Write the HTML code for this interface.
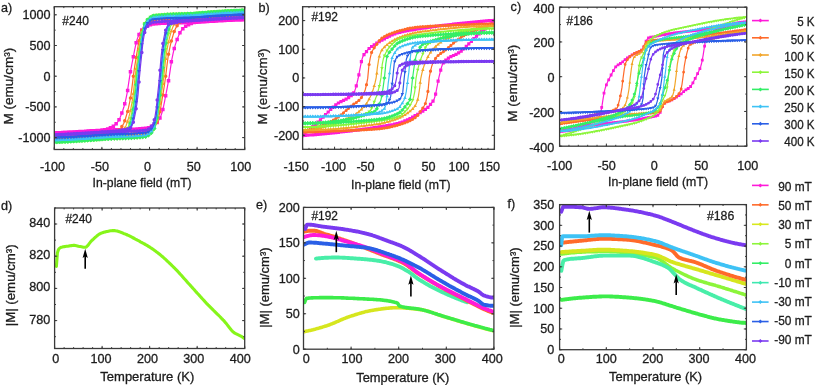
<!DOCTYPE html>
<html><head><meta charset="utf-8"><style>
html,body{margin:0;padding:0;background:#fff;width:817px;height:386px;overflow:hidden}
svg{display:block;filter:blur(0.3px)}
text{font-family:"Liberation Sans", sans-serif;stroke:#1c1c1c;stroke-width:0.3px}
</style></head><body>
<svg width="817" height="386" viewBox="0 0 817 386">
<clipPath id="ca"><rect x="54.3" y="6.7" width="190.39999999999998" height="142.8"/></clipPath>
<g clip-path="url(#ca)">
<path d="M244.7 19.5 243.5 19.6 242.3 19.6 241.1 19.6 240.0 19.7 238.8 19.7 237.6 19.8 236.4 19.8 235.2 19.9 234.0 20.0 232.8 20.0 231.7 20.1 230.5 20.1 229.3 20.2 228.1 20.3 226.9 20.3 225.7 20.4 224.5 20.5 223.4 20.5 222.2 20.6 221.0 20.7 219.8 20.8 218.6 20.8 217.4 20.9 216.2 21.0 215.1 21.0 213.9 21.1 212.7 21.2 211.5 21.3 210.3 21.3 209.1 21.4 207.9 21.5 206.8 21.5 205.6 21.6 204.4 21.7 203.2 21.8 202.0 21.8 200.8 21.9 199.7 21.9 198.5 22.0 197.3 22.1 196.1 22.1 194.9 22.2 193.7 22.2 192.5 22.3 191.4 22.3 190.2 22.4 189.0 22.4 187.8 22.4 186.6 22.5 185.4 22.5 184.2 22.5 183.1 22.6 181.9 22.6 180.7 22.6 179.5 22.7 178.3 22.7 177.1 22.7 175.9 22.8 174.8 22.8 173.6 22.9 172.4 22.9 171.2 22.9 170.0 23.0 168.8 23.0 167.6 23.1 166.5 23.1 165.3 23.2 164.1 23.3 162.9 23.3 161.7 23.4 160.5 23.5 159.3 23.6 158.2 23.7 157.0 23.7 155.8 23.8 154.6 24.0 153.4 24.1 152.2 24.3 151.0 24.6 149.9 25.0 148.7 25.5 147.5 26.1 146.3 26.7 145.1 27.3 143.9 28.1 142.7 29.1 141.6 30.3 140.4 31.9 139.2 34.1 138.0 36.9 136.8 40.4 135.6 45.3 134.4 51.1 133.3 57.0 132.1 63.0 130.9 69.4 129.7 76.2 128.5 84.2 127.3 92.2 126.1 98.1 125.0 103.0 123.8 107.3 122.6 111.0 121.4 114.3 120.2 117.2 119.0 119.7 117.9 121.6 116.7 123.1 115.5 124.5 114.3 125.5 113.1 126.3 111.9 127.0 110.7 127.6 109.6 128.1 108.4 128.6 107.2 129.1 106.0 129.5 104.8 129.8 103.6 130.1 102.4 130.3 101.3 130.4 100.1 130.5 98.9 130.6 97.7 130.8 96.5 130.9 95.3 131.0 94.1 131.1 93.0 131.2 91.8 131.3 90.6 131.3 89.4 131.4 88.2 131.5 87.0 131.6 85.8 131.7 84.7 131.7 83.5 131.8 82.3 131.9 81.1 131.9 79.9 132.0 78.7 132.0 77.5 132.1 76.4 132.2 75.2 132.2 74.0 132.3 72.8 132.3 71.6 132.3 70.4 132.4 69.2 132.4 68.1 132.5 66.9 132.5 65.7 132.5 64.5 132.6 63.3 132.6 62.1 132.6 60.9 132.7 59.8 132.7 58.6 132.7 57.4 132.8 56.2 132.8" stroke="#ff1ad9" stroke-width="1.2" fill="none"/>
<path d="M242.9 17.8h3.5v3.5h-3.5zM240.1 17.9h3.5v3.5h-3.5zM237.2 18.0h3.5v3.5h-3.5zM234.4 18.1h3.5v3.5h-3.5zM231.5 18.2h3.5v3.5h-3.5zM228.7 18.4h3.5v3.5h-3.5zM225.8 18.5h3.5v3.5h-3.5zM223.0 18.7h3.5v3.5h-3.5zM220.1 18.9h3.5v3.5h-3.5zM217.2 19.1h3.5v3.5h-3.5zM214.4 19.2h3.5v3.5h-3.5zM211.5 19.4h3.5v3.5h-3.5zM208.7 19.6h3.5v3.5h-3.5zM205.8 19.8h3.5v3.5h-3.5zM203.0 19.9h3.5v3.5h-3.5zM200.1 20.1h3.5v3.5h-3.5zM197.3 20.2h3.5v3.5h-3.5zM194.4 20.4h3.5v3.5h-3.5zM191.5 20.5h3.5v3.5h-3.5zM188.7 20.6h3.5v3.5h-3.5zM185.8 20.7h3.5v3.5h-3.5zM183.0 20.8h3.5v3.5h-3.5zM180.1 20.9h3.5v3.5h-3.5zM177.3 20.9h3.5v3.5h-3.5zM174.4 21.0h3.5v3.5h-3.5zM171.5 21.1h3.5v3.5h-3.5zM168.7 21.2h3.5v3.5h-3.5zM165.8 21.3h3.5v3.5h-3.5zM163.0 21.5h3.5v3.5h-3.5zM160.1 21.6h3.5v3.5h-3.5zM157.3 21.8h3.5v3.5h-3.5zM154.4 22.1h3.5v3.5h-3.5zM151.6 22.3h3.5v3.5h-3.5zM148.7 23.0h3.5v3.5h-3.5zM145.8 24.3h3.5v3.5h-3.5zM143.0 25.8h3.5v3.5h-3.5zM140.1 28.2h3.5v3.5h-3.5zM137.3 32.7h3.5v3.5h-3.5zM134.4 41.1h3.5v3.5h-3.5zM131.6 55.0h3.5v3.5h-3.5zM128.7 70.0h3.5v3.5h-3.5zM125.9 88.8h3.5v3.5h-3.5zM123.0 102.1h3.5v3.5h-3.5zM120.1 111.2h3.5v3.5h-3.5zM117.3 118.0h3.5v3.5h-3.5zM114.4 122.0h3.5v3.5h-3.5zM111.6 124.4h3.5v3.5h-3.5zM108.7 126.0h3.5v3.5h-3.5zM105.9 127.2h3.5v3.5h-3.5zM103.0 128.1h3.5v3.5h-3.5zM100.1 128.6h3.5v3.5h-3.5zM97.3 128.9h3.5v3.5h-3.5zM94.4 129.1h3.5v3.5h-3.5zM91.6 129.4h3.5v3.5h-3.5zM88.7 129.6h3.5v3.5h-3.5zM85.9 129.8h3.5v3.5h-3.5zM83.0 130.0h3.5v3.5h-3.5zM80.2 130.1h3.5v3.5h-3.5zM77.3 130.3h3.5v3.5h-3.5zM74.4 130.4h3.5v3.5h-3.5zM71.6 130.5h3.5v3.5h-3.5zM68.7 130.6h3.5v3.5h-3.5zM65.9 130.7h3.5v3.5h-3.5zM63.0 130.8h3.5v3.5h-3.5zM60.2 130.9h3.5v3.5h-3.5zM57.3 131.0h3.5v3.5h-3.5zM54.5 131.1h3.5v3.5h-3.5z" fill="#ff1ad9"/>
<path d="M54.3 132.9 55.5 132.8 56.7 132.8 57.9 132.8 59.0 132.7 60.2 132.7 61.4 132.6 62.6 132.6 63.8 132.5 65.0 132.4 66.2 132.4 67.3 132.3 68.5 132.3 69.7 132.2 70.9 132.1 72.1 132.1 73.3 132.0 74.5 131.9 75.6 131.9 76.8 131.8 78.0 131.7 79.2 131.6 80.4 131.6 81.6 131.5 82.8 131.4 83.9 131.4 85.1 131.3 86.3 131.2 87.5 131.1 88.7 131.1 89.9 131.0 91.1 130.9 92.2 130.9 93.4 130.8 94.6 130.7 95.8 130.6 97.0 130.6 98.2 130.5 99.3 130.5 100.5 130.4 101.7 130.3 102.9 130.3 104.1 130.2 105.3 130.2 106.5 130.1 107.6 130.1 108.8 130.0 110.0 130.0 111.2 130.0 112.4 129.9 113.6 129.9 114.8 129.9 115.9 129.8 117.1 129.8 118.3 129.8 119.5 129.7 120.7 129.7 121.9 129.7 123.1 129.6 124.2 129.6 125.4 129.5 126.6 129.5 127.8 129.5 129.0 129.4 130.2 129.4 131.4 129.3 132.5 129.3 133.7 129.2 134.9 129.1 136.1 129.1 137.3 129.0 138.5 128.9 139.7 128.8 140.8 128.7 142.0 128.7 143.2 128.6 144.4 128.4 145.6 128.3 146.8 128.1 148.0 127.8 149.1 127.4 150.3 126.9 151.5 126.3 152.7 125.7 153.9 125.1 155.1 124.3 156.3 123.3 157.4 122.1 158.6 120.5 159.8 118.3 161.0 115.5 162.2 112.0 163.4 107.1 164.6 101.3 165.7 95.4 166.9 89.4 168.1 83.0 169.3 76.2 170.5 68.2 171.7 60.2 172.9 54.3 174.0 49.4 175.2 45.1 176.4 41.4 177.6 38.1 178.8 35.2 180.0 32.7 181.1 30.8 182.3 29.3 183.5 27.9 184.7 26.9 185.9 26.1 187.1 25.4 188.3 24.8 189.4 24.3 190.6 23.8 191.8 23.3 193.0 22.9 194.2 22.6 195.4 22.3 196.6 22.1 197.7 22.0 198.9 21.9 200.1 21.8 201.3 21.6 202.5 21.5 203.7 21.4 204.9 21.3 206.0 21.2 207.2 21.1 208.4 21.1 209.6 21.0 210.8 20.9 212.0 20.8 213.2 20.7 214.3 20.7 215.5 20.6 216.7 20.5 217.9 20.5 219.1 20.4 220.3 20.4 221.5 20.3 222.6 20.2 223.8 20.2 225.0 20.1 226.2 20.1 227.4 20.1 228.6 20.0 229.8 20.0 230.9 19.9 232.1 19.9 233.3 19.9 234.5 19.8 235.7 19.8 236.9 19.8 238.1 19.7 239.2 19.7 240.4 19.7 241.6 19.6 242.8 19.6" stroke="#ff1ad9" stroke-width="1.2" fill="none"/>
<path d="M52.5 131.1h3.5v3.5h-3.5zM55.4 131.0h3.5v3.5h-3.5zM58.3 130.9h3.5v3.5h-3.5zM61.1 130.8h3.5v3.5h-3.5zM64.0 130.7h3.5v3.5h-3.5zM66.8 130.5h3.5v3.5h-3.5zM69.7 130.4h3.5v3.5h-3.5zM72.5 130.2h3.5v3.5h-3.5zM75.4 130.0h3.5v3.5h-3.5zM78.3 129.8h3.5v3.5h-3.5zM81.1 129.7h3.5v3.5h-3.5zM84.0 129.5h3.5v3.5h-3.5zM86.8 129.3h3.5v3.5h-3.5zM89.7 129.1h3.5v3.5h-3.5zM92.5 129.0h3.5v3.5h-3.5zM95.4 128.8h3.5v3.5h-3.5zM98.2 128.7h3.5v3.5h-3.5zM101.1 128.5h3.5v3.5h-3.5zM104.0 128.4h3.5v3.5h-3.5zM106.8 128.3h3.5v3.5h-3.5zM109.7 128.2h3.5v3.5h-3.5zM112.5 128.1h3.5v3.5h-3.5zM115.4 128.0h3.5v3.5h-3.5zM118.2 128.0h3.5v3.5h-3.5zM121.1 127.9h3.5v3.5h-3.5zM123.9 127.8h3.5v3.5h-3.5zM126.8 127.7h3.5v3.5h-3.5zM129.7 127.6h3.5v3.5h-3.5zM132.5 127.4h3.5v3.5h-3.5zM135.4 127.3h3.5v3.5h-3.5zM138.2 127.1h3.5v3.5h-3.5zM141.1 126.8h3.5v3.5h-3.5zM143.9 126.6h3.5v3.5h-3.5zM146.8 125.9h3.5v3.5h-3.5zM149.7 124.6h3.5v3.5h-3.5zM152.5 123.1h3.5v3.5h-3.5zM155.4 120.7h3.5v3.5h-3.5zM158.2 116.2h3.5v3.5h-3.5zM161.1 107.8h3.5v3.5h-3.5zM163.9 93.9h3.5v3.5h-3.5zM166.8 78.9h3.5v3.5h-3.5zM169.6 60.1h3.5v3.5h-3.5zM172.5 46.8h3.5v3.5h-3.5zM175.4 37.7h3.5v3.5h-3.5zM178.2 30.9h3.5v3.5h-3.5zM181.1 26.9h3.5v3.5h-3.5zM183.9 24.5h3.5v3.5h-3.5zM186.8 22.9h3.5v3.5h-3.5zM189.6 21.7h3.5v3.5h-3.5zM192.5 20.8h3.5v3.5h-3.5zM195.3 20.3h3.5v3.5h-3.5zM198.2 20.0h3.5v3.5h-3.5zM201.1 19.8h3.5v3.5h-3.5zM203.9 19.5h3.5v3.5h-3.5zM206.8 19.3h3.5v3.5h-3.5zM209.6 19.1h3.5v3.5h-3.5zM212.5 18.9h3.5v3.5h-3.5zM215.3 18.8h3.5v3.5h-3.5zM218.2 18.6h3.5v3.5h-3.5zM221.1 18.5h3.5v3.5h-3.5zM223.9 18.4h3.5v3.5h-3.5zM226.8 18.3h3.5v3.5h-3.5zM229.6 18.2h3.5v3.5h-3.5zM232.5 18.1h3.5v3.5h-3.5zM235.3 18.0h3.5v3.5h-3.5zM238.2 17.9h3.5v3.5h-3.5zM241.0 17.8h3.5v3.5h-3.5z" fill="#ff1ad9"/>
<path d="M244.7 14.8 243.5 14.8 242.3 14.9 241.1 14.9 240.0 15.0 238.8 15.0 237.6 15.1 236.4 15.1 235.2 15.2 234.0 15.3 232.8 15.3 231.7 15.4 230.5 15.5 229.3 15.5 228.1 15.6 226.9 15.7 225.7 15.7 224.5 15.8 223.4 15.9 222.2 16.0 221.0 16.0 219.8 16.1 218.6 16.2 217.4 16.3 216.2 16.4 215.1 16.4 213.9 16.5 212.7 16.6 211.5 16.7 210.3 16.8 209.1 16.8 207.9 16.9 206.8 17.0 205.6 17.1 204.4 17.1 203.2 17.2 202.0 17.3 200.8 17.4 199.7 17.4 198.5 17.5 197.3 17.6 196.1 17.6 194.9 17.7 193.7 17.7 192.5 17.8 191.4 17.8 190.2 17.9 189.0 17.9 187.8 18.0 186.6 18.0 185.4 18.0 184.2 18.1 183.1 18.1 181.9 18.1 180.7 18.2 179.5 18.2 178.3 18.2 177.1 18.3 175.9 18.3 174.8 18.4 173.6 18.4 172.4 18.5 171.2 18.5 170.0 18.6 168.8 18.6 167.6 18.7 166.5 18.7 165.3 18.8 164.1 18.9 162.9 19.0 161.7 19.1 160.5 19.2 159.3 19.3 158.2 19.4 157.0 19.5 155.8 19.6 154.6 19.7 153.4 20.0 152.2 20.4 151.0 20.9 149.9 21.6 148.7 22.3 147.5 23.0 146.3 24.0 145.1 25.1 143.9 26.6 142.7 28.6 141.6 31.4 140.4 35.0 139.2 39.9 138.0 46.5 136.8 53.7 135.6 60.8 134.4 68.4 133.3 76.6 132.1 86.4 130.9 95.6 129.7 102.1 128.5 107.7 127.3 112.4 126.1 116.5 125.0 120.2 123.8 123.2 122.6 125.5 121.4 127.4 120.2 129.0 119.0 130.1 117.9 130.7 116.7 131.2 115.5 131.7 114.3 132.2 113.1 132.6 111.9 133.0 110.7 133.3 109.6 133.6 108.4 133.9 107.2 134.1 106.0 134.3 104.8 134.5 103.6 134.6 102.4 134.8 101.3 134.9 100.1 135.0 98.9 135.1 97.7 135.3 96.5 135.4 95.3 135.5 94.1 135.6 93.0 135.7 91.8 135.8 90.6 135.9 89.4 136.0 88.2 136.0 87.0 136.1 85.8 136.2 84.7 136.3 83.5 136.4 82.3 136.4 81.1 136.5 79.9 136.6 78.7 136.6 77.5 136.7 76.4 136.8 75.2 136.8 74.0 136.9 72.8 136.9 71.6 137.0 70.4 137.0 69.2 137.1 68.1 137.1 66.9 137.2 65.7 137.2 64.5 137.3 63.3 137.3 62.1 137.3 60.9 137.4 59.8 137.4 58.6 137.5 57.4 137.5 56.2 137.5" stroke="#ff6a2a" stroke-width="1.2" fill="none"/>
<path d="M242.9 14.8a1.75 1.75 0 1 0 3.5 0a1.75 1.75 0 1 0 -3.5 0zM240.1 14.9a1.75 1.75 0 1 0 3.5 0a1.75 1.75 0 1 0 -3.5 0zM237.2 15.0a1.75 1.75 0 1 0 3.5 0a1.75 1.75 0 1 0 -3.5 0zM234.4 15.2a1.75 1.75 0 1 0 3.5 0a1.75 1.75 0 1 0 -3.5 0zM231.5 15.3a1.75 1.75 0 1 0 3.5 0a1.75 1.75 0 1 0 -3.5 0zM228.7 15.5a1.75 1.75 0 1 0 3.5 0a1.75 1.75 0 1 0 -3.5 0zM225.8 15.6a1.75 1.75 0 1 0 3.5 0a1.75 1.75 0 1 0 -3.5 0zM223.0 15.8a1.75 1.75 0 1 0 3.5 0a1.75 1.75 0 1 0 -3.5 0zM220.1 16.0a1.75 1.75 0 1 0 3.5 0a1.75 1.75 0 1 0 -3.5 0zM217.2 16.2a1.75 1.75 0 1 0 3.5 0a1.75 1.75 0 1 0 -3.5 0zM214.4 16.4a1.75 1.75 0 1 0 3.5 0a1.75 1.75 0 1 0 -3.5 0zM211.5 16.6a1.75 1.75 0 1 0 3.5 0a1.75 1.75 0 1 0 -3.5 0zM208.7 16.7a1.75 1.75 0 1 0 3.5 0a1.75 1.75 0 1 0 -3.5 0zM205.8 16.9a1.75 1.75 0 1 0 3.5 0a1.75 1.75 0 1 0 -3.5 0zM203.0 17.1a1.75 1.75 0 1 0 3.5 0a1.75 1.75 0 1 0 -3.5 0zM200.1 17.3a1.75 1.75 0 1 0 3.5 0a1.75 1.75 0 1 0 -3.5 0zM197.3 17.5a1.75 1.75 0 1 0 3.5 0a1.75 1.75 0 1 0 -3.5 0zM194.4 17.6a1.75 1.75 0 1 0 3.5 0a1.75 1.75 0 1 0 -3.5 0zM191.5 17.7a1.75 1.75 0 1 0 3.5 0a1.75 1.75 0 1 0 -3.5 0zM188.7 17.9a1.75 1.75 0 1 0 3.5 0a1.75 1.75 0 1 0 -3.5 0zM185.8 18.0a1.75 1.75 0 1 0 3.5 0a1.75 1.75 0 1 0 -3.5 0zM183.0 18.1a1.75 1.75 0 1 0 3.5 0a1.75 1.75 0 1 0 -3.5 0zM180.1 18.1a1.75 1.75 0 1 0 3.5 0a1.75 1.75 0 1 0 -3.5 0zM177.3 18.2a1.75 1.75 0 1 0 3.5 0a1.75 1.75 0 1 0 -3.5 0zM174.4 18.3a1.75 1.75 0 1 0 3.5 0a1.75 1.75 0 1 0 -3.5 0zM171.5 18.4a1.75 1.75 0 1 0 3.5 0a1.75 1.75 0 1 0 -3.5 0zM168.7 18.5a1.75 1.75 0 1 0 3.5 0a1.75 1.75 0 1 0 -3.5 0zM165.8 18.7a1.75 1.75 0 1 0 3.5 0a1.75 1.75 0 1 0 -3.5 0zM163.0 18.8a1.75 1.75 0 1 0 3.5 0a1.75 1.75 0 1 0 -3.5 0zM160.1 19.0a1.75 1.75 0 1 0 3.5 0a1.75 1.75 0 1 0 -3.5 0zM157.3 19.3a1.75 1.75 0 1 0 3.5 0a1.75 1.75 0 1 0 -3.5 0zM154.4 19.6a1.75 1.75 0 1 0 3.5 0a1.75 1.75 0 1 0 -3.5 0zM151.6 20.0a1.75 1.75 0 1 0 3.5 0a1.75 1.75 0 1 0 -3.5 0zM148.7 21.2a1.75 1.75 0 1 0 3.5 0a1.75 1.75 0 1 0 -3.5 0zM145.8 23.0a1.75 1.75 0 1 0 3.5 0a1.75 1.75 0 1 0 -3.5 0zM143.0 25.6a1.75 1.75 0 1 0 3.5 0a1.75 1.75 0 1 0 -3.5 0zM140.1 30.5a1.75 1.75 0 1 0 3.5 0a1.75 1.75 0 1 0 -3.5 0zM137.3 40.7a1.75 1.75 0 1 0 3.5 0a1.75 1.75 0 1 0 -3.5 0zM134.4 57.5a1.75 1.75 0 1 0 3.5 0a1.75 1.75 0 1 0 -3.5 0zM131.6 76.2a1.75 1.75 0 1 0 3.5 0a1.75 1.75 0 1 0 -3.5 0zM128.7 98.1a1.75 1.75 0 1 0 3.5 0a1.75 1.75 0 1 0 -3.5 0zM125.9 111.4a1.75 1.75 0 1 0 3.5 0a1.75 1.75 0 1 0 -3.5 0zM123.0 120.8a1.75 1.75 0 1 0 3.5 0a1.75 1.75 0 1 0 -3.5 0zM120.1 126.6a1.75 1.75 0 1 0 3.5 0a1.75 1.75 0 1 0 -3.5 0zM117.3 130.1a1.75 1.75 0 1 0 3.5 0a1.75 1.75 0 1 0 -3.5 0zM114.4 131.4a1.75 1.75 0 1 0 3.5 0a1.75 1.75 0 1 0 -3.5 0zM111.6 132.5a1.75 1.75 0 1 0 3.5 0a1.75 1.75 0 1 0 -3.5 0zM108.7 133.4a1.75 1.75 0 1 0 3.5 0a1.75 1.75 0 1 0 -3.5 0zM105.9 134.0a1.75 1.75 0 1 0 3.5 0a1.75 1.75 0 1 0 -3.5 0zM103.0 134.5a1.75 1.75 0 1 0 3.5 0a1.75 1.75 0 1 0 -3.5 0zM100.1 134.8a1.75 1.75 0 1 0 3.5 0a1.75 1.75 0 1 0 -3.5 0zM97.3 135.1a1.75 1.75 0 1 0 3.5 0a1.75 1.75 0 1 0 -3.5 0zM94.4 135.4a1.75 1.75 0 1 0 3.5 0a1.75 1.75 0 1 0 -3.5 0zM91.6 135.6a1.75 1.75 0 1 0 3.5 0a1.75 1.75 0 1 0 -3.5 0zM88.7 135.9a1.75 1.75 0 1 0 3.5 0a1.75 1.75 0 1 0 -3.5 0zM85.9 136.1a1.75 1.75 0 1 0 3.5 0a1.75 1.75 0 1 0 -3.5 0zM83.0 136.3a1.75 1.75 0 1 0 3.5 0a1.75 1.75 0 1 0 -3.5 0zM80.2 136.5a1.75 1.75 0 1 0 3.5 0a1.75 1.75 0 1 0 -3.5 0zM77.3 136.6a1.75 1.75 0 1 0 3.5 0a1.75 1.75 0 1 0 -3.5 0zM74.4 136.8a1.75 1.75 0 1 0 3.5 0a1.75 1.75 0 1 0 -3.5 0zM71.6 136.9a1.75 1.75 0 1 0 3.5 0a1.75 1.75 0 1 0 -3.5 0zM68.7 137.0a1.75 1.75 0 1 0 3.5 0a1.75 1.75 0 1 0 -3.5 0zM65.9 137.1a1.75 1.75 0 1 0 3.5 0a1.75 1.75 0 1 0 -3.5 0zM63.0 137.2a1.75 1.75 0 1 0 3.5 0a1.75 1.75 0 1 0 -3.5 0zM60.2 137.3a1.75 1.75 0 1 0 3.5 0a1.75 1.75 0 1 0 -3.5 0zM57.3 137.4a1.75 1.75 0 1 0 3.5 0a1.75 1.75 0 1 0 -3.5 0zM54.5 137.5a1.75 1.75 0 1 0 3.5 0a1.75 1.75 0 1 0 -3.5 0z" fill="#ff6a2a"/>
<path d="M54.3 137.6 55.5 137.6 56.7 137.5 57.9 137.5 59.0 137.4 60.2 137.4 61.4 137.3 62.6 137.3 63.8 137.2 65.0 137.1 66.2 137.1 67.3 137.0 68.5 136.9 69.7 136.9 70.9 136.8 72.1 136.7 73.3 136.7 74.5 136.6 75.6 136.5 76.8 136.4 78.0 136.4 79.2 136.3 80.4 136.2 81.6 136.1 82.8 136.0 83.9 136.0 85.1 135.9 86.3 135.8 87.5 135.7 88.7 135.6 89.9 135.6 91.1 135.5 92.2 135.4 93.4 135.3 94.6 135.3 95.8 135.2 97.0 135.1 98.2 135.0 99.3 135.0 100.5 134.9 101.7 134.8 102.9 134.8 104.1 134.7 105.3 134.7 106.5 134.6 107.6 134.6 108.8 134.5 110.0 134.5 111.2 134.4 112.4 134.4 113.6 134.4 114.8 134.3 115.9 134.3 117.1 134.3 118.3 134.2 119.5 134.2 120.7 134.2 121.9 134.1 123.1 134.1 124.2 134.0 125.4 134.0 126.6 133.9 127.8 133.9 129.0 133.8 130.2 133.8 131.4 133.7 132.5 133.7 133.7 133.6 134.9 133.5 136.1 133.4 137.3 133.3 138.5 133.2 139.7 133.1 140.8 133.0 142.0 132.9 143.2 132.8 144.4 132.7 145.6 132.4 146.8 132.0 148.0 131.5 149.1 130.8 150.3 130.1 151.5 129.4 152.7 128.4 153.9 127.3 155.1 125.8 156.3 123.8 157.4 121.0 158.6 117.4 159.8 112.5 161.0 105.9 162.2 98.7 163.4 91.6 164.6 84.0 165.7 75.8 166.9 66.0 168.1 56.8 169.3 50.3 170.5 44.7 171.7 40.0 172.9 35.9 174.0 32.2 175.2 29.2 176.4 26.9 177.6 25.0 178.8 23.4 180.0 22.3 181.1 21.7 182.3 21.2 183.5 20.7 184.7 20.2 185.9 19.8 187.1 19.4 188.3 19.1 189.4 18.8 190.6 18.5 191.8 18.3 193.0 18.1 194.2 17.9 195.4 17.8 196.6 17.6 197.7 17.5 198.9 17.4 200.1 17.3 201.3 17.1 202.5 17.0 203.7 16.9 204.9 16.8 206.0 16.7 207.2 16.6 208.4 16.5 209.6 16.4 210.8 16.4 212.0 16.3 213.2 16.2 214.3 16.1 215.5 16.0 216.7 16.0 217.9 15.9 219.1 15.8 220.3 15.8 221.5 15.7 222.6 15.6 223.8 15.6 225.0 15.5 226.2 15.5 227.4 15.4 228.6 15.4 229.8 15.3 230.9 15.3 232.1 15.2 233.3 15.2 234.5 15.1 235.7 15.1 236.9 15.1 238.1 15.0 239.2 15.0 240.4 14.9 241.6 14.9 242.8 14.9" stroke="#ff6a2a" stroke-width="1.2" fill="none"/>
<path d="M52.5 137.6a1.75 1.75 0 1 0 3.5 0a1.75 1.75 0 1 0 -3.5 0zM55.4 137.5a1.75 1.75 0 1 0 3.5 0a1.75 1.75 0 1 0 -3.5 0zM58.3 137.4a1.75 1.75 0 1 0 3.5 0a1.75 1.75 0 1 0 -3.5 0zM61.1 137.2a1.75 1.75 0 1 0 3.5 0a1.75 1.75 0 1 0 -3.5 0zM64.0 137.1a1.75 1.75 0 1 0 3.5 0a1.75 1.75 0 1 0 -3.5 0zM66.8 136.9a1.75 1.75 0 1 0 3.5 0a1.75 1.75 0 1 0 -3.5 0zM69.7 136.8a1.75 1.75 0 1 0 3.5 0a1.75 1.75 0 1 0 -3.5 0zM72.5 136.6a1.75 1.75 0 1 0 3.5 0a1.75 1.75 0 1 0 -3.5 0zM75.4 136.4a1.75 1.75 0 1 0 3.5 0a1.75 1.75 0 1 0 -3.5 0zM78.3 136.2a1.75 1.75 0 1 0 3.5 0a1.75 1.75 0 1 0 -3.5 0zM81.1 136.0a1.75 1.75 0 1 0 3.5 0a1.75 1.75 0 1 0 -3.5 0zM84.0 135.8a1.75 1.75 0 1 0 3.5 0a1.75 1.75 0 1 0 -3.5 0zM86.8 135.7a1.75 1.75 0 1 0 3.5 0a1.75 1.75 0 1 0 -3.5 0zM89.7 135.5a1.75 1.75 0 1 0 3.5 0a1.75 1.75 0 1 0 -3.5 0zM92.5 135.3a1.75 1.75 0 1 0 3.5 0a1.75 1.75 0 1 0 -3.5 0zM95.4 135.1a1.75 1.75 0 1 0 3.5 0a1.75 1.75 0 1 0 -3.5 0zM98.2 134.9a1.75 1.75 0 1 0 3.5 0a1.75 1.75 0 1 0 -3.5 0zM101.1 134.8a1.75 1.75 0 1 0 3.5 0a1.75 1.75 0 1 0 -3.5 0zM104.0 134.7a1.75 1.75 0 1 0 3.5 0a1.75 1.75 0 1 0 -3.5 0zM106.8 134.5a1.75 1.75 0 1 0 3.5 0a1.75 1.75 0 1 0 -3.5 0zM109.7 134.4a1.75 1.75 0 1 0 3.5 0a1.75 1.75 0 1 0 -3.5 0zM112.5 134.3a1.75 1.75 0 1 0 3.5 0a1.75 1.75 0 1 0 -3.5 0zM115.4 134.3a1.75 1.75 0 1 0 3.5 0a1.75 1.75 0 1 0 -3.5 0zM118.2 134.2a1.75 1.75 0 1 0 3.5 0a1.75 1.75 0 1 0 -3.5 0zM121.1 134.1a1.75 1.75 0 1 0 3.5 0a1.75 1.75 0 1 0 -3.5 0zM123.9 134.0a1.75 1.75 0 1 0 3.5 0a1.75 1.75 0 1 0 -3.5 0zM126.8 133.9a1.75 1.75 0 1 0 3.5 0a1.75 1.75 0 1 0 -3.5 0zM129.7 133.7a1.75 1.75 0 1 0 3.5 0a1.75 1.75 0 1 0 -3.5 0zM132.5 133.6a1.75 1.75 0 1 0 3.5 0a1.75 1.75 0 1 0 -3.5 0zM135.4 133.4a1.75 1.75 0 1 0 3.5 0a1.75 1.75 0 1 0 -3.5 0zM138.2 133.1a1.75 1.75 0 1 0 3.5 0a1.75 1.75 0 1 0 -3.5 0zM141.1 132.8a1.75 1.75 0 1 0 3.5 0a1.75 1.75 0 1 0 -3.5 0zM143.9 132.4a1.75 1.75 0 1 0 3.5 0a1.75 1.75 0 1 0 -3.5 0zM146.8 131.2a1.75 1.75 0 1 0 3.5 0a1.75 1.75 0 1 0 -3.5 0zM149.7 129.4a1.75 1.75 0 1 0 3.5 0a1.75 1.75 0 1 0 -3.5 0zM152.5 126.8a1.75 1.75 0 1 0 3.5 0a1.75 1.75 0 1 0 -3.5 0zM155.4 121.9a1.75 1.75 0 1 0 3.5 0a1.75 1.75 0 1 0 -3.5 0zM158.2 111.7a1.75 1.75 0 1 0 3.5 0a1.75 1.75 0 1 0 -3.5 0zM161.1 94.9a1.75 1.75 0 1 0 3.5 0a1.75 1.75 0 1 0 -3.5 0zM163.9 76.2a1.75 1.75 0 1 0 3.5 0a1.75 1.75 0 1 0 -3.5 0zM166.8 54.3a1.75 1.75 0 1 0 3.5 0a1.75 1.75 0 1 0 -3.5 0zM169.6 41.0a1.75 1.75 0 1 0 3.5 0a1.75 1.75 0 1 0 -3.5 0zM172.5 31.6a1.75 1.75 0 1 0 3.5 0a1.75 1.75 0 1 0 -3.5 0zM175.4 25.8a1.75 1.75 0 1 0 3.5 0a1.75 1.75 0 1 0 -3.5 0zM178.2 22.3a1.75 1.75 0 1 0 3.5 0a1.75 1.75 0 1 0 -3.5 0zM181.1 21.0a1.75 1.75 0 1 0 3.5 0a1.75 1.75 0 1 0 -3.5 0zM183.9 19.9a1.75 1.75 0 1 0 3.5 0a1.75 1.75 0 1 0 -3.5 0zM186.8 19.0a1.75 1.75 0 1 0 3.5 0a1.75 1.75 0 1 0 -3.5 0zM189.6 18.4a1.75 1.75 0 1 0 3.5 0a1.75 1.75 0 1 0 -3.5 0zM192.5 17.9a1.75 1.75 0 1 0 3.5 0a1.75 1.75 0 1 0 -3.5 0zM195.3 17.6a1.75 1.75 0 1 0 3.5 0a1.75 1.75 0 1 0 -3.5 0zM198.2 17.3a1.75 1.75 0 1 0 3.5 0a1.75 1.75 0 1 0 -3.5 0zM201.1 17.0a1.75 1.75 0 1 0 3.5 0a1.75 1.75 0 1 0 -3.5 0zM203.9 16.8a1.75 1.75 0 1 0 3.5 0a1.75 1.75 0 1 0 -3.5 0zM206.8 16.5a1.75 1.75 0 1 0 3.5 0a1.75 1.75 0 1 0 -3.5 0zM209.6 16.3a1.75 1.75 0 1 0 3.5 0a1.75 1.75 0 1 0 -3.5 0zM212.5 16.1a1.75 1.75 0 1 0 3.5 0a1.75 1.75 0 1 0 -3.5 0zM215.3 15.9a1.75 1.75 0 1 0 3.5 0a1.75 1.75 0 1 0 -3.5 0zM218.2 15.8a1.75 1.75 0 1 0 3.5 0a1.75 1.75 0 1 0 -3.5 0zM221.1 15.6a1.75 1.75 0 1 0 3.5 0a1.75 1.75 0 1 0 -3.5 0zM223.9 15.5a1.75 1.75 0 1 0 3.5 0a1.75 1.75 0 1 0 -3.5 0zM226.8 15.4a1.75 1.75 0 1 0 3.5 0a1.75 1.75 0 1 0 -3.5 0zM229.6 15.3a1.75 1.75 0 1 0 3.5 0a1.75 1.75 0 1 0 -3.5 0zM232.5 15.2a1.75 1.75 0 1 0 3.5 0a1.75 1.75 0 1 0 -3.5 0zM235.3 15.1a1.75 1.75 0 1 0 3.5 0a1.75 1.75 0 1 0 -3.5 0zM238.2 15.0a1.75 1.75 0 1 0 3.5 0a1.75 1.75 0 1 0 -3.5 0zM241.0 14.9a1.75 1.75 0 1 0 3.5 0a1.75 1.75 0 1 0 -3.5 0z" fill="#ff6a2a"/>
<path d="M244.7 13.0 243.5 13.0 242.3 13.0 241.1 13.1 240.0 13.1 238.8 13.2 237.6 13.2 236.4 13.3 235.2 13.4 234.0 13.4 232.8 13.5 231.7 13.6 230.5 13.6 229.3 13.7 228.1 13.8 226.9 13.8 225.7 13.9 224.5 14.0 223.4 14.1 222.2 14.2 221.0 14.2 219.8 14.3 218.6 14.4 217.4 14.5 216.2 14.6 215.1 14.6 213.9 14.7 212.7 14.8 211.5 14.9 210.3 15.0 209.1 15.1 207.9 15.1 206.8 15.2 205.6 15.3 204.4 15.4 203.2 15.4 202.0 15.5 200.8 15.6 199.7 15.7 198.5 15.7 197.3 15.8 196.1 15.9 194.9 15.9 193.7 16.0 192.5 16.0 191.4 16.1 190.2 16.1 189.0 16.2 187.8 16.2 186.6 16.2 185.4 16.3 184.2 16.3 183.1 16.4 181.9 16.4 180.7 16.4 179.5 16.5 178.3 16.5 177.1 16.5 175.9 16.6 174.8 16.6 173.6 16.7 172.4 16.7 171.2 16.8 170.0 16.8 168.8 16.9 167.6 16.9 166.5 17.0 165.3 17.1 164.1 17.2 162.9 17.2 161.7 17.3 160.5 17.4 159.3 17.5 158.2 17.6 157.0 17.8 155.8 17.9 154.6 18.0 153.4 18.3 152.2 18.8 151.0 19.5 149.9 20.2 148.7 21.0 147.5 22.0 146.3 23.2 145.1 24.8 143.9 26.9 142.7 30.0 141.6 34.1 140.4 39.9 139.2 47.7 138.0 55.7 136.8 64.0 135.6 72.9 134.4 83.2 133.3 94.2 132.1 102.0 130.9 108.4 129.7 113.8 128.5 118.4 127.3 122.3 126.1 125.5 125.0 127.9 123.8 129.9 122.6 131.4 121.4 132.1 120.2 132.6 119.0 133.1 117.9 133.6 116.7 134.0 115.5 134.3 114.3 134.6 113.1 134.9 111.9 135.2 110.7 135.4 109.6 135.6 108.4 135.8 107.2 136.0 106.0 136.1 104.8 136.3 103.6 136.4 102.4 136.5 101.3 136.7 100.1 136.8 98.9 136.9 97.7 137.0 96.5 137.1 95.3 137.2 94.1 137.3 93.0 137.4 91.8 137.5 90.6 137.6 89.4 137.7 88.2 137.8 87.0 137.9 85.8 138.0 84.7 138.0 83.5 138.1 82.3 138.2 81.1 138.3 79.9 138.3 78.7 138.4 77.5 138.5 76.4 138.5 75.2 138.6 74.0 138.7 72.8 138.7 71.6 138.8 70.4 138.8 69.2 138.9 68.1 138.9 66.9 139.0 65.7 139.0 64.5 139.1 63.3 139.1 62.1 139.2 60.9 139.2 59.8 139.3 58.6 139.3 57.4 139.3 56.2 139.4" stroke="#f2a52a" stroke-width="1.2" fill="none"/>
<path d="M244.7 10.9l1.9 3.3h-3.9zM241.8 11.0l1.9 3.3h-3.9zM239.0 11.2l1.9 3.3h-3.9zM236.1 11.3l1.9 3.3h-3.9zM233.3 11.5l1.9 3.3h-3.9zM230.4 11.6l1.9 3.3h-3.9zM227.6 11.8l1.9 3.3h-3.9zM224.7 12.0l1.9 3.3h-3.9zM221.9 12.2l1.9 3.3h-3.9zM219.0 12.4l1.9 3.3h-3.9zM216.1 12.6l1.9 3.3h-3.9zM213.3 12.8l1.9 3.3h-3.9zM210.4 13.0l1.9 3.3h-3.9zM207.6 13.1l1.9 3.3h-3.9zM204.7 13.3l1.9 3.3h-3.9zM201.9 13.5l1.9 3.3h-3.9zM199.0 13.7l1.9 3.3h-3.9zM196.1 13.8l1.9 3.3h-3.9zM193.3 14.0l1.9 3.3h-3.9zM190.4 14.1l1.9 3.3h-3.9zM187.6 14.2l1.9 3.3h-3.9zM184.7 14.3l1.9 3.3h-3.9zM181.9 14.4l1.9 3.3h-3.9zM179.0 14.5l1.9 3.3h-3.9zM176.2 14.6l1.9 3.3h-3.9zM173.3 14.7l1.9 3.3h-3.9zM170.4 14.8l1.9 3.3h-3.9zM167.6 14.9l1.9 3.3h-3.9zM164.7 15.1l1.9 3.3h-3.9zM161.9 15.3l1.9 3.3h-3.9zM159.0 15.6l1.9 3.3h-3.9zM156.2 15.8l1.9 3.3h-3.9zM153.3 16.3l1.9 3.3h-3.9zM150.5 17.8l1.9 3.3h-3.9zM147.6 19.9l1.9 3.3h-3.9zM144.7 23.3l1.9 3.3h-3.9zM141.9 30.9l1.9 3.3h-3.9zM139.0 46.8l1.9 3.3h-3.9zM136.2 66.8l1.9 3.3h-3.9zM133.3 91.8l1.9 3.3h-3.9zM130.5 108.5l1.9 3.3h-3.9zM127.6 119.5l1.9 3.3h-3.9zM124.7 126.3l1.9 3.3h-3.9zM121.9 129.9l1.9 3.3h-3.9zM119.0 131.1l1.9 3.3h-3.9zM116.2 132.1l1.9 3.3h-3.9zM113.3 132.9l1.9 3.3h-3.9zM110.5 133.5l1.9 3.3h-3.9zM107.6 133.9l1.9 3.3h-3.9zM104.8 134.3l1.9 3.3h-3.9zM101.9 134.6l1.9 3.3h-3.9zM99.0 134.9l1.9 3.3h-3.9zM96.2 135.1l1.9 3.3h-3.9zM93.3 135.4l1.9 3.3h-3.9zM90.5 135.6l1.9 3.3h-3.9zM87.6 135.8l1.9 3.3h-3.9zM84.8 136.0l1.9 3.3h-3.9zM81.9 136.2l1.9 3.3h-3.9zM79.1 136.4l1.9 3.3h-3.9zM76.2 136.5l1.9 3.3h-3.9zM73.3 136.7l1.9 3.3h-3.9zM70.5 136.8l1.9 3.3h-3.9zM67.6 136.9l1.9 3.3h-3.9zM64.8 137.1l1.9 3.3h-3.9zM61.9 137.2l1.9 3.3h-3.9zM59.1 137.3l1.9 3.3h-3.9zM56.2 137.4l1.9 3.3h-3.9z" fill="#f2a52a"/>
<path d="M54.3 139.4 55.5 139.4 56.7 139.4 57.9 139.3 59.0 139.3 60.2 139.2 61.4 139.2 62.6 139.1 63.8 139.0 65.0 139.0 66.2 138.9 67.3 138.8 68.5 138.8 69.7 138.7 70.9 138.6 72.1 138.6 73.3 138.5 74.5 138.4 75.6 138.3 76.8 138.2 78.0 138.2 79.2 138.1 80.4 138.0 81.6 137.9 82.8 137.8 83.9 137.8 85.1 137.7 86.3 137.6 87.5 137.5 88.7 137.4 89.9 137.3 91.1 137.3 92.2 137.2 93.4 137.1 94.6 137.0 95.8 137.0 97.0 136.9 98.2 136.8 99.3 136.7 100.5 136.7 101.7 136.6 102.9 136.5 104.1 136.5 105.3 136.4 106.5 136.4 107.6 136.3 108.8 136.3 110.0 136.2 111.2 136.2 112.4 136.2 113.6 136.1 114.8 136.1 115.9 136.0 117.1 136.0 118.3 136.0 119.5 135.9 120.7 135.9 121.9 135.9 123.1 135.8 124.2 135.8 125.4 135.7 126.6 135.7 127.8 135.6 129.0 135.6 130.2 135.5 131.4 135.5 132.5 135.4 133.7 135.3 134.9 135.2 136.1 135.2 137.3 135.1 138.5 135.0 139.7 134.9 140.8 134.8 142.0 134.6 143.2 134.5 144.4 134.4 145.6 134.1 146.8 133.6 148.0 132.9 149.1 132.2 150.3 131.4 151.5 130.4 152.7 129.2 153.9 127.6 155.1 125.5 156.3 122.4 157.4 118.3 158.6 112.5 159.8 104.7 161.0 96.7 162.2 88.4 163.4 79.5 164.6 69.2 165.7 58.2 166.9 50.4 168.1 44.0 169.3 38.6 170.5 34.0 171.7 30.1 172.9 26.9 174.0 24.5 175.2 22.5 176.4 21.0 177.6 20.3 178.8 19.8 180.0 19.3 181.1 18.8 182.3 18.4 183.5 18.1 184.7 17.8 185.9 17.5 187.1 17.2 188.3 17.0 189.4 16.8 190.6 16.6 191.8 16.4 193.0 16.3 194.2 16.1 195.4 16.0 196.6 15.9 197.7 15.7 198.9 15.6 200.1 15.5 201.3 15.4 202.5 15.3 203.7 15.2 204.9 15.1 206.0 15.0 207.2 14.9 208.4 14.8 209.6 14.7 210.8 14.6 212.0 14.5 213.2 14.4 214.3 14.4 215.5 14.3 216.7 14.2 217.9 14.1 219.1 14.1 220.3 14.0 221.5 13.9 222.6 13.9 223.8 13.8 225.0 13.7 226.2 13.7 227.4 13.6 228.6 13.6 229.8 13.5 230.9 13.5 232.1 13.4 233.3 13.4 234.5 13.3 235.7 13.3 236.9 13.2 238.1 13.2 239.2 13.1 240.4 13.1 241.6 13.1 242.8 13.0" stroke="#f2a52a" stroke-width="1.2" fill="none"/>
<path d="M54.3 137.4l1.9 3.3h-3.9zM57.2 137.3l1.9 3.3h-3.9zM60.0 137.2l1.9 3.3h-3.9zM62.9 137.1l1.9 3.3h-3.9zM65.7 136.9l1.9 3.3h-3.9zM68.6 136.8l1.9 3.3h-3.9zM71.4 136.6l1.9 3.3h-3.9zM74.3 136.4l1.9 3.3h-3.9zM77.1 136.2l1.9 3.3h-3.9zM80.0 136.0l1.9 3.3h-3.9zM82.9 135.8l1.9 3.3h-3.9zM85.7 135.6l1.9 3.3h-3.9zM88.6 135.4l1.9 3.3h-3.9zM91.4 135.2l1.9 3.3h-3.9zM94.3 135.0l1.9 3.3h-3.9zM97.1 134.9l1.9 3.3h-3.9zM100.0 134.7l1.9 3.3h-3.9zM102.9 134.5l1.9 3.3h-3.9zM105.7 134.4l1.9 3.3h-3.9zM108.6 134.3l1.9 3.3h-3.9zM111.4 134.2l1.9 3.3h-3.9zM114.3 134.1l1.9 3.3h-3.9zM117.1 134.0l1.9 3.3h-3.9zM120.0 133.9l1.9 3.3h-3.9zM122.8 133.8l1.9 3.3h-3.9zM125.7 133.7l1.9 3.3h-3.9zM128.6 133.6l1.9 3.3h-3.9zM131.4 133.4l1.9 3.3h-3.9zM134.3 133.3l1.9 3.3h-3.9zM137.1 133.1l1.9 3.3h-3.9zM140.0 132.8l1.9 3.3h-3.9zM142.8 132.5l1.9 3.3h-3.9zM145.7 132.0l1.9 3.3h-3.9zM148.5 130.6l1.9 3.3h-3.9zM151.4 128.5l1.9 3.3h-3.9zM154.3 125.0l1.9 3.3h-3.9zM157.1 117.5l1.9 3.3h-3.9zM160.0 101.6l1.9 3.3h-3.9zM162.8 81.6l1.9 3.3h-3.9zM165.7 56.6l1.9 3.3h-3.9zM168.5 39.9l1.9 3.3h-3.9zM171.4 28.9l1.9 3.3h-3.9zM174.3 22.1l1.9 3.3h-3.9zM177.1 18.5l1.9 3.3h-3.9zM180.0 17.3l1.9 3.3h-3.9zM182.8 16.3l1.9 3.3h-3.9zM185.7 15.5l1.9 3.3h-3.9zM188.5 14.9l1.9 3.3h-3.9zM191.4 14.5l1.9 3.3h-3.9zM194.2 14.1l1.9 3.3h-3.9zM197.1 13.8l1.9 3.3h-3.9zM200.0 13.5l1.9 3.3h-3.9zM202.8 13.2l1.9 3.3h-3.9zM205.7 13.0l1.9 3.3h-3.9zM208.5 12.8l1.9 3.3h-3.9zM211.4 12.5l1.9 3.3h-3.9zM214.2 12.4l1.9 3.3h-3.9zM217.1 12.2l1.9 3.3h-3.9zM219.9 12.0l1.9 3.3h-3.9zM222.8 11.8l1.9 3.3h-3.9zM225.7 11.7l1.9 3.3h-3.9zM228.5 11.6l1.9 3.3h-3.9zM231.4 11.4l1.9 3.3h-3.9zM234.2 11.3l1.9 3.3h-3.9zM237.1 11.2l1.9 3.3h-3.9zM239.9 11.1l1.9 3.3h-3.9zM242.8 11.0l1.9 3.3h-3.9z" fill="#f2a52a"/>
<path d="M244.7 10.0 243.5 10.1 242.3 10.1 241.1 10.1 240.0 10.2 238.8 10.3 237.6 10.3 236.4 10.4 235.2 10.4 234.0 10.5 232.8 10.6 231.7 10.6 230.5 10.7 229.3 10.8 228.1 10.9 226.9 10.9 225.7 11.0 224.5 11.1 223.4 11.2 222.2 11.3 221.0 11.4 219.8 11.4 218.6 11.5 217.4 11.6 216.2 11.7 215.1 11.8 213.9 11.9 212.7 12.0 211.5 12.0 210.3 12.1 209.1 12.2 207.9 12.3 206.8 12.4 205.6 12.5 204.4 12.5 203.2 12.6 202.0 12.7 200.8 12.8 199.7 12.8 198.5 12.9 197.3 13.0 196.1 13.0 194.9 13.1 193.7 13.2 192.5 13.2 191.4 13.3 190.2 13.3 189.0 13.4 187.8 13.4 186.6 13.4 185.4 13.5 184.2 13.5 183.1 13.6 181.9 13.6 180.7 13.6 179.5 13.7 178.3 13.7 177.1 13.7 175.9 13.8 174.8 13.8 173.6 13.9 172.4 13.9 171.2 14.0 170.0 14.0 168.8 14.1 167.6 14.1 166.5 14.2 165.3 14.3 164.1 14.4 162.9 14.4 161.7 14.5 160.5 14.6 159.3 14.7 158.2 14.8 157.0 15.0 155.8 15.1 154.6 15.2 153.4 15.4 152.2 15.9 151.0 16.5 149.9 17.4 148.7 18.3 147.5 19.4 146.3 20.7 145.1 22.6 143.9 25.1 142.7 29.0 141.6 34.1 140.4 41.9 139.2 51.1 138.0 60.4 136.8 70.4 135.6 81.7 134.4 94.4 133.3 103.5 132.1 110.7 130.9 116.6 129.7 121.7 128.5 126.0 127.3 129.1 126.1 131.6 125.0 133.6 123.8 134.6 122.6 135.1 121.4 135.6 120.2 136.0 119.0 136.5 117.9 136.8 116.7 137.1 115.5 137.4 114.3 137.7 113.1 138.0 111.9 138.2 110.7 138.4 109.6 138.5 108.4 138.7 107.2 138.8 106.0 139.0 104.8 139.1 103.6 139.2 102.4 139.4 101.3 139.5 100.1 139.6 98.9 139.7 97.7 139.8 96.5 139.9 95.3 140.1 94.1 140.2 93.0 140.3 91.8 140.4 90.6 140.5 89.4 140.6 88.2 140.6 87.0 140.7 85.8 140.8 84.7 140.9 83.5 141.0 82.3 141.1 81.1 141.1 79.9 141.2 78.7 141.3 77.5 141.4 76.4 141.4 75.2 141.5 74.0 141.6 72.8 141.6 71.6 141.7 70.4 141.7 69.2 141.8 68.1 141.8 66.9 141.9 65.7 142.0 64.5 142.0 63.3 142.1 62.1 142.1 60.9 142.1 59.8 142.2 58.6 142.2 57.4 142.3 56.2 142.3" stroke="#8cf53a" stroke-width="1.2" fill="none"/>
<path d="M244.7 12.0l1.9 -3.3h-3.9zM241.8 12.1l1.9 -3.3h-3.9zM239.0 12.3l1.9 -3.3h-3.9zM236.1 12.4l1.9 -3.3h-3.9zM233.3 12.6l1.9 -3.3h-3.9zM230.4 12.7l1.9 -3.3h-3.9zM227.6 12.9l1.9 -3.3h-3.9zM224.7 13.1l1.9 -3.3h-3.9zM221.9 13.3l1.9 -3.3h-3.9zM219.0 13.5l1.9 -3.3h-3.9zM216.1 13.7l1.9 -3.3h-3.9zM213.3 13.9l1.9 -3.3h-3.9zM210.4 14.1l1.9 -3.3h-3.9zM207.6 14.3l1.9 -3.3h-3.9zM204.7 14.5l1.9 -3.3h-3.9zM201.9 14.7l1.9 -3.3h-3.9zM199.0 14.9l1.9 -3.3h-3.9zM196.1 15.1l1.9 -3.3h-3.9zM193.3 15.2l1.9 -3.3h-3.9zM190.4 15.3l1.9 -3.3h-3.9zM187.6 15.4l1.9 -3.3h-3.9zM184.7 15.5l1.9 -3.3h-3.9zM181.9 15.6l1.9 -3.3h-3.9zM179.0 15.7l1.9 -3.3h-3.9zM176.2 15.8l1.9 -3.3h-3.9zM173.3 15.9l1.9 -3.3h-3.9zM170.4 16.0l1.9 -3.3h-3.9zM167.6 16.1l1.9 -3.3h-3.9zM164.7 16.3l1.9 -3.3h-3.9zM161.9 16.5l1.9 -3.3h-3.9zM159.0 16.8l1.9 -3.3h-3.9zM156.2 17.1l1.9 -3.3h-3.9zM153.3 17.5l1.9 -3.3h-3.9zM150.5 19.0l1.9 -3.3h-3.9zM147.6 21.3l1.9 -3.3h-3.9zM144.7 25.3l1.9 -3.3h-3.9zM141.9 34.5l1.9 -3.3h-3.9zM139.0 54.4l1.9 -3.3h-3.9zM136.2 78.2l1.9 -3.3h-3.9zM133.3 105.1l1.9 -3.3h-3.9zM130.5 120.6l1.9 -3.3h-3.9zM127.6 130.5l1.9 -3.3h-3.9zM124.7 135.9l1.9 -3.3h-3.9zM121.9 137.4l1.9 -3.3h-3.9zM119.0 138.5l1.9 -3.3h-3.9zM116.2 139.3l1.9 -3.3h-3.9zM113.3 139.9l1.9 -3.3h-3.9zM110.5 140.4l1.9 -3.3h-3.9zM107.6 140.8l1.9 -3.3h-3.9zM104.8 141.1l1.9 -3.3h-3.9zM101.9 141.4l1.9 -3.3h-3.9zM99.0 141.7l1.9 -3.3h-3.9zM96.2 142.0l1.9 -3.3h-3.9zM93.3 142.2l1.9 -3.3h-3.9zM90.5 142.5l1.9 -3.3h-3.9zM87.6 142.7l1.9 -3.3h-3.9zM84.8 142.9l1.9 -3.3h-3.9zM81.9 143.1l1.9 -3.3h-3.9zM79.1 143.3l1.9 -3.3h-3.9zM76.2 143.4l1.9 -3.3h-3.9zM73.3 143.6l1.9 -3.3h-3.9zM70.5 143.7l1.9 -3.3h-3.9zM67.6 143.9l1.9 -3.3h-3.9zM64.8 144.0l1.9 -3.3h-3.9zM61.9 144.1l1.9 -3.3h-3.9zM59.1 144.2l1.9 -3.3h-3.9zM56.2 144.3l1.9 -3.3h-3.9z" fill="#8cf53a"/>
<path d="M54.3 142.4 55.5 142.3 56.7 142.3 57.9 142.3 59.0 142.2 60.2 142.1 61.4 142.1 62.6 142.0 63.8 142.0 65.0 141.9 66.2 141.8 67.3 141.8 68.5 141.7 69.7 141.6 70.9 141.5 72.1 141.5 73.3 141.4 74.5 141.3 75.6 141.2 76.8 141.1 78.0 141.0 79.2 141.0 80.4 140.9 81.6 140.8 82.8 140.7 83.9 140.6 85.1 140.5 86.3 140.4 87.5 140.4 88.7 140.3 89.9 140.2 91.1 140.1 92.2 140.0 93.4 139.9 94.6 139.9 95.8 139.8 97.0 139.7 98.2 139.6 99.3 139.6 100.5 139.5 101.7 139.4 102.9 139.4 104.1 139.3 105.3 139.2 106.5 139.2 107.6 139.1 108.8 139.1 110.0 139.0 111.2 139.0 112.4 139.0 113.6 138.9 114.8 138.9 115.9 138.8 117.1 138.8 118.3 138.8 119.5 138.7 120.7 138.7 121.9 138.7 123.1 138.6 124.2 138.6 125.4 138.5 126.6 138.5 127.8 138.4 129.0 138.4 130.2 138.3 131.4 138.3 132.5 138.2 133.7 138.1 134.9 138.0 136.1 138.0 137.3 137.9 138.5 137.8 139.7 137.7 140.8 137.6 142.0 137.4 143.2 137.3 144.4 137.2 145.6 137.0 146.8 136.5 148.0 135.9 149.1 135.0 150.3 134.1 151.5 133.0 152.7 131.7 153.9 129.8 155.1 127.3 156.3 123.4 157.4 118.3 158.6 110.5 159.8 101.3 161.0 92.0 162.2 82.0 163.4 70.7 164.6 58.0 165.7 48.9 166.9 41.7 168.1 35.8 169.3 30.7 170.5 26.4 171.7 23.3 172.9 20.8 174.0 18.8 175.2 17.8 176.4 17.3 177.6 16.8 178.8 16.4 180.0 15.9 181.1 15.6 182.3 15.3 183.5 15.0 184.7 14.7 185.9 14.4 187.1 14.2 188.3 14.0 189.4 13.9 190.6 13.7 191.8 13.6 193.0 13.4 194.2 13.3 195.4 13.2 196.6 13.0 197.7 12.9 198.9 12.8 200.1 12.7 201.3 12.6 202.5 12.5 203.7 12.3 204.9 12.2 206.0 12.1 207.2 12.0 208.4 11.9 209.6 11.8 210.8 11.8 212.0 11.7 213.2 11.6 214.3 11.5 215.5 11.4 216.7 11.3 217.9 11.3 219.1 11.2 220.3 11.1 221.5 11.0 222.6 11.0 223.8 10.9 225.0 10.8 226.2 10.8 227.4 10.7 228.6 10.7 229.8 10.6 230.9 10.6 232.1 10.5 233.3 10.4 234.5 10.4 235.7 10.3 236.9 10.3 238.1 10.3 239.2 10.2 240.4 10.2 241.6 10.1 242.8 10.1" stroke="#8cf53a" stroke-width="1.2" fill="none"/>
<path d="M54.3 144.4l1.9 -3.3h-3.9zM57.2 144.3l1.9 -3.3h-3.9zM60.0 144.2l1.9 -3.3h-3.9zM62.9 144.0l1.9 -3.3h-3.9zM65.7 143.9l1.9 -3.3h-3.9zM68.6 143.7l1.9 -3.3h-3.9zM71.4 143.5l1.9 -3.3h-3.9zM74.3 143.3l1.9 -3.3h-3.9zM77.1 143.1l1.9 -3.3h-3.9zM80.0 142.9l1.9 -3.3h-3.9zM82.9 142.7l1.9 -3.3h-3.9zM85.7 142.5l1.9 -3.3h-3.9zM88.6 142.3l1.9 -3.3h-3.9zM91.4 142.1l1.9 -3.3h-3.9zM94.3 141.9l1.9 -3.3h-3.9zM97.1 141.7l1.9 -3.3h-3.9zM100.0 141.5l1.9 -3.3h-3.9zM102.9 141.4l1.9 -3.3h-3.9zM105.7 141.2l1.9 -3.3h-3.9zM108.6 141.1l1.9 -3.3h-3.9zM111.4 141.0l1.9 -3.3h-3.9zM114.3 140.9l1.9 -3.3h-3.9zM117.1 140.8l1.9 -3.3h-3.9zM120.0 140.7l1.9 -3.3h-3.9zM122.8 140.6l1.9 -3.3h-3.9zM125.7 140.5l1.9 -3.3h-3.9zM128.6 140.4l1.9 -3.3h-3.9zM131.4 140.3l1.9 -3.3h-3.9zM134.3 140.1l1.9 -3.3h-3.9zM137.1 139.9l1.9 -3.3h-3.9zM140.0 139.7l1.9 -3.3h-3.9zM142.8 139.4l1.9 -3.3h-3.9zM145.7 139.0l1.9 -3.3h-3.9zM148.5 137.5l1.9 -3.3h-3.9zM151.4 135.2l1.9 -3.3h-3.9zM154.3 131.2l1.9 -3.3h-3.9zM157.1 121.9l1.9 -3.3h-3.9zM160.0 102.0l1.9 -3.3h-3.9zM162.8 78.2l1.9 -3.3h-3.9zM165.7 51.3l1.9 -3.3h-3.9zM168.5 35.9l1.9 -3.3h-3.9zM171.4 25.9l1.9 -3.3h-3.9zM174.3 20.5l1.9 -3.3h-3.9zM177.1 19.0l1.9 -3.3h-3.9zM180.0 18.0l1.9 -3.3h-3.9zM182.8 17.1l1.9 -3.3h-3.9zM185.7 16.5l1.9 -3.3h-3.9zM188.5 16.0l1.9 -3.3h-3.9zM191.4 15.6l1.9 -3.3h-3.9zM194.2 15.3l1.9 -3.3h-3.9zM197.1 15.0l1.9 -3.3h-3.9zM200.0 14.7l1.9 -3.3h-3.9zM202.8 14.4l1.9 -3.3h-3.9zM205.7 14.2l1.9 -3.3h-3.9zM208.5 13.9l1.9 -3.3h-3.9zM211.4 13.7l1.9 -3.3h-3.9zM214.2 13.5l1.9 -3.3h-3.9zM217.1 13.3l1.9 -3.3h-3.9zM219.9 13.1l1.9 -3.3h-3.9zM222.8 13.0l1.9 -3.3h-3.9zM225.7 12.8l1.9 -3.3h-3.9zM228.5 12.7l1.9 -3.3h-3.9zM231.4 12.5l1.9 -3.3h-3.9zM234.2 12.4l1.9 -3.3h-3.9zM237.1 12.3l1.9 -3.3h-3.9zM239.9 12.2l1.9 -3.3h-3.9zM242.8 12.1l1.9 -3.3h-3.9z" fill="#8cf53a"/>
<path d="M244.7 10.5 243.5 10.5 242.3 10.6 241.1 10.6 240.0 10.7 238.8 10.7 237.6 10.8 236.4 10.9 235.2 10.9 234.0 11.0 232.8 11.1 231.7 11.1 230.5 11.2 229.3 11.3 228.1 11.4 226.9 11.4 225.7 11.5 224.5 11.6 223.4 11.7 222.2 11.8 221.0 11.8 219.8 11.9 218.6 12.0 217.4 12.1 216.2 12.2 215.1 12.3 213.9 12.3 212.7 12.4 211.5 12.5 210.3 12.6 209.1 12.7 207.9 12.8 206.8 12.8 205.6 12.9 204.4 13.0 203.2 13.1 202.0 13.2 200.8 13.2 199.7 13.3 198.5 13.4 197.3 13.4 196.1 13.5 194.9 13.6 193.7 13.6 192.5 13.7 191.4 13.7 190.2 13.8 189.0 13.8 187.8 13.9 186.6 13.9 185.4 13.9 184.2 14.0 183.1 14.0 181.9 14.0 180.7 14.1 179.5 14.1 178.3 14.1 177.1 14.2 175.9 14.2 174.8 14.3 173.6 14.3 172.4 14.3 171.2 14.4 170.0 14.4 168.8 14.5 167.6 14.6 166.5 14.6 165.3 14.7 164.1 14.8 162.9 14.9 161.7 14.9 160.5 15.0 159.3 15.1 158.2 15.3 157.0 15.4 155.8 15.5 154.6 15.6 153.4 15.8 152.2 16.2 151.0 16.8 149.9 17.7 148.7 18.7 147.5 19.8 146.3 21.3 145.1 23.3 143.9 26.2 142.7 30.7 141.6 36.9 140.4 46.1 139.2 55.9 138.0 66.1 136.8 77.4 135.6 91.0 134.4 101.6 133.3 109.5 132.1 116.0 130.9 121.4 129.7 125.9 128.5 129.1 127.3 131.8 126.1 133.6 125.0 134.3 123.8 134.8 122.6 135.3 121.4 135.7 120.2 136.1 119.0 136.4 117.9 136.7 116.7 137.0 115.5 137.2 114.3 137.5 113.1 137.7 111.9 137.8 110.7 138.0 109.6 138.2 108.4 138.3 107.2 138.4 106.0 138.5 104.8 138.7 103.6 138.8 102.4 138.9 101.3 139.0 100.1 139.1 98.9 139.2 97.7 139.4 96.5 139.5 95.3 139.6 94.1 139.7 93.0 139.8 91.8 139.9 90.6 140.0 89.4 140.1 88.2 140.1 87.0 140.2 85.8 140.3 84.7 140.4 83.5 140.5 82.3 140.6 81.1 140.6 79.9 140.7 78.7 140.8 77.5 140.9 76.4 140.9 75.2 141.0 74.0 141.1 72.8 141.1 71.6 141.2 70.4 141.2 69.2 141.3 68.1 141.4 66.9 141.4 65.7 141.5 64.5 141.5 63.3 141.6 62.1 141.6 60.9 141.7 59.8 141.7 58.6 141.7 57.4 141.8 56.2 141.8" stroke="#33ee66" stroke-width="1.2" fill="none"/>
<path d="M244.7 8.2l2.3 2.3l-2.3 2.3l-2.3 -2.3zM241.8 8.3l2.3 2.3l-2.3 2.3l-2.3 -2.3zM239.0 8.5l2.3 2.3l-2.3 2.3l-2.3 -2.3zM236.1 8.6l2.3 2.3l-2.3 2.3l-2.3 -2.3zM233.3 8.8l2.3 2.3l-2.3 2.3l-2.3 -2.3zM230.4 8.9l2.3 2.3l-2.3 2.3l-2.3 -2.3zM227.6 9.1l2.3 2.3l-2.3 2.3l-2.3 -2.3zM224.7 9.3l2.3 2.3l-2.3 2.3l-2.3 -2.3zM221.9 9.5l2.3 2.3l-2.3 2.3l-2.3 -2.3zM219.0 9.7l2.3 2.3l-2.3 2.3l-2.3 -2.3zM216.1 9.9l2.3 2.3l-2.3 2.3l-2.3 -2.3zM213.3 10.1l2.3 2.3l-2.3 2.3l-2.3 -2.3zM210.4 10.3l2.3 2.3l-2.3 2.3l-2.3 -2.3zM207.6 10.5l2.3 2.3l-2.3 2.3l-2.3 -2.3zM204.7 10.7l2.3 2.3l-2.3 2.3l-2.3 -2.3zM201.9 10.9l2.3 2.3l-2.3 2.3l-2.3 -2.3zM199.0 11.1l2.3 2.3l-2.3 2.3l-2.3 -2.3zM196.1 11.2l2.3 2.3l-2.3 2.3l-2.3 -2.3zM193.3 11.4l2.3 2.3l-2.3 2.3l-2.3 -2.3zM190.4 11.5l2.3 2.3l-2.3 2.3l-2.3 -2.3zM187.6 11.6l2.3 2.3l-2.3 2.3l-2.3 -2.3zM184.7 11.7l2.3 2.3l-2.3 2.3l-2.3 -2.3zM181.9 11.8l2.3 2.3l-2.3 2.3l-2.3 -2.3zM179.0 11.8l2.3 2.3l-2.3 2.3l-2.3 -2.3zM176.2 11.9l2.3 2.3l-2.3 2.3l-2.3 -2.3zM173.3 12.0l2.3 2.3l-2.3 2.3l-2.3 -2.3zM170.4 12.2l2.3 2.3l-2.3 2.3l-2.3 -2.3zM167.6 12.3l2.3 2.3l-2.3 2.3l-2.3 -2.3zM164.7 12.5l2.3 2.3l-2.3 2.3l-2.3 -2.3zM161.9 12.7l2.3 2.3l-2.3 2.3l-2.3 -2.3zM159.0 12.9l2.3 2.3l-2.3 2.3l-2.3 -2.3zM156.2 13.2l2.3 2.3l-2.3 2.3l-2.3 -2.3zM153.3 13.5l2.3 2.3l-2.3 2.3l-2.3 -2.3zM150.5 15.0l2.3 2.3l-2.3 2.3l-2.3 -2.3zM147.6 17.4l2.3 2.3l-2.3 2.3l-2.3 -2.3zM144.7 21.8l2.3 2.3l-2.3 2.3l-2.3 -2.3zM141.9 32.6l2.3 2.3l-2.3 2.3l-2.3 -2.3zM139.0 55.0l2.3 2.3l-2.3 2.3l-2.3 -2.3zM136.2 82.4l2.3 2.3l-2.3 2.3l-2.3 -2.3zM133.3 106.9l2.3 2.3l-2.3 2.3l-2.3 -2.3zM130.5 120.9l2.3 2.3l-2.3 2.3l-2.3 -2.3zM127.6 128.9l2.3 2.3l-2.3 2.3l-2.3 -2.3zM124.7 132.1l2.3 2.3l-2.3 2.3l-2.3 -2.3zM121.9 133.2l2.3 2.3l-2.3 2.3l-2.3 -2.3zM119.0 134.1l2.3 2.3l-2.3 2.3l-2.3 -2.3zM116.2 134.8l2.3 2.3l-2.3 2.3l-2.3 -2.3zM113.3 135.3l2.3 2.3l-2.3 2.3l-2.3 -2.3zM110.5 135.8l2.3 2.3l-2.3 2.3l-2.3 -2.3zM107.6 136.1l2.3 2.3l-2.3 2.3l-2.3 -2.3zM104.8 136.4l2.3 2.3l-2.3 2.3l-2.3 -2.3zM101.9 136.7l2.3 2.3l-2.3 2.3l-2.3 -2.3zM99.0 136.9l2.3 2.3l-2.3 2.3l-2.3 -2.3zM96.2 137.2l2.3 2.3l-2.3 2.3l-2.3 -2.3zM93.3 137.5l2.3 2.3l-2.3 2.3l-2.3 -2.3zM90.5 137.7l2.3 2.3l-2.3 2.3l-2.3 -2.3zM87.6 137.9l2.3 2.3l-2.3 2.3l-2.3 -2.3zM84.8 138.1l2.3 2.3l-2.3 2.3l-2.3 -2.3zM81.9 138.3l2.3 2.3l-2.3 2.3l-2.3 -2.3zM79.1 138.5l2.3 2.3l-2.3 2.3l-2.3 -2.3zM76.2 138.7l2.3 2.3l-2.3 2.3l-2.3 -2.3zM73.3 138.8l2.3 2.3l-2.3 2.3l-2.3 -2.3zM70.5 139.0l2.3 2.3l-2.3 2.3l-2.3 -2.3zM67.6 139.1l2.3 2.3l-2.3 2.3l-2.3 -2.3zM64.8 139.2l2.3 2.3l-2.3 2.3l-2.3 -2.3zM61.9 139.3l2.3 2.3l-2.3 2.3l-2.3 -2.3zM59.1 139.5l2.3 2.3l-2.3 2.3l-2.3 -2.3zM56.2 139.6l2.3 2.3l-2.3 2.3l-2.3 -2.3z" fill="#33ee66"/>
<path d="M54.3 141.9 55.5 141.9 56.7 141.8 57.9 141.8 59.0 141.7 60.2 141.7 61.4 141.6 62.6 141.5 63.8 141.5 65.0 141.4 66.2 141.3 67.3 141.3 68.5 141.2 69.7 141.1 70.9 141.0 72.1 141.0 73.3 140.9 74.5 140.8 75.6 140.7 76.8 140.6 78.0 140.6 79.2 140.5 80.4 140.4 81.6 140.3 82.8 140.2 83.9 140.1 85.1 140.1 86.3 140.0 87.5 139.9 88.7 139.8 89.9 139.7 91.1 139.6 92.2 139.6 93.4 139.5 94.6 139.4 95.8 139.3 97.0 139.2 98.2 139.2 99.3 139.1 100.5 139.0 101.7 139.0 102.9 138.9 104.1 138.8 105.3 138.8 106.5 138.7 107.6 138.7 108.8 138.6 110.0 138.6 111.2 138.5 112.4 138.5 113.6 138.5 114.8 138.4 115.9 138.4 117.1 138.4 118.3 138.3 119.5 138.3 120.7 138.3 121.9 138.2 123.1 138.2 124.2 138.1 125.4 138.1 126.6 138.1 127.8 138.0 129.0 138.0 130.2 137.9 131.4 137.8 132.5 137.8 133.7 137.7 134.9 137.6 136.1 137.5 137.3 137.5 138.5 137.4 139.7 137.3 140.8 137.1 142.0 137.0 143.2 136.9 144.4 136.8 145.6 136.6 146.8 136.2 148.0 135.6 149.1 134.7 150.3 133.7 151.5 132.6 152.7 131.1 153.9 129.1 155.1 126.2 156.3 121.7 157.4 115.5 158.6 106.3 159.8 96.5 161.0 86.3 162.2 75.0 163.4 61.4 164.6 50.8 165.7 42.9 166.9 36.4 168.1 31.0 169.3 26.5 170.5 23.3 171.7 20.6 172.9 18.8 174.0 18.1 175.2 17.6 176.4 17.1 177.6 16.7 178.8 16.3 180.0 16.0 181.1 15.7 182.3 15.4 183.5 15.2 184.7 14.9 185.9 14.7 187.1 14.6 188.3 14.4 189.4 14.2 190.6 14.1 191.8 14.0 193.0 13.9 194.2 13.7 195.4 13.6 196.6 13.5 197.7 13.4 198.9 13.3 200.1 13.2 201.3 13.0 202.5 12.9 203.7 12.8 204.9 12.7 206.0 12.6 207.2 12.5 208.4 12.4 209.6 12.3 210.8 12.3 212.0 12.2 213.2 12.1 214.3 12.0 215.5 11.9 216.7 11.8 217.9 11.8 219.1 11.7 220.3 11.6 221.5 11.5 222.6 11.5 223.8 11.4 225.0 11.3 226.2 11.3 227.4 11.2 228.6 11.2 229.8 11.1 230.9 11.0 232.1 11.0 233.3 10.9 234.5 10.9 235.7 10.8 236.9 10.8 238.1 10.7 239.2 10.7 240.4 10.7 241.6 10.6 242.8 10.6" stroke="#33ee66" stroke-width="1.2" fill="none"/>
<path d="M54.3 139.6l2.3 2.3l-2.3 2.3l-2.3 -2.3zM57.2 139.5l2.3 2.3l-2.3 2.3l-2.3 -2.3zM60.0 139.4l2.3 2.3l-2.3 2.3l-2.3 -2.3zM62.9 139.2l2.3 2.3l-2.3 2.3l-2.3 -2.3zM65.7 139.1l2.3 2.3l-2.3 2.3l-2.3 -2.3zM68.6 138.9l2.3 2.3l-2.3 2.3l-2.3 -2.3zM71.4 138.7l2.3 2.3l-2.3 2.3l-2.3 -2.3zM74.3 138.5l2.3 2.3l-2.3 2.3l-2.3 -2.3zM77.1 138.3l2.3 2.3l-2.3 2.3l-2.3 -2.3zM80.0 138.1l2.3 2.3l-2.3 2.3l-2.3 -2.3zM82.9 137.9l2.3 2.3l-2.3 2.3l-2.3 -2.3zM85.7 137.7l2.3 2.3l-2.3 2.3l-2.3 -2.3zM88.6 137.5l2.3 2.3l-2.3 2.3l-2.3 -2.3zM91.4 137.3l2.3 2.3l-2.3 2.3l-2.3 -2.3zM94.3 137.1l2.3 2.3l-2.3 2.3l-2.3 -2.3zM97.1 137.0l2.3 2.3l-2.3 2.3l-2.3 -2.3zM100.0 136.8l2.3 2.3l-2.3 2.3l-2.3 -2.3zM102.9 136.6l2.3 2.3l-2.3 2.3l-2.3 -2.3zM105.7 136.5l2.3 2.3l-2.3 2.3l-2.3 -2.3zM108.6 136.4l2.3 2.3l-2.3 2.3l-2.3 -2.3zM111.4 136.3l2.3 2.3l-2.3 2.3l-2.3 -2.3zM114.3 136.2l2.3 2.3l-2.3 2.3l-2.3 -2.3zM117.1 136.1l2.3 2.3l-2.3 2.3l-2.3 -2.3zM120.0 136.0l2.3 2.3l-2.3 2.3l-2.3 -2.3zM122.8 135.9l2.3 2.3l-2.3 2.3l-2.3 -2.3zM125.7 135.8l2.3 2.3l-2.3 2.3l-2.3 -2.3zM128.6 135.7l2.3 2.3l-2.3 2.3l-2.3 -2.3zM131.4 135.6l2.3 2.3l-2.3 2.3l-2.3 -2.3zM134.3 135.4l2.3 2.3l-2.3 2.3l-2.3 -2.3zM137.1 135.2l2.3 2.3l-2.3 2.3l-2.3 -2.3zM140.0 135.0l2.3 2.3l-2.3 2.3l-2.3 -2.3zM142.8 134.7l2.3 2.3l-2.3 2.3l-2.3 -2.3zM145.7 134.3l2.3 2.3l-2.3 2.3l-2.3 -2.3zM148.5 132.9l2.3 2.3l-2.3 2.3l-2.3 -2.3zM151.4 130.4l2.3 2.3l-2.3 2.3l-2.3 -2.3zM154.3 126.1l2.3 2.3l-2.3 2.3l-2.3 -2.3zM157.1 115.3l2.3 2.3l-2.3 2.3l-2.3 -2.3zM160.0 92.9l2.3 2.3l-2.3 2.3l-2.3 -2.3zM162.8 65.5l2.3 2.3l-2.3 2.3l-2.3 -2.3zM165.7 40.9l2.3 2.3l-2.3 2.3l-2.3 -2.3zM168.5 27.0l2.3 2.3l-2.3 2.3l-2.3 -2.3zM171.4 18.9l2.3 2.3l-2.3 2.3l-2.3 -2.3zM174.3 15.7l2.3 2.3l-2.3 2.3l-2.3 -2.3zM177.1 14.6l2.3 2.3l-2.3 2.3l-2.3 -2.3zM180.0 13.7l2.3 2.3l-2.3 2.3l-2.3 -2.3zM182.8 13.0l2.3 2.3l-2.3 2.3l-2.3 -2.3zM185.7 12.5l2.3 2.3l-2.3 2.3l-2.3 -2.3zM188.5 12.1l2.3 2.3l-2.3 2.3l-2.3 -2.3zM191.4 11.8l2.3 2.3l-2.3 2.3l-2.3 -2.3zM194.2 11.5l2.3 2.3l-2.3 2.3l-2.3 -2.3zM197.1 11.2l2.3 2.3l-2.3 2.3l-2.3 -2.3zM200.0 10.9l2.3 2.3l-2.3 2.3l-2.3 -2.3zM202.8 10.6l2.3 2.3l-2.3 2.3l-2.3 -2.3zM205.7 10.4l2.3 2.3l-2.3 2.3l-2.3 -2.3zM208.5 10.2l2.3 2.3l-2.3 2.3l-2.3 -2.3zM211.4 9.9l2.3 2.3l-2.3 2.3l-2.3 -2.3zM214.2 9.7l2.3 2.3l-2.3 2.3l-2.3 -2.3zM217.1 9.5l2.3 2.3l-2.3 2.3l-2.3 -2.3zM219.9 9.4l2.3 2.3l-2.3 2.3l-2.3 -2.3zM222.8 9.2l2.3 2.3l-2.3 2.3l-2.3 -2.3zM225.7 9.0l2.3 2.3l-2.3 2.3l-2.3 -2.3zM228.5 8.9l2.3 2.3l-2.3 2.3l-2.3 -2.3zM231.4 8.8l2.3 2.3l-2.3 2.3l-2.3 -2.3zM234.2 8.6l2.3 2.3l-2.3 2.3l-2.3 -2.3zM237.1 8.5l2.3 2.3l-2.3 2.3l-2.3 -2.3zM239.9 8.4l2.3 2.3l-2.3 2.3l-2.3 -2.3zM242.8 8.3l2.3 2.3l-2.3 2.3l-2.3 -2.3z" fill="#33ee66"/>
<path d="M244.7 12.3 243.5 12.4 242.3 12.4 241.1 12.5 240.0 12.5 238.8 12.6 237.6 12.6 236.4 12.7 235.2 12.8 234.0 12.8 232.8 12.9 231.7 13.0 230.5 13.0 229.3 13.1 228.1 13.2 226.9 13.2 225.7 13.3 224.5 13.4 223.4 13.5 222.2 13.6 221.0 13.6 219.8 13.7 218.6 13.8 217.4 13.9 216.2 14.0 215.1 14.1 213.9 14.1 212.7 14.2 211.5 14.3 210.3 14.4 209.1 14.5 207.9 14.5 206.8 14.6 205.6 14.7 204.4 14.8 203.2 14.9 202.0 14.9 200.8 15.0 199.7 15.1 198.5 15.1 197.3 15.2 196.1 15.3 194.9 15.3 193.7 15.4 192.5 15.4 191.4 15.5 190.2 15.5 189.0 15.6 187.8 15.6 186.6 15.6 185.4 15.7 184.2 15.7 183.1 15.7 181.9 15.8 180.7 15.8 179.5 15.8 178.3 15.9 177.1 15.9 175.9 15.9 174.8 16.0 173.6 16.0 172.4 16.1 171.2 16.1 170.0 16.2 168.8 16.2 167.6 16.3 166.5 16.3 165.3 16.4 164.1 16.5 162.9 16.6 161.7 16.6 160.5 16.7 159.3 16.8 158.2 16.9 157.0 17.0 155.8 17.2 154.6 17.3 153.4 17.4 152.2 17.7 151.0 18.4 149.9 19.3 148.7 20.3 147.5 21.5 146.3 23.1 145.1 25.3 143.9 28.9 142.7 34.0 141.6 42.1 140.4 52.3 139.2 62.7 138.0 74.0 136.8 87.7 135.6 99.7 134.4 108.2 133.3 115.0 132.1 120.6 130.9 125.1 129.7 128.3 128.5 130.9 127.3 132.4 126.1 132.9 125.0 133.3 123.8 133.7 122.6 134.1 121.4 134.5 120.2 134.8 119.0 135.0 117.9 135.3 116.7 135.5 115.5 135.7 114.3 135.9 113.1 136.1 111.9 136.2 110.7 136.4 109.6 136.5 108.4 136.6 107.2 136.7 106.0 136.8 104.8 136.9 103.6 137.0 102.4 137.1 101.3 137.2 100.1 137.4 98.9 137.5 97.7 137.6 96.5 137.7 95.3 137.8 94.1 137.9 93.0 138.0 91.8 138.1 90.6 138.2 89.4 138.2 88.2 138.3 87.0 138.4 85.8 138.5 84.7 138.6 83.5 138.7 82.3 138.7 81.1 138.8 79.9 138.9 78.7 139.0 77.5 139.0 76.4 139.1 75.2 139.2 74.0 139.2 72.8 139.3 71.6 139.3 70.4 139.4 69.2 139.5 68.1 139.5 66.9 139.6 65.7 139.6 64.5 139.7 63.3 139.7 62.1 139.8 60.9 139.8 59.8 139.9 58.6 139.9 57.4 139.9 56.2 140.0" stroke="#3ec2f5" stroke-width="1.2" fill="none"/>
<path d="M244.7 10.3l1.9 3.3h-3.9zM241.8 10.4l1.9 3.3h-3.9zM239.0 10.6l1.9 3.3h-3.9zM236.1 10.7l1.9 3.3h-3.9zM233.3 10.9l1.9 3.3h-3.9zM230.4 11.0l1.9 3.3h-3.9zM227.6 11.2l1.9 3.3h-3.9zM224.7 11.4l1.9 3.3h-3.9zM221.9 11.6l1.9 3.3h-3.9zM219.0 11.8l1.9 3.3h-3.9zM216.1 12.0l1.9 3.3h-3.9zM213.3 12.2l1.9 3.3h-3.9zM210.4 12.4l1.9 3.3h-3.9zM207.6 12.6l1.9 3.3h-3.9zM204.7 12.7l1.9 3.3h-3.9zM201.9 12.9l1.9 3.3h-3.9zM199.0 13.1l1.9 3.3h-3.9zM196.1 13.3l1.9 3.3h-3.9zM193.3 13.4l1.9 3.3h-3.9zM190.4 13.5l1.9 3.3h-3.9zM187.6 13.6l1.9 3.3h-3.9zM184.7 13.7l1.9 3.3h-3.9zM181.9 13.8l1.9 3.3h-3.9zM179.0 13.8l1.9 3.3h-3.9zM176.2 13.9l1.9 3.3h-3.9zM173.3 14.0l1.9 3.3h-3.9zM170.4 14.1l1.9 3.3h-3.9zM167.6 14.3l1.9 3.3h-3.9zM164.7 14.4l1.9 3.3h-3.9zM161.9 14.6l1.9 3.3h-3.9zM159.0 14.8l1.9 3.3h-3.9zM156.2 15.1l1.9 3.3h-3.9zM153.3 15.4l1.9 3.3h-3.9zM150.5 16.8l1.9 3.3h-3.9zM147.6 19.4l1.9 3.3h-3.9zM144.7 24.3l1.9 3.3h-3.9zM141.9 37.5l1.9 3.3h-3.9zM139.0 62.1l1.9 3.3h-3.9zM136.2 93.1l1.9 3.3h-3.9zM133.3 112.7l1.9 3.3h-3.9zM130.5 124.4l1.9 3.3h-3.9zM127.6 130.2l1.9 3.3h-3.9zM124.7 131.4l1.9 3.3h-3.9zM121.9 132.3l1.9 3.3h-3.9zM119.0 133.0l1.9 3.3h-3.9zM116.2 133.6l1.9 3.3h-3.9zM113.3 134.0l1.9 3.3h-3.9zM110.5 134.4l1.9 3.3h-3.9zM107.6 134.7l1.9 3.3h-3.9zM104.8 134.9l1.9 3.3h-3.9zM101.9 135.2l1.9 3.3h-3.9zM99.0 135.4l1.9 3.3h-3.9zM96.2 135.7l1.9 3.3h-3.9zM93.3 135.9l1.9 3.3h-3.9zM90.5 136.2l1.9 3.3h-3.9zM87.6 136.4l1.9 3.3h-3.9zM84.8 136.6l1.9 3.3h-3.9zM81.9 136.8l1.9 3.3h-3.9zM79.1 136.9l1.9 3.3h-3.9zM76.2 137.1l1.9 3.3h-3.9zM73.3 137.2l1.9 3.3h-3.9zM70.5 137.4l1.9 3.3h-3.9zM67.6 137.5l1.9 3.3h-3.9zM64.8 137.7l1.9 3.3h-3.9zM61.9 137.8l1.9 3.3h-3.9zM59.1 137.9l1.9 3.3h-3.9zM56.2 138.0l1.9 3.3h-3.9z" fill="#3ec2f5"/>
<path d="M54.3 140.1 55.5 140.0 56.7 140.0 57.9 139.9 59.0 139.9 60.2 139.8 61.4 139.8 62.6 139.7 63.8 139.6 65.0 139.6 66.2 139.5 67.3 139.4 68.5 139.4 69.7 139.3 70.9 139.2 72.1 139.2 73.3 139.1 74.5 139.0 75.6 138.9 76.8 138.8 78.0 138.8 79.2 138.7 80.4 138.6 81.6 138.5 82.8 138.4 83.9 138.3 85.1 138.3 86.3 138.2 87.5 138.1 88.7 138.0 89.9 137.9 91.1 137.9 92.2 137.8 93.4 137.7 94.6 137.6 95.8 137.5 97.0 137.5 98.2 137.4 99.3 137.3 100.5 137.3 101.7 137.2 102.9 137.1 104.1 137.1 105.3 137.0 106.5 137.0 107.6 136.9 108.8 136.9 110.0 136.8 111.2 136.8 112.4 136.8 113.6 136.7 114.8 136.7 115.9 136.7 117.1 136.6 118.3 136.6 119.5 136.6 120.7 136.5 121.9 136.5 123.1 136.5 124.2 136.4 125.4 136.4 126.6 136.3 127.8 136.3 129.0 136.2 130.2 136.2 131.4 136.1 132.5 136.1 133.7 136.0 134.9 135.9 136.1 135.8 137.3 135.8 138.5 135.7 139.7 135.6 140.8 135.5 142.0 135.4 143.2 135.2 144.4 135.1 145.6 135.0 146.8 134.7 148.0 134.0 149.1 133.1 150.3 132.1 151.5 130.9 152.7 129.3 153.9 127.1 155.1 123.5 156.3 118.4 157.4 110.3 158.6 100.1 159.8 89.7 161.0 78.4 162.2 64.7 163.4 52.7 164.6 44.2 165.7 37.4 166.9 31.8 168.1 27.3 169.3 24.1 170.5 21.5 171.7 20.0 172.9 19.5 174.0 19.1 175.2 18.7 176.4 18.3 177.6 17.9 178.8 17.6 180.0 17.4 181.1 17.1 182.3 16.9 183.5 16.7 184.7 16.5 185.9 16.3 187.1 16.2 188.3 16.0 189.4 15.9 190.6 15.8 191.8 15.7 193.0 15.6 194.2 15.5 195.4 15.4 196.6 15.3 197.7 15.2 198.9 15.0 200.1 14.9 201.3 14.8 202.5 14.7 203.7 14.6 204.9 14.5 206.0 14.4 207.2 14.3 208.4 14.2 209.6 14.2 210.8 14.1 212.0 14.0 213.2 13.9 214.3 13.8 215.5 13.7 216.7 13.7 217.9 13.6 219.1 13.5 220.3 13.4 221.5 13.4 222.6 13.3 223.8 13.2 225.0 13.2 226.2 13.1 227.4 13.1 228.6 13.0 229.8 12.9 230.9 12.9 232.1 12.8 233.3 12.8 234.5 12.7 235.7 12.7 236.9 12.6 238.1 12.6 239.2 12.5 240.4 12.5 241.6 12.5 242.8 12.4" stroke="#3ec2f5" stroke-width="1.2" fill="none"/>
<path d="M54.3 138.0l1.9 3.3h-3.9zM57.2 137.9l1.9 3.3h-3.9zM60.0 137.8l1.9 3.3h-3.9zM62.9 137.7l1.9 3.3h-3.9zM65.7 137.5l1.9 3.3h-3.9zM68.6 137.4l1.9 3.3h-3.9zM71.4 137.2l1.9 3.3h-3.9zM74.3 137.0l1.9 3.3h-3.9zM77.1 136.8l1.9 3.3h-3.9zM80.0 136.6l1.9 3.3h-3.9zM82.9 136.4l1.9 3.3h-3.9zM85.7 136.2l1.9 3.3h-3.9zM88.6 136.0l1.9 3.3h-3.9zM91.4 135.8l1.9 3.3h-3.9zM94.3 135.6l1.9 3.3h-3.9zM97.1 135.4l1.9 3.3h-3.9zM100.0 135.3l1.9 3.3h-3.9zM102.9 135.1l1.9 3.3h-3.9zM105.7 135.0l1.9 3.3h-3.9zM108.6 134.9l1.9 3.3h-3.9zM111.4 134.8l1.9 3.3h-3.9zM114.3 134.7l1.9 3.3h-3.9zM117.1 134.6l1.9 3.3h-3.9zM120.0 134.5l1.9 3.3h-3.9zM122.8 134.5l1.9 3.3h-3.9zM125.7 134.4l1.9 3.3h-3.9zM128.6 134.2l1.9 3.3h-3.9zM131.4 134.1l1.9 3.3h-3.9zM134.3 134.0l1.9 3.3h-3.9zM137.1 133.8l1.9 3.3h-3.9zM140.0 133.5l1.9 3.3h-3.9zM142.8 133.3l1.9 3.3h-3.9zM145.7 132.9l1.9 3.3h-3.9zM148.5 131.6l1.9 3.3h-3.9zM151.4 129.0l1.9 3.3h-3.9zM154.3 124.1l1.9 3.3h-3.9zM157.1 110.9l1.9 3.3h-3.9zM160.0 86.2l1.9 3.3h-3.9zM162.8 55.3l1.9 3.3h-3.9zM165.7 35.7l1.9 3.3h-3.9zM168.5 24.0l1.9 3.3h-3.9zM171.4 18.2l1.9 3.3h-3.9zM174.3 17.0l1.9 3.3h-3.9zM177.1 16.1l1.9 3.3h-3.9zM180.0 15.3l1.9 3.3h-3.9zM182.8 14.8l1.9 3.3h-3.9zM185.7 14.3l1.9 3.3h-3.9zM188.5 14.0l1.9 3.3h-3.9zM191.4 13.7l1.9 3.3h-3.9zM194.2 13.5l1.9 3.3h-3.9zM197.1 13.2l1.9 3.3h-3.9zM200.0 12.9l1.9 3.3h-3.9zM202.8 12.7l1.9 3.3h-3.9zM205.7 12.4l1.9 3.3h-3.9zM208.5 12.2l1.9 3.3h-3.9zM211.4 12.0l1.9 3.3h-3.9zM214.2 11.8l1.9 3.3h-3.9zM217.1 11.6l1.9 3.3h-3.9zM219.9 11.4l1.9 3.3h-3.9zM222.8 11.3l1.9 3.3h-3.9zM225.7 11.1l1.9 3.3h-3.9zM228.5 11.0l1.9 3.3h-3.9zM231.4 10.9l1.9 3.3h-3.9zM234.2 10.7l1.9 3.3h-3.9zM237.1 10.6l1.9 3.3h-3.9zM239.9 10.5l1.9 3.3h-3.9zM242.8 10.4l1.9 3.3h-3.9z" fill="#3ec2f5"/>
<path d="M244.7 14.7 243.5 14.7 242.3 14.8 241.1 14.8 240.0 14.9 238.8 14.9 237.6 15.0 236.4 15.0 235.2 15.1 234.0 15.1 232.8 15.2 231.7 15.3 230.5 15.3 229.3 15.4 228.1 15.5 226.9 15.5 225.7 15.6 224.5 15.7 223.4 15.8 222.2 15.9 221.0 15.9 219.8 16.0 218.6 16.1 217.4 16.2 216.2 16.2 215.1 16.3 213.9 16.4 212.7 16.5 211.5 16.6 210.3 16.6 209.1 16.7 207.9 16.8 206.8 16.9 205.6 17.0 204.4 17.0 203.2 17.1 202.0 17.2 200.8 17.2 199.7 17.3 198.5 17.4 197.3 17.4 196.1 17.5 194.9 17.6 193.7 17.6 192.5 17.7 191.4 17.7 190.2 17.7 189.0 17.8 187.8 17.8 186.6 17.8 185.4 17.9 184.2 17.9 183.1 17.9 181.9 18.0 180.7 18.0 179.5 18.0 178.3 18.1 177.1 18.1 175.9 18.1 174.8 18.2 173.6 18.2 172.4 18.2 171.2 18.3 170.0 18.3 168.8 18.4 167.6 18.4 166.5 18.5 165.3 18.6 164.1 18.6 162.9 18.7 161.7 18.8 160.5 18.9 159.3 19.0 158.2 19.1 157.0 19.2 155.8 19.3 154.6 19.4 153.4 19.5 152.2 19.7 151.0 20.3 149.9 21.2 148.7 22.3 147.5 23.5 146.3 25.2 145.1 27.7 143.9 31.8 142.7 37.8 141.6 47.5 140.4 58.2 139.2 69.6 138.0 82.8 136.8 96.7 135.6 105.9 134.4 113.1 133.3 119.0 132.1 123.7 130.9 126.9 129.7 129.4 128.5 130.5 127.3 130.9 126.1 131.3 125.0 131.7 123.8 132.1 122.6 132.4 121.4 132.6 120.2 132.9 119.0 133.1 117.9 133.3 116.7 133.5 115.5 133.7 114.3 133.8 113.1 134.0 111.9 134.1 110.7 134.2 109.6 134.3 108.4 134.4 107.2 134.5 106.0 134.6 104.8 134.7 103.6 134.8 102.4 134.9 101.3 135.0 100.1 135.1 98.9 135.2 97.7 135.3 96.5 135.4 95.3 135.5 94.1 135.6 93.0 135.7 91.8 135.8 90.6 135.9 89.4 136.0 88.2 136.1 87.0 136.1 85.8 136.2 84.7 136.3 83.5 136.4 82.3 136.4 81.1 136.5 79.9 136.6 78.7 136.7 77.5 136.7 76.4 136.8 75.2 136.9 74.0 136.9 72.8 137.0 71.6 137.0 70.4 137.1 69.2 137.1 68.1 137.2 66.9 137.3 65.7 137.3 64.5 137.4 63.3 137.4 62.1 137.4 60.9 137.5 59.8 137.5 58.6 137.6 57.4 137.6 56.2 137.7" stroke="#2a5fe6" stroke-width="1.2" fill="none"/>
<path d="M244.7 16.7l1.9 -3.3h-3.9zM241.8 16.8l1.9 -3.3h-3.9zM239.0 16.9l1.9 -3.3h-3.9zM236.1 17.0l1.9 -3.3h-3.9zM233.3 17.2l1.9 -3.3h-3.9zM230.4 17.4l1.9 -3.3h-3.9zM227.6 17.5l1.9 -3.3h-3.9zM224.7 17.7l1.9 -3.3h-3.9zM221.9 17.9l1.9 -3.3h-3.9zM219.0 18.1l1.9 -3.3h-3.9zM216.1 18.3l1.9 -3.3h-3.9zM213.3 18.5l1.9 -3.3h-3.9zM210.4 18.6l1.9 -3.3h-3.9zM207.6 18.8l1.9 -3.3h-3.9zM204.7 19.0l1.9 -3.3h-3.9zM201.9 19.2l1.9 -3.3h-3.9zM199.0 19.4l1.9 -3.3h-3.9zM196.1 19.5l1.9 -3.3h-3.9zM193.3 19.6l1.9 -3.3h-3.9zM190.4 19.7l1.9 -3.3h-3.9zM187.6 19.8l1.9 -3.3h-3.9zM184.7 19.9l1.9 -3.3h-3.9zM181.9 20.0l1.9 -3.3h-3.9zM179.0 20.1l1.9 -3.3h-3.9zM176.2 20.1l1.9 -3.3h-3.9zM173.3 20.2l1.9 -3.3h-3.9zM170.4 20.3l1.9 -3.3h-3.9zM167.6 20.4l1.9 -3.3h-3.9zM164.7 20.6l1.9 -3.3h-3.9zM161.9 20.8l1.9 -3.3h-3.9zM159.0 21.0l1.9 -3.3h-3.9zM156.2 21.3l1.9 -3.3h-3.9zM153.3 21.6l1.9 -3.3h-3.9zM150.5 22.7l1.9 -3.3h-3.9zM147.6 25.4l1.9 -3.3h-3.9zM144.7 30.8l1.9 -3.3h-3.9zM141.9 46.6l1.9 -3.3h-3.9zM139.0 73.2l1.9 -3.3h-3.9zM136.2 104.0l1.9 -3.3h-3.9zM133.3 120.8l1.9 -3.3h-3.9zM130.5 130.0l1.9 -3.3h-3.9zM127.6 132.8l1.9 -3.3h-3.9zM124.7 133.8l1.9 -3.3h-3.9zM121.9 134.5l1.9 -3.3h-3.9zM119.0 135.1l1.9 -3.3h-3.9zM116.2 135.6l1.9 -3.3h-3.9zM113.3 136.0l1.9 -3.3h-3.9zM110.5 136.3l1.9 -3.3h-3.9zM107.6 136.5l1.9 -3.3h-3.9zM104.8 136.7l1.9 -3.3h-3.9zM101.9 137.0l1.9 -3.3h-3.9zM99.0 137.2l1.9 -3.3h-3.9zM96.2 137.5l1.9 -3.3h-3.9zM93.3 137.7l1.9 -3.3h-3.9zM90.5 137.9l1.9 -3.3h-3.9zM87.6 138.1l1.9 -3.3h-3.9zM84.8 138.3l1.9 -3.3h-3.9zM81.9 138.5l1.9 -3.3h-3.9zM79.1 138.6l1.9 -3.3h-3.9zM76.2 138.8l1.9 -3.3h-3.9zM73.3 139.0l1.9 -3.3h-3.9zM70.5 139.1l1.9 -3.3h-3.9zM67.6 139.2l1.9 -3.3h-3.9zM64.8 139.4l1.9 -3.3h-3.9zM61.9 139.5l1.9 -3.3h-3.9zM59.1 139.6l1.9 -3.3h-3.9zM56.2 139.7l1.9 -3.3h-3.9z" fill="#2a5fe6"/>
<path d="M54.3 137.7 55.5 137.7 56.7 137.6 57.9 137.6 59.0 137.5 60.2 137.5 61.4 137.4 62.6 137.4 63.8 137.3 65.0 137.3 66.2 137.2 67.3 137.1 68.5 137.1 69.7 137.0 70.9 136.9 72.1 136.9 73.3 136.8 74.5 136.7 75.6 136.6 76.8 136.5 78.0 136.5 79.2 136.4 80.4 136.3 81.6 136.2 82.8 136.2 83.9 136.1 85.1 136.0 86.3 135.9 87.5 135.8 88.7 135.8 89.9 135.7 91.1 135.6 92.2 135.5 93.4 135.4 94.6 135.4 95.8 135.3 97.0 135.2 98.2 135.2 99.3 135.1 100.5 135.0 101.7 135.0 102.9 134.9 104.1 134.8 105.3 134.8 106.5 134.7 107.6 134.7 108.8 134.7 110.0 134.6 111.2 134.6 112.4 134.6 113.6 134.5 114.8 134.5 115.9 134.5 117.1 134.4 118.3 134.4 119.5 134.4 120.7 134.3 121.9 134.3 123.1 134.3 124.2 134.2 125.4 134.2 126.6 134.2 127.8 134.1 129.0 134.1 130.2 134.0 131.4 134.0 132.5 133.9 133.7 133.8 134.9 133.8 136.1 133.7 137.3 133.6 138.5 133.5 139.7 133.4 140.8 133.3 142.0 133.2 143.2 133.1 144.4 133.0 145.6 132.9 146.8 132.7 148.0 132.1 149.1 131.2 150.3 130.1 151.5 128.9 152.7 127.2 153.9 124.7 155.1 120.6 156.3 114.6 157.4 104.9 158.6 94.2 159.8 82.8 161.0 69.6 162.2 55.7 163.4 46.5 164.6 39.3 165.7 33.4 166.9 28.7 168.1 25.5 169.3 23.0 170.5 21.9 171.7 21.5 172.9 21.1 174.0 20.7 175.2 20.3 176.4 20.0 177.6 19.8 178.8 19.5 180.0 19.3 181.1 19.1 182.3 18.9 183.5 18.7 184.7 18.6 185.9 18.4 187.1 18.3 188.3 18.2 189.4 18.1 190.6 18.0 191.8 17.9 193.0 17.8 194.2 17.7 195.4 17.6 196.6 17.5 197.7 17.4 198.9 17.3 200.1 17.2 201.3 17.1 202.5 17.0 203.7 16.9 204.9 16.8 206.0 16.7 207.2 16.6 208.4 16.5 209.6 16.4 210.8 16.3 212.0 16.3 213.2 16.2 214.3 16.1 215.5 16.0 216.7 16.0 217.9 15.9 219.1 15.8 220.3 15.7 221.5 15.7 222.6 15.6 223.8 15.5 225.0 15.5 226.2 15.4 227.4 15.4 228.6 15.3 229.8 15.3 230.9 15.2 232.1 15.1 233.3 15.1 234.5 15.0 235.7 15.0 236.9 15.0 238.1 14.9 239.2 14.9 240.4 14.8 241.6 14.8 242.8 14.7" stroke="#2a5fe6" stroke-width="1.2" fill="none"/>
<path d="M54.3 139.7l1.9 -3.3h-3.9zM57.2 139.6l1.9 -3.3h-3.9zM60.0 139.5l1.9 -3.3h-3.9zM62.9 139.4l1.9 -3.3h-3.9zM65.7 139.2l1.9 -3.3h-3.9zM68.6 139.1l1.9 -3.3h-3.9zM71.4 138.9l1.9 -3.3h-3.9zM74.3 138.7l1.9 -3.3h-3.9zM77.1 138.5l1.9 -3.3h-3.9zM80.0 138.3l1.9 -3.3h-3.9zM82.9 138.2l1.9 -3.3h-3.9zM85.7 138.0l1.9 -3.3h-3.9zM88.6 137.8l1.9 -3.3h-3.9zM91.4 137.6l1.9 -3.3h-3.9zM94.3 137.4l1.9 -3.3h-3.9zM97.1 137.2l1.9 -3.3h-3.9zM100.0 137.1l1.9 -3.3h-3.9zM102.9 136.9l1.9 -3.3h-3.9zM105.7 136.8l1.9 -3.3h-3.9zM108.6 136.7l1.9 -3.3h-3.9zM111.4 136.6l1.9 -3.3h-3.9zM114.3 136.5l1.9 -3.3h-3.9zM117.1 136.4l1.9 -3.3h-3.9zM120.0 136.4l1.9 -3.3h-3.9zM122.8 136.3l1.9 -3.3h-3.9zM125.7 136.2l1.9 -3.3h-3.9zM128.6 136.1l1.9 -3.3h-3.9zM131.4 136.0l1.9 -3.3h-3.9zM134.3 135.8l1.9 -3.3h-3.9zM137.1 135.6l1.9 -3.3h-3.9zM140.0 135.4l1.9 -3.3h-3.9zM142.8 135.2l1.9 -3.3h-3.9zM145.7 134.9l1.9 -3.3h-3.9zM148.5 133.7l1.9 -3.3h-3.9zM151.4 131.0l1.9 -3.3h-3.9zM154.3 125.6l1.9 -3.3h-3.9zM157.1 109.8l1.9 -3.3h-3.9zM160.0 83.2l1.9 -3.3h-3.9zM162.8 52.4l1.9 -3.3h-3.9zM165.7 35.6l1.9 -3.3h-3.9zM168.5 26.5l1.9 -3.3h-3.9zM171.4 23.6l1.9 -3.3h-3.9zM174.3 22.6l1.9 -3.3h-3.9zM177.1 21.9l1.9 -3.3h-3.9zM180.0 21.3l1.9 -3.3h-3.9zM182.8 20.8l1.9 -3.3h-3.9zM185.7 20.5l1.9 -3.3h-3.9zM188.5 20.2l1.9 -3.3h-3.9zM191.4 19.9l1.9 -3.3h-3.9zM194.2 19.7l1.9 -3.3h-3.9zM197.1 19.5l1.9 -3.3h-3.9zM200.0 19.2l1.9 -3.3h-3.9zM202.8 19.0l1.9 -3.3h-3.9zM205.7 18.7l1.9 -3.3h-3.9zM208.5 18.5l1.9 -3.3h-3.9zM211.4 18.3l1.9 -3.3h-3.9zM214.2 18.1l1.9 -3.3h-3.9zM217.1 17.9l1.9 -3.3h-3.9zM219.9 17.8l1.9 -3.3h-3.9zM222.8 17.6l1.9 -3.3h-3.9zM225.7 17.5l1.9 -3.3h-3.9zM228.5 17.3l1.9 -3.3h-3.9zM231.4 17.2l1.9 -3.3h-3.9zM234.2 17.1l1.9 -3.3h-3.9zM237.1 17.0l1.9 -3.3h-3.9zM239.9 16.9l1.9 -3.3h-3.9zM242.8 16.8l1.9 -3.3h-3.9z" fill="#2a5fe6"/>
<path d="M244.7 17.6 243.5 17.7 242.3 17.7 241.1 17.7 240.0 17.8 238.8 17.8 237.6 17.9 236.4 17.9 235.2 18.0 234.0 18.1 232.8 18.1 231.7 18.2 230.5 18.3 229.3 18.3 228.1 18.4 226.9 18.5 225.7 18.5 224.5 18.6 223.4 18.7 222.2 18.7 221.0 18.8 219.8 18.9 218.6 19.0 217.4 19.0 216.2 19.1 215.1 19.2 213.9 19.3 212.7 19.3 211.5 19.4 210.3 19.5 209.1 19.6 207.9 19.6 206.8 19.7 205.6 19.8 204.4 19.9 203.2 19.9 202.0 20.0 200.8 20.1 199.7 20.1 198.5 20.2 197.3 20.3 196.1 20.3 194.9 20.4 193.7 20.4 192.5 20.5 191.4 20.5 190.2 20.5 189.0 20.6 187.8 20.6 186.6 20.6 185.4 20.7 184.2 20.7 183.1 20.7 181.9 20.8 180.7 20.8 179.5 20.8 178.3 20.8 177.1 20.9 175.9 20.9 174.8 20.9 173.6 21.0 172.4 21.0 171.2 21.0 170.0 21.1 168.8 21.1 167.6 21.2 166.5 21.2 165.3 21.3 164.1 21.4 162.9 21.4 161.7 21.5 160.5 21.6 159.3 21.7 158.2 21.8 157.0 21.9 155.8 22.0 154.6 22.1 153.4 22.2 152.2 22.4 151.0 22.9 149.9 23.8 148.7 25.0 147.5 26.3 146.3 28.3 145.1 31.2 143.9 36.3 142.7 44.4 141.6 55.5 140.4 66.9 139.2 80.0 138.0 94.9 136.8 104.5 135.6 112.0 134.4 117.9 133.3 122.4 132.1 125.5 130.9 127.6 129.7 128.1 128.5 128.5 127.3 128.8 126.1 129.2 125.0 129.5 123.8 129.8 122.6 130.0 121.4 130.2 120.2 130.4 119.0 130.6 117.9 130.8 116.7 130.9 115.5 131.1 114.3 131.2 113.1 131.3 111.9 131.4 110.7 131.5 109.6 131.6 108.4 131.7 107.2 131.7 106.0 131.8 104.8 131.9 103.6 132.0 102.4 132.1 101.3 132.2 100.1 132.3 98.9 132.4 97.7 132.5 96.5 132.6 95.3 132.7 94.1 132.8 93.0 132.8 91.8 132.9 90.6 133.0 89.4 133.1 88.2 133.2 87.0 133.2 85.8 133.3 84.7 133.4 83.5 133.5 82.3 133.5 81.1 133.6 79.9 133.7 78.7 133.7 77.5 133.8 76.4 133.9 75.2 133.9 74.0 134.0 72.8 134.1 71.6 134.1 70.4 134.2 69.2 134.2 68.1 134.3 66.9 134.3 65.7 134.4 64.5 134.4 63.3 134.5 62.1 134.5 60.9 134.6 59.8 134.6 58.6 134.6 57.4 134.7 56.2 134.7" stroke="#7a3af0" stroke-width="1.2" fill="none"/>
<path d="M242.9 17.6a1.75 1.75 0 1 0 3.5 0a1.75 1.75 0 1 0 -3.5 0zM240.1 17.7a1.75 1.75 0 1 0 3.5 0a1.75 1.75 0 1 0 -3.5 0zM237.2 17.8a1.75 1.75 0 1 0 3.5 0a1.75 1.75 0 1 0 -3.5 0zM234.4 18.0a1.75 1.75 0 1 0 3.5 0a1.75 1.75 0 1 0 -3.5 0zM231.5 18.1a1.75 1.75 0 1 0 3.5 0a1.75 1.75 0 1 0 -3.5 0zM228.7 18.3a1.75 1.75 0 1 0 3.5 0a1.75 1.75 0 1 0 -3.5 0zM225.8 18.4a1.75 1.75 0 1 0 3.5 0a1.75 1.75 0 1 0 -3.5 0zM223.0 18.6a1.75 1.75 0 1 0 3.5 0a1.75 1.75 0 1 0 -3.5 0zM220.1 18.8a1.75 1.75 0 1 0 3.5 0a1.75 1.75 0 1 0 -3.5 0zM217.2 18.9a1.75 1.75 0 1 0 3.5 0a1.75 1.75 0 1 0 -3.5 0zM214.4 19.1a1.75 1.75 0 1 0 3.5 0a1.75 1.75 0 1 0 -3.5 0zM211.5 19.3a1.75 1.75 0 1 0 3.5 0a1.75 1.75 0 1 0 -3.5 0zM208.7 19.5a1.75 1.75 0 1 0 3.5 0a1.75 1.75 0 1 0 -3.5 0zM205.8 19.7a1.75 1.75 0 1 0 3.5 0a1.75 1.75 0 1 0 -3.5 0zM203.0 19.8a1.75 1.75 0 1 0 3.5 0a1.75 1.75 0 1 0 -3.5 0zM200.1 20.0a1.75 1.75 0 1 0 3.5 0a1.75 1.75 0 1 0 -3.5 0zM197.3 20.2a1.75 1.75 0 1 0 3.5 0a1.75 1.75 0 1 0 -3.5 0zM194.4 20.3a1.75 1.75 0 1 0 3.5 0a1.75 1.75 0 1 0 -3.5 0zM191.5 20.4a1.75 1.75 0 1 0 3.5 0a1.75 1.75 0 1 0 -3.5 0zM188.7 20.5a1.75 1.75 0 1 0 3.5 0a1.75 1.75 0 1 0 -3.5 0zM185.8 20.6a1.75 1.75 0 1 0 3.5 0a1.75 1.75 0 1 0 -3.5 0zM183.0 20.7a1.75 1.75 0 1 0 3.5 0a1.75 1.75 0 1 0 -3.5 0zM180.1 20.8a1.75 1.75 0 1 0 3.5 0a1.75 1.75 0 1 0 -3.5 0zM177.3 20.8a1.75 1.75 0 1 0 3.5 0a1.75 1.75 0 1 0 -3.5 0zM174.4 20.9a1.75 1.75 0 1 0 3.5 0a1.75 1.75 0 1 0 -3.5 0zM171.5 21.0a1.75 1.75 0 1 0 3.5 0a1.75 1.75 0 1 0 -3.5 0zM168.7 21.1a1.75 1.75 0 1 0 3.5 0a1.75 1.75 0 1 0 -3.5 0zM165.8 21.2a1.75 1.75 0 1 0 3.5 0a1.75 1.75 0 1 0 -3.5 0zM163.0 21.3a1.75 1.75 0 1 0 3.5 0a1.75 1.75 0 1 0 -3.5 0zM160.1 21.5a1.75 1.75 0 1 0 3.5 0a1.75 1.75 0 1 0 -3.5 0zM157.3 21.7a1.75 1.75 0 1 0 3.5 0a1.75 1.75 0 1 0 -3.5 0zM154.4 21.9a1.75 1.75 0 1 0 3.5 0a1.75 1.75 0 1 0 -3.5 0zM151.6 22.2a1.75 1.75 0 1 0 3.5 0a1.75 1.75 0 1 0 -3.5 0zM148.7 23.3a1.75 1.75 0 1 0 3.5 0a1.75 1.75 0 1 0 -3.5 0zM145.8 26.2a1.75 1.75 0 1 0 3.5 0a1.75 1.75 0 1 0 -3.5 0zM143.0 32.6a1.75 1.75 0 1 0 3.5 0a1.75 1.75 0 1 0 -3.5 0zM140.1 52.5a1.75 1.75 0 1 0 3.5 0a1.75 1.75 0 1 0 -3.5 0zM137.3 82.1a1.75 1.75 0 1 0 3.5 0a1.75 1.75 0 1 0 -3.5 0zM134.4 108.8a1.75 1.75 0 1 0 3.5 0a1.75 1.75 0 1 0 -3.5 0zM131.6 122.2a1.75 1.75 0 1 0 3.5 0a1.75 1.75 0 1 0 -3.5 0zM128.7 127.8a1.75 1.75 0 1 0 3.5 0a1.75 1.75 0 1 0 -3.5 0zM125.9 128.8a1.75 1.75 0 1 0 3.5 0a1.75 1.75 0 1 0 -3.5 0zM123.0 129.5a1.75 1.75 0 1 0 3.5 0a1.75 1.75 0 1 0 -3.5 0zM120.1 130.1a1.75 1.75 0 1 0 3.5 0a1.75 1.75 0 1 0 -3.5 0zM117.3 130.6a1.75 1.75 0 1 0 3.5 0a1.75 1.75 0 1 0 -3.5 0zM114.4 131.0a1.75 1.75 0 1 0 3.5 0a1.75 1.75 0 1 0 -3.5 0zM111.6 131.3a1.75 1.75 0 1 0 3.5 0a1.75 1.75 0 1 0 -3.5 0zM108.7 131.5a1.75 1.75 0 1 0 3.5 0a1.75 1.75 0 1 0 -3.5 0zM105.9 131.7a1.75 1.75 0 1 0 3.5 0a1.75 1.75 0 1 0 -3.5 0zM103.0 131.9a1.75 1.75 0 1 0 3.5 0a1.75 1.75 0 1 0 -3.5 0zM100.1 132.1a1.75 1.75 0 1 0 3.5 0a1.75 1.75 0 1 0 -3.5 0zM97.3 132.4a1.75 1.75 0 1 0 3.5 0a1.75 1.75 0 1 0 -3.5 0zM94.4 132.6a1.75 1.75 0 1 0 3.5 0a1.75 1.75 0 1 0 -3.5 0zM91.6 132.8a1.75 1.75 0 1 0 3.5 0a1.75 1.75 0 1 0 -3.5 0zM88.7 133.0a1.75 1.75 0 1 0 3.5 0a1.75 1.75 0 1 0 -3.5 0zM85.9 133.2a1.75 1.75 0 1 0 3.5 0a1.75 1.75 0 1 0 -3.5 0zM83.0 133.4a1.75 1.75 0 1 0 3.5 0a1.75 1.75 0 1 0 -3.5 0zM80.2 133.6a1.75 1.75 0 1 0 3.5 0a1.75 1.75 0 1 0 -3.5 0zM77.3 133.7a1.75 1.75 0 1 0 3.5 0a1.75 1.75 0 1 0 -3.5 0zM74.4 133.9a1.75 1.75 0 1 0 3.5 0a1.75 1.75 0 1 0 -3.5 0zM71.6 134.0a1.75 1.75 0 1 0 3.5 0a1.75 1.75 0 1 0 -3.5 0zM68.7 134.2a1.75 1.75 0 1 0 3.5 0a1.75 1.75 0 1 0 -3.5 0zM65.9 134.3a1.75 1.75 0 1 0 3.5 0a1.75 1.75 0 1 0 -3.5 0zM63.0 134.4a1.75 1.75 0 1 0 3.5 0a1.75 1.75 0 1 0 -3.5 0zM60.2 134.5a1.75 1.75 0 1 0 3.5 0a1.75 1.75 0 1 0 -3.5 0zM57.3 134.6a1.75 1.75 0 1 0 3.5 0a1.75 1.75 0 1 0 -3.5 0zM54.5 134.7a1.75 1.75 0 1 0 3.5 0a1.75 1.75 0 1 0 -3.5 0z" fill="#7a3af0"/>
<path d="M54.3 134.8 55.5 134.7 56.7 134.7 57.9 134.7 59.0 134.6 60.2 134.6 61.4 134.5 62.6 134.5 63.8 134.4 65.0 134.3 66.2 134.3 67.3 134.2 68.5 134.1 69.7 134.1 70.9 134.0 72.1 133.9 73.3 133.9 74.5 133.8 75.6 133.7 76.8 133.7 78.0 133.6 79.2 133.5 80.4 133.4 81.6 133.4 82.8 133.3 83.9 133.2 85.1 133.1 86.3 133.1 87.5 133.0 88.7 132.9 89.9 132.8 91.1 132.8 92.2 132.7 93.4 132.6 94.6 132.5 95.8 132.5 97.0 132.4 98.2 132.3 99.3 132.3 100.5 132.2 101.7 132.1 102.9 132.1 104.1 132.0 105.3 132.0 106.5 131.9 107.6 131.9 108.8 131.9 110.0 131.8 111.2 131.8 112.4 131.8 113.6 131.7 114.8 131.7 115.9 131.7 117.1 131.6 118.3 131.6 119.5 131.6 120.7 131.6 121.9 131.5 123.1 131.5 124.2 131.5 125.4 131.4 126.6 131.4 127.8 131.4 129.0 131.3 130.2 131.3 131.4 131.2 132.5 131.2 133.7 131.1 134.9 131.0 136.1 131.0 137.3 130.9 138.5 130.8 139.7 130.7 140.8 130.6 142.0 130.5 143.2 130.4 144.4 130.3 145.6 130.2 146.8 130.0 148.0 129.5 149.1 128.6 150.3 127.4 151.5 126.1 152.7 124.1 153.9 121.2 155.1 116.1 156.3 108.0 157.4 96.9 158.6 85.5 159.8 72.4 161.0 57.5 162.2 47.9 163.4 40.4 164.6 34.5 165.7 30.0 166.9 26.9 168.1 24.8 169.3 24.3 170.5 23.9 171.7 23.6 172.9 23.2 174.0 22.9 175.2 22.6 176.4 22.4 177.6 22.2 178.8 22.0 180.0 21.8 181.1 21.6 182.3 21.5 183.5 21.3 184.7 21.2 185.9 21.1 187.1 21.0 188.3 20.9 189.4 20.8 190.6 20.7 191.8 20.7 193.0 20.6 194.2 20.5 195.4 20.4 196.6 20.3 197.7 20.2 198.9 20.1 200.1 20.0 201.3 19.9 202.5 19.8 203.7 19.7 204.9 19.6 206.0 19.6 207.2 19.5 208.4 19.4 209.6 19.3 210.8 19.2 212.0 19.2 213.2 19.1 214.3 19.0 215.5 18.9 216.7 18.9 217.9 18.8 219.1 18.7 220.3 18.7 221.5 18.6 222.6 18.5 223.8 18.5 225.0 18.4 226.2 18.3 227.4 18.3 228.6 18.2 229.8 18.2 230.9 18.1 232.1 18.1 233.3 18.0 234.5 18.0 235.7 17.9 236.9 17.9 238.1 17.8 239.2 17.8 240.4 17.8 241.6 17.7 242.8 17.7" stroke="#7a3af0" stroke-width="1.2" fill="none"/>
<path d="M52.5 134.8a1.75 1.75 0 1 0 3.5 0a1.75 1.75 0 1 0 -3.5 0zM55.4 134.7a1.75 1.75 0 1 0 3.5 0a1.75 1.75 0 1 0 -3.5 0zM58.3 134.6a1.75 1.75 0 1 0 3.5 0a1.75 1.75 0 1 0 -3.5 0zM61.1 134.4a1.75 1.75 0 1 0 3.5 0a1.75 1.75 0 1 0 -3.5 0zM64.0 134.3a1.75 1.75 0 1 0 3.5 0a1.75 1.75 0 1 0 -3.5 0zM66.8 134.1a1.75 1.75 0 1 0 3.5 0a1.75 1.75 0 1 0 -3.5 0zM69.7 134.0a1.75 1.75 0 1 0 3.5 0a1.75 1.75 0 1 0 -3.5 0zM72.5 133.8a1.75 1.75 0 1 0 3.5 0a1.75 1.75 0 1 0 -3.5 0zM75.4 133.6a1.75 1.75 0 1 0 3.5 0a1.75 1.75 0 1 0 -3.5 0zM78.3 133.5a1.75 1.75 0 1 0 3.5 0a1.75 1.75 0 1 0 -3.5 0zM81.1 133.3a1.75 1.75 0 1 0 3.5 0a1.75 1.75 0 1 0 -3.5 0zM84.0 133.1a1.75 1.75 0 1 0 3.5 0a1.75 1.75 0 1 0 -3.5 0zM86.8 132.9a1.75 1.75 0 1 0 3.5 0a1.75 1.75 0 1 0 -3.5 0zM89.7 132.7a1.75 1.75 0 1 0 3.5 0a1.75 1.75 0 1 0 -3.5 0zM92.5 132.6a1.75 1.75 0 1 0 3.5 0a1.75 1.75 0 1 0 -3.5 0zM95.4 132.4a1.75 1.75 0 1 0 3.5 0a1.75 1.75 0 1 0 -3.5 0zM98.2 132.2a1.75 1.75 0 1 0 3.5 0a1.75 1.75 0 1 0 -3.5 0zM101.1 132.1a1.75 1.75 0 1 0 3.5 0a1.75 1.75 0 1 0 -3.5 0zM104.0 132.0a1.75 1.75 0 1 0 3.5 0a1.75 1.75 0 1 0 -3.5 0zM106.8 131.9a1.75 1.75 0 1 0 3.5 0a1.75 1.75 0 1 0 -3.5 0zM109.7 131.8a1.75 1.75 0 1 0 3.5 0a1.75 1.75 0 1 0 -3.5 0zM112.5 131.7a1.75 1.75 0 1 0 3.5 0a1.75 1.75 0 1 0 -3.5 0zM115.4 131.6a1.75 1.75 0 1 0 3.5 0a1.75 1.75 0 1 0 -3.5 0zM118.2 131.6a1.75 1.75 0 1 0 3.5 0a1.75 1.75 0 1 0 -3.5 0zM121.1 131.5a1.75 1.75 0 1 0 3.5 0a1.75 1.75 0 1 0 -3.5 0zM123.9 131.4a1.75 1.75 0 1 0 3.5 0a1.75 1.75 0 1 0 -3.5 0zM126.8 131.3a1.75 1.75 0 1 0 3.5 0a1.75 1.75 0 1 0 -3.5 0zM129.7 131.2a1.75 1.75 0 1 0 3.5 0a1.75 1.75 0 1 0 -3.5 0zM132.5 131.1a1.75 1.75 0 1 0 3.5 0a1.75 1.75 0 1 0 -3.5 0zM135.4 130.9a1.75 1.75 0 1 0 3.5 0a1.75 1.75 0 1 0 -3.5 0zM138.2 130.7a1.75 1.75 0 1 0 3.5 0a1.75 1.75 0 1 0 -3.5 0zM141.1 130.5a1.75 1.75 0 1 0 3.5 0a1.75 1.75 0 1 0 -3.5 0zM143.9 130.2a1.75 1.75 0 1 0 3.5 0a1.75 1.75 0 1 0 -3.5 0zM146.8 129.1a1.75 1.75 0 1 0 3.5 0a1.75 1.75 0 1 0 -3.5 0zM149.7 126.2a1.75 1.75 0 1 0 3.5 0a1.75 1.75 0 1 0 -3.5 0zM152.5 119.8a1.75 1.75 0 1 0 3.5 0a1.75 1.75 0 1 0 -3.5 0zM155.4 99.9a1.75 1.75 0 1 0 3.5 0a1.75 1.75 0 1 0 -3.5 0zM158.2 70.3a1.75 1.75 0 1 0 3.5 0a1.75 1.75 0 1 0 -3.5 0zM161.1 43.6a1.75 1.75 0 1 0 3.5 0a1.75 1.75 0 1 0 -3.5 0zM163.9 30.2a1.75 1.75 0 1 0 3.5 0a1.75 1.75 0 1 0 -3.5 0zM166.8 24.6a1.75 1.75 0 1 0 3.5 0a1.75 1.75 0 1 0 -3.5 0zM169.6 23.6a1.75 1.75 0 1 0 3.5 0a1.75 1.75 0 1 0 -3.5 0zM172.5 22.9a1.75 1.75 0 1 0 3.5 0a1.75 1.75 0 1 0 -3.5 0zM175.4 22.3a1.75 1.75 0 1 0 3.5 0a1.75 1.75 0 1 0 -3.5 0zM178.2 21.8a1.75 1.75 0 1 0 3.5 0a1.75 1.75 0 1 0 -3.5 0zM181.1 21.4a1.75 1.75 0 1 0 3.5 0a1.75 1.75 0 1 0 -3.5 0zM183.9 21.1a1.75 1.75 0 1 0 3.5 0a1.75 1.75 0 1 0 -3.5 0zM186.8 20.9a1.75 1.75 0 1 0 3.5 0a1.75 1.75 0 1 0 -3.5 0zM189.6 20.7a1.75 1.75 0 1 0 3.5 0a1.75 1.75 0 1 0 -3.5 0zM192.5 20.5a1.75 1.75 0 1 0 3.5 0a1.75 1.75 0 1 0 -3.5 0zM195.3 20.3a1.75 1.75 0 1 0 3.5 0a1.75 1.75 0 1 0 -3.5 0zM198.2 20.0a1.75 1.75 0 1 0 3.5 0a1.75 1.75 0 1 0 -3.5 0zM201.1 19.8a1.75 1.75 0 1 0 3.5 0a1.75 1.75 0 1 0 -3.5 0zM203.9 19.6a1.75 1.75 0 1 0 3.5 0a1.75 1.75 0 1 0 -3.5 0zM206.8 19.4a1.75 1.75 0 1 0 3.5 0a1.75 1.75 0 1 0 -3.5 0zM209.6 19.2a1.75 1.75 0 1 0 3.5 0a1.75 1.75 0 1 0 -3.5 0zM212.5 19.0a1.75 1.75 0 1 0 3.5 0a1.75 1.75 0 1 0 -3.5 0zM215.3 18.8a1.75 1.75 0 1 0 3.5 0a1.75 1.75 0 1 0 -3.5 0zM218.2 18.7a1.75 1.75 0 1 0 3.5 0a1.75 1.75 0 1 0 -3.5 0zM221.1 18.5a1.75 1.75 0 1 0 3.5 0a1.75 1.75 0 1 0 -3.5 0zM223.9 18.4a1.75 1.75 0 1 0 3.5 0a1.75 1.75 0 1 0 -3.5 0zM226.8 18.2a1.75 1.75 0 1 0 3.5 0a1.75 1.75 0 1 0 -3.5 0zM229.6 18.1a1.75 1.75 0 1 0 3.5 0a1.75 1.75 0 1 0 -3.5 0zM232.5 18.0a1.75 1.75 0 1 0 3.5 0a1.75 1.75 0 1 0 -3.5 0zM235.3 17.9a1.75 1.75 0 1 0 3.5 0a1.75 1.75 0 1 0 -3.5 0zM238.2 17.8a1.75 1.75 0 1 0 3.5 0a1.75 1.75 0 1 0 -3.5 0zM241.0 17.7a1.75 1.75 0 1 0 3.5 0a1.75 1.75 0 1 0 -3.5 0z" fill="#7a3af0"/>
</g>
<clipPath id="cb"><rect x="302.6" y="6.7" width="191.79999999999995" height="142.60000000000002"/></clipPath>
<g clip-path="url(#cb)">
<path d="M494.4 20.3 493.2 20.4 492.0 20.5 490.8 20.6 489.6 20.7 488.4 20.8 487.2 20.9 486.0 21.0 484.7 21.1 483.5 21.2 482.3 21.3 481.1 21.4 479.9 21.5 478.7 21.6 477.5 21.7 476.3 21.8 475.1 21.9 473.9 22.1 472.7 22.2 471.5 22.3 470.3 22.4 469.1 22.5 467.9 22.6 466.7 22.8 465.4 22.9 464.2 23.0 463.0 23.1 461.8 23.3 460.6 23.4 459.4 23.5 458.2 23.6 457.0 23.8 455.8 23.9 454.6 24.0 453.4 24.2 452.2 24.3 451.0 24.5 449.8 24.6 448.6 24.7 447.4 24.9 446.1 25.0 444.9 25.2 443.7 25.3 442.5 25.5 441.3 25.6 440.1 25.8 438.9 25.9 437.7 26.1 436.5 26.3 435.3 26.4 434.1 26.6 432.9 26.7 431.7 26.9 430.5 27.1 429.3 27.2 428.1 27.4 426.8 27.6 425.6 27.8 424.4 28.0 423.2 28.1 422.0 28.3 420.8 28.5 419.6 28.7 418.4 28.9 417.2 29.1 416.0 29.2 414.8 29.4 413.6 29.6 412.4 29.8 411.2 30.0 410.0 30.2 408.8 30.4 407.5 30.6 406.3 30.9 405.1 31.1 403.9 31.3 402.7 31.6 401.5 31.9 400.3 32.2 399.1 32.5 397.9 32.8 396.7 33.2 395.5 33.6 394.3 34.1 393.1 34.5 391.9 35.1 390.7 35.6 389.5 36.2 388.2 36.8 387.0 37.4 385.8 38.0 384.6 38.7 383.4 39.3 382.2 40.0 381.0 40.7 379.8 41.3 378.6 42.0 377.4 42.8 376.2 43.5 375.0 44.3 373.8 45.1 372.6 45.9 371.4 46.6 370.2 47.5 368.9 48.6 367.7 50.0 366.5 51.6 365.3 53.0 364.1 54.5 362.9 56.6 361.7 60.4 360.5 66.2 359.3 72.4 358.1 78.5 356.9 83.6 355.7 88.1 354.5 91.6 353.3 93.5 352.1 94.8 350.9 96.0 349.6 97.0 348.4 97.8 347.2 98.5 346.0 99.2 344.8 99.8 343.6 100.4 342.4 100.9 341.2 101.5 340.0 102.1 338.8 102.8 337.6 103.5 336.4 104.4 335.2 105.4 334.0 106.4 332.8 107.5 331.6 108.7 330.3 109.9 329.1 111.1 327.9 112.3 326.7 113.5 325.5 114.7 324.3 116.0 323.1 117.2 321.9 118.4 320.7 119.6 319.5 120.7 318.3 121.8 317.1 122.9 315.9 123.9 314.7 125.0 313.5 126.0 312.3 127.1 311.0 128.1 309.8 129.1 308.6 130.1 307.4 131.1 306.2 132.1 305.0 133.1 303.8 134.1 302.6 135.0" stroke="#ff1ad9" stroke-width="1.2" fill="none"/>
<path d="M492.8 18.7h3.2v3.2h-3.2zM490.2 18.9h3.2v3.2h-3.2zM487.7 19.1h3.2v3.2h-3.2zM485.1 19.3h3.2v3.2h-3.2zM482.6 19.5h3.2v3.2h-3.2zM480.0 19.7h3.2v3.2h-3.2zM477.5 20.0h3.2v3.2h-3.2zM474.9 20.2h3.2v3.2h-3.2zM472.3 20.4h3.2v3.2h-3.2zM469.8 20.7h3.2v3.2h-3.2zM467.2 20.9h3.2v3.2h-3.2zM464.7 21.2h3.2v3.2h-3.2zM462.1 21.5h3.2v3.2h-3.2zM459.6 21.7h3.2v3.2h-3.2zM457.0 22.0h3.2v3.2h-3.2zM454.4 22.3h3.2v3.2h-3.2zM451.9 22.6h3.2v3.2h-3.2zM449.3 22.9h3.2v3.2h-3.2zM446.8 23.2h3.2v3.2h-3.2zM444.2 23.5h3.2v3.2h-3.2zM441.7 23.8h3.2v3.2h-3.2zM439.1 24.1h3.2v3.2h-3.2zM436.5 24.4h3.2v3.2h-3.2zM434.0 24.8h3.2v3.2h-3.2zM431.4 25.1h3.2v3.2h-3.2zM428.9 25.5h3.2v3.2h-3.2zM426.3 25.8h3.2v3.2h-3.2zM423.8 26.2h3.2v3.2h-3.2zM421.2 26.6h3.2v3.2h-3.2zM418.6 27.0h3.2v3.2h-3.2zM416.1 27.4h3.2v3.2h-3.2zM413.5 27.8h3.2v3.2h-3.2zM411.0 28.2h3.2v3.2h-3.2zM408.4 28.6h3.2v3.2h-3.2zM405.9 29.1h3.2v3.2h-3.2zM403.3 29.5h3.2v3.2h-3.2zM400.7 30.1h3.2v3.2h-3.2zM398.2 30.7h3.2v3.2h-3.2zM395.6 31.4h3.2v3.2h-3.2zM393.1 32.3h3.2v3.2h-3.2zM390.5 33.4h3.2v3.2h-3.2zM387.9 34.5h3.2v3.2h-3.2zM385.4 35.8h3.2v3.2h-3.2zM382.8 37.2h3.2v3.2h-3.2zM380.3 38.6h3.2v3.2h-3.2zM377.7 40.0h3.2v3.2h-3.2zM375.2 41.6h3.2v3.2h-3.2zM372.6 43.2h3.2v3.2h-3.2zM370.0 44.9h3.2v3.2h-3.2zM367.5 46.9h3.2v3.2h-3.2zM364.9 50.0h3.2v3.2h-3.2zM362.4 53.1h3.2v3.2h-3.2zM359.8 60.1h3.2v3.2h-3.2zM357.3 73.2h3.2v3.2h-3.2zM354.7 84.2h3.2v3.2h-3.2zM352.1 91.3h3.2v3.2h-3.2zM349.6 94.1h3.2v3.2h-3.2zM347.0 96.1h3.2v3.2h-3.2zM344.5 97.6h3.2v3.2h-3.2zM341.9 98.8h3.2v3.2h-3.2zM339.4 100.0h3.2v3.2h-3.2zM336.8 101.4h3.2v3.2h-3.2zM334.2 103.2h3.2v3.2h-3.2zM331.7 105.5h3.2v3.2h-3.2zM329.1 107.9h3.2v3.2h-3.2zM326.6 110.4h3.2v3.2h-3.2zM324.0 113.0h3.2v3.2h-3.2zM321.5 115.6h3.2v3.2h-3.2zM318.9 118.2h3.2v3.2h-3.2zM316.3 120.5h3.2v3.2h-3.2zM313.8 122.8h3.2v3.2h-3.2zM311.2 125.0h3.2v3.2h-3.2zM308.7 127.2h3.2v3.2h-3.2zM306.1 129.3h3.2v3.2h-3.2zM303.6 131.4h3.2v3.2h-3.2zM301.0 133.4h3.2v3.2h-3.2z" fill="#ff1ad9"/>
<path d="M302.6 135.6 303.8 135.5 305.0 135.4 306.2 135.3 307.4 135.2 308.6 135.1 309.8 135.0 311.0 134.9 312.3 134.8 313.5 134.7 314.7 134.6 315.9 134.5 317.1 134.4 318.3 134.3 319.5 134.2 320.7 134.1 321.9 134.0 323.1 133.8 324.3 133.7 325.5 133.6 326.7 133.5 327.9 133.4 329.1 133.3 330.3 133.1 331.6 133.0 332.8 132.9 334.0 132.8 335.2 132.6 336.4 132.5 337.6 132.4 338.8 132.3 340.0 132.1 341.2 132.0 342.4 131.9 343.6 131.7 344.8 131.6 346.0 131.4 347.2 131.3 348.4 131.2 349.6 131.0 350.9 130.9 352.1 130.7 353.3 130.6 354.5 130.4 355.7 130.3 356.9 130.1 358.1 130.0 359.3 129.8 360.5 129.6 361.7 129.5 362.9 129.3 364.1 129.2 365.3 129.0 366.5 128.8 367.7 128.7 368.9 128.5 370.2 128.3 371.4 128.1 372.6 127.9 373.8 127.8 375.0 127.6 376.2 127.4 377.4 127.2 378.6 127.0 379.8 126.8 381.0 126.7 382.2 126.5 383.4 126.3 384.6 126.1 385.8 125.9 387.0 125.7 388.2 125.5 389.5 125.3 390.7 125.0 391.9 124.8 393.1 124.6 394.3 124.3 395.5 124.0 396.7 123.7 397.9 123.4 399.1 123.1 400.3 122.7 401.5 122.3 402.7 121.8 403.9 121.4 405.1 120.8 406.3 120.3 407.5 119.7 408.8 119.1 410.0 118.5 411.2 117.9 412.4 117.2 413.6 116.6 414.8 115.9 416.0 115.2 417.2 114.6 418.4 113.9 419.6 113.1 420.8 112.4 422.0 111.6 423.2 110.8 424.4 110.0 425.6 109.3 426.8 108.4 428.1 107.3 429.3 105.9 430.5 104.3 431.7 102.9 432.9 101.4 434.1 99.3 435.3 95.5 436.5 89.7 437.7 83.5 438.9 77.4 440.1 72.3 441.3 67.8 442.5 64.3 443.7 62.4 444.9 61.1 446.1 59.9 447.4 58.9 448.6 58.1 449.8 57.4 451.0 56.7 452.2 56.1 453.4 55.5 454.6 55.0 455.8 54.4 457.0 53.8 458.2 53.1 459.4 52.4 460.6 51.5 461.8 50.5 463.0 49.5 464.2 48.4 465.4 47.2 466.7 46.0 467.9 44.8 469.1 43.6 470.3 42.4 471.5 41.2 472.7 39.9 473.9 38.7 475.1 37.5 476.3 36.3 477.5 35.2 478.7 34.1 479.9 33.0 481.1 32.0 482.3 30.9 483.5 29.9 484.7 28.8 486.0 27.8 487.2 26.8 488.4 25.8 489.6 24.8 490.8 23.8 492.0 22.8 493.2 21.8 494.4 20.9" stroke="#ff1ad9" stroke-width="1.2" fill="none"/>
<path d="M301.0 134.0h3.2v3.2h-3.2zM303.6 133.8h3.2v3.2h-3.2zM306.1 133.6h3.2v3.2h-3.2zM308.7 133.4h3.2v3.2h-3.2zM311.2 133.2h3.2v3.2h-3.2zM313.8 133.0h3.2v3.2h-3.2zM316.3 132.7h3.2v3.2h-3.2zM318.9 132.5h3.2v3.2h-3.2zM321.5 132.3h3.2v3.2h-3.2zM324.0 132.0h3.2v3.2h-3.2zM326.6 131.8h3.2v3.2h-3.2zM329.1 131.5h3.2v3.2h-3.2zM331.7 131.2h3.2v3.2h-3.2zM334.2 131.0h3.2v3.2h-3.2zM336.8 130.7h3.2v3.2h-3.2zM339.4 130.4h3.2v3.2h-3.2zM341.9 130.1h3.2v3.2h-3.2zM344.5 129.8h3.2v3.2h-3.2zM347.0 129.5h3.2v3.2h-3.2zM349.6 129.2h3.2v3.2h-3.2zM352.1 128.9h3.2v3.2h-3.2zM354.7 128.6h3.2v3.2h-3.2zM357.3 128.3h3.2v3.2h-3.2zM359.8 127.9h3.2v3.2h-3.2zM362.4 127.6h3.2v3.2h-3.2zM364.9 127.2h3.2v3.2h-3.2zM367.5 126.9h3.2v3.2h-3.2zM370.0 126.5h3.2v3.2h-3.2zM372.6 126.1h3.2v3.2h-3.2zM375.2 125.7h3.2v3.2h-3.2zM377.7 125.3h3.2v3.2h-3.2zM380.3 124.9h3.2v3.2h-3.2zM382.8 124.5h3.2v3.2h-3.2zM385.4 124.1h3.2v3.2h-3.2zM387.9 123.6h3.2v3.2h-3.2zM390.5 123.2h3.2v3.2h-3.2zM393.1 122.6h3.2v3.2h-3.2zM395.6 122.0h3.2v3.2h-3.2zM398.2 121.3h3.2v3.2h-3.2zM400.7 120.4h3.2v3.2h-3.2zM403.3 119.3h3.2v3.2h-3.2zM405.9 118.2h3.2v3.2h-3.2zM408.4 116.9h3.2v3.2h-3.2zM411.0 115.5h3.2v3.2h-3.2zM413.5 114.1h3.2v3.2h-3.2zM416.1 112.7h3.2v3.2h-3.2zM418.6 111.1h3.2v3.2h-3.2zM421.2 109.5h3.2v3.2h-3.2zM423.8 107.8h3.2v3.2h-3.2zM426.3 105.8h3.2v3.2h-3.2zM428.9 102.7h3.2v3.2h-3.2zM431.4 99.6h3.2v3.2h-3.2zM434.0 92.6h3.2v3.2h-3.2zM436.5 79.5h3.2v3.2h-3.2zM439.1 68.5h3.2v3.2h-3.2zM441.7 61.4h3.2v3.2h-3.2zM444.2 58.6h3.2v3.2h-3.2zM446.8 56.6h3.2v3.2h-3.2zM449.3 55.1h3.2v3.2h-3.2zM451.9 53.9h3.2v3.2h-3.2zM454.4 52.7h3.2v3.2h-3.2zM457.0 51.3h3.2v3.2h-3.2zM459.6 49.5h3.2v3.2h-3.2zM462.1 47.2h3.2v3.2h-3.2zM464.7 44.8h3.2v3.2h-3.2zM467.2 42.3h3.2v3.2h-3.2zM469.8 39.7h3.2v3.2h-3.2zM472.3 37.1h3.2v3.2h-3.2zM474.9 34.5h3.2v3.2h-3.2zM477.5 32.2h3.2v3.2h-3.2zM480.0 29.9h3.2v3.2h-3.2zM482.6 27.7h3.2v3.2h-3.2zM485.1 25.5h3.2v3.2h-3.2zM487.7 23.4h3.2v3.2h-3.2zM490.2 21.3h3.2v3.2h-3.2zM492.8 19.3h3.2v3.2h-3.2z" fill="#ff1ad9"/>
<path d="M494.4 23.8 493.2 23.8 492.0 23.8 490.8 23.8 489.6 23.9 488.4 23.9 487.2 24.0 486.0 24.0 484.7 24.0 483.5 24.1 482.3 24.1 481.1 24.1 479.9 24.2 478.7 24.2 477.5 24.3 476.3 24.3 475.1 24.3 473.9 24.4 472.7 24.4 471.5 24.5 470.3 24.5 469.1 24.5 467.9 24.6 466.7 24.6 465.4 24.7 464.2 24.7 463.0 24.8 461.8 24.8 460.6 24.9 459.4 24.9 458.2 25.0 457.0 25.0 455.8 25.1 454.6 25.1 453.4 25.2 452.2 25.2 451.0 25.3 449.8 25.3 448.6 25.4 447.4 25.4 446.1 25.5 444.9 25.5 443.7 25.6 442.5 25.6 441.3 25.7 440.1 25.7 438.9 25.8 437.7 25.8 436.5 25.9 435.3 26.0 434.1 26.0 432.9 26.1 431.7 26.2 430.5 26.2 429.3 26.3 428.1 26.4 426.8 26.4 425.6 26.5 424.4 26.6 423.2 26.7 422.0 26.8 420.8 26.9 419.6 27.0 418.4 27.1 417.2 27.2 416.0 27.3 414.8 27.5 413.6 27.6 412.4 27.8 411.2 28.0 410.0 28.2 408.8 28.4 407.5 28.7 406.3 29.0 405.1 29.2 403.9 29.5 402.7 29.9 401.5 30.2 400.3 30.5 399.1 30.8 397.9 31.2 396.7 31.5 395.5 31.9 394.3 32.3 393.1 32.7 391.9 33.2 390.7 33.6 389.5 34.1 388.2 34.7 387.0 35.2 385.8 35.8 384.6 36.5 383.4 37.2 382.2 38.0 381.0 38.9 379.8 40.0 378.6 41.4 377.4 43.3 376.2 45.2 375.0 46.8 373.8 48.4 372.6 50.4 371.4 53.2 370.2 58.1 368.9 65.6 367.7 78.4 366.5 84.7 365.3 89.5 364.1 93.1 362.9 95.4 361.7 97.2 360.5 98.7 359.3 99.9 358.1 101.0 356.9 102.0 355.7 102.9 354.5 103.7 353.3 104.6 352.1 105.4 350.9 106.4 349.6 107.4 348.4 108.5 347.2 109.5 346.0 110.6 344.8 111.6 343.6 112.7 342.4 113.7 341.2 114.7 340.0 115.7 338.8 116.6 337.6 117.5 336.4 118.3 335.2 119.1 334.0 119.8 332.8 120.5 331.6 121.1 330.3 121.7 329.1 122.3 327.9 122.8 326.7 123.4 325.5 123.9 324.3 124.4 323.1 124.9 321.9 125.4 320.7 125.9 319.5 126.3 318.3 126.7 317.1 127.2 315.9 127.6 314.7 128.0 313.5 128.4 312.3 128.8 311.0 129.2 309.8 129.6 308.6 129.9 307.4 130.3 306.2 130.6 305.0 131.0 303.8 131.3 302.6 131.6" stroke="#ff6a2a" stroke-width="1.2" fill="none"/>
<path d="M492.8 23.8a1.6 1.6 0 1 0 3.2 0a1.6 1.6 0 1 0 -3.2 0zM490.2 23.8a1.6 1.6 0 1 0 3.2 0a1.6 1.6 0 1 0 -3.2 0zM487.7 23.9a1.6 1.6 0 1 0 3.2 0a1.6 1.6 0 1 0 -3.2 0zM485.1 24.0a1.6 1.6 0 1 0 3.2 0a1.6 1.6 0 1 0 -3.2 0zM482.6 24.0a1.6 1.6 0 1 0 3.2 0a1.6 1.6 0 1 0 -3.2 0zM480.0 24.1a1.6 1.6 0 1 0 3.2 0a1.6 1.6 0 1 0 -3.2 0zM477.5 24.2a1.6 1.6 0 1 0 3.2 0a1.6 1.6 0 1 0 -3.2 0zM474.9 24.3a1.6 1.6 0 1 0 3.2 0a1.6 1.6 0 1 0 -3.2 0zM472.3 24.4a1.6 1.6 0 1 0 3.2 0a1.6 1.6 0 1 0 -3.2 0zM469.8 24.5a1.6 1.6 0 1 0 3.2 0a1.6 1.6 0 1 0 -3.2 0zM467.2 24.6a1.6 1.6 0 1 0 3.2 0a1.6 1.6 0 1 0 -3.2 0zM464.7 24.7a1.6 1.6 0 1 0 3.2 0a1.6 1.6 0 1 0 -3.2 0zM462.1 24.8a1.6 1.6 0 1 0 3.2 0a1.6 1.6 0 1 0 -3.2 0zM459.6 24.9a1.6 1.6 0 1 0 3.2 0a1.6 1.6 0 1 0 -3.2 0zM457.0 25.0a1.6 1.6 0 1 0 3.2 0a1.6 1.6 0 1 0 -3.2 0zM454.4 25.1a1.6 1.6 0 1 0 3.2 0a1.6 1.6 0 1 0 -3.2 0zM451.9 25.2a1.6 1.6 0 1 0 3.2 0a1.6 1.6 0 1 0 -3.2 0zM449.3 25.3a1.6 1.6 0 1 0 3.2 0a1.6 1.6 0 1 0 -3.2 0zM446.8 25.4a1.6 1.6 0 1 0 3.2 0a1.6 1.6 0 1 0 -3.2 0zM444.2 25.5a1.6 1.6 0 1 0 3.2 0a1.6 1.6 0 1 0 -3.2 0zM441.7 25.6a1.6 1.6 0 1 0 3.2 0a1.6 1.6 0 1 0 -3.2 0zM439.1 25.7a1.6 1.6 0 1 0 3.2 0a1.6 1.6 0 1 0 -3.2 0zM436.5 25.8a1.6 1.6 0 1 0 3.2 0a1.6 1.6 0 1 0 -3.2 0zM434.0 25.9a1.6 1.6 0 1 0 3.2 0a1.6 1.6 0 1 0 -3.2 0zM431.4 26.1a1.6 1.6 0 1 0 3.2 0a1.6 1.6 0 1 0 -3.2 0zM428.9 26.2a1.6 1.6 0 1 0 3.2 0a1.6 1.6 0 1 0 -3.2 0zM426.3 26.4a1.6 1.6 0 1 0 3.2 0a1.6 1.6 0 1 0 -3.2 0zM423.8 26.5a1.6 1.6 0 1 0 3.2 0a1.6 1.6 0 1 0 -3.2 0zM421.2 26.7a1.6 1.6 0 1 0 3.2 0a1.6 1.6 0 1 0 -3.2 0zM418.6 26.9a1.6 1.6 0 1 0 3.2 0a1.6 1.6 0 1 0 -3.2 0zM416.1 27.1a1.6 1.6 0 1 0 3.2 0a1.6 1.6 0 1 0 -3.2 0zM413.5 27.4a1.6 1.6 0 1 0 3.2 0a1.6 1.6 0 1 0 -3.2 0zM411.0 27.8a1.6 1.6 0 1 0 3.2 0a1.6 1.6 0 1 0 -3.2 0zM408.4 28.2a1.6 1.6 0 1 0 3.2 0a1.6 1.6 0 1 0 -3.2 0zM405.9 28.7a1.6 1.6 0 1 0 3.2 0a1.6 1.6 0 1 0 -3.2 0zM403.3 29.3a1.6 1.6 0 1 0 3.2 0a1.6 1.6 0 1 0 -3.2 0zM400.7 30.0a1.6 1.6 0 1 0 3.2 0a1.6 1.6 0 1 0 -3.2 0zM398.2 30.6a1.6 1.6 0 1 0 3.2 0a1.6 1.6 0 1 0 -3.2 0zM395.6 31.4a1.6 1.6 0 1 0 3.2 0a1.6 1.6 0 1 0 -3.2 0zM393.1 32.2a1.6 1.6 0 1 0 3.2 0a1.6 1.6 0 1 0 -3.2 0zM390.5 33.1a1.6 1.6 0 1 0 3.2 0a1.6 1.6 0 1 0 -3.2 0zM387.9 34.1a1.6 1.6 0 1 0 3.2 0a1.6 1.6 0 1 0 -3.2 0zM385.4 35.2a1.6 1.6 0 1 0 3.2 0a1.6 1.6 0 1 0 -3.2 0zM382.8 36.6a1.6 1.6 0 1 0 3.2 0a1.6 1.6 0 1 0 -3.2 0zM380.3 38.2a1.6 1.6 0 1 0 3.2 0a1.6 1.6 0 1 0 -3.2 0zM377.7 40.5a1.6 1.6 0 1 0 3.2 0a1.6 1.6 0 1 0 -3.2 0zM375.2 44.3a1.6 1.6 0 1 0 3.2 0a1.6 1.6 0 1 0 -3.2 0zM372.6 47.8a1.6 1.6 0 1 0 3.2 0a1.6 1.6 0 1 0 -3.2 0zM370.0 52.4a1.6 1.6 0 1 0 3.2 0a1.6 1.6 0 1 0 -3.2 0zM367.5 64.5a1.6 1.6 0 1 0 3.2 0a1.6 1.6 0 1 0 -3.2 0zM364.9 84.7a1.6 1.6 0 1 0 3.2 0a1.6 1.6 0 1 0 -3.2 0zM362.4 93.4a1.6 1.6 0 1 0 3.2 0a1.6 1.6 0 1 0 -3.2 0zM359.8 97.6a1.6 1.6 0 1 0 3.2 0a1.6 1.6 0 1 0 -3.2 0zM357.3 100.4a1.6 1.6 0 1 0 3.2 0a1.6 1.6 0 1 0 -3.2 0zM354.7 102.5a1.6 1.6 0 1 0 3.2 0a1.6 1.6 0 1 0 -3.2 0zM352.1 104.2a1.6 1.6 0 1 0 3.2 0a1.6 1.6 0 1 0 -3.2 0zM349.6 106.1a1.6 1.6 0 1 0 3.2 0a1.6 1.6 0 1 0 -3.2 0zM347.0 108.3a1.6 1.6 0 1 0 3.2 0a1.6 1.6 0 1 0 -3.2 0zM344.5 110.5a1.6 1.6 0 1 0 3.2 0a1.6 1.6 0 1 0 -3.2 0zM341.9 112.8a1.6 1.6 0 1 0 3.2 0a1.6 1.6 0 1 0 -3.2 0zM339.4 114.9a1.6 1.6 0 1 0 3.2 0a1.6 1.6 0 1 0 -3.2 0zM336.8 116.9a1.6 1.6 0 1 0 3.2 0a1.6 1.6 0 1 0 -3.2 0zM334.2 118.7a1.6 1.6 0 1 0 3.2 0a1.6 1.6 0 1 0 -3.2 0zM331.7 120.2a1.6 1.6 0 1 0 3.2 0a1.6 1.6 0 1 0 -3.2 0zM329.1 121.5a1.6 1.6 0 1 0 3.2 0a1.6 1.6 0 1 0 -3.2 0zM326.6 122.7a1.6 1.6 0 1 0 3.2 0a1.6 1.6 0 1 0 -3.2 0zM324.0 123.9a1.6 1.6 0 1 0 3.2 0a1.6 1.6 0 1 0 -3.2 0zM321.5 124.9a1.6 1.6 0 1 0 3.2 0a1.6 1.6 0 1 0 -3.2 0zM318.9 125.9a1.6 1.6 0 1 0 3.2 0a1.6 1.6 0 1 0 -3.2 0zM316.3 126.9a1.6 1.6 0 1 0 3.2 0a1.6 1.6 0 1 0 -3.2 0zM313.8 127.8a1.6 1.6 0 1 0 3.2 0a1.6 1.6 0 1 0 -3.2 0zM311.2 128.6a1.6 1.6 0 1 0 3.2 0a1.6 1.6 0 1 0 -3.2 0zM308.7 129.5a1.6 1.6 0 1 0 3.2 0a1.6 1.6 0 1 0 -3.2 0zM306.1 130.2a1.6 1.6 0 1 0 3.2 0a1.6 1.6 0 1 0 -3.2 0zM303.6 130.9a1.6 1.6 0 1 0 3.2 0a1.6 1.6 0 1 0 -3.2 0zM301.0 131.6a1.6 1.6 0 1 0 3.2 0a1.6 1.6 0 1 0 -3.2 0z" fill="#ff6a2a"/>
<path d="M302.6 132.1 303.8 132.1 305.0 132.1 306.2 132.1 307.4 132.0 308.6 132.0 309.8 131.9 311.0 131.9 312.3 131.9 313.5 131.8 314.7 131.8 315.9 131.8 317.1 131.7 318.3 131.7 319.5 131.6 320.7 131.6 321.9 131.6 323.1 131.5 324.3 131.5 325.5 131.4 326.7 131.4 327.9 131.4 329.1 131.3 330.3 131.3 331.6 131.2 332.8 131.2 334.0 131.1 335.2 131.1 336.4 131.0 337.6 131.0 338.8 130.9 340.0 130.9 341.2 130.8 342.4 130.8 343.6 130.7 344.8 130.7 346.0 130.6 347.2 130.6 348.4 130.5 349.6 130.5 350.9 130.4 352.1 130.4 353.3 130.3 354.5 130.3 355.7 130.2 356.9 130.2 358.1 130.1 359.3 130.1 360.5 130.0 361.7 129.9 362.9 129.9 364.1 129.8 365.3 129.7 366.5 129.7 367.7 129.6 368.9 129.5 370.2 129.5 371.4 129.4 372.6 129.3 373.8 129.2 375.0 129.1 376.2 129.0 377.4 128.9 378.6 128.8 379.8 128.7 381.0 128.6 382.2 128.4 383.4 128.3 384.6 128.1 385.8 127.9 387.0 127.7 388.2 127.5 389.5 127.2 390.7 126.9 391.9 126.7 393.1 126.4 394.3 126.0 395.5 125.7 396.7 125.4 397.9 125.1 399.1 124.7 400.3 124.4 401.5 124.0 402.7 123.6 403.9 123.2 405.1 122.7 406.3 122.3 407.5 121.8 408.8 121.2 410.0 120.7 411.2 120.1 412.4 119.4 413.6 118.7 414.8 117.9 416.0 117.0 417.2 115.9 418.4 114.5 419.6 112.6 420.8 110.7 422.0 109.1 423.2 107.5 424.4 105.5 425.6 102.7 426.8 97.8 428.1 90.3 429.3 77.5 430.5 71.2 431.7 66.4 432.9 62.8 434.1 60.5 435.3 58.7 436.5 57.2 437.7 56.0 438.9 54.9 440.1 53.9 441.3 53.0 442.5 52.2 443.7 51.3 444.9 50.5 446.1 49.5 447.4 48.5 448.6 47.4 449.8 46.4 451.0 45.3 452.2 44.3 453.4 43.2 454.6 42.2 455.8 41.2 457.0 40.2 458.2 39.3 459.4 38.4 460.6 37.6 461.8 36.8 463.0 36.1 464.2 35.4 465.4 34.8 466.7 34.2 467.9 33.6 469.1 33.1 470.3 32.5 471.5 32.0 472.7 31.5 473.9 31.0 475.1 30.5 476.3 30.0 477.5 29.6 478.7 29.2 479.9 28.7 481.1 28.3 482.3 27.9 483.5 27.5 484.7 27.1 486.0 26.7 487.2 26.3 488.4 26.0 489.6 25.6 490.8 25.3 492.0 24.9 493.2 24.6 494.4 24.3" stroke="#ff6a2a" stroke-width="1.2" fill="none"/>
<path d="M301.0 132.1a1.6 1.6 0 1 0 3.2 0a1.6 1.6 0 1 0 -3.2 0zM303.6 132.1a1.6 1.6 0 1 0 3.2 0a1.6 1.6 0 1 0 -3.2 0zM306.1 132.0a1.6 1.6 0 1 0 3.2 0a1.6 1.6 0 1 0 -3.2 0zM308.7 131.9a1.6 1.6 0 1 0 3.2 0a1.6 1.6 0 1 0 -3.2 0zM311.2 131.9a1.6 1.6 0 1 0 3.2 0a1.6 1.6 0 1 0 -3.2 0zM313.8 131.8a1.6 1.6 0 1 0 3.2 0a1.6 1.6 0 1 0 -3.2 0zM316.3 131.7a1.6 1.6 0 1 0 3.2 0a1.6 1.6 0 1 0 -3.2 0zM318.9 131.6a1.6 1.6 0 1 0 3.2 0a1.6 1.6 0 1 0 -3.2 0zM321.5 131.5a1.6 1.6 0 1 0 3.2 0a1.6 1.6 0 1 0 -3.2 0zM324.0 131.4a1.6 1.6 0 1 0 3.2 0a1.6 1.6 0 1 0 -3.2 0zM326.6 131.3a1.6 1.6 0 1 0 3.2 0a1.6 1.6 0 1 0 -3.2 0zM329.1 131.2a1.6 1.6 0 1 0 3.2 0a1.6 1.6 0 1 0 -3.2 0zM331.7 131.1a1.6 1.6 0 1 0 3.2 0a1.6 1.6 0 1 0 -3.2 0zM334.2 131.0a1.6 1.6 0 1 0 3.2 0a1.6 1.6 0 1 0 -3.2 0zM336.8 130.9a1.6 1.6 0 1 0 3.2 0a1.6 1.6 0 1 0 -3.2 0zM339.4 130.8a1.6 1.6 0 1 0 3.2 0a1.6 1.6 0 1 0 -3.2 0zM341.9 130.7a1.6 1.6 0 1 0 3.2 0a1.6 1.6 0 1 0 -3.2 0zM344.5 130.6a1.6 1.6 0 1 0 3.2 0a1.6 1.6 0 1 0 -3.2 0zM347.0 130.5a1.6 1.6 0 1 0 3.2 0a1.6 1.6 0 1 0 -3.2 0zM349.6 130.4a1.6 1.6 0 1 0 3.2 0a1.6 1.6 0 1 0 -3.2 0zM352.1 130.3a1.6 1.6 0 1 0 3.2 0a1.6 1.6 0 1 0 -3.2 0zM354.7 130.2a1.6 1.6 0 1 0 3.2 0a1.6 1.6 0 1 0 -3.2 0zM357.3 130.1a1.6 1.6 0 1 0 3.2 0a1.6 1.6 0 1 0 -3.2 0zM359.8 130.0a1.6 1.6 0 1 0 3.2 0a1.6 1.6 0 1 0 -3.2 0zM362.4 129.8a1.6 1.6 0 1 0 3.2 0a1.6 1.6 0 1 0 -3.2 0zM364.9 129.7a1.6 1.6 0 1 0 3.2 0a1.6 1.6 0 1 0 -3.2 0zM367.5 129.5a1.6 1.6 0 1 0 3.2 0a1.6 1.6 0 1 0 -3.2 0zM370.0 129.4a1.6 1.6 0 1 0 3.2 0a1.6 1.6 0 1 0 -3.2 0zM372.6 129.2a1.6 1.6 0 1 0 3.2 0a1.6 1.6 0 1 0 -3.2 0zM375.2 129.0a1.6 1.6 0 1 0 3.2 0a1.6 1.6 0 1 0 -3.2 0zM377.7 128.8a1.6 1.6 0 1 0 3.2 0a1.6 1.6 0 1 0 -3.2 0zM380.3 128.5a1.6 1.6 0 1 0 3.2 0a1.6 1.6 0 1 0 -3.2 0zM382.8 128.1a1.6 1.6 0 1 0 3.2 0a1.6 1.6 0 1 0 -3.2 0zM385.4 127.7a1.6 1.6 0 1 0 3.2 0a1.6 1.6 0 1 0 -3.2 0zM387.9 127.2a1.6 1.6 0 1 0 3.2 0a1.6 1.6 0 1 0 -3.2 0zM390.5 126.6a1.6 1.6 0 1 0 3.2 0a1.6 1.6 0 1 0 -3.2 0zM393.1 125.9a1.6 1.6 0 1 0 3.2 0a1.6 1.6 0 1 0 -3.2 0zM395.6 125.3a1.6 1.6 0 1 0 3.2 0a1.6 1.6 0 1 0 -3.2 0zM398.2 124.5a1.6 1.6 0 1 0 3.2 0a1.6 1.6 0 1 0 -3.2 0zM400.7 123.7a1.6 1.6 0 1 0 3.2 0a1.6 1.6 0 1 0 -3.2 0zM403.3 122.8a1.6 1.6 0 1 0 3.2 0a1.6 1.6 0 1 0 -3.2 0zM405.9 121.8a1.6 1.6 0 1 0 3.2 0a1.6 1.6 0 1 0 -3.2 0zM408.4 120.7a1.6 1.6 0 1 0 3.2 0a1.6 1.6 0 1 0 -3.2 0zM411.0 119.3a1.6 1.6 0 1 0 3.2 0a1.6 1.6 0 1 0 -3.2 0zM413.5 117.7a1.6 1.6 0 1 0 3.2 0a1.6 1.6 0 1 0 -3.2 0zM416.1 115.4a1.6 1.6 0 1 0 3.2 0a1.6 1.6 0 1 0 -3.2 0zM418.6 111.6a1.6 1.6 0 1 0 3.2 0a1.6 1.6 0 1 0 -3.2 0zM421.2 108.1a1.6 1.6 0 1 0 3.2 0a1.6 1.6 0 1 0 -3.2 0zM423.8 103.5a1.6 1.6 0 1 0 3.2 0a1.6 1.6 0 1 0 -3.2 0zM426.3 91.4a1.6 1.6 0 1 0 3.2 0a1.6 1.6 0 1 0 -3.2 0zM428.9 71.2a1.6 1.6 0 1 0 3.2 0a1.6 1.6 0 1 0 -3.2 0zM431.4 62.5a1.6 1.6 0 1 0 3.2 0a1.6 1.6 0 1 0 -3.2 0zM434.0 58.3a1.6 1.6 0 1 0 3.2 0a1.6 1.6 0 1 0 -3.2 0zM436.5 55.5a1.6 1.6 0 1 0 3.2 0a1.6 1.6 0 1 0 -3.2 0zM439.1 53.4a1.6 1.6 0 1 0 3.2 0a1.6 1.6 0 1 0 -3.2 0zM441.7 51.7a1.6 1.6 0 1 0 3.2 0a1.6 1.6 0 1 0 -3.2 0zM444.2 49.8a1.6 1.6 0 1 0 3.2 0a1.6 1.6 0 1 0 -3.2 0zM446.8 47.6a1.6 1.6 0 1 0 3.2 0a1.6 1.6 0 1 0 -3.2 0zM449.3 45.4a1.6 1.6 0 1 0 3.2 0a1.6 1.6 0 1 0 -3.2 0zM451.9 43.1a1.6 1.6 0 1 0 3.2 0a1.6 1.6 0 1 0 -3.2 0zM454.4 41.0a1.6 1.6 0 1 0 3.2 0a1.6 1.6 0 1 0 -3.2 0zM457.0 39.0a1.6 1.6 0 1 0 3.2 0a1.6 1.6 0 1 0 -3.2 0zM459.6 37.2a1.6 1.6 0 1 0 3.2 0a1.6 1.6 0 1 0 -3.2 0zM462.1 35.7a1.6 1.6 0 1 0 3.2 0a1.6 1.6 0 1 0 -3.2 0zM464.7 34.4a1.6 1.6 0 1 0 3.2 0a1.6 1.6 0 1 0 -3.2 0zM467.2 33.2a1.6 1.6 0 1 0 3.2 0a1.6 1.6 0 1 0 -3.2 0zM469.8 32.0a1.6 1.6 0 1 0 3.2 0a1.6 1.6 0 1 0 -3.2 0zM472.3 31.0a1.6 1.6 0 1 0 3.2 0a1.6 1.6 0 1 0 -3.2 0zM474.9 30.0a1.6 1.6 0 1 0 3.2 0a1.6 1.6 0 1 0 -3.2 0zM477.5 29.0a1.6 1.6 0 1 0 3.2 0a1.6 1.6 0 1 0 -3.2 0zM480.0 28.1a1.6 1.6 0 1 0 3.2 0a1.6 1.6 0 1 0 -3.2 0zM482.6 27.3a1.6 1.6 0 1 0 3.2 0a1.6 1.6 0 1 0 -3.2 0zM485.1 26.4a1.6 1.6 0 1 0 3.2 0a1.6 1.6 0 1 0 -3.2 0zM487.7 25.7a1.6 1.6 0 1 0 3.2 0a1.6 1.6 0 1 0 -3.2 0zM490.2 25.0a1.6 1.6 0 1 0 3.2 0a1.6 1.6 0 1 0 -3.2 0zM492.8 24.3a1.6 1.6 0 1 0 3.2 0a1.6 1.6 0 1 0 -3.2 0z" fill="#ff6a2a"/>
<path d="M494.4 25.8 493.2 25.8 492.0 25.8 490.8 25.8 489.6 25.8 488.4 25.8 487.2 25.8 486.0 25.9 484.7 25.9 483.5 25.9 482.3 26.0 481.1 26.0 479.9 26.0 478.7 26.1 477.5 26.1 476.3 26.2 475.1 26.3 473.9 26.3 472.7 26.4 471.5 26.4 470.3 26.5 469.1 26.6 467.9 26.7 466.7 26.8 465.4 26.8 464.2 26.9 463.0 27.0 461.8 27.1 460.6 27.2 459.4 27.3 458.2 27.4 457.0 27.5 455.8 27.6 454.6 27.7 453.4 27.8 452.2 28.0 451.0 28.1 449.8 28.2 448.6 28.3 447.4 28.4 446.1 28.6 444.9 28.7 443.7 28.8 442.5 29.0 441.3 29.1 440.1 29.2 438.9 29.4 437.7 29.5 436.5 29.7 435.3 29.8 434.1 30.0 432.9 30.1 431.7 30.3 430.5 30.4 429.3 30.6 428.1 30.7 426.8 30.9 425.6 31.0 424.4 31.2 423.2 31.4 422.0 31.5 420.8 31.7 419.6 31.9 418.4 32.1 417.2 32.3 416.0 32.5 414.8 32.7 413.6 33.0 412.4 33.3 411.2 33.6 410.0 33.9 408.8 34.3 407.5 34.6 406.3 35.0 405.1 35.4 403.9 35.8 402.7 36.2 401.5 36.6 400.3 37.1 399.1 37.6 397.9 38.1 396.7 38.6 395.5 39.2 394.3 39.8 393.1 40.5 391.9 41.2 390.7 42.0 389.5 42.8 388.2 43.7 387.0 44.7 385.8 45.7 384.6 46.8 383.4 48.1 382.2 49.6 381.0 51.6 379.8 54.6 378.6 59.6 377.4 67.4 376.2 77.6 375.0 83.0 373.8 87.5 372.6 91.2 371.4 94.3 370.2 97.0 368.9 99.4 367.7 101.6 366.5 103.5 365.3 105.2 364.1 106.6 362.9 107.9 361.7 109.1 360.5 110.2 359.3 111.3 358.1 112.3 356.9 113.2 355.7 114.1 354.5 114.8 353.3 115.6 352.1 116.2 350.9 116.8 349.6 117.3 348.4 117.9 347.2 118.4 346.0 118.9 344.8 119.4 343.6 119.9 342.4 120.4 341.2 120.9 340.0 121.4 338.8 121.9 337.6 122.4 336.4 122.8 335.2 123.3 334.0 123.7 332.8 124.1 331.6 124.6 330.3 125.0 329.1 125.4 327.9 125.8 326.7 126.1 325.5 126.5 324.3 126.8 323.1 127.2 321.9 127.5 320.7 127.8 319.5 128.1 318.3 128.3 317.1 128.6 315.9 128.8 314.7 129.1 313.5 129.3 312.3 129.4 311.0 129.6 309.8 129.7 308.6 129.9 307.4 130.0 306.2 130.0 305.0 130.1 303.8 130.1 302.6 130.1" stroke="#f2a52a" stroke-width="1.2" fill="none"/>
<path d="M494.4 23.9l1.8 3.0h-3.5zM491.8 23.9l1.8 3.0h-3.5zM489.3 24.0l1.8 3.0h-3.5zM486.7 24.0l1.8 3.0h-3.5zM484.2 24.1l1.8 3.0h-3.5zM481.6 24.1l1.8 3.0h-3.5zM479.1 24.2l1.8 3.0h-3.5zM476.5 24.3l1.8 3.0h-3.5zM473.9 24.5l1.8 3.0h-3.5zM471.4 24.6l1.8 3.0h-3.5zM468.8 24.8l1.8 3.0h-3.5zM466.3 24.9l1.8 3.0h-3.5zM463.7 25.1l1.8 3.0h-3.5zM461.2 25.3l1.8 3.0h-3.5zM458.6 25.5l1.8 3.0h-3.5zM456.0 25.8l1.8 3.0h-3.5zM453.5 26.0l1.8 3.0h-3.5zM450.9 26.2l1.8 3.0h-3.5zM448.4 26.5l1.8 3.0h-3.5zM445.8 26.8l1.8 3.0h-3.5zM443.3 27.0l1.8 3.0h-3.5zM440.7 27.3l1.8 3.0h-3.5zM438.1 27.6l1.8 3.0h-3.5zM435.6 27.9l1.8 3.0h-3.5zM433.0 28.2l1.8 3.0h-3.5zM430.5 28.6l1.8 3.0h-3.5zM427.9 28.9l1.8 3.0h-3.5zM425.4 29.2l1.8 3.0h-3.5zM422.8 29.6l1.8 3.0h-3.5zM420.2 29.9l1.8 3.0h-3.5zM417.7 30.3l1.8 3.0h-3.5zM415.1 30.8l1.8 3.0h-3.5zM412.6 31.4l1.8 3.0h-3.5zM410.0 32.1l1.8 3.0h-3.5zM407.5 32.8l1.8 3.0h-3.5zM404.9 33.6l1.8 3.0h-3.5zM402.3 34.5l1.8 3.0h-3.5zM399.8 35.5l1.8 3.0h-3.5zM397.2 36.5l1.8 3.0h-3.5zM394.7 37.7l1.8 3.0h-3.5zM392.1 39.2l1.8 3.0h-3.5zM389.5 40.9l1.8 3.0h-3.5zM387.0 42.9l1.8 3.0h-3.5zM384.4 45.2l1.8 3.0h-3.5zM381.9 48.3l1.8 3.0h-3.5zM379.3 54.6l1.8 3.0h-3.5zM376.8 71.5l1.8 3.0h-3.5zM374.2 84.1l1.8 3.0h-3.5zM371.6 91.8l1.8 3.0h-3.5zM369.1 97.3l1.8 3.0h-3.5zM366.5 101.7l1.8 3.0h-3.5zM364.0 105.0l1.8 3.0h-3.5zM361.4 107.5l1.8 3.0h-3.5zM358.9 109.8l1.8 3.0h-3.5zM356.3 111.8l1.8 3.0h-3.5zM353.7 113.4l1.8 3.0h-3.5zM351.2 114.8l1.8 3.0h-3.5zM348.6 115.9l1.8 3.0h-3.5zM346.1 117.0l1.8 3.0h-3.5zM343.5 118.1l1.8 3.0h-3.5zM341.0 119.2l1.8 3.0h-3.5zM338.4 120.2l1.8 3.0h-3.5zM335.8 121.2l1.8 3.0h-3.5zM333.3 122.1l1.8 3.0h-3.5zM330.7 123.0l1.8 3.0h-3.5zM328.2 123.8l1.8 3.0h-3.5zM325.6 124.6l1.8 3.0h-3.5zM323.1 125.3l1.8 3.0h-3.5zM320.5 126.0l1.8 3.0h-3.5zM317.9 126.6l1.8 3.0h-3.5zM315.4 127.1l1.8 3.0h-3.5zM312.8 127.5l1.8 3.0h-3.5zM310.3 127.8l1.8 3.0h-3.5zM307.7 128.1l1.8 3.0h-3.5zM305.2 128.2l1.8 3.0h-3.5zM302.6 128.3l1.8 3.0h-3.5z" fill="#f2a52a"/>
<path d="M302.6 130.1 303.8 130.1 305.0 130.1 306.2 130.1 307.4 130.1 308.6 130.1 309.8 130.1 311.0 130.0 312.3 130.0 313.5 130.0 314.7 129.9 315.9 129.9 317.1 129.9 318.3 129.8 319.5 129.8 320.7 129.7 321.9 129.6 323.1 129.6 324.3 129.5 325.5 129.5 326.7 129.4 327.9 129.3 329.1 129.2 330.3 129.1 331.6 129.1 332.8 129.0 334.0 128.9 335.2 128.8 336.4 128.7 337.6 128.6 338.8 128.5 340.0 128.4 341.2 128.3 342.4 128.2 343.6 128.1 344.8 127.9 346.0 127.8 347.2 127.7 348.4 127.6 349.6 127.5 350.9 127.3 352.1 127.2 353.3 127.1 354.5 126.9 355.7 126.8 356.9 126.7 358.1 126.5 359.3 126.4 360.5 126.2 361.7 126.1 362.9 125.9 364.1 125.8 365.3 125.6 366.5 125.5 367.7 125.3 368.9 125.2 370.2 125.0 371.4 124.9 372.6 124.7 373.8 124.5 375.0 124.4 376.2 124.2 377.4 124.0 378.6 123.8 379.8 123.6 381.0 123.4 382.2 123.2 383.4 122.9 384.6 122.6 385.8 122.3 387.0 122.0 388.2 121.6 389.5 121.3 390.7 120.9 391.9 120.5 393.1 120.1 394.3 119.7 395.5 119.3 396.7 118.8 397.9 118.3 399.1 117.8 400.3 117.3 401.5 116.7 402.7 116.1 403.9 115.4 405.1 114.7 406.3 113.9 407.5 113.1 408.8 112.2 410.0 111.2 411.2 110.2 412.4 109.1 413.6 107.8 414.8 106.3 416.0 104.3 417.2 101.3 418.4 96.3 419.6 88.5 420.8 78.3 422.0 72.9 423.2 68.4 424.4 64.7 425.6 61.6 426.8 58.9 428.1 56.5 429.3 54.3 430.5 52.4 431.7 50.7 432.9 49.3 434.1 48.0 435.3 46.8 436.5 45.7 437.7 44.6 438.9 43.6 440.1 42.7 441.3 41.8 442.5 41.1 443.7 40.3 444.9 39.7 446.1 39.1 447.4 38.6 448.6 38.0 449.8 37.5 451.0 37.0 452.2 36.5 453.4 36.0 454.6 35.5 455.8 35.0 457.0 34.5 458.2 34.0 459.4 33.5 460.6 33.1 461.8 32.6 463.0 32.2 464.2 31.8 465.4 31.3 466.7 30.9 467.9 30.5 469.1 30.1 470.3 29.8 471.5 29.4 472.7 29.1 473.9 28.7 475.1 28.4 476.3 28.1 477.5 27.8 478.7 27.6 479.9 27.3 481.1 27.1 482.3 26.8 483.5 26.6 484.7 26.5 486.0 26.3 487.2 26.2 488.4 26.0 489.6 25.9 490.8 25.9 492.0 25.8 493.2 25.8 494.4 25.8" stroke="#f2a52a" stroke-width="1.2" fill="none"/>
<path d="M302.6 128.3l1.8 3.0h-3.5zM305.2 128.3l1.8 3.0h-3.5zM307.7 128.3l1.8 3.0h-3.5zM310.3 128.2l1.8 3.0h-3.5zM312.8 128.2l1.8 3.0h-3.5zM315.4 128.1l1.8 3.0h-3.5zM317.9 128.0l1.8 3.0h-3.5zM320.5 127.9l1.8 3.0h-3.5zM323.1 127.7l1.8 3.0h-3.5zM325.6 127.6l1.8 3.0h-3.5zM328.2 127.5l1.8 3.0h-3.5zM330.7 127.3l1.8 3.0h-3.5zM333.3 127.1l1.8 3.0h-3.5zM335.8 126.9l1.8 3.0h-3.5zM338.4 126.7l1.8 3.0h-3.5zM341.0 126.5l1.8 3.0h-3.5zM343.5 126.2l1.8 3.0h-3.5zM346.1 126.0l1.8 3.0h-3.5zM348.6 125.7l1.8 3.0h-3.5zM351.2 125.5l1.8 3.0h-3.5zM353.7 125.2l1.8 3.0h-3.5zM356.3 124.9l1.8 3.0h-3.5zM358.9 124.6l1.8 3.0h-3.5zM361.4 124.3l1.8 3.0h-3.5zM364.0 124.0l1.8 3.0h-3.5zM366.5 123.6l1.8 3.0h-3.5zM369.1 123.3l1.8 3.0h-3.5zM371.6 123.0l1.8 3.0h-3.5zM374.2 122.6l1.8 3.0h-3.5zM376.8 122.3l1.8 3.0h-3.5zM379.3 121.9l1.8 3.0h-3.5zM381.9 121.4l1.8 3.0h-3.5zM384.4 120.8l1.8 3.0h-3.5zM387.0 120.1l1.8 3.0h-3.5zM389.5 119.4l1.8 3.0h-3.5zM392.1 118.6l1.8 3.0h-3.5zM394.7 117.7l1.8 3.0h-3.5zM397.2 116.8l1.8 3.0h-3.5zM399.8 115.7l1.8 3.0h-3.5zM402.3 114.5l1.8 3.0h-3.5zM404.9 113.0l1.8 3.0h-3.5zM407.5 111.3l1.8 3.0h-3.5zM410.0 109.3l1.8 3.0h-3.5zM412.6 107.0l1.8 3.0h-3.5zM415.1 103.9l1.8 3.0h-3.5zM417.7 97.7l1.8 3.0h-3.5zM420.2 80.7l1.8 3.0h-3.5zM422.8 68.1l1.8 3.0h-3.5zM425.4 60.4l1.8 3.0h-3.5zM427.9 54.9l1.8 3.0h-3.5zM430.5 50.5l1.8 3.0h-3.5zM433.0 47.3l1.8 3.0h-3.5zM435.6 44.7l1.8 3.0h-3.5zM438.1 42.4l1.8 3.0h-3.5zM440.7 40.4l1.8 3.0h-3.5zM443.3 38.8l1.8 3.0h-3.5zM445.8 37.4l1.8 3.0h-3.5zM448.4 36.3l1.8 3.0h-3.5zM450.9 35.2l1.8 3.0h-3.5zM453.5 34.1l1.8 3.0h-3.5zM456.0 33.0l1.8 3.0h-3.5zM458.6 32.0l1.8 3.0h-3.5zM461.2 31.0l1.8 3.0h-3.5zM463.7 30.1l1.8 3.0h-3.5zM466.3 29.2l1.8 3.0h-3.5zM468.8 28.4l1.8 3.0h-3.5zM471.4 27.6l1.8 3.0h-3.5zM473.9 26.9l1.8 3.0h-3.5zM476.5 26.2l1.8 3.0h-3.5zM479.1 25.6l1.8 3.0h-3.5zM481.6 25.1l1.8 3.0h-3.5zM484.2 24.7l1.8 3.0h-3.5zM486.7 24.4l1.8 3.0h-3.5zM489.3 24.1l1.8 3.0h-3.5zM491.8 24.0l1.8 3.0h-3.5zM494.4 23.9l1.8 3.0h-3.5z" fill="#f2a52a"/>
<path d="M494.4 28.6 493.2 28.6 492.0 28.6 490.8 28.6 489.6 28.7 488.4 28.7 487.2 28.7 486.0 28.7 484.7 28.8 483.5 28.8 482.3 28.8 481.1 28.9 479.9 28.9 478.7 29.0 477.5 29.0 476.3 29.1 475.1 29.2 473.9 29.2 472.7 29.3 471.5 29.4 470.3 29.5 469.1 29.5 467.9 29.6 466.7 29.7 465.4 29.8 464.2 29.9 463.0 30.0 461.8 30.1 460.6 30.2 459.4 30.3 458.2 30.4 457.0 30.5 455.8 30.6 454.6 30.7 453.4 30.8 452.2 30.9 451.0 31.1 449.8 31.2 448.6 31.3 447.4 31.4 446.1 31.6 444.9 31.7 443.7 31.8 442.5 32.0 441.3 32.1 440.1 32.2 438.9 32.4 437.7 32.5 436.5 32.6 435.3 32.8 434.1 32.9 432.9 33.1 431.7 33.2 430.5 33.4 429.3 33.5 428.1 33.7 426.8 33.8 425.6 34.0 424.4 34.1 423.2 34.3 422.0 34.4 420.8 34.6 419.6 34.7 418.4 34.9 417.2 35.0 416.0 35.2 414.8 35.4 413.6 35.6 412.4 35.8 411.2 36.0 410.0 36.2 408.8 36.4 407.5 36.7 406.3 36.9 405.1 37.2 403.9 37.5 402.7 37.9 401.5 38.2 400.3 38.6 399.1 39.0 397.9 39.5 396.7 40.2 395.5 41.0 394.3 42.1 393.1 43.2 391.9 44.4 390.7 45.6 389.5 47.0 388.2 48.7 387.0 50.5 385.8 52.7 384.6 55.2 383.4 58.7 382.2 64.6 381.0 77.4 379.8 83.8 378.6 89.0 377.4 93.3 376.2 96.9 375.0 100.0 373.8 103.1 372.6 106.1 371.4 108.8 370.2 110.8 368.9 111.9 367.7 112.5 366.5 113.1 365.3 113.7 364.1 114.3 362.9 114.9 361.7 115.4 360.5 116.0 359.3 116.5 358.1 117.0 356.9 117.5 355.7 118.0 354.5 118.5 353.3 118.9 352.1 119.4 350.9 119.8 349.6 120.2 348.4 120.6 347.2 121.0 346.0 121.4 344.8 121.7 343.6 122.1 342.4 122.4 341.2 122.7 340.0 123.0 338.8 123.3 337.6 123.6 336.4 123.9 335.2 124.1 334.0 124.4 332.8 124.6 331.6 124.8 330.3 125.0 329.1 125.2 327.9 125.4 326.7 125.6 325.5 125.8 324.3 126.0 323.1 126.1 321.9 126.2 320.7 126.4 319.5 126.5 318.3 126.6 317.1 126.7 315.9 126.8 314.7 126.9 313.5 127.0 312.3 127.0 311.0 127.1 309.8 127.1 308.6 127.2 307.4 127.2 306.2 127.2 305.0 127.3 303.8 127.3 302.6 127.3" stroke="#8cf53a" stroke-width="1.2" fill="none"/>
<path d="M494.4 30.5l1.8 -3.0h-3.5zM491.8 30.5l1.8 -3.0h-3.5zM489.3 30.5l1.8 -3.0h-3.5zM486.7 30.6l1.8 -3.0h-3.5zM484.2 30.6l1.8 -3.0h-3.5zM481.6 30.7l1.8 -3.0h-3.5zM479.1 30.8l1.8 -3.0h-3.5zM476.5 30.9l1.8 -3.0h-3.5zM473.9 31.1l1.8 -3.0h-3.5zM471.4 31.2l1.8 -3.0h-3.5zM468.8 31.4l1.8 -3.0h-3.5zM466.3 31.6l1.8 -3.0h-3.5zM463.7 31.8l1.8 -3.0h-3.5zM461.2 32.0l1.8 -3.0h-3.5zM458.6 32.2l1.8 -3.0h-3.5zM456.0 32.4l1.8 -3.0h-3.5zM453.5 32.7l1.8 -3.0h-3.5zM450.9 32.9l1.8 -3.0h-3.5zM448.4 33.2l1.8 -3.0h-3.5zM445.8 33.4l1.8 -3.0h-3.5zM443.3 33.7l1.8 -3.0h-3.5zM440.7 34.0l1.8 -3.0h-3.5zM438.1 34.3l1.8 -3.0h-3.5zM435.6 34.6l1.8 -3.0h-3.5zM433.0 34.9l1.8 -3.0h-3.5zM430.5 35.2l1.8 -3.0h-3.5zM427.9 35.5l1.8 -3.0h-3.5zM425.4 35.8l1.8 -3.0h-3.5zM422.8 36.2l1.8 -3.0h-3.5zM420.2 36.5l1.8 -3.0h-3.5zM417.7 36.8l1.8 -3.0h-3.5zM415.1 37.2l1.8 -3.0h-3.5zM412.6 37.6l1.8 -3.0h-3.5zM410.0 38.0l1.8 -3.0h-3.5zM407.5 38.5l1.8 -3.0h-3.5zM404.9 39.1l1.8 -3.0h-3.5zM402.3 39.8l1.8 -3.0h-3.5zM399.8 40.6l1.8 -3.0h-3.5zM397.2 41.7l1.8 -3.0h-3.5zM394.7 43.6l1.8 -3.0h-3.5zM392.1 46.0l1.8 -3.0h-3.5zM389.5 48.8l1.8 -3.0h-3.5zM387.0 52.5l1.8 -3.0h-3.5zM384.4 57.5l1.8 -3.0h-3.5zM381.9 70.0l1.8 -3.0h-3.5zM379.3 87.9l1.8 -3.0h-3.5zM376.8 97.0l1.8 -3.0h-3.5zM374.2 103.8l1.8 -3.0h-3.5zM371.6 110.0l1.8 -3.0h-3.5zM369.1 113.6l1.8 -3.0h-3.5zM366.5 115.0l1.8 -3.0h-3.5zM364.0 116.2l1.8 -3.0h-3.5zM361.4 117.4l1.8 -3.0h-3.5zM358.9 118.5l1.8 -3.0h-3.5zM356.3 119.6l1.8 -3.0h-3.5zM353.7 120.6l1.8 -3.0h-3.5zM351.2 121.5l1.8 -3.0h-3.5zM348.6 122.4l1.8 -3.0h-3.5zM346.1 123.2l1.8 -3.0h-3.5zM343.5 123.9l1.8 -3.0h-3.5zM341.0 124.6l1.8 -3.0h-3.5zM338.4 125.2l1.8 -3.0h-3.5zM335.8 125.8l1.8 -3.0h-3.5zM333.3 126.3l1.8 -3.0h-3.5zM330.7 126.8l1.8 -3.0h-3.5zM328.2 127.2l1.8 -3.0h-3.5zM325.6 127.6l1.8 -3.0h-3.5zM323.1 127.9l1.8 -3.0h-3.5zM320.5 128.2l1.8 -3.0h-3.5zM317.9 128.5l1.8 -3.0h-3.5zM315.4 128.7l1.8 -3.0h-3.5zM312.8 128.8l1.8 -3.0h-3.5zM310.3 129.0l1.8 -3.0h-3.5zM307.7 129.0l1.8 -3.0h-3.5zM305.2 129.1l1.8 -3.0h-3.5zM302.6 129.1l1.8 -3.0h-3.5z" fill="#8cf53a"/>
<path d="M302.6 127.3 303.8 127.3 305.0 127.3 306.2 127.3 307.4 127.2 308.6 127.2 309.8 127.2 311.0 127.2 312.3 127.1 313.5 127.1 314.7 127.1 315.9 127.0 317.1 127.0 318.3 126.9 319.5 126.9 320.7 126.8 321.9 126.7 323.1 126.7 324.3 126.6 325.5 126.5 326.7 126.4 327.9 126.4 329.1 126.3 330.3 126.2 331.6 126.1 332.8 126.0 334.0 125.9 335.2 125.8 336.4 125.7 337.6 125.6 338.8 125.5 340.0 125.4 341.2 125.3 342.4 125.2 343.6 125.1 344.8 125.0 346.0 124.8 347.2 124.7 348.4 124.6 349.6 124.5 350.9 124.3 352.1 124.2 353.3 124.1 354.5 123.9 355.7 123.8 356.9 123.7 358.1 123.5 359.3 123.4 360.5 123.3 361.7 123.1 362.9 123.0 364.1 122.8 365.3 122.7 366.5 122.5 367.7 122.4 368.9 122.2 370.2 122.1 371.4 121.9 372.6 121.8 373.8 121.6 375.0 121.5 376.2 121.3 377.4 121.2 378.6 121.0 379.8 120.9 381.0 120.7 382.2 120.5 383.4 120.3 384.6 120.1 385.8 119.9 387.0 119.7 388.2 119.5 389.5 119.2 390.7 119.0 391.9 118.7 393.1 118.4 394.3 118.0 395.5 117.7 396.7 117.3 397.9 116.9 399.1 116.4 400.3 115.7 401.5 114.9 402.7 113.8 403.9 112.7 405.1 111.5 406.3 110.3 407.5 108.9 408.8 107.2 410.0 105.4 411.2 103.2 412.4 100.7 413.6 97.2 414.8 91.3 416.0 78.5 417.2 72.1 418.4 66.9 419.6 62.6 420.8 59.0 422.0 55.9 423.2 52.8 424.4 49.8 425.6 47.1 426.8 45.1 428.1 44.0 429.3 43.4 430.5 42.8 431.7 42.2 432.9 41.6 434.1 41.0 435.3 40.5 436.5 39.9 437.7 39.4 438.9 38.9 440.1 38.4 441.3 37.9 442.5 37.4 443.7 37.0 444.9 36.5 446.1 36.1 447.4 35.7 448.6 35.3 449.8 34.9 451.0 34.5 452.2 34.2 453.4 33.8 454.6 33.5 455.8 33.2 457.0 32.9 458.2 32.6 459.4 32.3 460.6 32.0 461.8 31.8 463.0 31.5 464.2 31.3 465.4 31.1 466.7 30.9 467.9 30.7 469.1 30.5 470.3 30.3 471.5 30.1 472.7 29.9 473.9 29.8 475.1 29.7 476.3 29.5 477.5 29.4 478.7 29.3 479.9 29.2 481.1 29.1 482.3 29.0 483.5 28.9 484.7 28.9 486.0 28.8 487.2 28.8 488.4 28.7 489.6 28.7 490.8 28.7 492.0 28.6 493.2 28.6 494.4 28.6" stroke="#8cf53a" stroke-width="1.2" fill="none"/>
<path d="M302.6 129.1l1.8 -3.0h-3.5zM305.2 129.1l1.8 -3.0h-3.5zM307.7 129.1l1.8 -3.0h-3.5zM310.3 129.0l1.8 -3.0h-3.5zM312.8 129.0l1.8 -3.0h-3.5zM315.4 128.9l1.8 -3.0h-3.5zM317.9 128.8l1.8 -3.0h-3.5zM320.5 128.6l1.8 -3.0h-3.5zM323.1 128.5l1.8 -3.0h-3.5zM325.6 128.4l1.8 -3.0h-3.5zM328.2 128.2l1.8 -3.0h-3.5zM330.7 128.0l1.8 -3.0h-3.5zM333.3 127.8l1.8 -3.0h-3.5zM335.8 127.6l1.8 -3.0h-3.5zM338.4 127.4l1.8 -3.0h-3.5zM341.0 127.2l1.8 -3.0h-3.5zM343.5 126.9l1.8 -3.0h-3.5zM346.1 126.7l1.8 -3.0h-3.5zM348.6 126.4l1.8 -3.0h-3.5zM351.2 126.1l1.8 -3.0h-3.5zM353.7 125.9l1.8 -3.0h-3.5zM356.3 125.6l1.8 -3.0h-3.5zM358.9 125.3l1.8 -3.0h-3.5zM361.4 125.0l1.8 -3.0h-3.5zM364.0 124.7l1.8 -3.0h-3.5zM366.5 124.4l1.8 -3.0h-3.5zM369.1 124.1l1.8 -3.0h-3.5zM371.6 123.7l1.8 -3.0h-3.5zM374.2 123.4l1.8 -3.0h-3.5zM376.8 123.1l1.8 -3.0h-3.5zM379.3 122.8l1.8 -3.0h-3.5zM381.9 122.4l1.8 -3.0h-3.5zM384.4 122.0l1.8 -3.0h-3.5zM387.0 121.6l1.8 -3.0h-3.5zM389.5 121.1l1.8 -3.0h-3.5zM392.1 120.5l1.8 -3.0h-3.5zM394.7 119.8l1.8 -3.0h-3.5zM397.2 119.0l1.8 -3.0h-3.5zM399.8 117.9l1.8 -3.0h-3.5zM402.3 116.0l1.8 -3.0h-3.5zM404.9 113.6l1.8 -3.0h-3.5zM407.5 110.8l1.8 -3.0h-3.5zM410.0 107.1l1.8 -3.0h-3.5zM412.6 102.0l1.8 -3.0h-3.5zM415.1 89.6l1.8 -3.0h-3.5zM417.7 71.7l1.8 -3.0h-3.5zM420.2 62.5l1.8 -3.0h-3.5zM422.8 55.8l1.8 -3.0h-3.5zM425.4 49.6l1.8 -3.0h-3.5zM427.9 46.0l1.8 -3.0h-3.5zM430.5 44.6l1.8 -3.0h-3.5zM433.0 43.4l1.8 -3.0h-3.5zM435.6 42.2l1.8 -3.0h-3.5zM438.1 41.0l1.8 -3.0h-3.5zM440.7 40.0l1.8 -3.0h-3.5zM443.3 39.0l1.8 -3.0h-3.5zM445.8 38.1l1.8 -3.0h-3.5zM448.4 37.2l1.8 -3.0h-3.5zM450.9 36.4l1.8 -3.0h-3.5zM453.5 35.7l1.8 -3.0h-3.5zM456.0 35.0l1.8 -3.0h-3.5zM458.6 34.3l1.8 -3.0h-3.5zM461.2 33.8l1.8 -3.0h-3.5zM463.7 33.2l1.8 -3.0h-3.5zM466.3 32.8l1.8 -3.0h-3.5zM468.8 32.3l1.8 -3.0h-3.5zM471.4 32.0l1.8 -3.0h-3.5zM473.9 31.6l1.8 -3.0h-3.5zM476.5 31.3l1.8 -3.0h-3.5zM479.1 31.1l1.8 -3.0h-3.5zM481.6 30.9l1.8 -3.0h-3.5zM484.2 30.7l1.8 -3.0h-3.5zM486.7 30.6l1.8 -3.0h-3.5zM489.3 30.5l1.8 -3.0h-3.5zM491.8 30.5l1.8 -3.0h-3.5zM494.4 30.5l1.8 -3.0h-3.5z" fill="#8cf53a"/>
<path d="M494.4 32.6 493.2 32.6 492.0 32.6 490.8 32.7 489.6 32.7 488.4 32.7 487.2 32.7 486.0 32.7 484.7 32.7 483.5 32.7 482.3 32.7 481.1 32.8 479.9 32.8 478.7 32.8 477.5 32.8 476.3 32.9 475.1 32.9 473.9 32.9 472.7 33.0 471.5 33.0 470.3 33.0 469.1 33.1 467.9 33.1 466.7 33.2 465.4 33.2 464.2 33.3 463.0 33.3 461.8 33.4 460.6 33.4 459.4 33.5 458.2 33.6 457.0 33.6 455.8 33.7 454.6 33.7 453.4 33.8 452.2 33.9 451.0 33.9 449.8 34.0 448.6 34.1 447.4 34.2 446.1 34.2 444.9 34.3 443.7 34.4 442.5 34.5 441.3 34.6 440.1 34.7 438.9 34.8 437.7 34.8 436.5 34.9 435.3 35.0 434.1 35.1 432.9 35.2 431.7 35.3 430.5 35.4 429.3 35.5 428.1 35.6 426.8 35.7 425.6 35.9 424.4 36.0 423.2 36.1 422.0 36.2 420.8 36.3 419.6 36.4 418.4 36.6 417.2 36.7 416.0 36.9 414.8 37.2 413.6 37.4 412.4 37.7 411.2 38.0 410.0 38.3 408.8 38.6 407.5 39.0 406.3 39.4 405.1 39.8 403.9 40.3 402.7 40.8 401.5 41.3 400.3 41.8 399.1 42.4 397.9 43.0 396.7 43.9 395.5 45.1 394.3 46.4 393.1 47.8 391.9 49.4 390.7 50.9 389.5 52.3 388.2 53.9 387.0 56.4 385.8 63.9 384.6 76.4 383.4 85.4 382.2 93.6 381.0 99.6 379.8 102.8 378.6 105.5 377.4 107.7 376.2 109.6 375.0 111.0 373.8 111.9 372.6 112.5 371.4 112.9 370.2 113.3 368.9 113.7 367.7 114.1 366.5 114.5 365.3 114.9 364.1 115.2 362.9 115.6 361.7 115.9 360.5 116.3 359.3 116.6 358.1 116.9 356.9 117.2 355.7 117.5 354.5 117.8 353.3 118.1 352.1 118.4 350.9 118.6 349.6 118.9 348.4 119.1 347.2 119.4 346.0 119.6 344.8 119.8 343.6 120.0 342.4 120.2 341.2 120.4 340.0 120.6 338.8 120.8 337.6 121.0 336.4 121.2 335.2 121.3 334.0 121.5 332.8 121.6 331.6 121.8 330.3 121.9 329.1 122.0 327.9 122.1 326.7 122.2 325.5 122.3 324.3 122.4 323.1 122.5 321.9 122.6 320.7 122.7 319.5 122.8 318.3 122.8 317.1 122.9 315.9 123.0 314.7 123.0 313.5 123.1 312.3 123.1 311.0 123.1 309.8 123.2 308.6 123.2 307.4 123.2 306.2 123.2 305.0 123.2 303.8 123.3 302.6 123.3" stroke="#33ee66" stroke-width="1.2" fill="none"/>
<path d="M494.4 30.6l2.1 2.1l-2.1 2.1l-2.1 -2.1zM491.8 30.6l2.1 2.1l-2.1 2.1l-2.1 -2.1zM489.3 30.6l2.1 2.1l-2.1 2.1l-2.1 -2.1zM486.7 30.6l2.1 2.1l-2.1 2.1l-2.1 -2.1zM484.2 30.6l2.1 2.1l-2.1 2.1l-2.1 -2.1zM481.6 30.7l2.1 2.1l-2.1 2.1l-2.1 -2.1zM479.1 30.7l2.1 2.1l-2.1 2.1l-2.1 -2.1zM476.5 30.8l2.1 2.1l-2.1 2.1l-2.1 -2.1zM473.9 30.9l2.1 2.1l-2.1 2.1l-2.1 -2.1zM471.4 30.9l2.1 2.1l-2.1 2.1l-2.1 -2.1zM468.8 31.0l2.1 2.1l-2.1 2.1l-2.1 -2.1zM466.3 31.1l2.1 2.1l-2.1 2.1l-2.1 -2.1zM463.7 31.2l2.1 2.1l-2.1 2.1l-2.1 -2.1zM461.2 31.3l2.1 2.1l-2.1 2.1l-2.1 -2.1zM458.6 31.5l2.1 2.1l-2.1 2.1l-2.1 -2.1zM456.0 31.6l2.1 2.1l-2.1 2.1l-2.1 -2.1zM453.5 31.7l2.1 2.1l-2.1 2.1l-2.1 -2.1zM450.9 31.9l2.1 2.1l-2.1 2.1l-2.1 -2.1zM448.4 32.0l2.1 2.1l-2.1 2.1l-2.1 -2.1zM445.8 32.2l2.1 2.1l-2.1 2.1l-2.1 -2.1zM443.3 32.4l2.1 2.1l-2.1 2.1l-2.1 -2.1zM440.7 32.5l2.1 2.1l-2.1 2.1l-2.1 -2.1zM438.1 32.7l2.1 2.1l-2.1 2.1l-2.1 -2.1zM435.6 32.9l2.1 2.1l-2.1 2.1l-2.1 -2.1zM433.0 33.1l2.1 2.1l-2.1 2.1l-2.1 -2.1zM430.5 33.4l2.1 2.1l-2.1 2.1l-2.1 -2.1zM427.9 33.6l2.1 2.1l-2.1 2.1l-2.1 -2.1zM425.4 33.8l2.1 2.1l-2.1 2.1l-2.1 -2.1zM422.8 34.0l2.1 2.1l-2.1 2.1l-2.1 -2.1zM420.2 34.3l2.1 2.1l-2.1 2.1l-2.1 -2.1zM417.7 34.6l2.1 2.1l-2.1 2.1l-2.1 -2.1zM415.1 35.0l2.1 2.1l-2.1 2.1l-2.1 -2.1zM412.6 35.5l2.1 2.1l-2.1 2.1l-2.1 -2.1zM410.0 36.2l2.1 2.1l-2.1 2.1l-2.1 -2.1zM407.5 36.9l2.1 2.1l-2.1 2.1l-2.1 -2.1zM404.9 37.8l2.1 2.1l-2.1 2.1l-2.1 -2.1zM402.3 38.8l2.1 2.1l-2.1 2.1l-2.1 -2.1zM399.8 40.0l2.1 2.1l-2.1 2.1l-2.1 -2.1zM397.2 41.4l2.1 2.1l-2.1 2.1l-2.1 -2.1zM394.7 43.9l2.1 2.1l-2.1 2.1l-2.1 -2.1zM392.1 47.0l2.1 2.1l-2.1 2.1l-2.1 -2.1zM389.5 50.1l2.1 2.1l-2.1 2.1l-2.1 -2.1zM387.0 54.4l2.1 2.1l-2.1 2.1l-2.1 -2.1zM384.4 75.9l2.1 2.1l-2.1 2.1l-2.1 -2.1zM381.9 93.5l2.1 2.1l-2.1 2.1l-2.1 -2.1zM379.3 101.9l2.1 2.1l-2.1 2.1l-2.1 -2.1zM376.8 106.7l2.1 2.1l-2.1 2.1l-2.1 -2.1zM374.2 109.6l2.1 2.1l-2.1 2.1l-2.1 -2.1zM371.6 110.7l2.1 2.1l-2.1 2.1l-2.1 -2.1zM369.1 111.6l2.1 2.1l-2.1 2.1l-2.1 -2.1zM366.5 112.4l2.1 2.1l-2.1 2.1l-2.1 -2.1zM364.0 113.2l2.1 2.1l-2.1 2.1l-2.1 -2.1zM361.4 113.9l2.1 2.1l-2.1 2.1l-2.1 -2.1zM358.9 114.6l2.1 2.1l-2.1 2.1l-2.1 -2.1zM356.3 115.3l2.1 2.1l-2.1 2.1l-2.1 -2.1zM353.7 115.9l2.1 2.1l-2.1 2.1l-2.1 -2.1zM351.2 116.5l2.1 2.1l-2.1 2.1l-2.1 -2.1zM348.6 117.0l2.1 2.1l-2.1 2.1l-2.1 -2.1zM346.1 117.5l2.1 2.1l-2.1 2.1l-2.1 -2.1zM343.5 118.0l2.1 2.1l-2.1 2.1l-2.1 -2.1zM341.0 118.4l2.1 2.1l-2.1 2.1l-2.1 -2.1zM338.4 118.8l2.1 2.1l-2.1 2.1l-2.1 -2.1zM335.8 119.1l2.1 2.1l-2.1 2.1l-2.1 -2.1zM333.3 119.5l2.1 2.1l-2.1 2.1l-2.1 -2.1zM330.7 119.8l2.1 2.1l-2.1 2.1l-2.1 -2.1zM328.2 120.0l2.1 2.1l-2.1 2.1l-2.1 -2.1zM325.6 120.3l2.1 2.1l-2.1 2.1l-2.1 -2.1zM323.1 120.5l2.1 2.1l-2.1 2.1l-2.1 -2.1zM320.5 120.6l2.1 2.1l-2.1 2.1l-2.1 -2.1zM317.9 120.8l2.1 2.1l-2.1 2.1l-2.1 -2.1zM315.4 120.9l2.1 2.1l-2.1 2.1l-2.1 -2.1zM312.8 121.0l2.1 2.1l-2.1 2.1l-2.1 -2.1zM310.3 121.1l2.1 2.1l-2.1 2.1l-2.1 -2.1zM307.7 121.1l2.1 2.1l-2.1 2.1l-2.1 -2.1zM305.2 121.2l2.1 2.1l-2.1 2.1l-2.1 -2.1zM302.6 121.2l2.1 2.1l-2.1 2.1l-2.1 -2.1z" fill="#33ee66"/>
<path d="M302.6 123.3 303.8 123.3 305.0 123.3 306.2 123.2 307.4 123.2 308.6 123.2 309.8 123.2 311.0 123.2 312.3 123.2 313.5 123.2 314.7 123.2 315.9 123.1 317.1 123.1 318.3 123.1 319.5 123.1 320.7 123.0 321.9 123.0 323.1 123.0 324.3 122.9 325.5 122.9 326.7 122.9 327.9 122.8 329.1 122.8 330.3 122.7 331.6 122.7 332.8 122.6 334.0 122.6 335.2 122.5 336.4 122.5 337.6 122.4 338.8 122.3 340.0 122.3 341.2 122.2 342.4 122.2 343.6 122.1 344.8 122.0 346.0 122.0 347.2 121.9 348.4 121.8 349.6 121.7 350.9 121.7 352.1 121.6 353.3 121.5 354.5 121.4 355.7 121.3 356.9 121.2 358.1 121.1 359.3 121.1 360.5 121.0 361.7 120.9 362.9 120.8 364.1 120.7 365.3 120.6 366.5 120.5 367.7 120.4 368.9 120.3 370.2 120.2 371.4 120.0 372.6 119.9 373.8 119.8 375.0 119.7 376.2 119.6 377.4 119.5 378.6 119.3 379.8 119.2 381.0 119.0 382.2 118.7 383.4 118.5 384.6 118.2 385.8 117.9 387.0 117.6 388.2 117.3 389.5 116.9 390.7 116.5 391.9 116.1 393.1 115.6 394.3 115.1 395.5 114.6 396.7 114.1 397.9 113.5 399.1 112.9 400.3 112.0 401.5 110.8 402.7 109.5 403.9 108.1 405.1 106.5 406.3 105.0 407.5 103.6 408.8 102.0 410.0 99.5 411.2 92.0 412.4 79.5 413.6 70.5 414.8 62.3 416.0 56.3 417.2 53.1 418.4 50.4 419.6 48.2 420.8 46.3 422.0 44.9 423.2 44.0 424.4 43.4 425.6 43.0 426.8 42.6 428.1 42.2 429.3 41.8 430.5 41.4 431.7 41.0 432.9 40.7 434.1 40.3 435.3 40.0 436.5 39.6 437.7 39.3 438.9 39.0 440.1 38.7 441.3 38.4 442.5 38.1 443.7 37.8 444.9 37.5 446.1 37.3 447.4 37.0 448.6 36.8 449.8 36.5 451.0 36.3 452.2 36.1 453.4 35.9 454.6 35.7 455.8 35.5 457.0 35.3 458.2 35.1 459.4 34.9 460.6 34.7 461.8 34.6 463.0 34.4 464.2 34.3 465.4 34.1 466.7 34.0 467.9 33.9 469.1 33.8 470.3 33.7 471.5 33.6 472.7 33.5 473.9 33.4 475.1 33.3 476.3 33.2 477.5 33.1 478.7 33.1 479.9 33.0 481.1 32.9 482.3 32.9 483.5 32.8 484.7 32.8 486.0 32.8 487.2 32.7 488.4 32.7 489.6 32.7 490.8 32.7 492.0 32.7 493.2 32.6 494.4 32.6" stroke="#33ee66" stroke-width="1.2" fill="none"/>
<path d="M302.6 121.2l2.1 2.1l-2.1 2.1l-2.1 -2.1zM305.2 121.2l2.1 2.1l-2.1 2.1l-2.1 -2.1zM307.7 121.2l2.1 2.1l-2.1 2.1l-2.1 -2.1zM310.3 121.1l2.1 2.1l-2.1 2.1l-2.1 -2.1zM312.8 121.1l2.1 2.1l-2.1 2.1l-2.1 -2.1zM315.4 121.1l2.1 2.1l-2.1 2.1l-2.1 -2.1zM317.9 121.0l2.1 2.1l-2.1 2.1l-2.1 -2.1zM320.5 121.0l2.1 2.1l-2.1 2.1l-2.1 -2.1zM323.1 120.9l2.1 2.1l-2.1 2.1l-2.1 -2.1zM325.6 120.8l2.1 2.1l-2.1 2.1l-2.1 -2.1zM328.2 120.7l2.1 2.1l-2.1 2.1l-2.1 -2.1zM330.7 120.6l2.1 2.1l-2.1 2.1l-2.1 -2.1zM333.3 120.5l2.1 2.1l-2.1 2.1l-2.1 -2.1zM335.8 120.4l2.1 2.1l-2.1 2.1l-2.1 -2.1zM338.4 120.3l2.1 2.1l-2.1 2.1l-2.1 -2.1zM341.0 120.2l2.1 2.1l-2.1 2.1l-2.1 -2.1zM343.5 120.0l2.1 2.1l-2.1 2.1l-2.1 -2.1zM346.1 119.9l2.1 2.1l-2.1 2.1l-2.1 -2.1zM348.6 119.7l2.1 2.1l-2.1 2.1l-2.1 -2.1zM351.2 119.6l2.1 2.1l-2.1 2.1l-2.1 -2.1zM353.7 119.4l2.1 2.1l-2.1 2.1l-2.1 -2.1zM356.3 119.2l2.1 2.1l-2.1 2.1l-2.1 -2.1zM358.9 119.0l2.1 2.1l-2.1 2.1l-2.1 -2.1zM361.4 118.8l2.1 2.1l-2.1 2.1l-2.1 -2.1zM364.0 118.6l2.1 2.1l-2.1 2.1l-2.1 -2.1zM366.5 118.4l2.1 2.1l-2.1 2.1l-2.1 -2.1zM369.1 118.2l2.1 2.1l-2.1 2.1l-2.1 -2.1zM371.6 117.9l2.1 2.1l-2.1 2.1l-2.1 -2.1zM374.2 117.7l2.1 2.1l-2.1 2.1l-2.1 -2.1zM376.8 117.4l2.1 2.1l-2.1 2.1l-2.1 -2.1zM379.3 117.1l2.1 2.1l-2.1 2.1l-2.1 -2.1zM381.9 116.7l2.1 2.1l-2.1 2.1l-2.1 -2.1zM384.4 116.2l2.1 2.1l-2.1 2.1l-2.1 -2.1zM387.0 115.6l2.1 2.1l-2.1 2.1l-2.1 -2.1zM389.5 114.8l2.1 2.1l-2.1 2.1l-2.1 -2.1zM392.1 113.9l2.1 2.1l-2.1 2.1l-2.1 -2.1zM394.7 112.9l2.1 2.1l-2.1 2.1l-2.1 -2.1zM397.2 111.8l2.1 2.1l-2.1 2.1l-2.1 -2.1zM399.8 110.3l2.1 2.1l-2.1 2.1l-2.1 -2.1zM402.3 107.9l2.1 2.1l-2.1 2.1l-2.1 -2.1zM404.9 104.8l2.1 2.1l-2.1 2.1l-2.1 -2.1zM407.5 101.6l2.1 2.1l-2.1 2.1l-2.1 -2.1zM410.0 97.3l2.1 2.1l-2.1 2.1l-2.1 -2.1zM412.6 75.9l2.1 2.1l-2.1 2.1l-2.1 -2.1zM415.1 58.3l2.1 2.1l-2.1 2.1l-2.1 -2.1zM417.7 49.9l2.1 2.1l-2.1 2.1l-2.1 -2.1zM420.2 45.1l2.1 2.1l-2.1 2.1l-2.1 -2.1zM422.8 42.2l2.1 2.1l-2.1 2.1l-2.1 -2.1zM425.4 41.0l2.1 2.1l-2.1 2.1l-2.1 -2.1zM427.9 40.1l2.1 2.1l-2.1 2.1l-2.1 -2.1zM430.5 39.3l2.1 2.1l-2.1 2.1l-2.1 -2.1zM433.0 38.5l2.1 2.1l-2.1 2.1l-2.1 -2.1zM435.6 37.8l2.1 2.1l-2.1 2.1l-2.1 -2.1zM438.1 37.1l2.1 2.1l-2.1 2.1l-2.1 -2.1zM440.7 36.4l2.1 2.1l-2.1 2.1l-2.1 -2.1zM443.3 35.8l2.1 2.1l-2.1 2.1l-2.1 -2.1zM445.8 35.3l2.1 2.1l-2.1 2.1l-2.1 -2.1zM448.4 34.7l2.1 2.1l-2.1 2.1l-2.1 -2.1zM450.9 34.2l2.1 2.1l-2.1 2.1l-2.1 -2.1zM453.5 33.8l2.1 2.1l-2.1 2.1l-2.1 -2.1zM456.0 33.3l2.1 2.1l-2.1 2.1l-2.1 -2.1zM458.6 32.9l2.1 2.1l-2.1 2.1l-2.1 -2.1zM461.2 32.6l2.1 2.1l-2.1 2.1l-2.1 -2.1zM463.7 32.3l2.1 2.1l-2.1 2.1l-2.1 -2.1zM466.3 32.0l2.1 2.1l-2.1 2.1l-2.1 -2.1zM468.8 31.7l2.1 2.1l-2.1 2.1l-2.1 -2.1zM471.4 31.5l2.1 2.1l-2.1 2.1l-2.1 -2.1zM473.9 31.3l2.1 2.1l-2.1 2.1l-2.1 -2.1zM476.5 31.1l2.1 2.1l-2.1 2.1l-2.1 -2.1zM479.1 31.0l2.1 2.1l-2.1 2.1l-2.1 -2.1zM481.6 30.8l2.1 2.1l-2.1 2.1l-2.1 -2.1zM484.2 30.7l2.1 2.1l-2.1 2.1l-2.1 -2.1zM486.7 30.7l2.1 2.1l-2.1 2.1l-2.1 -2.1zM489.3 30.6l2.1 2.1l-2.1 2.1l-2.1 -2.1zM491.8 30.6l2.1 2.1l-2.1 2.1l-2.1 -2.1zM494.4 30.6l2.1 2.1l-2.1 2.1l-2.1 -2.1z" fill="#33ee66"/>
<path d="M494.4 39.2 493.2 39.2 492.0 39.2 490.8 39.2 489.6 39.3 488.4 39.3 487.2 39.3 486.0 39.3 484.7 39.3 483.5 39.3 482.3 39.3 481.1 39.3 479.9 39.3 478.7 39.4 477.5 39.4 476.3 39.4 475.1 39.4 473.9 39.5 472.7 39.5 471.5 39.5 470.3 39.5 469.1 39.6 467.9 39.6 466.7 39.6 465.4 39.7 464.2 39.7 463.0 39.7 461.8 39.8 460.6 39.8 459.4 39.9 458.2 39.9 457.0 40.0 455.8 40.0 454.6 40.1 453.4 40.1 452.2 40.2 451.0 40.2 449.8 40.3 448.6 40.3 447.4 40.4 446.1 40.4 444.9 40.5 443.7 40.6 442.5 40.6 441.3 40.7 440.1 40.8 438.9 40.8 437.7 40.9 436.5 41.0 435.3 41.1 434.1 41.1 432.9 41.2 431.7 41.3 430.5 41.4 429.3 41.4 428.1 41.5 426.8 41.6 425.6 41.7 424.4 41.8 423.2 41.9 422.0 42.0 420.8 42.1 419.6 42.2 418.4 42.3 417.2 42.4 416.0 42.5 414.8 42.7 413.6 42.9 412.4 43.1 411.2 43.3 410.0 43.6 408.8 43.9 407.5 44.2 406.3 44.6 405.1 45.0 403.9 45.4 402.7 45.9 401.5 46.4 400.3 46.9 399.1 47.5 397.9 48.3 396.7 50.0 395.5 51.7 394.3 53.5 393.1 55.6 391.9 58.6 390.7 64.5 389.5 73.8 388.2 83.5 387.0 95.5 385.8 105.4 384.6 108.5 383.4 109.5 382.2 110.4 381.0 111.2 379.8 111.8 378.6 112.3 377.4 112.8 376.2 113.1 375.0 113.4 373.8 113.6 372.6 113.7 371.4 113.8 370.2 113.9 368.9 114.0 367.7 114.1 366.5 114.2 365.3 114.3 364.1 114.4 362.9 114.5 361.7 114.6 360.5 114.6 359.3 114.7 358.1 114.8 356.9 114.9 355.7 114.9 354.5 115.0 353.3 115.1 352.1 115.2 350.9 115.2 349.6 115.3 348.4 115.3 347.2 115.4 346.0 115.5 344.8 115.5 343.6 115.6 342.4 115.6 341.2 115.7 340.0 115.7 338.8 115.8 337.6 115.8 336.4 115.8 335.2 115.9 334.0 115.9 332.8 116.0 331.6 116.0 330.3 116.0 329.1 116.1 327.9 116.1 326.7 116.1 325.5 116.1 324.3 116.2 323.1 116.2 321.9 116.2 320.7 116.2 319.5 116.3 318.3 116.3 317.1 116.3 315.9 116.3 314.7 116.3 313.5 116.3 312.3 116.3 311.0 116.3 309.8 116.4 308.6 116.4 307.4 116.4 306.2 116.4 305.0 116.4 303.8 116.4 302.6 116.4" stroke="#3ec2f5" stroke-width="1.2" fill="none"/>
<path d="M494.4 37.4l1.8 3.0h-3.5zM491.8 37.4l1.8 3.0h-3.5zM489.3 37.4l1.8 3.0h-3.5zM486.7 37.4l1.8 3.0h-3.5zM484.2 37.5l1.8 3.0h-3.5zM481.6 37.5l1.8 3.0h-3.5zM479.1 37.5l1.8 3.0h-3.5zM476.5 37.6l1.8 3.0h-3.5zM473.9 37.6l1.8 3.0h-3.5zM471.4 37.7l1.8 3.0h-3.5zM468.8 37.7l1.8 3.0h-3.5zM466.3 37.8l1.8 3.0h-3.5zM463.7 37.9l1.8 3.0h-3.5zM461.2 38.0l1.8 3.0h-3.5zM458.6 38.1l1.8 3.0h-3.5zM456.0 38.2l1.8 3.0h-3.5zM453.5 38.3l1.8 3.0h-3.5zM450.9 38.4l1.8 3.0h-3.5zM448.4 38.5l1.8 3.0h-3.5zM445.8 38.6l1.8 3.0h-3.5zM443.3 38.8l1.8 3.0h-3.5zM440.7 38.9l1.8 3.0h-3.5zM438.1 39.0l1.8 3.0h-3.5zM435.6 39.2l1.8 3.0h-3.5zM433.0 39.4l1.8 3.0h-3.5zM430.5 39.5l1.8 3.0h-3.5zM427.9 39.7l1.8 3.0h-3.5zM425.4 39.9l1.8 3.0h-3.5zM422.8 40.1l1.8 3.0h-3.5zM420.2 40.3l1.8 3.0h-3.5zM417.7 40.5l1.8 3.0h-3.5zM415.1 40.8l1.8 3.0h-3.5zM412.6 41.2l1.8 3.0h-3.5zM410.0 41.8l1.8 3.0h-3.5zM407.5 42.4l1.8 3.0h-3.5zM404.9 43.2l1.8 3.0h-3.5zM402.3 44.2l1.8 3.0h-3.5zM399.8 45.4l1.8 3.0h-3.5zM397.2 47.3l1.8 3.0h-3.5zM394.7 51.0l1.8 3.0h-3.5zM392.1 56.1l1.8 3.0h-3.5zM389.5 71.2l1.8 3.0h-3.5zM387.0 94.2l1.8 3.0h-3.5zM384.4 106.8l1.8 3.0h-3.5zM381.9 108.8l1.8 3.0h-3.5zM379.3 110.2l1.8 3.0h-3.5zM376.8 111.1l1.8 3.0h-3.5zM374.2 111.6l1.8 3.0h-3.5zM371.6 112.0l1.8 3.0h-3.5zM369.1 112.2l1.8 3.0h-3.5zM366.5 112.4l1.8 3.0h-3.5zM364.0 112.6l1.8 3.0h-3.5zM361.4 112.7l1.8 3.0h-3.5zM358.9 112.9l1.8 3.0h-3.5zM356.3 113.1l1.8 3.0h-3.5zM353.7 113.2l1.8 3.0h-3.5zM351.2 113.4l1.8 3.0h-3.5zM348.6 113.5l1.8 3.0h-3.5zM346.1 113.6l1.8 3.0h-3.5zM343.5 113.7l1.8 3.0h-3.5zM341.0 113.8l1.8 3.0h-3.5zM338.4 113.9l1.8 3.0h-3.5zM335.8 114.0l1.8 3.0h-3.5zM333.3 114.1l1.8 3.0h-3.5zM330.7 114.2l1.8 3.0h-3.5zM328.2 114.2l1.8 3.0h-3.5zM325.6 114.3l1.8 3.0h-3.5zM323.1 114.4l1.8 3.0h-3.5zM320.5 114.4l1.8 3.0h-3.5zM317.9 114.4l1.8 3.0h-3.5zM315.4 114.5l1.8 3.0h-3.5zM312.8 114.5l1.8 3.0h-3.5zM310.3 114.5l1.8 3.0h-3.5zM307.7 114.5l1.8 3.0h-3.5zM305.2 114.5l1.8 3.0h-3.5zM302.6 114.5l1.8 3.0h-3.5z" fill="#3ec2f5"/>
<path d="M302.6 116.7 303.8 116.7 305.0 116.7 306.2 116.7 307.4 116.6 308.6 116.6 309.8 116.6 311.0 116.6 312.3 116.6 313.5 116.6 314.7 116.6 315.9 116.6 317.1 116.6 318.3 116.5 319.5 116.5 320.7 116.5 321.9 116.5 323.1 116.4 324.3 116.4 325.5 116.4 326.7 116.4 327.9 116.3 329.1 116.3 330.3 116.3 331.6 116.2 332.8 116.2 334.0 116.2 335.2 116.1 336.4 116.1 337.6 116.0 338.8 116.0 340.0 115.9 341.2 115.9 342.4 115.8 343.6 115.8 344.8 115.7 346.0 115.7 347.2 115.6 348.4 115.6 349.6 115.5 350.9 115.5 352.1 115.4 353.3 115.3 354.5 115.3 355.7 115.2 356.9 115.1 358.1 115.1 359.3 115.0 360.5 114.9 361.7 114.8 362.9 114.8 364.1 114.7 365.3 114.6 366.5 114.5 367.7 114.5 368.9 114.4 370.2 114.3 371.4 114.2 372.6 114.1 373.8 114.0 375.0 113.9 376.2 113.8 377.4 113.7 378.6 113.6 379.8 113.5 381.0 113.4 382.2 113.2 383.4 113.0 384.6 112.8 385.8 112.6 387.0 112.3 388.2 112.0 389.5 111.7 390.7 111.3 391.9 110.9 393.1 110.5 394.3 110.0 395.5 109.5 396.7 109.0 397.9 108.4 399.1 107.6 400.3 105.9 401.5 104.2 402.7 102.4 403.9 100.3 405.1 97.3 406.3 91.4 407.5 82.1 408.8 72.4 410.0 60.4 411.2 50.5 412.4 47.4 413.6 46.4 414.8 45.5 416.0 44.7 417.2 44.1 418.4 43.6 419.6 43.1 420.8 42.8 422.0 42.5 423.2 42.3 424.4 42.2 425.6 42.1 426.8 42.0 428.1 41.9 429.3 41.8 430.5 41.7 431.7 41.6 432.9 41.5 434.1 41.4 435.3 41.3 436.5 41.3 437.7 41.2 438.9 41.1 440.1 41.0 441.3 41.0 442.5 40.9 443.7 40.8 444.9 40.7 446.1 40.7 447.4 40.6 448.6 40.6 449.8 40.5 451.0 40.4 452.2 40.4 453.4 40.3 454.6 40.3 455.8 40.2 457.0 40.2 458.2 40.1 459.4 40.1 460.6 40.1 461.8 40.0 463.0 40.0 464.2 39.9 465.4 39.9 466.7 39.9 467.9 39.8 469.1 39.8 470.3 39.8 471.5 39.8 472.7 39.7 473.9 39.7 475.1 39.7 476.3 39.7 477.5 39.6 478.7 39.6 479.9 39.6 481.1 39.6 482.3 39.6 483.5 39.6 484.7 39.6 486.0 39.6 487.2 39.5 488.4 39.5 489.6 39.5 490.8 39.5 492.0 39.5 493.2 39.5 494.4 39.5" stroke="#3ec2f5" stroke-width="1.2" fill="none"/>
<path d="M302.6 114.8l1.8 3.0h-3.5zM305.2 114.8l1.8 3.0h-3.5zM307.7 114.8l1.8 3.0h-3.5zM310.3 114.8l1.8 3.0h-3.5zM312.8 114.8l1.8 3.0h-3.5zM315.4 114.7l1.8 3.0h-3.5zM317.9 114.7l1.8 3.0h-3.5zM320.5 114.7l1.8 3.0h-3.5zM323.1 114.6l1.8 3.0h-3.5zM325.6 114.5l1.8 3.0h-3.5zM328.2 114.5l1.8 3.0h-3.5zM330.7 114.4l1.8 3.0h-3.5zM333.3 114.3l1.8 3.0h-3.5zM335.8 114.3l1.8 3.0h-3.5zM338.4 114.2l1.8 3.0h-3.5zM341.0 114.1l1.8 3.0h-3.5zM343.5 114.0l1.8 3.0h-3.5zM346.1 113.8l1.8 3.0h-3.5zM348.6 113.7l1.8 3.0h-3.5zM351.2 113.6l1.8 3.0h-3.5zM353.7 113.5l1.8 3.0h-3.5zM356.3 113.3l1.8 3.0h-3.5zM358.9 113.2l1.8 3.0h-3.5zM361.4 113.0l1.8 3.0h-3.5zM364.0 112.9l1.8 3.0h-3.5zM366.5 112.7l1.8 3.0h-3.5zM369.1 112.5l1.8 3.0h-3.5zM371.6 112.3l1.8 3.0h-3.5zM374.2 112.1l1.8 3.0h-3.5zM376.8 112.0l1.8 3.0h-3.5zM379.3 111.7l1.8 3.0h-3.5zM381.9 111.4l1.8 3.0h-3.5zM384.4 111.0l1.8 3.0h-3.5zM387.0 110.5l1.8 3.0h-3.5zM389.5 109.8l1.8 3.0h-3.5zM392.1 109.0l1.8 3.0h-3.5zM394.7 108.0l1.8 3.0h-3.5zM397.2 106.9l1.8 3.0h-3.5zM399.8 104.9l1.8 3.0h-3.5zM402.3 101.2l1.8 3.0h-3.5zM404.9 96.1l1.8 3.0h-3.5zM407.5 81.0l1.8 3.0h-3.5zM410.0 58.1l1.8 3.0h-3.5zM412.6 45.4l1.8 3.0h-3.5zM415.1 43.4l1.8 3.0h-3.5zM417.7 42.0l1.8 3.0h-3.5zM420.2 41.1l1.8 3.0h-3.5zM422.8 40.6l1.8 3.0h-3.5zM425.4 40.3l1.8 3.0h-3.5zM427.9 40.1l1.8 3.0h-3.5zM430.5 39.9l1.8 3.0h-3.5zM433.0 39.7l1.8 3.0h-3.5zM435.6 39.5l1.8 3.0h-3.5zM438.1 39.3l1.8 3.0h-3.5zM440.7 39.2l1.8 3.0h-3.5zM443.3 39.0l1.8 3.0h-3.5zM445.8 38.9l1.8 3.0h-3.5zM448.4 38.7l1.8 3.0h-3.5zM450.9 38.6l1.8 3.0h-3.5zM453.5 38.5l1.8 3.0h-3.5zM456.0 38.4l1.8 3.0h-3.5zM458.6 38.3l1.8 3.0h-3.5zM461.2 38.2l1.8 3.0h-3.5zM463.7 38.1l1.8 3.0h-3.5zM466.3 38.0l1.8 3.0h-3.5zM468.8 38.0l1.8 3.0h-3.5zM471.4 37.9l1.8 3.0h-3.5zM473.9 37.9l1.8 3.0h-3.5zM476.5 37.8l1.8 3.0h-3.5zM479.1 37.8l1.8 3.0h-3.5zM481.6 37.8l1.8 3.0h-3.5zM484.2 37.7l1.8 3.0h-3.5zM486.7 37.7l1.8 3.0h-3.5zM489.3 37.7l1.8 3.0h-3.5zM491.8 37.7l1.8 3.0h-3.5zM494.4 37.7l1.8 3.0h-3.5z" fill="#3ec2f5"/>
<path d="M494.4 48.1 493.2 48.1 492.0 48.1 490.8 48.1 489.6 48.1 488.4 48.1 487.2 48.2 486.0 48.2 484.7 48.2 483.5 48.2 482.3 48.2 481.1 48.2 479.9 48.2 478.7 48.2 477.5 48.3 476.3 48.3 475.1 48.3 473.9 48.3 472.7 48.4 471.5 48.4 470.3 48.4 469.1 48.4 467.9 48.5 466.7 48.5 465.4 48.5 464.2 48.6 463.0 48.6 461.8 48.6 460.6 48.7 459.4 48.7 458.2 48.8 457.0 48.8 455.8 48.8 454.6 48.9 453.4 48.9 452.2 49.0 451.0 49.0 449.8 49.1 448.6 49.1 447.4 49.2 446.1 49.2 444.9 49.3 443.7 49.4 442.5 49.4 441.3 49.5 440.1 49.5 438.9 49.6 437.7 49.7 436.5 49.7 435.3 49.8 434.1 49.9 432.9 49.9 431.7 50.0 430.5 50.1 429.3 50.1 428.1 50.2 426.8 50.3 425.6 50.4 424.4 50.4 423.2 50.5 422.0 50.6 420.8 50.7 419.6 50.8 418.4 50.9 417.2 51.0 416.0 51.1 414.8 51.3 413.6 51.5 412.4 51.7 411.2 52.0 410.0 52.2 408.8 52.5 407.5 52.7 406.3 53.0 405.1 53.3 403.9 53.6 402.7 54.0 401.5 54.4 400.3 54.8 399.1 55.5 397.9 56.2 396.7 57.4 395.5 59.6 394.3 63.0 393.1 74.8 391.9 86.2 390.7 96.4 389.5 100.1 388.2 101.9 387.0 103.3 385.8 104.2 384.6 104.7 383.4 104.9 382.2 105.0 381.0 105.1 379.8 105.2 378.6 105.3 377.4 105.4 376.2 105.5 375.0 105.6 373.8 105.7 372.6 105.7 371.4 105.8 370.2 105.9 368.9 106.0 367.7 106.0 366.5 106.1 365.3 106.2 364.1 106.2 362.9 106.3 361.7 106.4 360.5 106.4 359.3 106.5 358.1 106.5 356.9 106.6 355.7 106.6 354.5 106.7 353.3 106.7 352.1 106.8 350.9 106.8 349.6 106.9 348.4 106.9 347.2 106.9 346.0 107.0 344.8 107.0 343.6 107.0 342.4 107.1 341.2 107.1 340.0 107.1 338.8 107.2 337.6 107.2 336.4 107.2 335.2 107.2 334.0 107.3 332.8 107.3 331.6 107.3 330.3 107.3 329.1 107.3 327.9 107.3 326.7 107.4 325.5 107.4 324.3 107.4 323.1 107.4 321.9 107.4 320.7 107.4 319.5 107.4 318.3 107.4 317.1 107.4 315.9 107.5 314.7 107.5 313.5 107.5 312.3 107.5 311.0 107.5 309.8 107.5 308.6 107.5 307.4 107.5 306.2 107.5 305.0 107.5 303.8 107.5 302.6 107.5" stroke="#2a5fe6" stroke-width="1.2" fill="none"/>
<path d="M494.4 50.0l1.8 -3.0h-3.5zM491.8 50.0l1.8 -3.0h-3.5zM489.3 50.0l1.8 -3.0h-3.5zM486.7 50.0l1.8 -3.0h-3.5zM484.2 50.0l1.8 -3.0h-3.5zM481.6 50.0l1.8 -3.0h-3.5zM479.1 50.1l1.8 -3.0h-3.5zM476.5 50.1l1.8 -3.0h-3.5zM473.9 50.2l1.8 -3.0h-3.5zM471.4 50.2l1.8 -3.0h-3.5zM468.8 50.3l1.8 -3.0h-3.5zM466.3 50.4l1.8 -3.0h-3.5zM463.7 50.4l1.8 -3.0h-3.5zM461.2 50.5l1.8 -3.0h-3.5zM458.6 50.6l1.8 -3.0h-3.5zM456.0 50.7l1.8 -3.0h-3.5zM453.5 50.8l1.8 -3.0h-3.5zM450.9 50.9l1.8 -3.0h-3.5zM448.4 51.0l1.8 -3.0h-3.5zM445.8 51.1l1.8 -3.0h-3.5zM443.3 51.2l1.8 -3.0h-3.5zM440.7 51.3l1.8 -3.0h-3.5zM438.1 51.5l1.8 -3.0h-3.5zM435.6 51.6l1.8 -3.0h-3.5zM433.0 51.8l1.8 -3.0h-3.5zM430.5 51.9l1.8 -3.0h-3.5zM427.9 52.1l1.8 -3.0h-3.5zM425.4 52.2l1.8 -3.0h-3.5zM422.8 52.4l1.8 -3.0h-3.5zM420.2 52.5l1.8 -3.0h-3.5zM417.7 52.8l1.8 -3.0h-3.5zM415.1 53.1l1.8 -3.0h-3.5zM412.6 53.5l1.8 -3.0h-3.5zM410.0 54.0l1.8 -3.0h-3.5zM407.5 54.6l1.8 -3.0h-3.5zM404.9 55.2l1.8 -3.0h-3.5zM402.3 55.9l1.8 -3.0h-3.5zM399.8 56.9l1.8 -3.0h-3.5zM397.2 58.7l1.8 -3.0h-3.5zM394.7 63.5l1.8 -3.0h-3.5zM392.1 85.7l1.8 -3.0h-3.5zM389.5 101.8l1.8 -3.0h-3.5zM387.0 105.1l1.8 -3.0h-3.5zM384.4 106.6l1.8 -3.0h-3.5zM381.9 106.9l1.8 -3.0h-3.5zM379.3 107.1l1.8 -3.0h-3.5zM376.8 107.3l1.8 -3.0h-3.5zM374.2 107.5l1.8 -3.0h-3.5zM371.6 107.6l1.8 -3.0h-3.5zM369.1 107.8l1.8 -3.0h-3.5zM366.5 107.9l1.8 -3.0h-3.5zM364.0 108.1l1.8 -3.0h-3.5zM361.4 108.2l1.8 -3.0h-3.5zM358.9 108.3l1.8 -3.0h-3.5zM356.3 108.4l1.8 -3.0h-3.5zM353.7 108.5l1.8 -3.0h-3.5zM351.2 108.6l1.8 -3.0h-3.5zM348.6 108.7l1.8 -3.0h-3.5zM346.1 108.8l1.8 -3.0h-3.5zM343.5 108.9l1.8 -3.0h-3.5zM341.0 108.9l1.8 -3.0h-3.5zM338.4 109.0l1.8 -3.0h-3.5zM335.8 109.1l1.8 -3.0h-3.5zM333.3 109.1l1.8 -3.0h-3.5zM330.7 109.1l1.8 -3.0h-3.5zM328.2 109.2l1.8 -3.0h-3.5zM325.6 109.2l1.8 -3.0h-3.5zM323.1 109.2l1.8 -3.0h-3.5zM320.5 109.3l1.8 -3.0h-3.5zM317.9 109.3l1.8 -3.0h-3.5zM315.4 109.3l1.8 -3.0h-3.5zM312.8 109.3l1.8 -3.0h-3.5zM310.3 109.3l1.8 -3.0h-3.5zM307.7 109.3l1.8 -3.0h-3.5zM305.2 109.3l1.8 -3.0h-3.5zM302.6 109.3l1.8 -3.0h-3.5z" fill="#2a5fe6"/>
<path d="M302.6 107.8 303.8 107.8 305.0 107.8 306.2 107.8 307.4 107.8 308.6 107.8 309.8 107.7 311.0 107.7 312.3 107.7 313.5 107.7 314.7 107.7 315.9 107.7 317.1 107.7 318.3 107.7 319.5 107.6 320.7 107.6 321.9 107.6 323.1 107.6 324.3 107.5 325.5 107.5 326.7 107.5 327.9 107.5 329.1 107.4 330.3 107.4 331.6 107.4 332.8 107.3 334.0 107.3 335.2 107.3 336.4 107.2 337.6 107.2 338.8 107.1 340.0 107.1 341.2 107.1 342.4 107.0 343.6 107.0 344.8 106.9 346.0 106.9 347.2 106.8 348.4 106.8 349.6 106.7 350.9 106.7 352.1 106.6 353.3 106.5 354.5 106.5 355.7 106.4 356.9 106.4 358.1 106.3 359.3 106.2 360.5 106.2 361.7 106.1 362.9 106.0 364.1 106.0 365.3 105.9 366.5 105.8 367.7 105.8 368.9 105.7 370.2 105.6 371.4 105.5 372.6 105.5 373.8 105.4 375.0 105.3 376.2 105.2 377.4 105.1 378.6 105.0 379.8 104.9 381.0 104.8 382.2 104.6 383.4 104.4 384.6 104.2 385.8 103.9 387.0 103.7 388.2 103.4 389.5 103.2 390.7 102.9 391.9 102.6 393.1 102.3 394.3 101.9 395.5 101.5 396.7 101.1 397.9 100.4 399.1 99.7 400.3 98.5 401.5 96.3 402.7 92.9 403.9 81.1 405.1 69.7 406.3 59.5 407.5 55.8 408.8 54.0 410.0 52.6 411.2 51.7 412.4 51.2 413.6 51.0 414.8 50.9 416.0 50.8 417.2 50.7 418.4 50.6 419.6 50.5 420.8 50.4 422.0 50.3 423.2 50.2 424.4 50.2 425.6 50.1 426.8 50.0 428.1 49.9 429.3 49.9 430.5 49.8 431.7 49.7 432.9 49.7 434.1 49.6 435.3 49.5 436.5 49.5 437.7 49.4 438.9 49.4 440.1 49.3 441.3 49.3 442.5 49.2 443.7 49.2 444.9 49.1 446.1 49.1 447.4 49.0 448.6 49.0 449.8 49.0 451.0 48.9 452.2 48.9 453.4 48.9 454.6 48.8 455.8 48.8 457.0 48.8 458.2 48.7 459.4 48.7 460.6 48.7 461.8 48.7 463.0 48.6 464.2 48.6 465.4 48.6 466.7 48.6 467.9 48.6 469.1 48.6 470.3 48.5 471.5 48.5 472.7 48.5 473.9 48.5 475.1 48.5 476.3 48.5 477.5 48.5 478.7 48.5 479.9 48.5 481.1 48.4 482.3 48.4 483.5 48.4 484.7 48.4 486.0 48.4 487.2 48.4 488.4 48.4 489.6 48.4 490.8 48.4 492.0 48.4 493.2 48.4 494.4 48.4" stroke="#2a5fe6" stroke-width="1.2" fill="none"/>
<path d="M302.6 109.6l1.8 -3.0h-3.5zM305.2 109.6l1.8 -3.0h-3.5zM307.7 109.6l1.8 -3.0h-3.5zM310.3 109.6l1.8 -3.0h-3.5zM312.8 109.6l1.8 -3.0h-3.5zM315.4 109.5l1.8 -3.0h-3.5zM317.9 109.5l1.8 -3.0h-3.5zM320.5 109.5l1.8 -3.0h-3.5zM323.1 109.4l1.8 -3.0h-3.5zM325.6 109.4l1.8 -3.0h-3.5zM328.2 109.3l1.8 -3.0h-3.5zM330.7 109.2l1.8 -3.0h-3.5zM333.3 109.2l1.8 -3.0h-3.5zM335.8 109.1l1.8 -3.0h-3.5zM338.4 109.0l1.8 -3.0h-3.5zM341.0 108.9l1.8 -3.0h-3.5zM343.5 108.8l1.8 -3.0h-3.5zM346.1 108.7l1.8 -3.0h-3.5zM348.6 108.6l1.8 -3.0h-3.5zM351.2 108.5l1.8 -3.0h-3.5zM353.7 108.4l1.8 -3.0h-3.5zM356.3 108.2l1.8 -3.0h-3.5zM358.9 108.1l1.8 -3.0h-3.5zM361.4 108.0l1.8 -3.0h-3.5zM364.0 107.8l1.8 -3.0h-3.5zM366.5 107.7l1.8 -3.0h-3.5zM369.1 107.5l1.8 -3.0h-3.5zM371.6 107.4l1.8 -3.0h-3.5zM374.2 107.2l1.8 -3.0h-3.5zM376.8 107.0l1.8 -3.0h-3.5zM379.3 106.8l1.8 -3.0h-3.5zM381.9 106.5l1.8 -3.0h-3.5zM384.4 106.0l1.8 -3.0h-3.5zM387.0 105.5l1.8 -3.0h-3.5zM389.5 105.0l1.8 -3.0h-3.5zM392.1 104.4l1.8 -3.0h-3.5zM394.7 103.7l1.8 -3.0h-3.5zM397.2 102.6l1.8 -3.0h-3.5zM399.8 100.9l1.8 -3.0h-3.5zM402.3 96.1l1.8 -3.0h-3.5zM404.9 73.9l1.8 -3.0h-3.5zM407.5 57.8l1.8 -3.0h-3.5zM410.0 54.4l1.8 -3.0h-3.5zM412.6 52.9l1.8 -3.0h-3.5zM415.1 52.7l1.8 -3.0h-3.5zM417.7 52.5l1.8 -3.0h-3.5zM420.2 52.3l1.8 -3.0h-3.5zM422.8 52.1l1.8 -3.0h-3.5zM425.4 51.9l1.8 -3.0h-3.5zM427.9 51.8l1.8 -3.0h-3.5zM430.5 51.6l1.8 -3.0h-3.5zM433.0 51.5l1.8 -3.0h-3.5zM435.6 51.4l1.8 -3.0h-3.5zM438.1 51.3l1.8 -3.0h-3.5zM440.7 51.1l1.8 -3.0h-3.5zM443.3 51.0l1.8 -3.0h-3.5zM445.8 50.9l1.8 -3.0h-3.5zM448.4 50.9l1.8 -3.0h-3.5zM450.9 50.8l1.8 -3.0h-3.5zM453.5 50.7l1.8 -3.0h-3.5zM456.0 50.6l1.8 -3.0h-3.5zM458.6 50.6l1.8 -3.0h-3.5zM461.2 50.5l1.8 -3.0h-3.5zM463.7 50.5l1.8 -3.0h-3.5zM466.3 50.4l1.8 -3.0h-3.5zM468.8 50.4l1.8 -3.0h-3.5zM471.4 50.4l1.8 -3.0h-3.5zM473.9 50.3l1.8 -3.0h-3.5zM476.5 50.3l1.8 -3.0h-3.5zM479.1 50.3l1.8 -3.0h-3.5zM481.6 50.3l1.8 -3.0h-3.5zM484.2 50.3l1.8 -3.0h-3.5zM486.7 50.3l1.8 -3.0h-3.5zM489.3 50.3l1.8 -3.0h-3.5zM491.8 50.3l1.8 -3.0h-3.5zM494.4 50.3l1.8 -3.0h-3.5z" fill="#2a5fe6"/>
<path d="M494.4 61.3 493.2 61.3 492.0 61.3 490.8 61.3 489.6 61.3 488.4 61.3 487.2 61.3 486.0 61.3 484.7 61.3 483.5 61.3 482.3 61.3 481.1 61.3 479.9 61.3 478.7 61.3 477.5 61.3 476.3 61.3 475.1 61.4 473.9 61.4 472.7 61.4 471.5 61.4 470.3 61.4 469.1 61.4 467.9 61.4 466.7 61.4 465.4 61.4 464.2 61.4 463.0 61.4 461.8 61.4 460.6 61.4 459.4 61.4 458.2 61.4 457.0 61.5 455.8 61.5 454.6 61.5 453.4 61.5 452.2 61.5 451.0 61.5 449.8 61.5 448.6 61.5 447.4 61.5 446.1 61.6 444.9 61.6 443.7 61.6 442.5 61.6 441.3 61.6 440.1 61.6 438.9 61.6 437.7 61.6 436.5 61.7 435.3 61.7 434.1 61.7 432.9 61.7 431.7 61.7 430.5 61.7 429.3 61.8 428.1 61.8 426.8 61.8 425.6 61.8 424.4 61.8 423.2 61.8 422.0 61.9 420.8 61.9 419.6 61.9 418.4 61.9 417.2 62.0 416.0 62.0 414.8 62.1 413.6 62.1 412.4 62.2 411.2 62.3 410.0 62.4 408.8 62.5 407.5 62.6 406.3 62.8 405.1 63.1 403.9 63.5 402.7 63.9 401.5 64.4 400.3 65.1 399.1 66.2 397.9 68.2 396.7 77.3 395.5 83.0 394.3 86.5 393.1 87.9 391.9 89.1 390.7 90.0 389.5 90.8 388.2 91.4 387.0 91.8 385.8 92.0 384.6 92.1 383.4 92.2 382.2 92.4 381.0 92.5 379.8 92.6 378.6 92.7 377.4 92.8 376.2 92.9 375.0 93.0 373.8 93.0 372.6 93.1 371.4 93.2 370.2 93.2 368.9 93.3 367.7 93.4 366.5 93.4 365.3 93.5 364.1 93.5 362.9 93.6 361.7 93.6 360.5 93.6 359.3 93.7 358.1 93.7 356.9 93.7 355.7 93.8 354.5 93.8 353.3 93.8 352.1 93.9 350.9 93.9 349.6 93.9 348.4 93.9 347.2 94.0 346.0 94.0 344.8 94.0 343.6 94.0 342.4 94.1 341.2 94.1 340.0 94.1 338.8 94.1 337.6 94.2 336.4 94.2 335.2 94.2 334.0 94.2 332.8 94.3 331.6 94.3 330.3 94.3 329.1 94.3 327.9 94.3 326.7 94.4 325.5 94.4 324.3 94.4 323.1 94.4 321.9 94.4 320.7 94.5 319.5 94.5 318.3 94.5 317.1 94.5 315.9 94.5 314.7 94.5 313.5 94.5 312.3 94.5 311.0 94.6 309.8 94.6 308.6 94.6 307.4 94.6 306.2 94.6 305.0 94.6 303.8 94.6 302.6 94.6" stroke="#7a3af0" stroke-width="1.2" fill="none"/>
<path d="M492.8 61.3a1.6 1.6 0 1 0 3.2 0a1.6 1.6 0 1 0 -3.2 0zM490.2 61.3a1.6 1.6 0 1 0 3.2 0a1.6 1.6 0 1 0 -3.2 0zM487.7 61.3a1.6 1.6 0 1 0 3.2 0a1.6 1.6 0 1 0 -3.2 0zM485.1 61.3a1.6 1.6 0 1 0 3.2 0a1.6 1.6 0 1 0 -3.2 0zM482.6 61.3a1.6 1.6 0 1 0 3.2 0a1.6 1.6 0 1 0 -3.2 0zM480.0 61.3a1.6 1.6 0 1 0 3.2 0a1.6 1.6 0 1 0 -3.2 0zM477.5 61.3a1.6 1.6 0 1 0 3.2 0a1.6 1.6 0 1 0 -3.2 0zM474.9 61.3a1.6 1.6 0 1 0 3.2 0a1.6 1.6 0 1 0 -3.2 0zM472.3 61.4a1.6 1.6 0 1 0 3.2 0a1.6 1.6 0 1 0 -3.2 0zM469.8 61.4a1.6 1.6 0 1 0 3.2 0a1.6 1.6 0 1 0 -3.2 0zM467.2 61.4a1.6 1.6 0 1 0 3.2 0a1.6 1.6 0 1 0 -3.2 0zM464.7 61.4a1.6 1.6 0 1 0 3.2 0a1.6 1.6 0 1 0 -3.2 0zM462.1 61.4a1.6 1.6 0 1 0 3.2 0a1.6 1.6 0 1 0 -3.2 0zM459.6 61.4a1.6 1.6 0 1 0 3.2 0a1.6 1.6 0 1 0 -3.2 0zM457.0 61.4a1.6 1.6 0 1 0 3.2 0a1.6 1.6 0 1 0 -3.2 0zM454.4 61.5a1.6 1.6 0 1 0 3.2 0a1.6 1.6 0 1 0 -3.2 0zM451.9 61.5a1.6 1.6 0 1 0 3.2 0a1.6 1.6 0 1 0 -3.2 0zM449.3 61.5a1.6 1.6 0 1 0 3.2 0a1.6 1.6 0 1 0 -3.2 0zM446.8 61.5a1.6 1.6 0 1 0 3.2 0a1.6 1.6 0 1 0 -3.2 0zM444.2 61.6a1.6 1.6 0 1 0 3.2 0a1.6 1.6 0 1 0 -3.2 0zM441.7 61.6a1.6 1.6 0 1 0 3.2 0a1.6 1.6 0 1 0 -3.2 0zM439.1 61.6a1.6 1.6 0 1 0 3.2 0a1.6 1.6 0 1 0 -3.2 0zM436.5 61.6a1.6 1.6 0 1 0 3.2 0a1.6 1.6 0 1 0 -3.2 0zM434.0 61.7a1.6 1.6 0 1 0 3.2 0a1.6 1.6 0 1 0 -3.2 0zM431.4 61.7a1.6 1.6 0 1 0 3.2 0a1.6 1.6 0 1 0 -3.2 0zM428.9 61.7a1.6 1.6 0 1 0 3.2 0a1.6 1.6 0 1 0 -3.2 0zM426.3 61.8a1.6 1.6 0 1 0 3.2 0a1.6 1.6 0 1 0 -3.2 0zM423.8 61.8a1.6 1.6 0 1 0 3.2 0a1.6 1.6 0 1 0 -3.2 0zM421.2 61.9a1.6 1.6 0 1 0 3.2 0a1.6 1.6 0 1 0 -3.2 0zM418.6 61.9a1.6 1.6 0 1 0 3.2 0a1.6 1.6 0 1 0 -3.2 0zM416.1 62.0a1.6 1.6 0 1 0 3.2 0a1.6 1.6 0 1 0 -3.2 0zM413.5 62.0a1.6 1.6 0 1 0 3.2 0a1.6 1.6 0 1 0 -3.2 0zM411.0 62.2a1.6 1.6 0 1 0 3.2 0a1.6 1.6 0 1 0 -3.2 0zM408.4 62.4a1.6 1.6 0 1 0 3.2 0a1.6 1.6 0 1 0 -3.2 0zM405.9 62.6a1.6 1.6 0 1 0 3.2 0a1.6 1.6 0 1 0 -3.2 0zM403.3 63.2a1.6 1.6 0 1 0 3.2 0a1.6 1.6 0 1 0 -3.2 0zM400.7 64.1a1.6 1.6 0 1 0 3.2 0a1.6 1.6 0 1 0 -3.2 0zM398.2 65.5a1.6 1.6 0 1 0 3.2 0a1.6 1.6 0 1 0 -3.2 0zM395.6 73.0a1.6 1.6 0 1 0 3.2 0a1.6 1.6 0 1 0 -3.2 0zM393.1 85.7a1.6 1.6 0 1 0 3.2 0a1.6 1.6 0 1 0 -3.2 0zM390.5 88.8a1.6 1.6 0 1 0 3.2 0a1.6 1.6 0 1 0 -3.2 0zM387.9 90.7a1.6 1.6 0 1 0 3.2 0a1.6 1.6 0 1 0 -3.2 0zM385.4 91.8a1.6 1.6 0 1 0 3.2 0a1.6 1.6 0 1 0 -3.2 0zM382.8 92.1a1.6 1.6 0 1 0 3.2 0a1.6 1.6 0 1 0 -3.2 0zM380.3 92.4a1.6 1.6 0 1 0 3.2 0a1.6 1.6 0 1 0 -3.2 0zM377.7 92.6a1.6 1.6 0 1 0 3.2 0a1.6 1.6 0 1 0 -3.2 0zM375.2 92.8a1.6 1.6 0 1 0 3.2 0a1.6 1.6 0 1 0 -3.2 0zM372.6 93.0a1.6 1.6 0 1 0 3.2 0a1.6 1.6 0 1 0 -3.2 0zM370.0 93.2a1.6 1.6 0 1 0 3.2 0a1.6 1.6 0 1 0 -3.2 0zM367.5 93.3a1.6 1.6 0 1 0 3.2 0a1.6 1.6 0 1 0 -3.2 0zM364.9 93.4a1.6 1.6 0 1 0 3.2 0a1.6 1.6 0 1 0 -3.2 0zM362.4 93.5a1.6 1.6 0 1 0 3.2 0a1.6 1.6 0 1 0 -3.2 0zM359.8 93.6a1.6 1.6 0 1 0 3.2 0a1.6 1.6 0 1 0 -3.2 0zM357.3 93.7a1.6 1.6 0 1 0 3.2 0a1.6 1.6 0 1 0 -3.2 0zM354.7 93.8a1.6 1.6 0 1 0 3.2 0a1.6 1.6 0 1 0 -3.2 0zM352.1 93.8a1.6 1.6 0 1 0 3.2 0a1.6 1.6 0 1 0 -3.2 0zM349.6 93.9a1.6 1.6 0 1 0 3.2 0a1.6 1.6 0 1 0 -3.2 0zM347.0 93.9a1.6 1.6 0 1 0 3.2 0a1.6 1.6 0 1 0 -3.2 0zM344.5 94.0a1.6 1.6 0 1 0 3.2 0a1.6 1.6 0 1 0 -3.2 0zM341.9 94.0a1.6 1.6 0 1 0 3.2 0a1.6 1.6 0 1 0 -3.2 0zM339.4 94.1a1.6 1.6 0 1 0 3.2 0a1.6 1.6 0 1 0 -3.2 0zM336.8 94.1a1.6 1.6 0 1 0 3.2 0a1.6 1.6 0 1 0 -3.2 0zM334.2 94.2a1.6 1.6 0 1 0 3.2 0a1.6 1.6 0 1 0 -3.2 0zM331.7 94.2a1.6 1.6 0 1 0 3.2 0a1.6 1.6 0 1 0 -3.2 0zM329.1 94.3a1.6 1.6 0 1 0 3.2 0a1.6 1.6 0 1 0 -3.2 0zM326.6 94.3a1.6 1.6 0 1 0 3.2 0a1.6 1.6 0 1 0 -3.2 0zM324.0 94.4a1.6 1.6 0 1 0 3.2 0a1.6 1.6 0 1 0 -3.2 0zM321.5 94.4a1.6 1.6 0 1 0 3.2 0a1.6 1.6 0 1 0 -3.2 0zM318.9 94.5a1.6 1.6 0 1 0 3.2 0a1.6 1.6 0 1 0 -3.2 0zM316.3 94.5a1.6 1.6 0 1 0 3.2 0a1.6 1.6 0 1 0 -3.2 0zM313.8 94.5a1.6 1.6 0 1 0 3.2 0a1.6 1.6 0 1 0 -3.2 0zM311.2 94.5a1.6 1.6 0 1 0 3.2 0a1.6 1.6 0 1 0 -3.2 0zM308.7 94.6a1.6 1.6 0 1 0 3.2 0a1.6 1.6 0 1 0 -3.2 0zM306.1 94.6a1.6 1.6 0 1 0 3.2 0a1.6 1.6 0 1 0 -3.2 0zM303.6 94.6a1.6 1.6 0 1 0 3.2 0a1.6 1.6 0 1 0 -3.2 0zM301.0 94.6a1.6 1.6 0 1 0 3.2 0a1.6 1.6 0 1 0 -3.2 0z" fill="#7a3af0"/>
<path d="M302.6 94.6 303.8 94.6 305.0 94.6 306.2 94.6 307.4 94.6 308.6 94.6 309.8 94.6 311.0 94.6 312.3 94.6 313.5 94.6 314.7 94.6 315.9 94.6 317.1 94.6 318.3 94.6 319.5 94.6 320.7 94.6 321.9 94.5 323.1 94.5 324.3 94.5 325.5 94.5 326.7 94.5 327.9 94.5 329.1 94.5 330.3 94.5 331.6 94.5 332.8 94.5 334.0 94.5 335.2 94.5 336.4 94.5 337.6 94.5 338.8 94.5 340.0 94.4 341.2 94.4 342.4 94.4 343.6 94.4 344.8 94.4 346.0 94.4 347.2 94.4 348.4 94.4 349.6 94.4 350.9 94.3 352.1 94.3 353.3 94.3 354.5 94.3 355.7 94.3 356.9 94.3 358.1 94.3 359.3 94.3 360.5 94.2 361.7 94.2 362.9 94.2 364.1 94.2 365.3 94.2 366.5 94.2 367.7 94.1 368.9 94.1 370.2 94.1 371.4 94.1 372.6 94.1 373.8 94.1 375.0 94.0 376.2 94.0 377.4 94.0 378.6 94.0 379.8 93.9 381.0 93.9 382.2 93.8 383.4 93.8 384.6 93.7 385.8 93.6 387.0 93.5 388.2 93.4 389.5 93.3 390.7 93.1 391.9 92.8 393.1 92.4 394.3 92.0 395.5 91.5 396.7 90.8 397.9 89.7 399.1 87.7 400.3 78.6 401.5 72.9 402.7 69.4 403.9 68.0 405.1 66.8 406.3 65.9 407.5 65.1 408.8 64.5 410.0 64.1 411.2 63.9 412.4 63.8 413.6 63.7 414.8 63.5 416.0 63.4 417.2 63.3 418.4 63.2 419.6 63.1 420.8 63.0 422.0 62.9 423.2 62.9 424.4 62.8 425.6 62.7 426.8 62.7 428.1 62.6 429.3 62.5 430.5 62.5 431.7 62.4 432.9 62.4 434.1 62.3 435.3 62.3 436.5 62.3 437.7 62.2 438.9 62.2 440.1 62.2 441.3 62.1 442.5 62.1 443.7 62.1 444.9 62.0 446.1 62.0 447.4 62.0 448.6 62.0 449.8 61.9 451.0 61.9 452.2 61.9 453.4 61.9 454.6 61.8 455.8 61.8 457.0 61.8 458.2 61.8 459.4 61.7 460.6 61.7 461.8 61.7 463.0 61.7 464.2 61.6 465.4 61.6 466.7 61.6 467.9 61.6 469.1 61.6 470.3 61.5 471.5 61.5 472.7 61.5 473.9 61.5 475.1 61.5 476.3 61.4 477.5 61.4 478.7 61.4 479.9 61.4 481.1 61.4 482.3 61.4 483.5 61.4 484.7 61.4 486.0 61.3 487.2 61.3 488.4 61.3 489.6 61.3 490.8 61.3 492.0 61.3 493.2 61.3 494.4 61.3" stroke="#7a3af0" stroke-width="1.2" fill="none"/>
<path d="M301.0 94.6a1.6 1.6 0 1 0 3.2 0a1.6 1.6 0 1 0 -3.2 0zM303.6 94.6a1.6 1.6 0 1 0 3.2 0a1.6 1.6 0 1 0 -3.2 0zM306.1 94.6a1.6 1.6 0 1 0 3.2 0a1.6 1.6 0 1 0 -3.2 0zM308.7 94.6a1.6 1.6 0 1 0 3.2 0a1.6 1.6 0 1 0 -3.2 0zM311.2 94.6a1.6 1.6 0 1 0 3.2 0a1.6 1.6 0 1 0 -3.2 0zM313.8 94.6a1.6 1.6 0 1 0 3.2 0a1.6 1.6 0 1 0 -3.2 0zM316.3 94.6a1.6 1.6 0 1 0 3.2 0a1.6 1.6 0 1 0 -3.2 0zM318.9 94.6a1.6 1.6 0 1 0 3.2 0a1.6 1.6 0 1 0 -3.2 0zM321.5 94.5a1.6 1.6 0 1 0 3.2 0a1.6 1.6 0 1 0 -3.2 0zM324.0 94.5a1.6 1.6 0 1 0 3.2 0a1.6 1.6 0 1 0 -3.2 0zM326.6 94.5a1.6 1.6 0 1 0 3.2 0a1.6 1.6 0 1 0 -3.2 0zM329.1 94.5a1.6 1.6 0 1 0 3.2 0a1.6 1.6 0 1 0 -3.2 0zM331.7 94.5a1.6 1.6 0 1 0 3.2 0a1.6 1.6 0 1 0 -3.2 0zM334.2 94.5a1.6 1.6 0 1 0 3.2 0a1.6 1.6 0 1 0 -3.2 0zM336.8 94.5a1.6 1.6 0 1 0 3.2 0a1.6 1.6 0 1 0 -3.2 0zM339.4 94.4a1.6 1.6 0 1 0 3.2 0a1.6 1.6 0 1 0 -3.2 0zM341.9 94.4a1.6 1.6 0 1 0 3.2 0a1.6 1.6 0 1 0 -3.2 0zM344.5 94.4a1.6 1.6 0 1 0 3.2 0a1.6 1.6 0 1 0 -3.2 0zM347.0 94.4a1.6 1.6 0 1 0 3.2 0a1.6 1.6 0 1 0 -3.2 0zM349.6 94.3a1.6 1.6 0 1 0 3.2 0a1.6 1.6 0 1 0 -3.2 0zM352.1 94.3a1.6 1.6 0 1 0 3.2 0a1.6 1.6 0 1 0 -3.2 0zM354.7 94.3a1.6 1.6 0 1 0 3.2 0a1.6 1.6 0 1 0 -3.2 0zM357.3 94.3a1.6 1.6 0 1 0 3.2 0a1.6 1.6 0 1 0 -3.2 0zM359.8 94.2a1.6 1.6 0 1 0 3.2 0a1.6 1.6 0 1 0 -3.2 0zM362.4 94.2a1.6 1.6 0 1 0 3.2 0a1.6 1.6 0 1 0 -3.2 0zM364.9 94.2a1.6 1.6 0 1 0 3.2 0a1.6 1.6 0 1 0 -3.2 0zM367.5 94.1a1.6 1.6 0 1 0 3.2 0a1.6 1.6 0 1 0 -3.2 0zM370.0 94.1a1.6 1.6 0 1 0 3.2 0a1.6 1.6 0 1 0 -3.2 0zM372.6 94.0a1.6 1.6 0 1 0 3.2 0a1.6 1.6 0 1 0 -3.2 0zM375.2 94.0a1.6 1.6 0 1 0 3.2 0a1.6 1.6 0 1 0 -3.2 0zM377.7 93.9a1.6 1.6 0 1 0 3.2 0a1.6 1.6 0 1 0 -3.2 0zM380.3 93.9a1.6 1.6 0 1 0 3.2 0a1.6 1.6 0 1 0 -3.2 0zM382.8 93.7a1.6 1.6 0 1 0 3.2 0a1.6 1.6 0 1 0 -3.2 0zM385.4 93.5a1.6 1.6 0 1 0 3.2 0a1.6 1.6 0 1 0 -3.2 0zM387.9 93.3a1.6 1.6 0 1 0 3.2 0a1.6 1.6 0 1 0 -3.2 0zM390.5 92.7a1.6 1.6 0 1 0 3.2 0a1.6 1.6 0 1 0 -3.2 0zM393.1 91.8a1.6 1.6 0 1 0 3.2 0a1.6 1.6 0 1 0 -3.2 0zM395.6 90.4a1.6 1.6 0 1 0 3.2 0a1.6 1.6 0 1 0 -3.2 0zM398.2 82.9a1.6 1.6 0 1 0 3.2 0a1.6 1.6 0 1 0 -3.2 0zM400.7 70.2a1.6 1.6 0 1 0 3.2 0a1.6 1.6 0 1 0 -3.2 0zM403.3 67.1a1.6 1.6 0 1 0 3.2 0a1.6 1.6 0 1 0 -3.2 0zM405.9 65.2a1.6 1.6 0 1 0 3.2 0a1.6 1.6 0 1 0 -3.2 0zM408.4 64.1a1.6 1.6 0 1 0 3.2 0a1.6 1.6 0 1 0 -3.2 0zM411.0 63.8a1.6 1.6 0 1 0 3.2 0a1.6 1.6 0 1 0 -3.2 0zM413.5 63.5a1.6 1.6 0 1 0 3.2 0a1.6 1.6 0 1 0 -3.2 0zM416.1 63.3a1.6 1.6 0 1 0 3.2 0a1.6 1.6 0 1 0 -3.2 0zM418.6 63.1a1.6 1.6 0 1 0 3.2 0a1.6 1.6 0 1 0 -3.2 0zM421.2 62.9a1.6 1.6 0 1 0 3.2 0a1.6 1.6 0 1 0 -3.2 0zM423.8 62.7a1.6 1.6 0 1 0 3.2 0a1.6 1.6 0 1 0 -3.2 0zM426.3 62.6a1.6 1.6 0 1 0 3.2 0a1.6 1.6 0 1 0 -3.2 0zM428.9 62.5a1.6 1.6 0 1 0 3.2 0a1.6 1.6 0 1 0 -3.2 0zM431.4 62.4a1.6 1.6 0 1 0 3.2 0a1.6 1.6 0 1 0 -3.2 0zM434.0 62.3a1.6 1.6 0 1 0 3.2 0a1.6 1.6 0 1 0 -3.2 0zM436.5 62.2a1.6 1.6 0 1 0 3.2 0a1.6 1.6 0 1 0 -3.2 0zM439.1 62.1a1.6 1.6 0 1 0 3.2 0a1.6 1.6 0 1 0 -3.2 0zM441.7 62.1a1.6 1.6 0 1 0 3.2 0a1.6 1.6 0 1 0 -3.2 0zM444.2 62.0a1.6 1.6 0 1 0 3.2 0a1.6 1.6 0 1 0 -3.2 0zM446.8 62.0a1.6 1.6 0 1 0 3.2 0a1.6 1.6 0 1 0 -3.2 0zM449.3 61.9a1.6 1.6 0 1 0 3.2 0a1.6 1.6 0 1 0 -3.2 0zM451.9 61.9a1.6 1.6 0 1 0 3.2 0a1.6 1.6 0 1 0 -3.2 0zM454.4 61.8a1.6 1.6 0 1 0 3.2 0a1.6 1.6 0 1 0 -3.2 0zM457.0 61.8a1.6 1.6 0 1 0 3.2 0a1.6 1.6 0 1 0 -3.2 0zM459.6 61.7a1.6 1.6 0 1 0 3.2 0a1.6 1.6 0 1 0 -3.2 0zM462.1 61.7a1.6 1.6 0 1 0 3.2 0a1.6 1.6 0 1 0 -3.2 0zM464.7 61.6a1.6 1.6 0 1 0 3.2 0a1.6 1.6 0 1 0 -3.2 0zM467.2 61.6a1.6 1.6 0 1 0 3.2 0a1.6 1.6 0 1 0 -3.2 0zM469.8 61.5a1.6 1.6 0 1 0 3.2 0a1.6 1.6 0 1 0 -3.2 0zM472.3 61.5a1.6 1.6 0 1 0 3.2 0a1.6 1.6 0 1 0 -3.2 0zM474.9 61.4a1.6 1.6 0 1 0 3.2 0a1.6 1.6 0 1 0 -3.2 0zM477.5 61.4a1.6 1.6 0 1 0 3.2 0a1.6 1.6 0 1 0 -3.2 0zM480.0 61.4a1.6 1.6 0 1 0 3.2 0a1.6 1.6 0 1 0 -3.2 0zM482.6 61.4a1.6 1.6 0 1 0 3.2 0a1.6 1.6 0 1 0 -3.2 0zM485.1 61.3a1.6 1.6 0 1 0 3.2 0a1.6 1.6 0 1 0 -3.2 0zM487.7 61.3a1.6 1.6 0 1 0 3.2 0a1.6 1.6 0 1 0 -3.2 0zM490.2 61.3a1.6 1.6 0 1 0 3.2 0a1.6 1.6 0 1 0 -3.2 0zM492.8 61.3a1.6 1.6 0 1 0 3.2 0a1.6 1.6 0 1 0 -3.2 0z" fill="#7a3af0"/>
</g>
<clipPath id="cc"><rect x="559.6" y="7.2" width="187.10000000000002" height="139.0"/></clipPath>
<g clip-path="url(#cc)">
<path d="M746.7 22.0 745.5 22.2 744.3 22.5 743.2 22.7 742.0 22.9 740.8 23.2 739.6 23.4 738.5 23.7 737.3 23.9 736.1 24.1 734.9 24.4 733.8 24.6 732.6 24.8 731.4 25.0 730.2 25.3 729.0 25.5 727.9 25.7 726.7 25.9 725.5 26.1 724.3 26.3 723.2 26.5 722.0 26.7 720.8 26.9 719.6 27.1 718.5 27.3 717.3 27.5 716.1 27.7 714.9 27.9 713.8 28.1 712.6 28.3 711.4 28.5 710.2 28.6 709.0 28.8 707.9 29.0 706.7 29.2 705.5 29.3 704.3 29.5 703.2 29.6 702.0 29.8 700.8 29.9 699.6 30.1 698.5 30.2 697.3 30.3 696.1 30.5 694.9 30.6 693.7 30.7 692.6 30.9 691.4 31.0 690.2 31.1 689.0 31.2 687.9 31.4 686.7 31.5 685.5 31.6 684.3 31.8 683.2 31.9 682.0 32.0 680.8 32.2 679.6 32.3 678.4 32.4 677.3 32.6 676.1 32.7 674.9 32.9 673.7 33.1 672.6 33.2 671.4 33.4 670.2 33.6 669.0 33.8 667.9 34.0 666.7 34.1 665.5 34.4 664.3 34.6 663.2 34.8 662.0 35.0 660.8 35.2 659.6 35.5 658.4 35.7 657.3 36.0 656.1 36.2 654.9 36.5 653.7 36.7 652.6 36.9 651.4 37.1 650.2 37.4 649.0 37.7 647.9 38.3 646.7 40.0 645.5 42.4 644.3 45.3 643.1 48.4 642.0 49.8 640.8 50.7 639.6 51.4 638.4 52.0 637.3 52.5 636.1 52.9 634.9 53.4 633.7 54.0 632.6 54.7 631.4 55.3 630.2 56.0 629.0 56.8 627.9 57.5 626.7 58.4 625.5 59.3 624.3 60.3 623.1 61.4 622.0 62.4 620.8 63.3 619.6 64.0 618.4 64.6 617.3 65.4 616.1 66.5 614.9 68.0 613.7 70.0 612.6 72.2 611.4 74.4 610.2 76.7 609.0 79.1 607.8 81.6 606.7 84.1 605.5 87.2 604.3 91.7 603.1 98.6 602.0 105.8 600.8 112.7 599.6 117.0 598.4 118.5 597.3 119.6 596.1 120.4 594.9 121.1 593.7 121.6 592.5 122.1 591.4 122.7 590.2 123.2 589.0 123.7 587.8 124.2 586.7 124.7 585.5 125.2 584.3 125.7 583.1 126.1 582.0 126.6 580.8 127.0 579.6 127.5 578.4 127.9 577.3 128.3 576.1 128.6 574.9 129.0 573.7 129.3 572.5 129.6 571.4 129.9 570.2 130.2 569.0 130.5 567.8 130.7 566.7 130.9 565.5 131.0 564.3 131.2 563.1 131.3 562.0 131.4 560.8 131.4 559.6 131.4" stroke="#ff1ad9" stroke-width="1.2" fill="none"/>
<path d="M745.3 20.6h2.8v2.8h-2.8zM743.0 21.1h2.8v2.8h-2.8zM740.6 21.5h2.8v2.8h-2.8zM738.3 22.0h2.8v2.8h-2.8zM735.9 22.5h2.8v2.8h-2.8zM733.6 22.9h2.8v2.8h-2.8zM731.3 23.4h2.8v2.8h-2.8zM728.9 23.8h2.8v2.8h-2.8zM726.6 24.3h2.8v2.8h-2.8zM724.3 24.7h2.8v2.8h-2.8zM721.9 25.1h2.8v2.8h-2.8zM719.6 25.5h2.8v2.8h-2.8zM717.2 25.9h2.8v2.8h-2.8zM714.9 26.3h2.8v2.8h-2.8zM712.6 26.7h2.8v2.8h-2.8zM710.2 27.0h2.8v2.8h-2.8zM707.9 27.4h2.8v2.8h-2.8zM705.5 27.7h2.8v2.8h-2.8zM703.2 28.0h2.8v2.8h-2.8zM700.9 28.3h2.8v2.8h-2.8zM698.5 28.6h2.8v2.8h-2.8zM696.2 28.9h2.8v2.8h-2.8zM693.8 29.2h2.8v2.8h-2.8zM691.5 29.4h2.8v2.8h-2.8zM689.2 29.7h2.8v2.8h-2.8zM686.8 29.9h2.8v2.8h-2.8zM684.5 30.2h2.8v2.8h-2.8zM682.2 30.4h2.8v2.8h-2.8zM679.8 30.7h2.8v2.8h-2.8zM677.5 31.0h2.8v2.8h-2.8zM675.1 31.3h2.8v2.8h-2.8zM672.8 31.6h2.8v2.8h-2.8zM670.5 31.9h2.8v2.8h-2.8zM668.1 32.3h2.8v2.8h-2.8zM665.8 32.7h2.8v2.8h-2.8zM663.4 33.1h2.8v2.8h-2.8zM661.1 33.5h2.8v2.8h-2.8zM658.8 34.0h2.8v2.8h-2.8zM656.4 34.5h2.8v2.8h-2.8zM654.1 34.9h2.8v2.8h-2.8zM651.8 35.4h2.8v2.8h-2.8zM649.4 35.8h2.8v2.8h-2.8zM647.1 36.6h2.8v2.8h-2.8zM644.7 39.7h2.8v2.8h-2.8zM642.4 45.4h2.8v2.8h-2.8zM640.1 48.8h2.8v2.8h-2.8zM637.7 50.3h2.8v2.8h-2.8zM635.4 51.2h2.8v2.8h-2.8zM633.0 52.2h2.8v2.8h-2.8zM630.7 53.5h2.8v2.8h-2.8zM628.4 54.9h2.8v2.8h-2.8zM626.0 56.4h2.8v2.8h-2.8zM623.7 58.2h2.8v2.8h-2.8zM621.3 60.4h2.8v2.8h-2.8zM619.0 62.1h2.8v2.8h-2.8zM616.7 63.5h2.8v2.8h-2.8zM614.3 65.5h2.8v2.8h-2.8zM612.0 69.2h2.8v2.8h-2.8zM609.7 73.6h2.8v2.8h-2.8zM607.3 78.4h2.8v2.8h-2.8zM605.0 83.4h2.8v2.8h-2.8zM602.6 91.8h2.8v2.8h-2.8zM600.3 105.9h2.8v2.8h-2.8zM598.0 115.9h2.8v2.8h-2.8zM595.6 118.4h2.8v2.8h-2.8zM593.3 119.8h2.8v2.8h-2.8zM590.9 120.8h2.8v2.8h-2.8zM588.6 121.9h2.8v2.8h-2.8zM586.3 122.9h2.8v2.8h-2.8zM583.9 123.9h2.8v2.8h-2.8zM581.6 124.8h2.8v2.8h-2.8zM579.2 125.7h2.8v2.8h-2.8zM576.9 126.5h2.8v2.8h-2.8zM574.6 127.3h2.8v2.8h-2.8zM572.2 128.0h2.8v2.8h-2.8zM569.9 128.6h2.8v2.8h-2.8zM567.6 129.1h2.8v2.8h-2.8zM565.2 129.5h2.8v2.8h-2.8zM562.9 129.8h2.8v2.8h-2.8zM560.5 130.0h2.8v2.8h-2.8zM558.2 130.0h2.8v2.8h-2.8z" fill="#ff1ad9"/>
<path d="M559.6 131.4 560.8 131.2 562.0 130.9 563.1 130.7 564.3 130.5 565.5 130.2 566.7 130.0 567.8 129.7 569.0 129.5 570.2 129.3 571.4 129.0 572.5 128.8 573.7 128.6 574.9 128.4 576.1 128.1 577.3 127.9 578.4 127.7 579.6 127.5 580.8 127.3 582.0 127.1 583.1 126.9 584.3 126.7 585.5 126.5 586.7 126.3 587.8 126.1 589.0 125.9 590.2 125.7 591.4 125.5 592.5 125.3 593.7 125.1 594.9 124.9 596.1 124.8 597.3 124.6 598.4 124.4 599.6 124.2 600.8 124.1 602.0 123.9 603.1 123.8 604.3 123.6 605.5 123.5 606.7 123.3 607.8 123.2 609.0 123.1 610.2 122.9 611.4 122.8 612.6 122.7 613.7 122.5 614.9 122.4 616.1 122.3 617.3 122.2 618.4 122.0 619.6 121.9 620.8 121.8 622.0 121.6 623.1 121.5 624.3 121.4 625.5 121.2 626.7 121.1 627.9 121.0 629.0 120.8 630.2 120.7 631.4 120.5 632.6 120.3 633.7 120.2 634.9 120.0 636.1 119.8 637.3 119.6 638.4 119.4 639.6 119.3 640.8 119.0 642.0 118.8 643.1 118.6 644.3 118.4 645.5 118.2 646.7 117.9 647.9 117.7 649.0 117.4 650.2 117.2 651.4 116.9 652.6 116.7 653.7 116.5 654.9 116.3 656.1 116.0 657.3 115.7 658.4 115.1 659.6 113.4 660.8 111.0 662.0 108.1 663.2 105.0 664.3 103.6 665.5 102.7 666.7 102.0 667.9 101.4 669.0 100.9 670.2 100.5 671.4 100.0 672.6 99.4 673.7 98.7 674.9 98.1 676.1 97.4 677.3 96.6 678.4 95.9 679.6 95.0 680.8 94.1 682.0 93.1 683.2 92.0 684.3 91.0 685.5 90.1 686.7 89.4 687.9 88.8 689.0 88.0 690.2 86.9 691.4 85.4 692.6 83.4 693.7 81.2 694.9 79.0 696.1 76.7 697.3 74.3 698.5 71.8 699.6 69.3 700.8 66.2 702.0 61.7 703.2 54.8 704.3 47.6 705.5 40.7 706.7 36.4 707.9 34.9 709.0 33.8 710.2 33.0 711.4 32.3 712.6 31.8 713.8 31.3 714.9 30.7 716.1 30.2 717.3 29.7 718.5 29.2 719.6 28.7 720.8 28.2 722.0 27.7 723.2 27.3 724.3 26.8 725.5 26.4 726.7 25.9 727.9 25.5 729.0 25.1 730.2 24.8 731.4 24.4 732.6 24.1 733.8 23.8 734.9 23.5 736.1 23.2 737.3 22.9 738.5 22.7 739.6 22.5 740.8 22.4 742.0 22.2 743.2 22.1 744.3 22.0 745.5 22.0 746.7 22.0" stroke="#ff1ad9" stroke-width="1.2" fill="none"/>
<path d="M558.2 130.0h2.8v2.8h-2.8zM560.5 129.5h2.8v2.8h-2.8zM562.9 129.1h2.8v2.8h-2.8zM565.2 128.6h2.8v2.8h-2.8zM567.6 128.1h2.8v2.8h-2.8zM569.9 127.7h2.8v2.8h-2.8zM572.2 127.2h2.8v2.8h-2.8zM574.6 126.8h2.8v2.8h-2.8zM576.9 126.3h2.8v2.8h-2.8zM579.2 125.9h2.8v2.8h-2.8zM581.6 125.5h2.8v2.8h-2.8zM583.9 125.1h2.8v2.8h-2.8zM586.3 124.7h2.8v2.8h-2.8zM588.6 124.3h2.8v2.8h-2.8zM590.9 123.9h2.8v2.8h-2.8zM593.3 123.6h2.8v2.8h-2.8zM595.6 123.2h2.8v2.8h-2.8zM598.0 122.9h2.8v2.8h-2.8zM600.3 122.6h2.8v2.8h-2.8zM602.6 122.3h2.8v2.8h-2.8zM605.0 122.0h2.8v2.8h-2.8zM607.3 121.7h2.8v2.8h-2.8zM609.7 121.4h2.8v2.8h-2.8zM612.0 121.2h2.8v2.8h-2.8zM614.3 120.9h2.8v2.8h-2.8zM616.7 120.7h2.8v2.8h-2.8zM619.0 120.4h2.8v2.8h-2.8zM621.3 120.2h2.8v2.8h-2.8zM623.7 119.9h2.8v2.8h-2.8zM626.0 119.6h2.8v2.8h-2.8zM628.4 119.3h2.8v2.8h-2.8zM630.7 119.0h2.8v2.8h-2.8zM633.0 118.7h2.8v2.8h-2.8zM635.4 118.3h2.8v2.8h-2.8zM637.7 117.9h2.8v2.8h-2.8zM640.1 117.5h2.8v2.8h-2.8zM642.4 117.1h2.8v2.8h-2.8zM644.7 116.6h2.8v2.8h-2.8zM647.1 116.1h2.8v2.8h-2.8zM649.4 115.7h2.8v2.8h-2.8zM651.8 115.2h2.8v2.8h-2.8zM654.1 114.8h2.8v2.8h-2.8zM656.4 114.0h2.8v2.8h-2.8zM658.8 110.9h2.8v2.8h-2.8zM661.1 105.2h2.8v2.8h-2.8zM663.4 101.8h2.8v2.8h-2.8zM665.8 100.3h2.8v2.8h-2.8zM668.1 99.4h2.8v2.8h-2.8zM670.5 98.4h2.8v2.8h-2.8zM672.8 97.1h2.8v2.8h-2.8zM675.1 95.7h2.8v2.8h-2.8zM677.5 94.2h2.8v2.8h-2.8zM679.8 92.4h2.8v2.8h-2.8zM682.2 90.2h2.8v2.8h-2.8zM684.5 88.5h2.8v2.8h-2.8zM686.8 87.1h2.8v2.8h-2.8zM689.2 85.1h2.8v2.8h-2.8zM691.5 81.4h2.8v2.8h-2.8zM693.8 77.0h2.8v2.8h-2.8zM696.2 72.2h2.8v2.8h-2.8zM698.5 67.2h2.8v2.8h-2.8zM700.9 58.8h2.8v2.8h-2.8zM703.2 44.7h2.8v2.8h-2.8zM705.5 34.7h2.8v2.8h-2.8zM707.9 32.2h2.8v2.8h-2.8zM710.2 30.8h2.8v2.8h-2.8zM712.6 29.8h2.8v2.8h-2.8zM714.9 28.7h2.8v2.8h-2.8zM717.2 27.7h2.8v2.8h-2.8zM719.6 26.7h2.8v2.8h-2.8zM721.9 25.8h2.8v2.8h-2.8zM724.3 24.9h2.8v2.8h-2.8zM726.6 24.1h2.8v2.8h-2.8zM728.9 23.3h2.8v2.8h-2.8zM731.3 22.6h2.8v2.8h-2.8zM733.6 22.0h2.8v2.8h-2.8zM735.9 21.5h2.8v2.8h-2.8zM738.3 21.1h2.8v2.8h-2.8zM740.6 20.8h2.8v2.8h-2.8zM743.0 20.6h2.8v2.8h-2.8zM745.3 20.6h2.8v2.8h-2.8z" fill="#ff1ad9"/>
<path d="M746.7 29.4 745.5 29.6 744.3 29.8 743.2 29.9 742.0 30.1 740.8 30.3 739.6 30.4 738.5 30.6 737.3 30.7 736.1 30.9 734.9 31.0 733.8 31.2 732.6 31.4 731.4 31.5 730.2 31.7 729.0 31.8 727.9 32.0 726.7 32.1 725.5 32.3 724.3 32.4 723.2 32.6 722.0 32.8 720.8 32.9 719.6 33.1 718.5 33.2 717.3 33.4 716.1 33.5 714.9 33.7 713.8 33.8 712.6 34.0 711.4 34.1 710.2 34.3 709.0 34.4 707.9 34.6 706.7 34.7 705.5 34.8 704.3 35.0 703.2 35.1 702.0 35.3 700.8 35.4 699.6 35.6 698.5 35.7 697.3 35.9 696.1 36.0 694.9 36.1 693.7 36.3 692.6 36.4 691.4 36.6 690.2 36.7 689.0 36.9 687.9 37.0 686.7 37.1 685.5 37.3 684.3 37.4 683.2 37.6 682.0 37.7 680.8 37.8 679.6 38.0 678.4 38.1 677.3 38.2 676.1 38.4 674.9 38.5 673.7 38.6 672.6 38.7 671.4 38.9 670.2 39.0 669.0 39.1 667.9 39.2 666.7 39.3 665.5 39.3 664.3 39.4 663.2 39.5 662.0 39.6 660.8 39.6 659.6 39.7 658.4 39.8 657.3 39.9 656.1 40.0 654.9 40.1 653.7 40.3 652.6 40.4 651.4 40.6 650.2 40.8 649.0 41.0 647.9 41.2 646.7 41.8 645.5 42.6 644.3 45.0 643.1 48.5 642.0 49.7 640.8 50.6 639.6 51.2 638.4 51.7 637.3 52.2 636.1 52.7 634.9 53.2 633.7 53.9 632.6 54.8 631.4 55.6 630.2 56.6 629.0 57.7 627.9 59.1 626.7 60.9 625.5 63.2 624.3 69.1 623.1 77.8 622.0 87.4 620.8 94.1 619.6 99.5 618.4 104.0 617.3 107.8 616.1 108.8 614.9 109.5 613.7 110.1 612.6 110.6 611.4 111.0 610.2 111.4 609.0 111.7 607.8 112.0 606.7 112.2 605.5 112.4 604.3 112.6 603.1 112.8 602.0 113.0 600.8 113.2 599.6 113.4 598.4 113.7 597.3 114.0 596.1 114.3 594.9 114.6 593.7 115.0 592.5 115.3 591.4 115.6 590.2 116.0 589.0 116.3 587.8 116.6 586.7 116.9 585.5 117.2 584.3 117.6 583.1 117.9 582.0 118.2 580.8 118.5 579.6 118.8 578.4 119.1 577.3 119.5 576.1 119.8 574.9 120.1 573.7 120.4 572.5 120.7 571.4 121.0 570.2 121.3 569.0 121.6 567.8 121.9 566.7 122.2 565.5 122.5 564.3 122.8 563.1 123.1 562.0 123.4 560.8 123.7 559.6 124.0" stroke="#ff6a2a" stroke-width="1.2" fill="none"/>
<path d="M745.3 29.4a1.4 1.4 0 1 0 2.8 0a1.4 1.4 0 1 0 -2.8 0zM743.0 29.8a1.4 1.4 0 1 0 2.8 0a1.4 1.4 0 1 0 -2.8 0zM740.6 30.1a1.4 1.4 0 1 0 2.8 0a1.4 1.4 0 1 0 -2.8 0zM738.3 30.4a1.4 1.4 0 1 0 2.8 0a1.4 1.4 0 1 0 -2.8 0zM735.9 30.7a1.4 1.4 0 1 0 2.8 0a1.4 1.4 0 1 0 -2.8 0zM733.6 31.0a1.4 1.4 0 1 0 2.8 0a1.4 1.4 0 1 0 -2.8 0zM731.3 31.4a1.4 1.4 0 1 0 2.8 0a1.4 1.4 0 1 0 -2.8 0zM728.9 31.7a1.4 1.4 0 1 0 2.8 0a1.4 1.4 0 1 0 -2.8 0zM726.6 32.0a1.4 1.4 0 1 0 2.8 0a1.4 1.4 0 1 0 -2.8 0zM724.3 32.3a1.4 1.4 0 1 0 2.8 0a1.4 1.4 0 1 0 -2.8 0zM721.9 32.6a1.4 1.4 0 1 0 2.8 0a1.4 1.4 0 1 0 -2.8 0zM719.6 32.9a1.4 1.4 0 1 0 2.8 0a1.4 1.4 0 1 0 -2.8 0zM717.2 33.2a1.4 1.4 0 1 0 2.8 0a1.4 1.4 0 1 0 -2.8 0zM714.9 33.5a1.4 1.4 0 1 0 2.8 0a1.4 1.4 0 1 0 -2.8 0zM712.6 33.8a1.4 1.4 0 1 0 2.8 0a1.4 1.4 0 1 0 -2.8 0zM710.2 34.1a1.4 1.4 0 1 0 2.8 0a1.4 1.4 0 1 0 -2.8 0zM707.9 34.4a1.4 1.4 0 1 0 2.8 0a1.4 1.4 0 1 0 -2.8 0zM705.5 34.7a1.4 1.4 0 1 0 2.8 0a1.4 1.4 0 1 0 -2.8 0zM703.2 35.0a1.4 1.4 0 1 0 2.8 0a1.4 1.4 0 1 0 -2.8 0zM700.9 35.2a1.4 1.4 0 1 0 2.8 0a1.4 1.4 0 1 0 -2.8 0zM698.5 35.5a1.4 1.4 0 1 0 2.8 0a1.4 1.4 0 1 0 -2.8 0zM696.2 35.8a1.4 1.4 0 1 0 2.8 0a1.4 1.4 0 1 0 -2.8 0zM693.8 36.1a1.4 1.4 0 1 0 2.8 0a1.4 1.4 0 1 0 -2.8 0zM691.5 36.4a1.4 1.4 0 1 0 2.8 0a1.4 1.4 0 1 0 -2.8 0zM689.2 36.7a1.4 1.4 0 1 0 2.8 0a1.4 1.4 0 1 0 -2.8 0zM686.8 37.0a1.4 1.4 0 1 0 2.8 0a1.4 1.4 0 1 0 -2.8 0zM684.5 37.2a1.4 1.4 0 1 0 2.8 0a1.4 1.4 0 1 0 -2.8 0zM682.2 37.5a1.4 1.4 0 1 0 2.8 0a1.4 1.4 0 1 0 -2.8 0zM679.8 37.8a1.4 1.4 0 1 0 2.8 0a1.4 1.4 0 1 0 -2.8 0zM677.5 38.1a1.4 1.4 0 1 0 2.8 0a1.4 1.4 0 1 0 -2.8 0zM675.1 38.3a1.4 1.4 0 1 0 2.8 0a1.4 1.4 0 1 0 -2.8 0zM672.8 38.6a1.4 1.4 0 1 0 2.8 0a1.4 1.4 0 1 0 -2.8 0zM670.5 38.8a1.4 1.4 0 1 0 2.8 0a1.4 1.4 0 1 0 -2.8 0zM668.1 39.0a1.4 1.4 0 1 0 2.8 0a1.4 1.4 0 1 0 -2.8 0zM665.8 39.2a1.4 1.4 0 1 0 2.8 0a1.4 1.4 0 1 0 -2.8 0zM663.4 39.4a1.4 1.4 0 1 0 2.8 0a1.4 1.4 0 1 0 -2.8 0zM661.1 39.5a1.4 1.4 0 1 0 2.8 0a1.4 1.4 0 1 0 -2.8 0zM658.8 39.7a1.4 1.4 0 1 0 2.8 0a1.4 1.4 0 1 0 -2.8 0zM656.4 39.9a1.4 1.4 0 1 0 2.8 0a1.4 1.4 0 1 0 -2.8 0zM654.1 40.1a1.4 1.4 0 1 0 2.8 0a1.4 1.4 0 1 0 -2.8 0zM651.8 40.3a1.4 1.4 0 1 0 2.8 0a1.4 1.4 0 1 0 -2.8 0zM649.4 40.7a1.4 1.4 0 1 0 2.8 0a1.4 1.4 0 1 0 -2.8 0zM647.1 41.1a1.4 1.4 0 1 0 2.8 0a1.4 1.4 0 1 0 -2.8 0zM644.7 42.1a1.4 1.4 0 1 0 2.8 0a1.4 1.4 0 1 0 -2.8 0zM642.4 46.7a1.4 1.4 0 1 0 2.8 0a1.4 1.4 0 1 0 -2.8 0zM640.1 50.1a1.4 1.4 0 1 0 2.8 0a1.4 1.4 0 1 0 -2.8 0zM637.7 51.5a1.4 1.4 0 1 0 2.8 0a1.4 1.4 0 1 0 -2.8 0zM635.4 52.4a1.4 1.4 0 1 0 2.8 0a1.4 1.4 0 1 0 -2.8 0zM633.0 53.5a1.4 1.4 0 1 0 2.8 0a1.4 1.4 0 1 0 -2.8 0zM630.7 55.1a1.4 1.4 0 1 0 2.8 0a1.4 1.4 0 1 0 -2.8 0zM628.4 57.0a1.4 1.4 0 1 0 2.8 0a1.4 1.4 0 1 0 -2.8 0zM626.0 59.7a1.4 1.4 0 1 0 2.8 0a1.4 1.4 0 1 0 -2.8 0zM623.7 64.4a1.4 1.4 0 1 0 2.8 0a1.4 1.4 0 1 0 -2.8 0zM621.3 81.2a1.4 1.4 0 1 0 2.8 0a1.4 1.4 0 1 0 -2.8 0zM619.0 95.9a1.4 1.4 0 1 0 2.8 0a1.4 1.4 0 1 0 -2.8 0zM616.7 105.2a1.4 1.4 0 1 0 2.8 0a1.4 1.4 0 1 0 -2.8 0zM614.3 109.0a1.4 1.4 0 1 0 2.8 0a1.4 1.4 0 1 0 -2.8 0zM612.0 110.2a1.4 1.4 0 1 0 2.8 0a1.4 1.4 0 1 0 -2.8 0zM609.7 111.1a1.4 1.4 0 1 0 2.8 0a1.4 1.4 0 1 0 -2.8 0zM607.3 111.8a1.4 1.4 0 1 0 2.8 0a1.4 1.4 0 1 0 -2.8 0zM605.0 112.3a1.4 1.4 0 1 0 2.8 0a1.4 1.4 0 1 0 -2.8 0zM602.6 112.7a1.4 1.4 0 1 0 2.8 0a1.4 1.4 0 1 0 -2.8 0zM600.3 113.1a1.4 1.4 0 1 0 2.8 0a1.4 1.4 0 1 0 -2.8 0zM598.0 113.5a1.4 1.4 0 1 0 2.8 0a1.4 1.4 0 1 0 -2.8 0zM595.6 114.1a1.4 1.4 0 1 0 2.8 0a1.4 1.4 0 1 0 -2.8 0zM593.3 114.7a1.4 1.4 0 1 0 2.8 0a1.4 1.4 0 1 0 -2.8 0zM590.9 115.4a1.4 1.4 0 1 0 2.8 0a1.4 1.4 0 1 0 -2.8 0zM588.6 116.0a1.4 1.4 0 1 0 2.8 0a1.4 1.4 0 1 0 -2.8 0zM586.3 116.7a1.4 1.4 0 1 0 2.8 0a1.4 1.4 0 1 0 -2.8 0zM583.9 117.3a1.4 1.4 0 1 0 2.8 0a1.4 1.4 0 1 0 -2.8 0zM581.6 117.9a1.4 1.4 0 1 0 2.8 0a1.4 1.4 0 1 0 -2.8 0zM579.2 118.6a1.4 1.4 0 1 0 2.8 0a1.4 1.4 0 1 0 -2.8 0zM576.9 119.2a1.4 1.4 0 1 0 2.8 0a1.4 1.4 0 1 0 -2.8 0zM574.6 119.8a1.4 1.4 0 1 0 2.8 0a1.4 1.4 0 1 0 -2.8 0zM572.2 120.4a1.4 1.4 0 1 0 2.8 0a1.4 1.4 0 1 0 -2.8 0zM569.9 121.0a1.4 1.4 0 1 0 2.8 0a1.4 1.4 0 1 0 -2.8 0zM567.6 121.6a1.4 1.4 0 1 0 2.8 0a1.4 1.4 0 1 0 -2.8 0zM565.2 122.2a1.4 1.4 0 1 0 2.8 0a1.4 1.4 0 1 0 -2.8 0zM562.9 122.8a1.4 1.4 0 1 0 2.8 0a1.4 1.4 0 1 0 -2.8 0zM560.5 123.4a1.4 1.4 0 1 0 2.8 0a1.4 1.4 0 1 0 -2.8 0zM558.2 124.0a1.4 1.4 0 1 0 2.8 0a1.4 1.4 0 1 0 -2.8 0z" fill="#ff6a2a"/>
<path d="M559.6 124.0 560.8 123.8 562.0 123.6 563.1 123.5 564.3 123.3 565.5 123.1 566.7 123.0 567.8 122.8 569.0 122.7 570.2 122.5 571.4 122.4 572.5 122.2 573.7 122.0 574.9 121.9 576.1 121.7 577.3 121.6 578.4 121.4 579.6 121.3 580.8 121.1 582.0 121.0 583.1 120.8 584.3 120.6 585.5 120.5 586.7 120.3 587.8 120.2 589.0 120.0 590.2 119.9 591.4 119.7 592.5 119.6 593.7 119.4 594.9 119.3 596.1 119.1 597.3 119.0 598.4 118.8 599.6 118.7 600.8 118.6 602.0 118.4 603.1 118.3 604.3 118.1 605.5 118.0 606.7 117.8 607.8 117.7 609.0 117.5 610.2 117.4 611.4 117.3 612.6 117.1 613.7 117.0 614.9 116.8 616.1 116.7 617.3 116.5 618.4 116.4 619.6 116.3 620.8 116.1 622.0 116.0 623.1 115.8 624.3 115.7 625.5 115.6 626.7 115.4 627.9 115.3 629.0 115.2 630.2 115.0 631.4 114.9 632.6 114.8 633.7 114.7 634.9 114.5 636.1 114.4 637.3 114.3 638.4 114.2 639.6 114.1 640.8 114.1 642.0 114.0 643.1 113.9 644.3 113.8 645.5 113.8 646.7 113.7 647.9 113.6 649.0 113.5 650.2 113.4 651.4 113.3 652.6 113.1 653.7 113.0 654.9 112.8 656.1 112.6 657.3 112.4 658.4 112.2 659.6 111.6 660.8 110.8 662.0 108.4 663.2 104.9 664.3 103.7 665.5 102.8 666.7 102.2 667.9 101.7 669.0 101.2 670.2 100.7 671.4 100.2 672.6 99.5 673.7 98.6 674.9 97.8 676.1 96.8 677.3 95.7 678.4 94.3 679.6 92.5 680.8 90.2 682.0 84.3 683.2 75.6 684.3 66.0 685.5 59.3 686.7 53.9 687.9 49.4 689.0 45.6 690.2 44.6 691.4 43.9 692.6 43.3 693.7 42.8 694.9 42.4 696.1 42.0 697.3 41.7 698.5 41.4 699.6 41.2 700.8 41.0 702.0 40.8 703.2 40.6 704.3 40.4 705.5 40.2 706.7 40.0 707.9 39.7 709.0 39.4 710.2 39.1 711.4 38.8 712.6 38.4 713.8 38.1 714.9 37.8 716.1 37.4 717.3 37.1 718.5 36.8 719.6 36.5 720.8 36.2 722.0 35.8 723.2 35.5 724.3 35.2 725.5 34.9 726.7 34.6 727.9 34.3 729.0 33.9 730.2 33.6 731.4 33.3 732.6 33.0 733.8 32.7 734.9 32.4 736.1 32.1 737.3 31.8 738.5 31.5 739.6 31.2 740.8 30.9 742.0 30.6 743.2 30.3 744.3 30.0 745.5 29.7 746.7 29.4" stroke="#ff6a2a" stroke-width="1.2" fill="none"/>
<path d="M558.2 124.0a1.4 1.4 0 1 0 2.8 0a1.4 1.4 0 1 0 -2.8 0zM560.5 123.6a1.4 1.4 0 1 0 2.8 0a1.4 1.4 0 1 0 -2.8 0zM562.9 123.3a1.4 1.4 0 1 0 2.8 0a1.4 1.4 0 1 0 -2.8 0zM565.2 123.0a1.4 1.4 0 1 0 2.8 0a1.4 1.4 0 1 0 -2.8 0zM567.6 122.7a1.4 1.4 0 1 0 2.8 0a1.4 1.4 0 1 0 -2.8 0zM569.9 122.4a1.4 1.4 0 1 0 2.8 0a1.4 1.4 0 1 0 -2.8 0zM572.2 122.0a1.4 1.4 0 1 0 2.8 0a1.4 1.4 0 1 0 -2.8 0zM574.6 121.7a1.4 1.4 0 1 0 2.8 0a1.4 1.4 0 1 0 -2.8 0zM576.9 121.4a1.4 1.4 0 1 0 2.8 0a1.4 1.4 0 1 0 -2.8 0zM579.2 121.1a1.4 1.4 0 1 0 2.8 0a1.4 1.4 0 1 0 -2.8 0zM581.6 120.8a1.4 1.4 0 1 0 2.8 0a1.4 1.4 0 1 0 -2.8 0zM583.9 120.5a1.4 1.4 0 1 0 2.8 0a1.4 1.4 0 1 0 -2.8 0zM586.3 120.2a1.4 1.4 0 1 0 2.8 0a1.4 1.4 0 1 0 -2.8 0zM588.6 119.9a1.4 1.4 0 1 0 2.8 0a1.4 1.4 0 1 0 -2.8 0zM590.9 119.6a1.4 1.4 0 1 0 2.8 0a1.4 1.4 0 1 0 -2.8 0zM593.3 119.3a1.4 1.4 0 1 0 2.8 0a1.4 1.4 0 1 0 -2.8 0zM595.6 119.0a1.4 1.4 0 1 0 2.8 0a1.4 1.4 0 1 0 -2.8 0zM598.0 118.7a1.4 1.4 0 1 0 2.8 0a1.4 1.4 0 1 0 -2.8 0zM600.3 118.4a1.4 1.4 0 1 0 2.8 0a1.4 1.4 0 1 0 -2.8 0zM602.6 118.2a1.4 1.4 0 1 0 2.8 0a1.4 1.4 0 1 0 -2.8 0zM605.0 117.9a1.4 1.4 0 1 0 2.8 0a1.4 1.4 0 1 0 -2.8 0zM607.3 117.6a1.4 1.4 0 1 0 2.8 0a1.4 1.4 0 1 0 -2.8 0zM609.7 117.3a1.4 1.4 0 1 0 2.8 0a1.4 1.4 0 1 0 -2.8 0zM612.0 117.0a1.4 1.4 0 1 0 2.8 0a1.4 1.4 0 1 0 -2.8 0zM614.3 116.7a1.4 1.4 0 1 0 2.8 0a1.4 1.4 0 1 0 -2.8 0zM616.7 116.4a1.4 1.4 0 1 0 2.8 0a1.4 1.4 0 1 0 -2.8 0zM619.0 116.2a1.4 1.4 0 1 0 2.8 0a1.4 1.4 0 1 0 -2.8 0zM621.3 115.9a1.4 1.4 0 1 0 2.8 0a1.4 1.4 0 1 0 -2.8 0zM623.7 115.6a1.4 1.4 0 1 0 2.8 0a1.4 1.4 0 1 0 -2.8 0zM626.0 115.3a1.4 1.4 0 1 0 2.8 0a1.4 1.4 0 1 0 -2.8 0zM628.4 115.1a1.4 1.4 0 1 0 2.8 0a1.4 1.4 0 1 0 -2.8 0zM630.7 114.8a1.4 1.4 0 1 0 2.8 0a1.4 1.4 0 1 0 -2.8 0zM633.0 114.6a1.4 1.4 0 1 0 2.8 0a1.4 1.4 0 1 0 -2.8 0zM635.4 114.4a1.4 1.4 0 1 0 2.8 0a1.4 1.4 0 1 0 -2.8 0zM637.7 114.2a1.4 1.4 0 1 0 2.8 0a1.4 1.4 0 1 0 -2.8 0zM640.1 114.0a1.4 1.4 0 1 0 2.8 0a1.4 1.4 0 1 0 -2.8 0zM642.4 113.9a1.4 1.4 0 1 0 2.8 0a1.4 1.4 0 1 0 -2.8 0zM644.7 113.7a1.4 1.4 0 1 0 2.8 0a1.4 1.4 0 1 0 -2.8 0zM647.1 113.5a1.4 1.4 0 1 0 2.8 0a1.4 1.4 0 1 0 -2.8 0zM649.4 113.3a1.4 1.4 0 1 0 2.8 0a1.4 1.4 0 1 0 -2.8 0zM651.8 113.1a1.4 1.4 0 1 0 2.8 0a1.4 1.4 0 1 0 -2.8 0zM654.1 112.7a1.4 1.4 0 1 0 2.8 0a1.4 1.4 0 1 0 -2.8 0zM656.4 112.3a1.4 1.4 0 1 0 2.8 0a1.4 1.4 0 1 0 -2.8 0zM658.8 111.3a1.4 1.4 0 1 0 2.8 0a1.4 1.4 0 1 0 -2.8 0zM661.1 106.7a1.4 1.4 0 1 0 2.8 0a1.4 1.4 0 1 0 -2.8 0zM663.4 103.3a1.4 1.4 0 1 0 2.8 0a1.4 1.4 0 1 0 -2.8 0zM665.8 101.9a1.4 1.4 0 1 0 2.8 0a1.4 1.4 0 1 0 -2.8 0zM668.1 101.0a1.4 1.4 0 1 0 2.8 0a1.4 1.4 0 1 0 -2.8 0zM670.5 99.9a1.4 1.4 0 1 0 2.8 0a1.4 1.4 0 1 0 -2.8 0zM672.8 98.3a1.4 1.4 0 1 0 2.8 0a1.4 1.4 0 1 0 -2.8 0zM675.1 96.4a1.4 1.4 0 1 0 2.8 0a1.4 1.4 0 1 0 -2.8 0zM677.5 93.7a1.4 1.4 0 1 0 2.8 0a1.4 1.4 0 1 0 -2.8 0zM679.8 89.0a1.4 1.4 0 1 0 2.8 0a1.4 1.4 0 1 0 -2.8 0zM682.2 72.2a1.4 1.4 0 1 0 2.8 0a1.4 1.4 0 1 0 -2.8 0zM684.5 57.5a1.4 1.4 0 1 0 2.8 0a1.4 1.4 0 1 0 -2.8 0zM686.8 48.2a1.4 1.4 0 1 0 2.8 0a1.4 1.4 0 1 0 -2.8 0zM689.2 44.4a1.4 1.4 0 1 0 2.8 0a1.4 1.4 0 1 0 -2.8 0zM691.5 43.2a1.4 1.4 0 1 0 2.8 0a1.4 1.4 0 1 0 -2.8 0zM693.8 42.3a1.4 1.4 0 1 0 2.8 0a1.4 1.4 0 1 0 -2.8 0zM696.2 41.6a1.4 1.4 0 1 0 2.8 0a1.4 1.4 0 1 0 -2.8 0zM698.5 41.1a1.4 1.4 0 1 0 2.8 0a1.4 1.4 0 1 0 -2.8 0zM700.9 40.7a1.4 1.4 0 1 0 2.8 0a1.4 1.4 0 1 0 -2.8 0zM703.2 40.3a1.4 1.4 0 1 0 2.8 0a1.4 1.4 0 1 0 -2.8 0zM705.5 39.9a1.4 1.4 0 1 0 2.8 0a1.4 1.4 0 1 0 -2.8 0zM707.9 39.3a1.4 1.4 0 1 0 2.8 0a1.4 1.4 0 1 0 -2.8 0zM710.2 38.7a1.4 1.4 0 1 0 2.8 0a1.4 1.4 0 1 0 -2.8 0zM712.6 38.0a1.4 1.4 0 1 0 2.8 0a1.4 1.4 0 1 0 -2.8 0zM714.9 37.4a1.4 1.4 0 1 0 2.8 0a1.4 1.4 0 1 0 -2.8 0zM717.2 36.7a1.4 1.4 0 1 0 2.8 0a1.4 1.4 0 1 0 -2.8 0zM719.6 36.1a1.4 1.4 0 1 0 2.8 0a1.4 1.4 0 1 0 -2.8 0zM721.9 35.5a1.4 1.4 0 1 0 2.8 0a1.4 1.4 0 1 0 -2.8 0zM724.3 34.8a1.4 1.4 0 1 0 2.8 0a1.4 1.4 0 1 0 -2.8 0zM726.6 34.2a1.4 1.4 0 1 0 2.8 0a1.4 1.4 0 1 0 -2.8 0zM728.9 33.6a1.4 1.4 0 1 0 2.8 0a1.4 1.4 0 1 0 -2.8 0zM731.3 33.0a1.4 1.4 0 1 0 2.8 0a1.4 1.4 0 1 0 -2.8 0zM733.6 32.4a1.4 1.4 0 1 0 2.8 0a1.4 1.4 0 1 0 -2.8 0zM735.9 31.8a1.4 1.4 0 1 0 2.8 0a1.4 1.4 0 1 0 -2.8 0zM738.3 31.2a1.4 1.4 0 1 0 2.8 0a1.4 1.4 0 1 0 -2.8 0zM740.6 30.6a1.4 1.4 0 1 0 2.8 0a1.4 1.4 0 1 0 -2.8 0zM743.0 30.0a1.4 1.4 0 1 0 2.8 0a1.4 1.4 0 1 0 -2.8 0zM745.3 29.4a1.4 1.4 0 1 0 2.8 0a1.4 1.4 0 1 0 -2.8 0z" fill="#ff6a2a"/>
<path d="M746.7 30.7 745.5 30.8 744.3 31.0 743.2 31.2 742.0 31.4 740.8 31.6 739.6 31.8 738.5 32.0 737.3 32.2 736.1 32.3 734.9 32.5 733.8 32.7 732.6 32.9 731.4 33.1 730.2 33.2 729.0 33.4 727.9 33.6 726.7 33.8 725.5 33.9 724.3 34.1 723.2 34.3 722.0 34.4 720.8 34.6 719.6 34.8 718.5 34.9 717.3 35.1 716.1 35.3 714.9 35.4 713.8 35.6 712.6 35.7 711.4 35.9 710.2 36.0 709.0 36.2 707.9 36.4 706.7 36.5 705.5 36.7 704.3 36.8 703.2 36.9 702.0 37.1 700.8 37.2 699.6 37.4 698.5 37.5 697.3 37.7 696.1 37.8 694.9 37.9 693.7 38.1 692.6 38.2 691.4 38.3 690.2 38.5 689.0 38.6 687.9 38.7 686.7 38.8 685.5 38.9 684.3 39.0 683.2 39.1 682.0 39.2 680.8 39.2 679.6 39.3 678.4 39.4 677.3 39.4 676.1 39.5 674.9 39.6 673.7 39.6 672.6 39.7 671.4 39.7 670.2 39.8 669.0 39.9 667.9 40.0 666.7 40.0 665.5 40.1 664.3 40.2 663.2 40.3 662.0 40.4 660.8 40.5 659.6 40.6 658.4 40.7 657.3 40.9 656.1 41.0 654.9 41.2 653.7 41.4 652.6 41.5 651.4 41.7 650.2 42.0 649.0 42.2 647.9 42.5 646.7 43.2 645.5 44.3 644.3 46.8 643.1 50.1 642.0 51.7 640.8 52.7 639.6 53.4 638.4 54.0 637.3 54.5 636.1 55.2 634.9 56.3 633.7 57.8 632.6 61.3 631.4 68.5 630.2 77.8 629.0 89.0 627.9 95.3 626.7 100.5 625.5 104.2 624.3 106.3 623.1 107.7 622.0 108.8 620.8 109.6 619.6 110.0 618.4 110.4 617.3 110.7 616.1 111.0 614.9 111.3 613.7 111.5 612.6 111.8 611.4 112.0 610.2 112.1 609.0 112.3 607.8 112.5 606.7 112.6 605.5 112.8 604.3 112.9 603.1 113.1 602.0 113.2 600.8 113.4 599.6 113.6 598.4 113.8 597.3 114.0 596.1 114.2 594.9 114.5 593.7 114.7 592.5 115.0 591.4 115.2 590.2 115.5 589.0 115.7 587.8 116.0 586.7 116.3 585.5 116.5 584.3 116.8 583.1 117.0 582.0 117.3 580.8 117.6 579.6 117.8 578.4 118.1 577.3 118.4 576.1 118.7 574.9 118.9 573.7 119.2 572.5 119.5 571.4 119.8 570.2 120.1 569.0 120.4 567.8 120.6 566.7 120.9 565.5 121.2 564.3 121.5 563.1 121.8 562.0 122.1 560.8 122.4 559.6 122.7" stroke="#f2a52a" stroke-width="1.2" fill="none"/>
<path d="M746.7 29.0l1.5 2.7h-3.1zM744.4 29.4l1.5 2.7h-3.1zM742.0 29.8l1.5 2.7h-3.1zM739.7 30.2l1.5 2.7h-3.1zM737.3 30.5l1.5 2.7h-3.1zM735.0 30.9l1.5 2.7h-3.1zM732.7 31.3l1.5 2.7h-3.1zM730.3 31.6l1.5 2.7h-3.1zM728.0 32.0l1.5 2.7h-3.1zM725.7 32.3l1.5 2.7h-3.1zM723.3 32.6l1.5 2.7h-3.1zM721.0 33.0l1.5 2.7h-3.1zM718.6 33.3l1.5 2.7h-3.1zM716.3 33.6l1.5 2.7h-3.1zM714.0 33.9l1.5 2.7h-3.1zM711.6 34.3l1.5 2.7h-3.1zM709.3 34.6l1.5 2.7h-3.1zM706.9 34.9l1.5 2.7h-3.1zM704.6 35.2l1.5 2.7h-3.1zM702.3 35.4l1.5 2.7h-3.1zM699.9 35.7l1.5 2.7h-3.1zM697.6 36.0l1.5 2.7h-3.1zM695.2 36.3l1.5 2.7h-3.1zM692.9 36.5l1.5 2.7h-3.1zM690.6 36.8l1.5 2.7h-3.1zM688.2 37.0l1.5 2.7h-3.1zM685.9 37.3l1.5 2.7h-3.1zM683.6 37.4l1.5 2.7h-3.1zM681.2 37.6l1.5 2.7h-3.1zM678.9 37.7l1.5 2.7h-3.1zM676.5 37.9l1.5 2.7h-3.1zM674.2 38.0l1.5 2.7h-3.1zM671.9 38.1l1.5 2.7h-3.1zM669.5 38.2l1.5 2.7h-3.1zM667.2 38.4l1.5 2.7h-3.1zM664.8 38.5l1.5 2.7h-3.1zM662.5 38.7l1.5 2.7h-3.1zM660.2 38.9l1.5 2.7h-3.1zM657.8 39.2l1.5 2.7h-3.1zM655.5 39.5l1.5 2.7h-3.1zM653.2 39.8l1.5 2.7h-3.1zM650.8 40.2l1.5 2.7h-3.1zM648.5 40.7l1.5 2.7h-3.1zM646.1 42.1l1.5 2.7h-3.1zM643.8 46.8l1.5 2.7h-3.1zM641.5 50.6l1.5 2.7h-3.1zM639.1 52.0l1.5 2.7h-3.1zM636.8 53.2l1.5 2.7h-3.1zM634.4 55.2l1.5 2.7h-3.1zM632.1 62.2l1.5 2.7h-3.1zM629.8 80.9l1.5 2.7h-3.1zM627.4 95.7l1.5 2.7h-3.1zM625.1 103.4l1.5 2.7h-3.1zM622.7 106.5l1.5 2.7h-3.1zM620.4 108.1l1.5 2.7h-3.1zM618.1 108.9l1.5 2.7h-3.1zM615.7 109.5l1.5 2.7h-3.1zM613.4 110.0l1.5 2.7h-3.1zM611.1 110.4l1.5 2.7h-3.1zM608.7 110.7l1.5 2.7h-3.1zM606.4 111.1l1.5 2.7h-3.1zM604.0 111.3l1.5 2.7h-3.1zM601.7 111.7l1.5 2.7h-3.1zM599.4 112.0l1.5 2.7h-3.1zM597.0 112.4l1.5 2.7h-3.1zM594.7 112.9l1.5 2.7h-3.1zM592.3 113.4l1.5 2.7h-3.1zM590.0 113.9l1.5 2.7h-3.1zM587.7 114.4l1.5 2.7h-3.1zM585.3 114.9l1.5 2.7h-3.1zM583.0 115.5l1.5 2.7h-3.1zM580.6 116.0l1.5 2.7h-3.1zM578.3 116.5l1.5 2.7h-3.1zM576.0 117.1l1.5 2.7h-3.1zM573.6 117.6l1.5 2.7h-3.1zM571.3 118.2l1.5 2.7h-3.1zM569.0 118.8l1.5 2.7h-3.1zM566.6 119.3l1.5 2.7h-3.1zM564.3 119.9l1.5 2.7h-3.1zM561.9 120.5l1.5 2.7h-3.1zM559.6 121.1l1.5 2.7h-3.1z" fill="#f2a52a"/>
<path d="M559.6 122.7 560.8 122.6 562.0 122.4 563.1 122.2 564.3 122.0 565.5 121.8 566.7 121.6 567.8 121.4 569.0 121.2 570.2 121.1 571.4 120.9 572.5 120.7 573.7 120.5 574.9 120.3 576.1 120.2 577.3 120.0 578.4 119.8 579.6 119.6 580.8 119.5 582.0 119.3 583.1 119.1 584.3 119.0 585.5 118.8 586.7 118.6 587.8 118.5 589.0 118.3 590.2 118.1 591.4 118.0 592.5 117.8 593.7 117.7 594.9 117.5 596.1 117.4 597.3 117.2 598.4 117.0 599.6 116.9 600.8 116.7 602.0 116.6 603.1 116.5 604.3 116.3 605.5 116.2 606.7 116.0 607.8 115.9 609.0 115.7 610.2 115.6 611.4 115.5 612.6 115.3 613.7 115.2 614.9 115.1 616.1 114.9 617.3 114.8 618.4 114.7 619.6 114.6 620.8 114.5 622.0 114.4 623.1 114.3 624.3 114.2 625.5 114.2 626.7 114.1 627.9 114.0 629.0 114.0 630.2 113.9 631.4 113.8 632.6 113.8 633.7 113.7 634.9 113.7 636.1 113.6 637.3 113.5 638.4 113.4 639.6 113.4 640.8 113.3 642.0 113.2 643.1 113.1 644.3 113.0 645.5 112.9 646.7 112.8 647.9 112.7 649.0 112.5 650.2 112.4 651.4 112.2 652.6 112.0 653.7 111.9 654.9 111.7 656.1 111.4 657.3 111.2 658.4 110.9 659.6 110.2 660.8 109.1 662.0 106.6 663.2 103.3 664.3 101.7 665.5 100.7 666.7 100.0 667.9 99.4 669.0 98.9 670.2 98.2 671.4 97.1 672.6 95.6 673.7 92.1 674.9 84.9 676.1 75.6 677.3 64.4 678.4 58.1 679.6 52.9 680.8 49.2 682.0 47.1 683.2 45.7 684.3 44.6 685.5 43.8 686.7 43.4 687.9 43.0 689.0 42.7 690.2 42.4 691.4 42.1 692.6 41.9 693.7 41.6 694.9 41.4 696.1 41.3 697.3 41.1 698.5 40.9 699.6 40.8 700.8 40.6 702.0 40.5 703.2 40.3 704.3 40.2 705.5 40.0 706.7 39.8 707.9 39.6 709.0 39.4 710.2 39.2 711.4 38.9 712.6 38.7 713.8 38.4 714.9 38.2 716.1 37.9 717.3 37.7 718.5 37.4 719.6 37.1 720.8 36.9 722.0 36.6 723.2 36.4 724.3 36.1 725.5 35.8 726.7 35.6 727.9 35.3 729.0 35.0 730.2 34.7 731.4 34.5 732.6 34.2 733.8 33.9 734.9 33.6 736.1 33.3 737.3 33.0 738.5 32.8 739.6 32.5 740.8 32.2 742.0 31.9 743.2 31.6 744.3 31.3 745.5 31.0 746.7 30.7" stroke="#f2a52a" stroke-width="1.2" fill="none"/>
<path d="M559.6 121.1l1.5 2.7h-3.1zM561.9 120.8l1.5 2.7h-3.1zM564.3 120.4l1.5 2.7h-3.1zM566.6 120.0l1.5 2.7h-3.1zM569.0 119.6l1.5 2.7h-3.1zM571.3 119.3l1.5 2.7h-3.1zM573.6 118.9l1.5 2.7h-3.1zM576.0 118.6l1.5 2.7h-3.1zM578.3 118.2l1.5 2.7h-3.1zM580.6 117.9l1.5 2.7h-3.1zM583.0 117.5l1.5 2.7h-3.1zM585.3 117.2l1.5 2.7h-3.1zM587.7 116.9l1.5 2.7h-3.1zM590.0 116.6l1.5 2.7h-3.1zM592.3 116.2l1.5 2.7h-3.1zM594.7 115.9l1.5 2.7h-3.1zM597.0 115.6l1.5 2.7h-3.1zM599.4 115.3l1.5 2.7h-3.1zM601.7 115.0l1.5 2.7h-3.1zM604.0 114.7l1.5 2.7h-3.1zM606.4 114.5l1.5 2.7h-3.1zM608.7 114.2l1.5 2.7h-3.1zM611.1 113.9l1.5 2.7h-3.1zM613.4 113.6l1.5 2.7h-3.1zM615.7 113.4l1.5 2.7h-3.1zM618.1 113.1l1.5 2.7h-3.1zM620.4 112.9l1.5 2.7h-3.1zM622.7 112.7l1.5 2.7h-3.1zM625.1 112.6l1.5 2.7h-3.1zM627.4 112.4l1.5 2.7h-3.1zM629.8 112.3l1.5 2.7h-3.1zM632.1 112.2l1.5 2.7h-3.1zM634.4 112.1l1.5 2.7h-3.1zM636.8 111.9l1.5 2.7h-3.1zM639.1 111.8l1.5 2.7h-3.1zM641.5 111.6l1.5 2.7h-3.1zM643.8 111.4l1.5 2.7h-3.1zM646.1 111.2l1.5 2.7h-3.1zM648.5 111.0l1.5 2.7h-3.1zM650.8 110.7l1.5 2.7h-3.1zM653.2 110.3l1.5 2.7h-3.1zM655.5 109.9l1.5 2.7h-3.1zM657.8 109.5l1.5 2.7h-3.1zM660.2 108.1l1.5 2.7h-3.1zM662.5 103.4l1.5 2.7h-3.1zM664.8 99.6l1.5 2.7h-3.1zM667.2 98.2l1.5 2.7h-3.1zM669.5 97.0l1.5 2.7h-3.1zM671.9 95.0l1.5 2.7h-3.1zM674.2 88.0l1.5 2.7h-3.1zM676.5 69.3l1.5 2.7h-3.1zM678.9 54.4l1.5 2.7h-3.1zM681.2 46.7l1.5 2.7h-3.1zM683.6 43.7l1.5 2.7h-3.1zM685.9 42.1l1.5 2.7h-3.1zM688.2 41.3l1.5 2.7h-3.1zM690.6 40.7l1.5 2.7h-3.1zM692.9 40.2l1.5 2.7h-3.1zM695.2 39.8l1.5 2.7h-3.1zM697.6 39.4l1.5 2.7h-3.1zM699.9 39.1l1.5 2.7h-3.1zM702.3 38.8l1.5 2.7h-3.1zM704.6 38.5l1.5 2.7h-3.1zM706.9 38.2l1.5 2.7h-3.1zM709.3 37.7l1.5 2.7h-3.1zM711.6 37.3l1.5 2.7h-3.1zM714.0 36.8l1.5 2.7h-3.1zM716.3 36.3l1.5 2.7h-3.1zM718.6 35.8l1.5 2.7h-3.1zM721.0 35.2l1.5 2.7h-3.1zM723.3 34.7l1.5 2.7h-3.1zM725.7 34.2l1.5 2.7h-3.1zM728.0 33.7l1.5 2.7h-3.1zM730.3 33.1l1.5 2.7h-3.1zM732.7 32.6l1.5 2.7h-3.1zM735.0 32.0l1.5 2.7h-3.1zM737.3 31.4l1.5 2.7h-3.1zM739.7 30.8l1.5 2.7h-3.1zM742.0 30.2l1.5 2.7h-3.1zM744.4 29.7l1.5 2.7h-3.1zM746.7 29.0l1.5 2.7h-3.1z" fill="#f2a52a"/>
<path d="M746.7 17.1 745.5 17.2 744.3 17.3 743.2 17.4 742.0 17.5 740.8 17.6 739.6 17.7 738.5 17.8 737.3 17.9 736.1 18.1 734.9 18.2 733.8 18.3 732.6 18.5 731.4 18.6 730.2 18.8 729.0 18.9 727.9 19.1 726.7 19.3 725.5 19.4 724.3 19.6 723.2 19.8 722.0 20.0 720.8 20.2 719.6 20.4 718.5 20.6 717.3 20.8 716.1 21.0 714.9 21.2 713.8 21.4 712.6 21.6 711.4 21.8 710.2 22.0 709.0 22.2 707.9 22.5 706.7 22.7 705.5 22.9 704.3 23.2 703.2 23.4 702.0 23.6 700.8 23.9 699.6 24.1 698.5 24.3 697.3 24.6 696.1 24.8 694.9 25.1 693.7 25.3 692.6 25.6 691.4 25.8 690.2 26.1 689.0 26.3 687.9 26.6 686.7 26.8 685.5 27.1 684.3 27.3 683.2 27.6 682.0 27.8 680.8 28.1 679.6 28.3 678.4 28.6 677.3 28.8 676.1 29.1 674.9 29.4 673.7 29.7 672.6 30.0 671.4 30.3 670.2 30.6 669.0 31.0 667.9 31.3 666.7 31.7 665.5 32.1 664.3 32.5 663.2 32.9 662.0 33.4 660.8 33.9 659.6 34.4 658.4 34.9 657.3 35.4 656.1 36.0 654.9 36.6 653.7 37.3 652.6 38.0 651.4 38.9 650.2 40.1 649.0 41.6 647.9 43.3 646.7 45.3 645.5 48.4 644.3 51.9 643.1 54.4 642.0 56.5 640.8 59.0 639.6 62.8 638.4 71.5 637.3 82.4 636.1 90.1 634.9 95.2 633.7 99.3 632.6 102.3 631.4 104.4 630.2 106.2 629.0 107.7 627.9 109.1 626.7 110.2 625.5 111.2 624.3 112.0 623.1 112.8 622.0 113.5 620.8 114.2 619.6 114.8 618.4 115.4 617.3 116.0 616.1 116.6 614.9 117.1 613.7 117.6 612.6 118.1 611.4 118.5 610.2 119.0 609.0 119.4 607.8 119.8 606.7 120.2 605.5 120.6 604.3 121.0 603.1 121.4 602.0 121.8 600.8 122.2 599.6 122.7 598.4 123.1 597.3 123.5 596.1 124.0 594.9 124.4 593.7 124.9 592.5 125.3 591.4 125.7 590.2 126.2 589.0 126.6 587.8 127.0 586.7 127.5 585.5 127.9 584.3 128.3 583.1 128.7 582.0 129.1 580.8 129.6 579.6 130.0 578.4 130.4 577.3 130.8 576.1 131.2 574.9 131.6 573.7 132.0 572.5 132.3 571.4 132.7 570.2 133.1 569.0 133.5 567.8 133.8 566.7 134.2 565.5 134.6 564.3 134.9 563.1 135.3 562.0 135.6 560.8 136.0 559.6 136.3" stroke="#8cf53a" stroke-width="1.2" fill="none"/>
<path d="M746.7 18.7l1.5 -2.7h-3.1zM744.4 18.9l1.5 -2.7h-3.1zM742.0 19.1l1.5 -2.7h-3.1zM739.7 19.3l1.5 -2.7h-3.1zM737.3 19.5l1.5 -2.7h-3.1zM735.0 19.8l1.5 -2.7h-3.1zM732.7 20.1l1.5 -2.7h-3.1zM730.3 20.4l1.5 -2.7h-3.1zM728.0 20.7l1.5 -2.7h-3.1zM725.7 21.0l1.5 -2.7h-3.1zM723.3 21.4l1.5 -2.7h-3.1zM721.0 21.7l1.5 -2.7h-3.1zM718.6 22.1l1.5 -2.7h-3.1zM716.3 22.5l1.5 -2.7h-3.1zM714.0 22.9l1.5 -2.7h-3.1zM711.6 23.4l1.5 -2.7h-3.1zM709.3 23.8l1.5 -2.7h-3.1zM706.9 24.3l1.5 -2.7h-3.1zM704.6 24.7l1.5 -2.7h-3.1zM702.3 25.2l1.5 -2.7h-3.1zM699.9 25.7l1.5 -2.7h-3.1zM697.6 26.1l1.5 -2.7h-3.1zM695.2 26.6l1.5 -2.7h-3.1zM692.9 27.1l1.5 -2.7h-3.1zM690.6 27.6l1.5 -2.7h-3.1zM688.2 28.1l1.5 -2.7h-3.1zM685.9 28.6l1.5 -2.7h-3.1zM683.6 29.1l1.5 -2.7h-3.1zM681.2 29.6l1.5 -2.7h-3.1zM678.9 30.1l1.5 -2.7h-3.1zM676.5 30.6l1.5 -2.7h-3.1zM674.2 31.2l1.5 -2.7h-3.1zM671.9 31.8l1.5 -2.7h-3.1zM669.5 32.4l1.5 -2.7h-3.1zM667.2 33.1l1.5 -2.7h-3.1zM664.8 33.9l1.5 -2.7h-3.1zM662.5 34.8l1.5 -2.7h-3.1zM660.2 35.7l1.5 -2.7h-3.1zM657.8 36.8l1.5 -2.7h-3.1zM655.5 37.9l1.5 -2.7h-3.1zM653.2 39.2l1.5 -2.7h-3.1zM650.8 41.1l1.5 -2.7h-3.1zM648.5 44.0l1.5 -2.7h-3.1zM646.1 48.1l1.5 -2.7h-3.1zM643.8 54.8l1.5 -2.7h-3.1zM641.5 59.1l1.5 -2.7h-3.1zM639.1 67.5l1.5 -2.7h-3.1zM636.8 87.8l1.5 -2.7h-3.1zM634.4 98.6l1.5 -2.7h-3.1zM632.1 104.7l1.5 -2.7h-3.1zM629.8 108.4l1.5 -2.7h-3.1zM627.4 111.1l1.5 -2.7h-3.1zM625.1 113.1l1.5 -2.7h-3.1zM622.7 114.6l1.5 -2.7h-3.1zM620.4 116.0l1.5 -2.7h-3.1zM618.1 117.2l1.5 -2.7h-3.1zM615.7 118.4l1.5 -2.7h-3.1zM613.4 119.4l1.5 -2.7h-3.1zM611.1 120.3l1.5 -2.7h-3.1zM608.7 121.1l1.5 -2.7h-3.1zM606.4 121.9l1.5 -2.7h-3.1zM604.0 122.7l1.5 -2.7h-3.1zM601.7 123.5l1.5 -2.7h-3.1zM599.4 124.4l1.5 -2.7h-3.1zM597.0 125.2l1.5 -2.7h-3.1zM594.7 126.1l1.5 -2.7h-3.1zM592.3 127.0l1.5 -2.7h-3.1zM590.0 127.9l1.5 -2.7h-3.1zM587.7 128.7l1.5 -2.7h-3.1zM585.3 129.6l1.5 -2.7h-3.1zM583.0 130.4l1.5 -2.7h-3.1zM580.6 131.2l1.5 -2.7h-3.1zM578.3 132.0l1.5 -2.7h-3.1zM576.0 132.8l1.5 -2.7h-3.1zM573.6 133.6l1.5 -2.7h-3.1zM571.3 134.4l1.5 -2.7h-3.1zM569.0 135.1l1.5 -2.7h-3.1zM566.6 135.8l1.5 -2.7h-3.1zM564.3 136.5l1.5 -2.7h-3.1zM561.9 137.2l1.5 -2.7h-3.1zM559.6 137.9l1.5 -2.7h-3.1z" fill="#8cf53a"/>
<path d="M559.6 136.3 560.8 136.2 562.0 136.1 563.1 136.0 564.3 135.9 565.5 135.8 566.7 135.7 567.8 135.6 569.0 135.5 570.2 135.3 571.4 135.2 572.5 135.1 573.7 134.9 574.9 134.8 576.1 134.6 577.3 134.5 578.4 134.3 579.6 134.1 580.8 134.0 582.0 133.8 583.1 133.6 584.3 133.4 585.5 133.2 586.7 133.0 587.8 132.8 589.0 132.6 590.2 132.4 591.4 132.2 592.5 132.0 593.7 131.8 594.9 131.6 596.1 131.4 597.3 131.2 598.4 130.9 599.6 130.7 600.8 130.5 602.0 130.2 603.1 130.0 604.3 129.8 605.5 129.5 606.7 129.3 607.8 129.1 609.0 128.8 610.2 128.6 611.4 128.3 612.6 128.1 613.7 127.8 614.9 127.6 616.1 127.3 617.3 127.1 618.4 126.8 619.6 126.6 620.8 126.3 622.0 126.1 623.1 125.8 624.3 125.6 625.5 125.3 626.7 125.1 627.9 124.8 629.0 124.6 630.2 124.3 631.4 124.0 632.6 123.7 633.7 123.4 634.9 123.1 636.1 122.8 637.3 122.4 638.4 122.1 639.6 121.7 640.8 121.3 642.0 120.9 643.1 120.5 644.3 120.0 645.5 119.5 646.7 119.0 647.9 118.5 649.0 118.0 650.2 117.4 651.4 116.8 652.6 116.1 653.7 115.4 654.9 114.5 656.1 113.3 657.3 111.8 658.4 110.1 659.6 108.1 660.8 105.0 662.0 101.5 663.2 99.0 664.3 96.9 665.5 94.4 666.7 90.6 667.9 81.9 669.0 71.0 670.2 63.3 671.4 58.2 672.6 54.1 673.7 51.1 674.9 49.0 676.1 47.2 677.3 45.7 678.4 44.3 679.6 43.2 680.8 42.2 682.0 41.4 683.2 40.6 684.3 39.9 685.5 39.2 686.7 38.6 687.9 38.0 689.0 37.4 690.2 36.8 691.4 36.3 692.6 35.8 693.7 35.3 694.9 34.9 696.1 34.4 697.3 34.0 698.5 33.6 699.6 33.2 700.8 32.8 702.0 32.4 703.2 32.0 704.3 31.6 705.5 31.2 706.7 30.7 707.9 30.3 709.0 29.9 710.2 29.4 711.4 29.0 712.6 28.5 713.8 28.1 714.9 27.7 716.1 27.2 717.3 26.8 718.5 26.4 719.6 25.9 720.8 25.5 722.0 25.1 723.2 24.7 724.3 24.3 725.5 23.8 726.7 23.4 727.9 23.0 729.0 22.6 730.2 22.2 731.4 21.8 732.6 21.4 733.8 21.1 734.9 20.7 736.1 20.3 737.3 19.9 738.5 19.6 739.6 19.2 740.8 18.8 742.0 18.5 743.2 18.1 744.3 17.8 745.5 17.4 746.7 17.1" stroke="#8cf53a" stroke-width="1.2" fill="none"/>
<path d="M559.6 137.9l1.5 -2.7h-3.1zM561.9 137.7l1.5 -2.7h-3.1zM564.3 137.5l1.5 -2.7h-3.1zM566.6 137.3l1.5 -2.7h-3.1zM569.0 137.1l1.5 -2.7h-3.1zM571.3 136.8l1.5 -2.7h-3.1zM573.6 136.5l1.5 -2.7h-3.1zM576.0 136.2l1.5 -2.7h-3.1zM578.3 135.9l1.5 -2.7h-3.1zM580.6 135.6l1.5 -2.7h-3.1zM583.0 135.2l1.5 -2.7h-3.1zM585.3 134.9l1.5 -2.7h-3.1zM587.7 134.5l1.5 -2.7h-3.1zM590.0 134.1l1.5 -2.7h-3.1zM592.3 133.7l1.5 -2.7h-3.1zM594.7 133.3l1.5 -2.7h-3.1zM597.0 132.8l1.5 -2.7h-3.1zM599.4 132.4l1.5 -2.7h-3.1zM601.7 131.9l1.5 -2.7h-3.1zM604.0 131.4l1.5 -2.7h-3.1zM606.4 131.0l1.5 -2.7h-3.1zM608.7 130.5l1.5 -2.7h-3.1zM611.1 130.0l1.5 -2.7h-3.1zM613.4 129.5l1.5 -2.7h-3.1zM615.7 129.0l1.5 -2.7h-3.1zM618.1 128.5l1.5 -2.7h-3.1zM620.4 128.0l1.5 -2.7h-3.1zM622.7 127.5l1.5 -2.7h-3.1zM625.1 127.0l1.5 -2.7h-3.1zM627.4 126.5l1.5 -2.7h-3.1zM629.8 126.0l1.5 -2.7h-3.1zM632.1 125.5l1.5 -2.7h-3.1zM634.4 124.9l1.5 -2.7h-3.1zM636.8 124.2l1.5 -2.7h-3.1zM639.1 123.5l1.5 -2.7h-3.1zM641.5 122.7l1.5 -2.7h-3.1zM643.8 121.8l1.5 -2.7h-3.1zM646.1 120.9l1.5 -2.7h-3.1zM648.5 119.8l1.5 -2.7h-3.1zM650.8 118.7l1.5 -2.7h-3.1zM653.2 117.4l1.5 -2.7h-3.1zM655.5 115.5l1.5 -2.7h-3.1zM657.8 112.6l1.5 -2.7h-3.1zM660.2 108.5l1.5 -2.7h-3.1zM662.5 101.9l1.5 -2.7h-3.1zM664.8 97.5l1.5 -2.7h-3.1zM667.2 89.1l1.5 -2.7h-3.1zM669.5 68.8l1.5 -2.7h-3.1zM671.9 58.0l1.5 -2.7h-3.1zM674.2 51.9l1.5 -2.7h-3.1zM676.5 48.2l1.5 -2.7h-3.1zM678.9 45.5l1.5 -2.7h-3.1zM681.2 43.6l1.5 -2.7h-3.1zM683.6 42.0l1.5 -2.7h-3.1zM685.9 40.6l1.5 -2.7h-3.1zM688.2 39.4l1.5 -2.7h-3.1zM690.6 38.3l1.5 -2.7h-3.1zM692.9 37.3l1.5 -2.7h-3.1zM695.2 36.3l1.5 -2.7h-3.1zM697.6 35.5l1.5 -2.7h-3.1zM699.9 34.7l1.5 -2.7h-3.1zM702.3 33.9l1.5 -2.7h-3.1zM704.6 33.1l1.5 -2.7h-3.1zM706.9 32.3l1.5 -2.7h-3.1zM709.3 31.4l1.5 -2.7h-3.1zM711.6 30.5l1.5 -2.7h-3.1zM714.0 29.6l1.5 -2.7h-3.1zM716.3 28.8l1.5 -2.7h-3.1zM718.6 27.9l1.5 -2.7h-3.1zM721.0 27.1l1.5 -2.7h-3.1zM723.3 26.2l1.5 -2.7h-3.1zM725.7 25.4l1.5 -2.7h-3.1zM728.0 24.6l1.5 -2.7h-3.1zM730.3 23.8l1.5 -2.7h-3.1zM732.7 23.0l1.5 -2.7h-3.1zM735.0 22.3l1.5 -2.7h-3.1zM737.3 21.5l1.5 -2.7h-3.1zM739.7 20.8l1.5 -2.7h-3.1zM742.0 20.1l1.5 -2.7h-3.1zM744.4 19.4l1.5 -2.7h-3.1zM746.7 18.7l1.5 -2.7h-3.1z" fill="#8cf53a"/>
<path d="M746.7 24.6 745.5 24.8 744.3 25.1 743.2 25.3 742.0 25.6 740.8 25.9 739.6 26.1 738.5 26.4 737.3 26.6 736.1 26.9 734.9 27.1 733.8 27.4 732.6 27.6 731.4 27.9 730.2 28.1 729.0 28.3 727.9 28.6 726.7 28.8 725.5 29.1 724.3 29.3 723.2 29.5 722.0 29.8 720.8 30.0 719.6 30.3 718.5 30.5 717.3 30.7 716.1 31.0 714.9 31.2 713.8 31.4 712.6 31.6 711.4 31.9 710.2 32.1 709.0 32.3 707.9 32.6 706.7 32.8 705.5 33.0 704.3 33.2 703.2 33.5 702.0 33.7 700.8 33.9 699.6 34.1 698.5 34.3 697.3 34.5 696.1 34.8 694.9 35.0 693.7 35.2 692.6 35.4 691.4 35.6 690.2 35.8 689.0 36.0 687.9 36.2 686.7 36.4 685.5 36.6 684.3 36.7 683.2 36.9 682.0 37.0 680.8 37.2 679.6 37.3 678.4 37.4 677.3 37.5 676.1 37.7 674.9 37.8 673.7 37.9 672.6 38.0 671.4 38.2 670.2 38.3 669.0 38.5 667.9 38.6 666.7 38.8 665.5 39.0 664.3 39.2 663.2 39.4 662.0 39.6 660.8 39.8 659.6 40.1 658.4 40.4 657.3 40.7 656.1 41.0 654.9 41.4 653.7 41.8 652.6 42.2 651.4 42.9 650.2 43.9 649.0 45.2 647.9 46.9 646.7 48.8 645.5 52.1 644.3 56.5 643.1 60.2 642.0 63.9 640.8 67.6 639.6 71.5 638.4 75.7 637.3 80.9 636.1 87.1 634.9 92.5 633.7 96.0 632.6 98.9 631.4 101.6 630.2 103.8 629.0 105.7 627.9 107.2 626.7 108.2 625.5 109.0 624.3 109.9 623.1 110.6 622.0 111.3 620.8 112.0 619.6 112.6 618.4 113.2 617.3 113.7 616.1 114.2 614.9 114.7 613.7 115.2 612.6 115.6 611.4 116.0 610.2 116.4 609.0 116.8 607.8 117.1 606.7 117.5 605.5 117.8 604.3 118.1 603.1 118.4 602.0 118.7 600.8 119.1 599.6 119.4 598.4 119.7 597.3 120.1 596.1 120.4 594.9 120.8 593.7 121.1 592.5 121.5 591.4 121.8 590.2 122.1 589.0 122.5 587.8 122.8 586.7 123.1 585.5 123.4 584.3 123.7 583.1 124.0 582.0 124.3 580.8 124.6 579.6 124.9 578.4 125.2 577.3 125.5 576.1 125.8 574.9 126.0 573.7 126.3 572.5 126.5 571.4 126.8 570.2 127.0 569.0 127.3 567.8 127.5 566.7 127.7 565.5 127.9 564.3 128.1 563.1 128.3 562.0 128.5 560.8 128.7 559.6 128.8" stroke="#33ee66" stroke-width="1.2" fill="none"/>
<path d="M746.7 22.8l1.8 1.8l-1.8 1.8l-1.8 -1.8zM744.4 23.3l1.8 1.8l-1.8 1.8l-1.8 -1.8zM742.0 23.8l1.8 1.8l-1.8 1.8l-1.8 -1.8zM739.7 24.3l1.8 1.8l-1.8 1.8l-1.8 -1.8zM737.3 24.8l1.8 1.8l-1.8 1.8l-1.8 -1.8zM735.0 25.3l1.8 1.8l-1.8 1.8l-1.8 -1.8zM732.7 25.8l1.8 1.8l-1.8 1.8l-1.8 -1.8zM730.3 26.3l1.8 1.8l-1.8 1.8l-1.8 -1.8zM728.0 26.7l1.8 1.8l-1.8 1.8l-1.8 -1.8zM725.7 27.2l1.8 1.8l-1.8 1.8l-1.8 -1.8zM723.3 27.7l1.8 1.8l-1.8 1.8l-1.8 -1.8zM721.0 28.2l1.8 1.8l-1.8 1.8l-1.8 -1.8zM718.6 28.6l1.8 1.8l-1.8 1.8l-1.8 -1.8zM716.3 29.1l1.8 1.8l-1.8 1.8l-1.8 -1.8zM714.0 29.6l1.8 1.8l-1.8 1.8l-1.8 -1.8zM711.6 30.0l1.8 1.8l-1.8 1.8l-1.8 -1.8zM709.3 30.5l1.8 1.8l-1.8 1.8l-1.8 -1.8zM706.9 30.9l1.8 1.8l-1.8 1.8l-1.8 -1.8zM704.6 31.4l1.8 1.8l-1.8 1.8l-1.8 -1.8zM702.3 31.8l1.8 1.8l-1.8 1.8l-1.8 -1.8zM699.9 32.2l1.8 1.8l-1.8 1.8l-1.8 -1.8zM697.6 32.7l1.8 1.8l-1.8 1.8l-1.8 -1.8zM695.2 33.1l1.8 1.8l-1.8 1.8l-1.8 -1.8zM692.9 33.5l1.8 1.8l-1.8 1.8l-1.8 -1.8zM690.6 33.9l1.8 1.8l-1.8 1.8l-1.8 -1.8zM688.2 34.4l1.8 1.8l-1.8 1.8l-1.8 -1.8zM685.9 34.7l1.8 1.8l-1.8 1.8l-1.8 -1.8zM683.6 35.0l1.8 1.8l-1.8 1.8l-1.8 -1.8zM681.2 35.3l1.8 1.8l-1.8 1.8l-1.8 -1.8zM678.9 35.5l1.8 1.8l-1.8 1.8l-1.8 -1.8zM676.5 35.8l1.8 1.8l-1.8 1.8l-1.8 -1.8zM674.2 36.0l1.8 1.8l-1.8 1.8l-1.8 -1.8zM671.9 36.3l1.8 1.8l-1.8 1.8l-1.8 -1.8zM669.5 36.6l1.8 1.8l-1.8 1.8l-1.8 -1.8zM667.2 36.9l1.8 1.8l-1.8 1.8l-1.8 -1.8zM664.8 37.3l1.8 1.8l-1.8 1.8l-1.8 -1.8zM662.5 37.7l1.8 1.8l-1.8 1.8l-1.8 -1.8zM660.2 38.2l1.8 1.8l-1.8 1.8l-1.8 -1.8zM657.8 38.7l1.8 1.8l-1.8 1.8l-1.8 -1.8zM655.5 39.4l1.8 1.8l-1.8 1.8l-1.8 -1.8zM653.2 40.1l1.8 1.8l-1.8 1.8l-1.8 -1.8zM650.8 41.5l1.8 1.8l-1.8 1.8l-1.8 -1.8zM648.5 44.2l1.8 1.8l-1.8 1.8l-1.8 -1.8zM646.1 48.2l1.8 1.8l-1.8 1.8l-1.8 -1.8zM643.8 56.4l1.8 1.8l-1.8 1.8l-1.8 -1.8zM641.5 63.7l1.8 1.8l-1.8 1.8l-1.8 -1.8zM639.1 71.4l1.8 1.8l-1.8 1.8l-1.8 -1.8zM636.8 81.6l1.8 1.8l-1.8 1.8l-1.8 -1.8zM634.4 92.3l1.8 1.8l-1.8 1.8l-1.8 -1.8zM632.1 98.2l1.8 1.8l-1.8 1.8l-1.8 -1.8zM629.8 102.8l1.8 1.8l-1.8 1.8l-1.8 -1.8zM627.4 105.8l1.8 1.8l-1.8 1.8l-1.8 -1.8zM625.1 107.5l1.8 1.8l-1.8 1.8l-1.8 -1.8zM622.7 109.0l1.8 1.8l-1.8 1.8l-1.8 -1.8zM620.4 110.4l1.8 1.8l-1.8 1.8l-1.8 -1.8zM618.1 111.5l1.8 1.8l-1.8 1.8l-1.8 -1.8zM615.7 112.6l1.8 1.8l-1.8 1.8l-1.8 -1.8zM613.4 113.5l1.8 1.8l-1.8 1.8l-1.8 -1.8zM611.1 114.3l1.8 1.8l-1.8 1.8l-1.8 -1.8zM608.7 115.0l1.8 1.8l-1.8 1.8l-1.8 -1.8zM606.4 115.7l1.8 1.8l-1.8 1.8l-1.8 -1.8zM604.0 116.4l1.8 1.8l-1.8 1.8l-1.8 -1.8zM601.7 117.0l1.8 1.8l-1.8 1.8l-1.8 -1.8zM599.4 117.6l1.8 1.8l-1.8 1.8l-1.8 -1.8zM597.0 118.3l1.8 1.8l-1.8 1.8l-1.8 -1.8zM594.7 119.0l1.8 1.8l-1.8 1.8l-1.8 -1.8zM592.3 119.7l1.8 1.8l-1.8 1.8l-1.8 -1.8zM590.0 120.4l1.8 1.8l-1.8 1.8l-1.8 -1.8zM587.7 121.0l1.8 1.8l-1.8 1.8l-1.8 -1.8zM585.3 121.6l1.8 1.8l-1.8 1.8l-1.8 -1.8zM583.0 122.3l1.8 1.8l-1.8 1.8l-1.8 -1.8zM580.6 122.9l1.8 1.8l-1.8 1.8l-1.8 -1.8zM578.3 123.4l1.8 1.8l-1.8 1.8l-1.8 -1.8zM576.0 124.0l1.8 1.8l-1.8 1.8l-1.8 -1.8zM573.6 124.5l1.8 1.8l-1.8 1.8l-1.8 -1.8zM571.3 125.0l1.8 1.8l-1.8 1.8l-1.8 -1.8zM569.0 125.5l1.8 1.8l-1.8 1.8l-1.8 -1.8zM566.6 125.9l1.8 1.8l-1.8 1.8l-1.8 -1.8zM564.3 126.3l1.8 1.8l-1.8 1.8l-1.8 -1.8zM561.9 126.7l1.8 1.8l-1.8 1.8l-1.8 -1.8zM559.6 127.0l1.8 1.8l-1.8 1.8l-1.8 -1.8z" fill="#33ee66"/>
<path d="M559.6 128.8 560.8 128.6 562.0 128.3 563.1 128.1 564.3 127.8 565.5 127.5 566.7 127.3 567.8 127.0 569.0 126.8 570.2 126.5 571.4 126.3 572.5 126.0 573.7 125.8 574.9 125.5 576.1 125.3 577.3 125.1 578.4 124.8 579.6 124.6 580.8 124.3 582.0 124.1 583.1 123.9 584.3 123.6 585.5 123.4 586.7 123.1 587.8 122.9 589.0 122.7 590.2 122.4 591.4 122.2 592.5 122.0 593.7 121.8 594.9 121.5 596.1 121.3 597.3 121.1 598.4 120.8 599.6 120.6 600.8 120.4 602.0 120.2 603.1 119.9 604.3 119.7 605.5 119.5 606.7 119.3 607.8 119.1 609.0 118.9 610.2 118.6 611.4 118.4 612.6 118.2 613.7 118.0 614.9 117.8 616.1 117.6 617.3 117.4 618.4 117.2 619.6 117.0 620.8 116.8 622.0 116.7 623.1 116.5 624.3 116.4 625.5 116.2 626.7 116.1 627.9 116.0 629.0 115.9 630.2 115.7 631.4 115.6 632.6 115.5 633.7 115.4 634.9 115.2 636.1 115.1 637.3 114.9 638.4 114.8 639.6 114.6 640.8 114.4 642.0 114.2 643.1 114.0 644.3 113.8 645.5 113.6 646.7 113.3 647.9 113.0 649.0 112.7 650.2 112.4 651.4 112.0 652.6 111.6 653.7 111.2 654.9 110.5 656.1 109.5 657.3 108.2 658.4 106.5 659.6 104.6 660.8 101.3 662.0 96.9 663.2 93.2 664.3 89.5 665.5 85.8 666.7 81.9 667.9 77.7 669.0 72.5 670.2 66.3 671.4 60.9 672.6 57.4 673.7 54.5 674.9 51.8 676.1 49.6 677.3 47.7 678.4 46.2 679.6 45.2 680.8 44.4 682.0 43.5 683.2 42.8 684.3 42.1 685.5 41.4 686.7 40.8 687.9 40.2 689.0 39.7 690.2 39.2 691.4 38.7 692.6 38.2 693.7 37.8 694.9 37.4 696.1 37.0 697.3 36.6 698.5 36.3 699.6 35.9 700.8 35.6 702.0 35.3 703.2 35.0 704.3 34.7 705.5 34.3 706.7 34.0 707.9 33.7 709.0 33.3 710.2 33.0 711.4 32.6 712.6 32.3 713.8 31.9 714.9 31.6 716.1 31.3 717.3 30.9 718.5 30.6 719.6 30.3 720.8 30.0 722.0 29.7 723.2 29.4 724.3 29.1 725.5 28.8 726.7 28.5 727.9 28.2 729.0 27.9 730.2 27.6 731.4 27.4 732.6 27.1 733.8 26.9 734.9 26.6 736.1 26.4 737.3 26.1 738.5 25.9 739.6 25.7 740.8 25.5 742.0 25.3 743.2 25.1 744.3 24.9 745.5 24.7 746.7 24.6" stroke="#33ee66" stroke-width="1.2" fill="none"/>
<path d="M559.6 127.0l1.8 1.8l-1.8 1.8l-1.8 -1.8zM561.9 126.5l1.8 1.8l-1.8 1.8l-1.8 -1.8zM564.3 126.0l1.8 1.8l-1.8 1.8l-1.8 -1.8zM566.6 125.5l1.8 1.8l-1.8 1.8l-1.8 -1.8zM569.0 125.0l1.8 1.8l-1.8 1.8l-1.8 -1.8zM571.3 124.5l1.8 1.8l-1.8 1.8l-1.8 -1.8zM573.6 124.0l1.8 1.8l-1.8 1.8l-1.8 -1.8zM576.0 123.5l1.8 1.8l-1.8 1.8l-1.8 -1.8zM578.3 123.0l1.8 1.8l-1.8 1.8l-1.8 -1.8zM580.6 122.5l1.8 1.8l-1.8 1.8l-1.8 -1.8zM583.0 122.1l1.8 1.8l-1.8 1.8l-1.8 -1.8zM585.3 121.6l1.8 1.8l-1.8 1.8l-1.8 -1.8zM587.7 121.1l1.8 1.8l-1.8 1.8l-1.8 -1.8zM590.0 120.7l1.8 1.8l-1.8 1.8l-1.8 -1.8zM592.3 120.2l1.8 1.8l-1.8 1.8l-1.8 -1.8zM594.7 119.7l1.8 1.8l-1.8 1.8l-1.8 -1.8zM597.0 119.3l1.8 1.8l-1.8 1.8l-1.8 -1.8zM599.4 118.8l1.8 1.8l-1.8 1.8l-1.8 -1.8zM601.7 118.4l1.8 1.8l-1.8 1.8l-1.8 -1.8zM604.0 118.0l1.8 1.8l-1.8 1.8l-1.8 -1.8zM606.4 117.5l1.8 1.8l-1.8 1.8l-1.8 -1.8zM608.7 117.1l1.8 1.8l-1.8 1.8l-1.8 -1.8zM611.1 116.7l1.8 1.8l-1.8 1.8l-1.8 -1.8zM613.4 116.2l1.8 1.8l-1.8 1.8l-1.8 -1.8zM615.7 115.8l1.8 1.8l-1.8 1.8l-1.8 -1.8zM618.1 115.4l1.8 1.8l-1.8 1.8l-1.8 -1.8zM620.4 115.1l1.8 1.8l-1.8 1.8l-1.8 -1.8zM622.7 114.8l1.8 1.8l-1.8 1.8l-1.8 -1.8zM625.1 114.5l1.8 1.8l-1.8 1.8l-1.8 -1.8zM627.4 114.2l1.8 1.8l-1.8 1.8l-1.8 -1.8zM629.8 114.0l1.8 1.8l-1.8 1.8l-1.8 -1.8zM632.1 113.7l1.8 1.8l-1.8 1.8l-1.8 -1.8zM634.4 113.5l1.8 1.8l-1.8 1.8l-1.8 -1.8zM636.8 113.2l1.8 1.8l-1.8 1.8l-1.8 -1.8zM639.1 112.9l1.8 1.8l-1.8 1.8l-1.8 -1.8zM641.5 112.5l1.8 1.8l-1.8 1.8l-1.8 -1.8zM643.8 112.1l1.8 1.8l-1.8 1.8l-1.8 -1.8zM646.1 111.6l1.8 1.8l-1.8 1.8l-1.8 -1.8zM648.5 111.0l1.8 1.8l-1.8 1.8l-1.8 -1.8zM650.8 110.4l1.8 1.8l-1.8 1.8l-1.8 -1.8zM653.2 109.6l1.8 1.8l-1.8 1.8l-1.8 -1.8zM655.5 108.2l1.8 1.8l-1.8 1.8l-1.8 -1.8zM657.8 105.6l1.8 1.8l-1.8 1.8l-1.8 -1.8zM660.2 101.6l1.8 1.8l-1.8 1.8l-1.8 -1.8zM662.5 93.4l1.8 1.8l-1.8 1.8l-1.8 -1.8zM664.8 86.1l1.8 1.8l-1.8 1.8l-1.8 -1.8zM667.2 78.4l1.8 1.8l-1.8 1.8l-1.8 -1.8zM669.5 68.2l1.8 1.8l-1.8 1.8l-1.8 -1.8zM671.9 57.5l1.8 1.8l-1.8 1.8l-1.8 -1.8zM674.2 51.6l1.8 1.8l-1.8 1.8l-1.8 -1.8zM676.5 47.0l1.8 1.8l-1.8 1.8l-1.8 -1.8zM678.9 44.0l1.8 1.8l-1.8 1.8l-1.8 -1.8zM681.2 42.2l1.8 1.8l-1.8 1.8l-1.8 -1.8zM683.6 40.7l1.8 1.8l-1.8 1.8l-1.8 -1.8zM685.9 39.4l1.8 1.8l-1.8 1.8l-1.8 -1.8zM688.2 38.2l1.8 1.8l-1.8 1.8l-1.8 -1.8zM690.6 37.2l1.8 1.8l-1.8 1.8l-1.8 -1.8zM692.9 36.3l1.8 1.8l-1.8 1.8l-1.8 -1.8zM695.2 35.5l1.8 1.8l-1.8 1.8l-1.8 -1.8zM697.6 34.7l1.8 1.8l-1.8 1.8l-1.8 -1.8zM699.9 34.0l1.8 1.8l-1.8 1.8l-1.8 -1.8zM702.3 33.4l1.8 1.8l-1.8 1.8l-1.8 -1.8zM704.6 32.8l1.8 1.8l-1.8 1.8l-1.8 -1.8zM706.9 32.1l1.8 1.8l-1.8 1.8l-1.8 -1.8zM709.3 31.4l1.8 1.8l-1.8 1.8l-1.8 -1.8zM711.6 30.7l1.8 1.8l-1.8 1.8l-1.8 -1.8zM714.0 30.1l1.8 1.8l-1.8 1.8l-1.8 -1.8zM716.3 29.4l1.8 1.8l-1.8 1.8l-1.8 -1.8zM718.6 28.8l1.8 1.8l-1.8 1.8l-1.8 -1.8zM721.0 28.1l1.8 1.8l-1.8 1.8l-1.8 -1.8zM723.3 27.5l1.8 1.8l-1.8 1.8l-1.8 -1.8zM725.7 26.9l1.8 1.8l-1.8 1.8l-1.8 -1.8zM728.0 26.3l1.8 1.8l-1.8 1.8l-1.8 -1.8zM730.3 25.8l1.8 1.8l-1.8 1.8l-1.8 -1.8zM732.7 25.3l1.8 1.8l-1.8 1.8l-1.8 -1.8zM735.0 24.8l1.8 1.8l-1.8 1.8l-1.8 -1.8zM737.3 24.3l1.8 1.8l-1.8 1.8l-1.8 -1.8zM739.7 23.9l1.8 1.8l-1.8 1.8l-1.8 -1.8zM742.0 23.5l1.8 1.8l-1.8 1.8l-1.8 -1.8zM744.4 23.1l1.8 1.8l-1.8 1.8l-1.8 -1.8zM746.7 22.8l1.8 1.8l-1.8 1.8l-1.8 -1.8z" fill="#33ee66"/>
<path d="M746.7 22.3 745.5 22.4 744.3 22.4 743.2 22.5 742.0 22.5 740.8 22.6 739.6 22.7 738.5 22.8 737.3 22.9 736.1 23.0 734.9 23.1 733.8 23.2 732.6 23.3 731.4 23.5 730.2 23.6 729.0 23.8 727.9 23.9 726.7 24.0 725.5 24.2 724.3 24.4 723.2 24.5 722.0 24.7 720.8 24.9 719.6 25.1 718.5 25.2 717.3 25.4 716.1 25.6 714.9 25.8 713.8 26.0 712.6 26.2 711.4 26.4 710.2 26.6 709.0 26.9 707.9 27.1 706.7 27.3 705.5 27.5 704.3 27.8 703.2 28.0 702.0 28.2 700.8 28.4 699.6 28.7 698.5 28.9 697.3 29.2 696.1 29.4 694.9 29.6 693.7 29.9 692.6 30.1 691.4 30.4 690.2 30.6 689.0 30.9 687.9 31.1 686.7 31.4 685.5 31.6 684.3 31.9 683.2 32.1 682.0 32.4 680.8 32.7 679.6 32.9 678.4 33.2 677.3 33.5 676.1 33.8 674.9 34.1 673.7 34.5 672.6 34.8 671.4 35.1 670.2 35.5 669.0 35.9 667.9 36.3 666.7 36.7 665.5 37.1 664.3 37.6 663.2 38.0 662.0 38.5 660.8 39.0 659.6 39.5 658.4 40.1 657.3 40.6 656.1 41.2 654.9 41.8 653.7 42.5 652.6 43.2 651.4 43.9 650.2 44.8 649.0 45.8 647.9 47.2 646.7 48.9 645.5 51.0 644.3 56.1 643.1 64.1 642.0 73.0 640.8 81.9 639.6 92.6 638.4 100.3 637.3 102.8 636.1 104.8 634.9 106.5 633.7 108.0 632.6 109.2 631.4 110.3 630.2 111.1 629.0 111.9 627.9 112.6 626.7 113.2 625.5 113.8 624.3 114.5 623.1 115.1 622.0 115.6 620.8 116.2 619.6 116.7 618.4 117.2 617.3 117.7 616.1 118.1 614.9 118.5 613.7 119.0 612.6 119.4 611.4 119.7 610.2 120.1 609.0 120.4 607.8 120.8 606.7 121.1 605.5 121.4 604.3 121.7 603.1 122.1 602.0 122.4 600.8 122.7 599.6 123.0 598.4 123.3 597.3 123.6 596.1 123.9 594.9 124.1 593.7 124.4 592.5 124.7 591.4 125.0 590.2 125.3 589.0 125.6 587.8 125.9 586.7 126.1 585.5 126.4 584.3 126.7 583.1 126.9 582.0 127.2 580.8 127.5 579.6 127.7 578.4 128.0 577.3 128.2 576.1 128.4 574.9 128.7 573.7 128.9 572.5 129.1 571.4 129.3 570.2 129.5 569.0 129.7 567.8 129.9 566.7 130.1 565.5 130.3 564.3 130.5 563.1 130.6 562.0 130.8 560.8 130.9 559.6 131.1" stroke="#3ec2f5" stroke-width="1.2" fill="none"/>
<path d="M746.7 20.7l1.5 2.7h-3.1zM744.4 20.8l1.5 2.7h-3.1zM742.0 20.9l1.5 2.7h-3.1zM739.7 21.1l1.5 2.7h-3.1zM737.3 21.3l1.5 2.7h-3.1zM735.0 21.5l1.5 2.7h-3.1zM732.7 21.7l1.5 2.7h-3.1zM730.3 22.0l1.5 2.7h-3.1zM728.0 22.3l1.5 2.7h-3.1zM725.7 22.6l1.5 2.7h-3.1zM723.3 22.9l1.5 2.7h-3.1zM721.0 23.2l1.5 2.7h-3.1zM718.6 23.6l1.5 2.7h-3.1zM716.3 24.0l1.5 2.7h-3.1zM714.0 24.4l1.5 2.7h-3.1zM711.6 24.8l1.5 2.7h-3.1zM709.3 25.2l1.5 2.7h-3.1zM706.9 25.6l1.5 2.7h-3.1zM704.6 26.1l1.5 2.7h-3.1zM702.3 26.5l1.5 2.7h-3.1zM699.9 27.0l1.5 2.7h-3.1zM697.6 27.5l1.5 2.7h-3.1zM695.2 28.0l1.5 2.7h-3.1zM692.9 28.4l1.5 2.7h-3.1zM690.6 28.9l1.5 2.7h-3.1zM688.2 29.4l1.5 2.7h-3.1zM685.9 29.9l1.5 2.7h-3.1zM683.6 30.4l1.5 2.7h-3.1zM681.2 31.0l1.5 2.7h-3.1zM678.9 31.5l1.5 2.7h-3.1zM676.5 32.1l1.5 2.7h-3.1zM674.2 32.7l1.5 2.7h-3.1zM671.9 33.4l1.5 2.7h-3.1zM669.5 34.1l1.5 2.7h-3.1zM667.2 34.9l1.5 2.7h-3.1zM664.8 35.8l1.5 2.7h-3.1zM662.5 36.7l1.5 2.7h-3.1zM660.2 37.7l1.5 2.7h-3.1zM657.8 38.8l1.5 2.7h-3.1zM655.5 39.9l1.5 2.7h-3.1zM653.2 41.2l1.5 2.7h-3.1zM650.8 42.7l1.5 2.7h-3.1zM648.5 44.8l1.5 2.7h-3.1zM646.1 48.2l1.5 2.7h-3.1zM643.8 57.9l1.5 2.7h-3.1zM641.5 75.1l1.5 2.7h-3.1zM639.1 94.9l1.5 2.7h-3.1zM636.8 102.1l1.5 2.7h-3.1zM634.4 105.5l1.5 2.7h-3.1zM632.1 108.0l1.5 2.7h-3.1zM629.8 109.8l1.5 2.7h-3.1zM627.4 111.2l1.5 2.7h-3.1zM625.1 112.4l1.5 2.7h-3.1zM622.7 113.6l1.5 2.7h-3.1zM620.4 114.7l1.5 2.7h-3.1zM618.1 115.7l1.5 2.7h-3.1zM615.7 116.6l1.5 2.7h-3.1zM613.4 117.5l1.5 2.7h-3.1zM611.1 118.2l1.5 2.7h-3.1zM608.7 118.9l1.5 2.7h-3.1zM606.4 119.6l1.5 2.7h-3.1zM604.0 120.2l1.5 2.7h-3.1zM601.7 120.8l1.5 2.7h-3.1zM599.4 121.4l1.5 2.7h-3.1zM597.0 122.0l1.5 2.7h-3.1zM594.7 122.6l1.5 2.7h-3.1zM592.3 123.2l1.5 2.7h-3.1zM590.0 123.7l1.5 2.7h-3.1zM587.7 124.3l1.5 2.7h-3.1zM585.3 124.8l1.5 2.7h-3.1zM583.0 125.4l1.5 2.7h-3.1zM580.6 125.9l1.5 2.7h-3.1zM578.3 126.4l1.5 2.7h-3.1zM576.0 126.8l1.5 2.7h-3.1zM573.6 127.3l1.5 2.7h-3.1zM571.3 127.7l1.5 2.7h-3.1zM569.0 128.1l1.5 2.7h-3.1zM566.6 128.5l1.5 2.7h-3.1zM564.3 128.9l1.5 2.7h-3.1zM561.9 129.2l1.5 2.7h-3.1zM559.6 129.5l1.5 2.7h-3.1z" fill="#3ec2f5"/>
<path d="M559.6 131.1 560.8 131.0 562.0 131.0 563.1 130.9 564.3 130.9 565.5 130.8 566.7 130.7 567.8 130.6 569.0 130.5 570.2 130.4 571.4 130.3 572.5 130.2 573.7 130.1 574.9 129.9 576.1 129.8 577.3 129.6 578.4 129.5 579.6 129.4 580.8 129.2 582.0 129.0 583.1 128.9 584.3 128.7 585.5 128.5 586.7 128.3 587.8 128.2 589.0 128.0 590.2 127.8 591.4 127.6 592.5 127.4 593.7 127.2 594.9 127.0 596.1 126.8 597.3 126.5 598.4 126.3 599.6 126.1 600.8 125.9 602.0 125.6 603.1 125.4 604.3 125.2 605.5 125.0 606.7 124.7 607.8 124.5 609.0 124.2 610.2 124.0 611.4 123.8 612.6 123.5 613.7 123.3 614.9 123.0 616.1 122.8 617.3 122.5 618.4 122.3 619.6 122.0 620.8 121.8 622.0 121.5 623.1 121.3 624.3 121.0 625.5 120.7 626.7 120.5 627.9 120.2 629.0 119.9 630.2 119.6 631.4 119.3 632.6 118.9 633.7 118.6 634.9 118.3 636.1 117.9 637.3 117.5 638.4 117.1 639.6 116.7 640.8 116.3 642.0 115.8 643.1 115.4 644.3 114.9 645.5 114.4 646.7 113.9 647.9 113.3 649.0 112.8 650.2 112.2 651.4 111.6 652.6 110.9 653.7 110.2 654.9 109.5 656.1 108.6 657.3 107.6 658.4 106.2 659.6 104.5 660.8 102.4 662.0 97.3 663.2 89.3 664.3 80.4 665.5 71.5 666.7 60.8 667.9 53.1 669.0 50.6 670.2 48.6 671.4 46.9 672.6 45.4 673.7 44.2 674.9 43.1 676.1 42.3 677.3 41.5 678.4 40.8 679.6 40.2 680.8 39.6 682.0 38.9 683.2 38.3 684.3 37.8 685.5 37.2 686.7 36.7 687.9 36.2 689.0 35.7 690.2 35.3 691.4 34.9 692.6 34.4 693.7 34.0 694.9 33.7 696.1 33.3 697.3 33.0 698.5 32.6 699.6 32.3 700.8 32.0 702.0 31.7 703.2 31.3 704.3 31.0 705.5 30.7 706.7 30.4 707.9 30.1 709.0 29.8 710.2 29.5 711.4 29.3 712.6 29.0 713.8 28.7 714.9 28.4 716.1 28.1 717.3 27.8 718.5 27.5 719.6 27.3 720.8 27.0 722.0 26.7 723.2 26.5 724.3 26.2 725.5 25.9 726.7 25.7 727.9 25.4 729.0 25.2 730.2 25.0 731.4 24.7 732.6 24.5 733.8 24.3 734.9 24.1 736.1 23.9 737.3 23.7 738.5 23.5 739.6 23.3 740.8 23.1 742.0 22.9 743.2 22.8 744.3 22.6 745.5 22.5 746.7 22.3" stroke="#3ec2f5" stroke-width="1.2" fill="none"/>
<path d="M559.6 129.5l1.5 2.7h-3.1zM561.9 129.4l1.5 2.7h-3.1zM564.3 129.2l1.5 2.7h-3.1zM566.6 129.1l1.5 2.7h-3.1zM569.0 128.9l1.5 2.7h-3.1zM571.3 128.7l1.5 2.7h-3.1zM573.6 128.5l1.5 2.7h-3.1zM576.0 128.2l1.5 2.7h-3.1zM578.3 127.9l1.5 2.7h-3.1zM580.6 127.6l1.5 2.7h-3.1zM583.0 127.3l1.5 2.7h-3.1zM585.3 126.9l1.5 2.7h-3.1zM587.7 126.6l1.5 2.7h-3.1zM590.0 126.2l1.5 2.7h-3.1zM592.3 125.8l1.5 2.7h-3.1zM594.7 125.4l1.5 2.7h-3.1zM597.0 125.0l1.5 2.7h-3.1zM599.4 124.5l1.5 2.7h-3.1zM601.7 124.1l1.5 2.7h-3.1zM604.0 123.6l1.5 2.7h-3.1zM606.4 123.2l1.5 2.7h-3.1zM608.7 122.7l1.5 2.7h-3.1zM611.1 122.2l1.5 2.7h-3.1zM613.4 121.7l1.5 2.7h-3.1zM615.7 121.3l1.5 2.7h-3.1zM618.1 120.8l1.5 2.7h-3.1zM620.4 120.3l1.5 2.7h-3.1zM622.7 119.8l1.5 2.7h-3.1zM625.1 119.2l1.5 2.7h-3.1zM627.4 118.7l1.5 2.7h-3.1zM629.8 118.1l1.5 2.7h-3.1zM632.1 117.5l1.5 2.7h-3.1zM634.4 116.8l1.5 2.7h-3.1zM636.8 116.1l1.5 2.7h-3.1zM639.1 115.3l1.5 2.7h-3.1zM641.5 114.4l1.5 2.7h-3.1zM643.8 113.5l1.5 2.7h-3.1zM646.1 112.5l1.5 2.7h-3.1zM648.5 111.4l1.5 2.7h-3.1zM650.8 110.2l1.5 2.7h-3.1zM653.2 109.0l1.5 2.7h-3.1zM655.5 107.5l1.5 2.7h-3.1zM657.8 105.4l1.5 2.7h-3.1zM660.2 102.0l1.5 2.7h-3.1zM662.5 92.3l1.5 2.7h-3.1zM664.8 75.1l1.5 2.7h-3.1zM667.2 55.3l1.5 2.7h-3.1zM669.5 48.1l1.5 2.7h-3.1zM671.9 44.6l1.5 2.7h-3.1zM674.2 42.1l1.5 2.7h-3.1zM676.5 40.4l1.5 2.7h-3.1zM678.9 39.0l1.5 2.7h-3.1zM681.2 37.7l1.5 2.7h-3.1zM683.6 36.5l1.5 2.7h-3.1zM685.9 35.4l1.5 2.7h-3.1zM688.2 34.4l1.5 2.7h-3.1zM690.6 33.5l1.5 2.7h-3.1zM692.9 32.7l1.5 2.7h-3.1zM695.2 32.0l1.5 2.7h-3.1zM697.6 31.3l1.5 2.7h-3.1zM699.9 30.6l1.5 2.7h-3.1zM702.3 30.0l1.5 2.7h-3.1zM704.6 29.4l1.5 2.7h-3.1zM706.9 28.8l1.5 2.7h-3.1zM709.3 28.2l1.5 2.7h-3.1zM711.6 27.6l1.5 2.7h-3.1zM714.0 27.0l1.5 2.7h-3.1zM716.3 26.4l1.5 2.7h-3.1zM718.6 25.9l1.5 2.7h-3.1zM721.0 25.3l1.5 2.7h-3.1zM723.3 24.8l1.5 2.7h-3.1zM725.7 24.3l1.5 2.7h-3.1zM728.0 23.8l1.5 2.7h-3.1zM730.3 23.3l1.5 2.7h-3.1zM732.7 22.9l1.5 2.7h-3.1zM735.0 22.5l1.5 2.7h-3.1zM737.3 22.1l1.5 2.7h-3.1zM739.7 21.7l1.5 2.7h-3.1zM742.0 21.3l1.5 2.7h-3.1zM744.4 21.0l1.5 2.7h-3.1zM746.7 20.7l1.5 2.7h-3.1z" fill="#3ec2f5"/>
<path d="M746.7 40.4 745.5 40.4 744.3 40.4 743.2 40.5 742.0 40.5 740.8 40.5 739.6 40.5 738.5 40.6 737.3 40.6 736.1 40.6 734.9 40.7 733.8 40.7 732.6 40.7 731.4 40.8 730.2 40.8 729.0 40.8 727.9 40.9 726.7 40.9 725.5 40.9 724.3 41.0 723.2 41.0 722.0 41.1 720.8 41.1 719.6 41.2 718.5 41.2 717.3 41.2 716.1 41.3 714.9 41.3 713.8 41.4 712.6 41.4 711.4 41.5 710.2 41.5 709.0 41.6 707.9 41.6 706.7 41.7 705.5 41.7 704.3 41.8 703.2 41.8 702.0 41.9 700.8 41.9 699.6 42.0 698.5 42.1 697.3 42.1 696.1 42.2 694.9 42.2 693.7 42.3 692.6 42.3 691.4 42.4 690.2 42.4 689.0 42.5 687.9 42.6 686.7 42.6 685.5 42.7 684.3 42.7 683.2 42.8 682.0 42.9 680.8 42.9 679.6 43.0 678.4 43.1 677.3 43.2 676.1 43.2 674.9 43.3 673.7 43.4 672.6 43.5 671.4 43.6 670.2 43.7 669.0 43.8 667.9 43.9 666.7 43.9 665.5 44.0 664.3 44.1 663.2 44.2 662.0 44.3 660.8 44.4 659.6 44.6 658.4 44.7 657.3 44.9 656.1 45.1 654.9 45.3 653.7 45.6 652.6 46.0 651.4 46.9 650.2 48.4 649.0 52.3 647.9 57.8 646.7 62.9 645.5 68.3 644.3 76.2 643.1 98.2 642.0 103.4 640.8 105.7 639.6 107.4 638.4 108.5 637.3 109.1 636.1 109.4 634.9 109.6 633.7 109.8 632.6 109.9 631.4 110.0 630.2 110.2 629.0 110.3 627.9 110.4 626.7 110.4 625.5 110.5 624.3 110.6 623.1 110.6 622.0 110.7 620.8 110.7 619.6 110.8 618.4 110.8 617.3 110.9 616.1 111.0 614.9 111.0 613.7 111.1 612.6 111.1 611.4 111.2 610.2 111.3 609.0 111.3 607.8 111.4 606.7 111.5 605.5 111.5 604.3 111.6 603.1 111.6 602.0 111.7 600.8 111.7 599.6 111.8 598.4 111.9 597.3 111.9 596.1 112.0 594.9 112.0 593.7 112.1 592.5 112.1 591.4 112.2 590.2 112.2 589.0 112.3 587.8 112.3 586.7 112.4 585.5 112.4 584.3 112.5 583.1 112.5 582.0 112.6 580.8 112.6 579.6 112.6 578.4 112.7 577.3 112.7 576.1 112.7 574.9 112.8 573.7 112.8 572.5 112.8 571.4 112.9 570.2 112.9 569.0 112.9 567.8 112.9 566.7 112.9 565.5 113.0 564.3 113.0 563.1 113.0 562.0 113.0 560.8 113.0 559.6 113.0" stroke="#2a5fe6" stroke-width="1.2" fill="none"/>
<path d="M746.7 42.0l1.5 -2.7h-3.1zM744.4 42.0l1.5 -2.7h-3.1zM742.0 42.1l1.5 -2.7h-3.1zM739.7 42.1l1.5 -2.7h-3.1zM737.3 42.2l1.5 -2.7h-3.1zM735.0 42.3l1.5 -2.7h-3.1zM732.7 42.3l1.5 -2.7h-3.1zM730.3 42.4l1.5 -2.7h-3.1zM728.0 42.5l1.5 -2.7h-3.1zM725.7 42.6l1.5 -2.7h-3.1zM723.3 42.6l1.5 -2.7h-3.1zM721.0 42.7l1.5 -2.7h-3.1zM718.6 42.8l1.5 -2.7h-3.1zM716.3 42.9l1.5 -2.7h-3.1zM714.0 43.0l1.5 -2.7h-3.1zM711.6 43.1l1.5 -2.7h-3.1zM709.3 43.2l1.5 -2.7h-3.1zM706.9 43.3l1.5 -2.7h-3.1zM704.6 43.4l1.5 -2.7h-3.1zM702.3 43.5l1.5 -2.7h-3.1zM699.9 43.6l1.5 -2.7h-3.1zM697.6 43.7l1.5 -2.7h-3.1zM695.2 43.8l1.5 -2.7h-3.1zM692.9 43.9l1.5 -2.7h-3.1zM690.6 44.0l1.5 -2.7h-3.1zM688.2 44.1l1.5 -2.7h-3.1zM685.9 44.3l1.5 -2.7h-3.1zM683.6 44.4l1.5 -2.7h-3.1zM681.2 44.5l1.5 -2.7h-3.1zM678.9 44.7l1.5 -2.7h-3.1zM676.5 44.8l1.5 -2.7h-3.1zM674.2 45.0l1.5 -2.7h-3.1zM671.9 45.1l1.5 -2.7h-3.1zM669.5 45.3l1.5 -2.7h-3.1zM667.2 45.5l1.5 -2.7h-3.1zM664.8 45.7l1.5 -2.7h-3.1zM662.5 45.9l1.5 -2.7h-3.1zM660.2 46.1l1.5 -2.7h-3.1zM657.8 46.4l1.5 -2.7h-3.1zM655.5 46.8l1.5 -2.7h-3.1zM653.2 47.4l1.5 -2.7h-3.1zM650.8 49.2l1.5 -2.7h-3.1zM648.5 56.5l1.5 -2.7h-3.1zM646.1 66.8l1.5 -2.7h-3.1zM643.8 86.1l1.5 -2.7h-3.1zM641.5 106.1l1.5 -2.7h-3.1zM639.1 109.5l1.5 -2.7h-3.1zM636.8 110.9l1.5 -2.7h-3.1zM634.4 111.3l1.5 -2.7h-3.1zM632.1 111.6l1.5 -2.7h-3.1zM629.8 111.8l1.5 -2.7h-3.1zM627.4 112.0l1.5 -2.7h-3.1zM625.1 112.1l1.5 -2.7h-3.1zM622.7 112.3l1.5 -2.7h-3.1zM620.4 112.4l1.5 -2.7h-3.1zM618.1 112.5l1.5 -2.7h-3.1zM615.7 112.6l1.5 -2.7h-3.1zM613.4 112.7l1.5 -2.7h-3.1zM611.1 112.8l1.5 -2.7h-3.1zM608.7 113.0l1.5 -2.7h-3.1zM606.4 113.1l1.5 -2.7h-3.1zM604.0 113.2l1.5 -2.7h-3.1zM601.7 113.3l1.5 -2.7h-3.1zM599.4 113.4l1.5 -2.7h-3.1zM597.0 113.5l1.5 -2.7h-3.1zM594.7 113.6l1.5 -2.7h-3.1zM592.3 113.8l1.5 -2.7h-3.1zM590.0 113.9l1.5 -2.7h-3.1zM587.7 113.9l1.5 -2.7h-3.1zM585.3 114.0l1.5 -2.7h-3.1zM583.0 114.1l1.5 -2.7h-3.1zM580.6 114.2l1.5 -2.7h-3.1zM578.3 114.3l1.5 -2.7h-3.1zM576.0 114.3l1.5 -2.7h-3.1zM573.6 114.4l1.5 -2.7h-3.1zM571.3 114.5l1.5 -2.7h-3.1zM569.0 114.5l1.5 -2.7h-3.1zM566.6 114.6l1.5 -2.7h-3.1zM564.3 114.6l1.5 -2.7h-3.1zM561.9 114.6l1.5 -2.7h-3.1zM559.6 114.6l1.5 -2.7h-3.1z" fill="#2a5fe6"/>
<path d="M559.6 113.0 560.8 113.0 562.0 113.0 563.1 112.9 564.3 112.9 565.5 112.9 566.7 112.9 567.8 112.8 569.0 112.8 570.2 112.8 571.4 112.7 572.5 112.7 573.7 112.7 574.9 112.6 576.1 112.6 577.3 112.6 578.4 112.5 579.6 112.5 580.8 112.5 582.0 112.4 583.1 112.4 584.3 112.3 585.5 112.3 586.7 112.2 587.8 112.2 589.0 112.2 590.2 112.1 591.4 112.1 592.5 112.0 593.7 112.0 594.9 111.9 596.1 111.9 597.3 111.8 598.4 111.8 599.6 111.7 600.8 111.7 602.0 111.6 603.1 111.6 604.3 111.5 605.5 111.5 606.7 111.4 607.8 111.3 609.0 111.3 610.2 111.2 611.4 111.2 612.6 111.1 613.7 111.1 614.9 111.0 616.1 111.0 617.3 110.9 618.4 110.8 619.6 110.8 620.8 110.7 622.0 110.7 623.1 110.6 624.3 110.5 625.5 110.5 626.7 110.4 627.9 110.3 629.0 110.2 630.2 110.2 631.4 110.1 632.6 110.0 633.7 109.9 634.9 109.8 636.1 109.7 637.3 109.6 638.4 109.5 639.6 109.5 640.8 109.4 642.0 109.3 643.1 109.2 644.3 109.1 645.5 109.0 646.7 108.8 647.9 108.7 649.0 108.5 650.2 108.3 651.4 108.1 652.6 107.8 653.7 107.4 654.9 106.5 656.1 105.0 657.3 101.1 658.4 95.6 659.6 90.5 660.8 85.1 662.0 77.2 663.2 55.2 664.3 50.0 665.5 47.7 666.7 46.0 667.9 44.9 669.0 44.3 670.2 44.0 671.4 43.8 672.6 43.6 673.7 43.5 674.9 43.4 676.1 43.2 677.3 43.1 678.4 43.0 679.6 43.0 680.8 42.9 682.0 42.8 683.2 42.8 684.3 42.7 685.5 42.7 686.7 42.6 687.9 42.6 689.0 42.5 690.2 42.4 691.4 42.4 692.6 42.3 693.7 42.3 694.9 42.2 696.1 42.1 697.3 42.1 698.5 42.0 699.6 41.9 700.8 41.9 702.0 41.8 703.2 41.8 704.3 41.7 705.5 41.7 706.7 41.6 707.9 41.5 709.0 41.5 710.2 41.4 711.4 41.4 712.6 41.3 713.8 41.3 714.9 41.2 716.1 41.2 717.3 41.1 718.5 41.1 719.6 41.0 720.8 41.0 722.0 40.9 723.2 40.9 724.3 40.8 725.5 40.8 726.7 40.8 727.9 40.7 729.0 40.7 730.2 40.7 731.4 40.6 732.6 40.6 733.8 40.6 734.9 40.5 736.1 40.5 737.3 40.5 738.5 40.5 739.6 40.5 740.8 40.4 742.0 40.4 743.2 40.4 744.3 40.4 745.5 40.4 746.7 40.4" stroke="#2a5fe6" stroke-width="1.2" fill="none"/>
<path d="M559.6 114.6l1.5 -2.7h-3.1zM561.9 114.6l1.5 -2.7h-3.1zM564.3 114.5l1.5 -2.7h-3.1zM566.6 114.5l1.5 -2.7h-3.1zM569.0 114.4l1.5 -2.7h-3.1zM571.3 114.4l1.5 -2.7h-3.1zM573.6 114.3l1.5 -2.7h-3.1zM576.0 114.2l1.5 -2.7h-3.1zM578.3 114.1l1.5 -2.7h-3.1zM580.6 114.1l1.5 -2.7h-3.1zM583.0 114.0l1.5 -2.7h-3.1zM585.3 113.9l1.5 -2.7h-3.1zM587.7 113.8l1.5 -2.7h-3.1zM590.0 113.7l1.5 -2.7h-3.1zM592.3 113.6l1.5 -2.7h-3.1zM594.7 113.5l1.5 -2.7h-3.1zM597.0 113.4l1.5 -2.7h-3.1zM599.4 113.3l1.5 -2.7h-3.1zM601.7 113.2l1.5 -2.7h-3.1zM604.0 113.1l1.5 -2.7h-3.1zM606.4 113.0l1.5 -2.7h-3.1zM608.7 112.9l1.5 -2.7h-3.1zM611.1 112.8l1.5 -2.7h-3.1zM613.4 112.7l1.5 -2.7h-3.1zM615.7 112.6l1.5 -2.7h-3.1zM618.1 112.5l1.5 -2.7h-3.1zM620.4 112.4l1.5 -2.7h-3.1zM622.7 112.2l1.5 -2.7h-3.1zM625.1 112.1l1.5 -2.7h-3.1zM627.4 112.0l1.5 -2.7h-3.1zM629.8 111.8l1.5 -2.7h-3.1zM632.1 111.6l1.5 -2.7h-3.1zM634.4 111.5l1.5 -2.7h-3.1zM636.8 111.3l1.5 -2.7h-3.1zM639.1 111.1l1.5 -2.7h-3.1zM641.5 110.9l1.5 -2.7h-3.1zM643.8 110.7l1.5 -2.7h-3.1zM646.1 110.5l1.5 -2.7h-3.1zM648.5 110.2l1.5 -2.7h-3.1zM650.8 109.8l1.5 -2.7h-3.1zM653.2 109.2l1.5 -2.7h-3.1zM655.5 107.4l1.5 -2.7h-3.1zM657.8 100.2l1.5 -2.7h-3.1zM660.2 89.8l1.5 -2.7h-3.1zM662.5 70.5l1.5 -2.7h-3.1zM664.8 50.5l1.5 -2.7h-3.1zM667.2 47.1l1.5 -2.7h-3.1zM669.5 45.7l1.5 -2.7h-3.1zM671.9 45.3l1.5 -2.7h-3.1zM674.2 45.0l1.5 -2.7h-3.1zM676.5 44.8l1.5 -2.7h-3.1zM678.9 44.6l1.5 -2.7h-3.1zM681.2 44.5l1.5 -2.7h-3.1zM683.6 44.4l1.5 -2.7h-3.1zM685.9 44.3l1.5 -2.7h-3.1zM688.2 44.2l1.5 -2.7h-3.1zM690.6 44.0l1.5 -2.7h-3.1zM692.9 43.9l1.5 -2.7h-3.1zM695.2 43.8l1.5 -2.7h-3.1zM697.6 43.7l1.5 -2.7h-3.1zM699.9 43.5l1.5 -2.7h-3.1zM702.3 43.4l1.5 -2.7h-3.1zM704.6 43.3l1.5 -2.7h-3.1zM706.9 43.2l1.5 -2.7h-3.1zM709.3 43.1l1.5 -2.7h-3.1zM711.6 43.0l1.5 -2.7h-3.1zM714.0 42.9l1.5 -2.7h-3.1zM716.3 42.8l1.5 -2.7h-3.1zM718.6 42.7l1.5 -2.7h-3.1zM721.0 42.6l1.5 -2.7h-3.1zM723.3 42.5l1.5 -2.7h-3.1zM725.7 42.4l1.5 -2.7h-3.1zM728.0 42.3l1.5 -2.7h-3.1zM730.3 42.3l1.5 -2.7h-3.1zM732.7 42.2l1.5 -2.7h-3.1zM735.0 42.2l1.5 -2.7h-3.1zM737.3 42.1l1.5 -2.7h-3.1zM739.7 42.1l1.5 -2.7h-3.1zM742.0 42.0l1.5 -2.7h-3.1zM744.4 42.0l1.5 -2.7h-3.1zM746.7 42.0l1.5 -2.7h-3.1z" fill="#2a5fe6"/>
<path d="M746.7 33.3 745.5 33.4 744.3 33.6 743.2 33.7 742.0 33.9 740.8 34.1 739.6 34.2 738.5 34.4 737.3 34.6 736.1 34.8 734.9 34.9 733.8 35.1 732.6 35.3 731.4 35.5 730.2 35.6 729.0 35.8 727.9 36.0 726.7 36.2 725.5 36.4 724.3 36.6 723.2 36.8 722.0 36.9 720.8 37.1 719.6 37.3 718.5 37.5 717.3 37.7 716.1 37.9 714.9 38.1 713.8 38.3 712.6 38.5 711.4 38.7 710.2 38.9 709.0 39.1 707.9 39.3 706.7 39.5 705.5 39.7 704.3 39.9 703.2 40.1 702.0 40.3 700.8 40.5 699.6 40.7 698.5 40.9 697.3 41.2 696.1 41.4 694.9 41.6 693.7 41.8 692.6 42.0 691.4 42.2 690.2 42.4 689.0 42.6 687.9 42.8 686.7 43.0 685.5 43.2 684.3 43.4 683.2 43.6 682.0 43.8 680.8 44.0 679.6 44.1 678.4 44.3 677.3 44.5 676.1 44.7 674.9 44.9 673.7 45.2 672.6 45.4 671.4 45.6 670.2 45.9 669.0 46.2 667.9 46.4 666.7 46.8 665.5 47.1 664.3 47.4 663.2 47.8 662.0 48.2 660.8 48.7 659.6 49.2 658.4 49.8 657.3 50.6 656.1 51.4 654.9 52.5 653.7 53.6 652.6 55.0 651.4 57.5 650.2 61.5 649.0 66.5 647.9 71.6 646.7 76.4 645.5 81.1 644.3 86.3 643.1 91.3 642.0 95.7 640.8 98.7 639.6 100.3 638.4 101.6 637.3 102.7 636.1 103.7 634.9 104.5 633.7 105.2 632.6 105.8 631.4 106.4 630.2 106.9 629.0 107.4 627.9 107.9 626.7 108.3 625.5 108.6 624.3 109.0 623.1 109.3 622.0 109.6 620.8 109.9 619.6 110.2 618.4 110.5 617.3 110.7 616.1 111.0 614.9 111.2 613.7 111.5 612.6 111.7 611.4 112.0 610.2 112.2 609.0 112.5 607.8 112.8 606.7 113.0 605.5 113.2 604.3 113.5 603.1 113.7 602.0 114.0 600.8 114.2 599.6 114.4 598.4 114.7 597.3 114.9 596.1 115.1 594.9 115.4 593.7 115.6 592.5 115.8 591.4 116.0 590.2 116.2 589.0 116.4 587.8 116.6 586.7 116.8 585.5 117.0 584.3 117.2 583.1 117.4 582.0 117.6 580.8 117.8 579.6 118.0 578.4 118.1 577.3 118.3 576.1 118.5 574.9 118.6 573.7 118.8 572.5 118.9 571.4 119.1 570.2 119.2 569.0 119.3 567.8 119.4 566.7 119.6 565.5 119.7 564.3 119.8 563.1 119.9 562.0 120.0 560.8 120.1 559.6 120.1" stroke="#7a3af0" stroke-width="1.2" fill="none"/>
<path d="M745.3 33.3a1.4 1.4 0 1 0 2.8 0a1.4 1.4 0 1 0 -2.8 0zM743.0 33.6a1.4 1.4 0 1 0 2.8 0a1.4 1.4 0 1 0 -2.8 0zM740.6 33.9a1.4 1.4 0 1 0 2.8 0a1.4 1.4 0 1 0 -2.8 0zM738.3 34.2a1.4 1.4 0 1 0 2.8 0a1.4 1.4 0 1 0 -2.8 0zM735.9 34.6a1.4 1.4 0 1 0 2.8 0a1.4 1.4 0 1 0 -2.8 0zM733.6 34.9a1.4 1.4 0 1 0 2.8 0a1.4 1.4 0 1 0 -2.8 0zM731.3 35.3a1.4 1.4 0 1 0 2.8 0a1.4 1.4 0 1 0 -2.8 0zM728.9 35.6a1.4 1.4 0 1 0 2.8 0a1.4 1.4 0 1 0 -2.8 0zM726.6 36.0a1.4 1.4 0 1 0 2.8 0a1.4 1.4 0 1 0 -2.8 0zM724.3 36.4a1.4 1.4 0 1 0 2.8 0a1.4 1.4 0 1 0 -2.8 0zM721.9 36.7a1.4 1.4 0 1 0 2.8 0a1.4 1.4 0 1 0 -2.8 0zM719.6 37.1a1.4 1.4 0 1 0 2.8 0a1.4 1.4 0 1 0 -2.8 0zM717.2 37.5a1.4 1.4 0 1 0 2.8 0a1.4 1.4 0 1 0 -2.8 0zM714.9 37.9a1.4 1.4 0 1 0 2.8 0a1.4 1.4 0 1 0 -2.8 0zM712.6 38.3a1.4 1.4 0 1 0 2.8 0a1.4 1.4 0 1 0 -2.8 0zM710.2 38.7a1.4 1.4 0 1 0 2.8 0a1.4 1.4 0 1 0 -2.8 0zM707.9 39.1a1.4 1.4 0 1 0 2.8 0a1.4 1.4 0 1 0 -2.8 0zM705.5 39.5a1.4 1.4 0 1 0 2.8 0a1.4 1.4 0 1 0 -2.8 0zM703.2 39.9a1.4 1.4 0 1 0 2.8 0a1.4 1.4 0 1 0 -2.8 0zM700.9 40.3a1.4 1.4 0 1 0 2.8 0a1.4 1.4 0 1 0 -2.8 0zM698.5 40.7a1.4 1.4 0 1 0 2.8 0a1.4 1.4 0 1 0 -2.8 0zM696.2 41.1a1.4 1.4 0 1 0 2.8 0a1.4 1.4 0 1 0 -2.8 0zM693.8 41.5a1.4 1.4 0 1 0 2.8 0a1.4 1.4 0 1 0 -2.8 0zM691.5 41.9a1.4 1.4 0 1 0 2.8 0a1.4 1.4 0 1 0 -2.8 0zM689.2 42.4a1.4 1.4 0 1 0 2.8 0a1.4 1.4 0 1 0 -2.8 0zM686.8 42.8a1.4 1.4 0 1 0 2.8 0a1.4 1.4 0 1 0 -2.8 0zM684.5 43.2a1.4 1.4 0 1 0 2.8 0a1.4 1.4 0 1 0 -2.8 0zM682.2 43.5a1.4 1.4 0 1 0 2.8 0a1.4 1.4 0 1 0 -2.8 0zM679.8 43.9a1.4 1.4 0 1 0 2.8 0a1.4 1.4 0 1 0 -2.8 0zM677.5 44.3a1.4 1.4 0 1 0 2.8 0a1.4 1.4 0 1 0 -2.8 0zM675.1 44.6a1.4 1.4 0 1 0 2.8 0a1.4 1.4 0 1 0 -2.8 0zM672.8 45.1a1.4 1.4 0 1 0 2.8 0a1.4 1.4 0 1 0 -2.8 0zM670.5 45.5a1.4 1.4 0 1 0 2.8 0a1.4 1.4 0 1 0 -2.8 0zM668.1 46.0a1.4 1.4 0 1 0 2.8 0a1.4 1.4 0 1 0 -2.8 0zM665.8 46.6a1.4 1.4 0 1 0 2.8 0a1.4 1.4 0 1 0 -2.8 0zM663.4 47.3a1.4 1.4 0 1 0 2.8 0a1.4 1.4 0 1 0 -2.8 0zM661.1 48.0a1.4 1.4 0 1 0 2.8 0a1.4 1.4 0 1 0 -2.8 0zM658.8 49.0a1.4 1.4 0 1 0 2.8 0a1.4 1.4 0 1 0 -2.8 0zM656.4 50.2a1.4 1.4 0 1 0 2.8 0a1.4 1.4 0 1 0 -2.8 0zM654.1 51.9a1.4 1.4 0 1 0 2.8 0a1.4 1.4 0 1 0 -2.8 0zM651.8 54.3a1.4 1.4 0 1 0 2.8 0a1.4 1.4 0 1 0 -2.8 0zM649.4 59.3a1.4 1.4 0 1 0 2.8 0a1.4 1.4 0 1 0 -2.8 0zM647.1 68.9a1.4 1.4 0 1 0 2.8 0a1.4 1.4 0 1 0 -2.8 0zM644.7 78.5a1.4 1.4 0 1 0 2.8 0a1.4 1.4 0 1 0 -2.8 0zM642.4 88.6a1.4 1.4 0 1 0 2.8 0a1.4 1.4 0 1 0 -2.8 0zM640.1 97.2a1.4 1.4 0 1 0 2.8 0a1.4 1.4 0 1 0 -2.8 0zM637.7 100.9a1.4 1.4 0 1 0 2.8 0a1.4 1.4 0 1 0 -2.8 0zM635.4 103.1a1.4 1.4 0 1 0 2.8 0a1.4 1.4 0 1 0 -2.8 0zM633.0 104.8a1.4 1.4 0 1 0 2.8 0a1.4 1.4 0 1 0 -2.8 0zM630.7 106.1a1.4 1.4 0 1 0 2.8 0a1.4 1.4 0 1 0 -2.8 0zM628.4 107.1a1.4 1.4 0 1 0 2.8 0a1.4 1.4 0 1 0 -2.8 0zM626.0 108.0a1.4 1.4 0 1 0 2.8 0a1.4 1.4 0 1 0 -2.8 0zM623.7 108.8a1.4 1.4 0 1 0 2.8 0a1.4 1.4 0 1 0 -2.8 0zM621.3 109.4a1.4 1.4 0 1 0 2.8 0a1.4 1.4 0 1 0 -2.8 0zM619.0 110.0a1.4 1.4 0 1 0 2.8 0a1.4 1.4 0 1 0 -2.8 0zM616.7 110.5a1.4 1.4 0 1 0 2.8 0a1.4 1.4 0 1 0 -2.8 0zM614.3 111.1a1.4 1.4 0 1 0 2.8 0a1.4 1.4 0 1 0 -2.8 0zM612.0 111.6a1.4 1.4 0 1 0 2.8 0a1.4 1.4 0 1 0 -2.8 0zM609.7 112.1a1.4 1.4 0 1 0 2.8 0a1.4 1.4 0 1 0 -2.8 0zM607.3 112.6a1.4 1.4 0 1 0 2.8 0a1.4 1.4 0 1 0 -2.8 0zM605.0 113.1a1.4 1.4 0 1 0 2.8 0a1.4 1.4 0 1 0 -2.8 0zM602.6 113.5a1.4 1.4 0 1 0 2.8 0a1.4 1.4 0 1 0 -2.8 0zM600.3 114.0a1.4 1.4 0 1 0 2.8 0a1.4 1.4 0 1 0 -2.8 0zM598.0 114.5a1.4 1.4 0 1 0 2.8 0a1.4 1.4 0 1 0 -2.8 0zM595.6 115.0a1.4 1.4 0 1 0 2.8 0a1.4 1.4 0 1 0 -2.8 0zM593.3 115.4a1.4 1.4 0 1 0 2.8 0a1.4 1.4 0 1 0 -2.8 0zM590.9 115.8a1.4 1.4 0 1 0 2.8 0a1.4 1.4 0 1 0 -2.8 0zM588.6 116.3a1.4 1.4 0 1 0 2.8 0a1.4 1.4 0 1 0 -2.8 0zM586.3 116.7a1.4 1.4 0 1 0 2.8 0a1.4 1.4 0 1 0 -2.8 0zM583.9 117.1a1.4 1.4 0 1 0 2.8 0a1.4 1.4 0 1 0 -2.8 0zM581.6 117.4a1.4 1.4 0 1 0 2.8 0a1.4 1.4 0 1 0 -2.8 0zM579.2 117.8a1.4 1.4 0 1 0 2.8 0a1.4 1.4 0 1 0 -2.8 0zM576.9 118.2a1.4 1.4 0 1 0 2.8 0a1.4 1.4 0 1 0 -2.8 0zM574.6 118.5a1.4 1.4 0 1 0 2.8 0a1.4 1.4 0 1 0 -2.8 0zM572.2 118.8a1.4 1.4 0 1 0 2.8 0a1.4 1.4 0 1 0 -2.8 0zM569.9 119.1a1.4 1.4 0 1 0 2.8 0a1.4 1.4 0 1 0 -2.8 0zM567.6 119.3a1.4 1.4 0 1 0 2.8 0a1.4 1.4 0 1 0 -2.8 0zM565.2 119.6a1.4 1.4 0 1 0 2.8 0a1.4 1.4 0 1 0 -2.8 0zM562.9 119.8a1.4 1.4 0 1 0 2.8 0a1.4 1.4 0 1 0 -2.8 0zM560.5 120.0a1.4 1.4 0 1 0 2.8 0a1.4 1.4 0 1 0 -2.8 0zM558.2 120.1a1.4 1.4 0 1 0 2.8 0a1.4 1.4 0 1 0 -2.8 0z" fill="#7a3af0"/>
<path d="M559.6 120.1 560.8 120.0 562.0 119.8 563.1 119.7 564.3 119.5 565.5 119.3 566.7 119.2 567.8 119.0 569.0 118.8 570.2 118.6 571.4 118.5 572.5 118.3 573.7 118.1 574.9 117.9 576.1 117.8 577.3 117.6 578.4 117.4 579.6 117.2 580.8 117.0 582.0 116.8 583.1 116.6 584.3 116.5 585.5 116.3 586.7 116.1 587.8 115.9 589.0 115.7 590.2 115.5 591.4 115.3 592.5 115.1 593.7 114.9 594.9 114.7 596.1 114.5 597.3 114.3 598.4 114.1 599.6 113.9 600.8 113.7 602.0 113.5 603.1 113.3 604.3 113.1 605.5 112.9 606.7 112.7 607.8 112.5 609.0 112.2 610.2 112.0 611.4 111.8 612.6 111.6 613.7 111.4 614.9 111.2 616.1 111.0 617.3 110.8 618.4 110.6 619.6 110.4 620.8 110.2 622.0 110.0 623.1 109.8 624.3 109.6 625.5 109.4 626.7 109.3 627.9 109.1 629.0 108.9 630.2 108.7 631.4 108.5 632.6 108.2 633.7 108.0 634.9 107.8 636.1 107.5 637.3 107.2 638.4 107.0 639.6 106.6 640.8 106.3 642.0 106.0 643.1 105.6 644.3 105.2 645.5 104.7 646.7 104.2 647.9 103.6 649.0 102.8 650.2 102.0 651.4 100.9 652.6 99.8 653.7 98.4 654.9 95.9 656.1 91.9 657.3 86.9 658.4 81.8 659.6 77.0 660.8 72.3 662.0 67.1 663.2 62.1 664.3 57.7 665.5 54.7 666.7 53.1 667.9 51.8 669.0 50.7 670.2 49.7 671.4 48.9 672.6 48.2 673.7 47.6 674.9 47.0 676.1 46.5 677.3 46.0 678.4 45.5 679.6 45.1 680.8 44.8 682.0 44.4 683.2 44.1 684.3 43.8 685.5 43.5 686.7 43.2 687.9 42.9 689.0 42.7 690.2 42.4 691.4 42.2 692.6 41.9 693.7 41.7 694.9 41.4 696.1 41.2 697.3 40.9 698.5 40.6 699.6 40.4 700.8 40.2 702.0 39.9 703.2 39.7 704.3 39.4 705.5 39.2 706.7 39.0 707.9 38.7 709.0 38.5 710.2 38.3 711.4 38.0 712.6 37.8 713.8 37.6 714.9 37.4 716.1 37.2 717.3 37.0 718.5 36.8 719.6 36.6 720.8 36.4 722.0 36.2 723.2 36.0 724.3 35.8 725.5 35.6 726.7 35.4 727.9 35.3 729.0 35.1 730.2 34.9 731.4 34.8 732.6 34.6 733.8 34.5 734.9 34.3 736.1 34.2 737.3 34.1 738.5 34.0 739.6 33.8 740.8 33.7 742.0 33.6 743.2 33.5 744.3 33.4 745.5 33.3 746.7 33.3" stroke="#7a3af0" stroke-width="1.2" fill="none"/>
<path d="M558.2 120.1a1.4 1.4 0 1 0 2.8 0a1.4 1.4 0 1 0 -2.8 0zM560.5 119.8a1.4 1.4 0 1 0 2.8 0a1.4 1.4 0 1 0 -2.8 0zM562.9 119.5a1.4 1.4 0 1 0 2.8 0a1.4 1.4 0 1 0 -2.8 0zM565.2 119.2a1.4 1.4 0 1 0 2.8 0a1.4 1.4 0 1 0 -2.8 0zM567.6 118.8a1.4 1.4 0 1 0 2.8 0a1.4 1.4 0 1 0 -2.8 0zM569.9 118.5a1.4 1.4 0 1 0 2.8 0a1.4 1.4 0 1 0 -2.8 0zM572.2 118.1a1.4 1.4 0 1 0 2.8 0a1.4 1.4 0 1 0 -2.8 0zM574.6 117.8a1.4 1.4 0 1 0 2.8 0a1.4 1.4 0 1 0 -2.8 0zM576.9 117.4a1.4 1.4 0 1 0 2.8 0a1.4 1.4 0 1 0 -2.8 0zM579.2 117.0a1.4 1.4 0 1 0 2.8 0a1.4 1.4 0 1 0 -2.8 0zM581.6 116.7a1.4 1.4 0 1 0 2.8 0a1.4 1.4 0 1 0 -2.8 0zM583.9 116.3a1.4 1.4 0 1 0 2.8 0a1.4 1.4 0 1 0 -2.8 0zM586.3 115.9a1.4 1.4 0 1 0 2.8 0a1.4 1.4 0 1 0 -2.8 0zM588.6 115.5a1.4 1.4 0 1 0 2.8 0a1.4 1.4 0 1 0 -2.8 0zM590.9 115.1a1.4 1.4 0 1 0 2.8 0a1.4 1.4 0 1 0 -2.8 0zM593.3 114.7a1.4 1.4 0 1 0 2.8 0a1.4 1.4 0 1 0 -2.8 0zM595.6 114.3a1.4 1.4 0 1 0 2.8 0a1.4 1.4 0 1 0 -2.8 0zM598.0 113.9a1.4 1.4 0 1 0 2.8 0a1.4 1.4 0 1 0 -2.8 0zM600.3 113.5a1.4 1.4 0 1 0 2.8 0a1.4 1.4 0 1 0 -2.8 0zM602.6 113.1a1.4 1.4 0 1 0 2.8 0a1.4 1.4 0 1 0 -2.8 0zM605.0 112.7a1.4 1.4 0 1 0 2.8 0a1.4 1.4 0 1 0 -2.8 0zM607.3 112.3a1.4 1.4 0 1 0 2.8 0a1.4 1.4 0 1 0 -2.8 0zM609.7 111.9a1.4 1.4 0 1 0 2.8 0a1.4 1.4 0 1 0 -2.8 0zM612.0 111.5a1.4 1.4 0 1 0 2.8 0a1.4 1.4 0 1 0 -2.8 0zM614.3 111.0a1.4 1.4 0 1 0 2.8 0a1.4 1.4 0 1 0 -2.8 0zM616.7 110.6a1.4 1.4 0 1 0 2.8 0a1.4 1.4 0 1 0 -2.8 0zM619.0 110.2a1.4 1.4 0 1 0 2.8 0a1.4 1.4 0 1 0 -2.8 0zM621.3 109.9a1.4 1.4 0 1 0 2.8 0a1.4 1.4 0 1 0 -2.8 0zM623.7 109.5a1.4 1.4 0 1 0 2.8 0a1.4 1.4 0 1 0 -2.8 0zM626.0 109.1a1.4 1.4 0 1 0 2.8 0a1.4 1.4 0 1 0 -2.8 0zM628.4 108.8a1.4 1.4 0 1 0 2.8 0a1.4 1.4 0 1 0 -2.8 0zM630.7 108.3a1.4 1.4 0 1 0 2.8 0a1.4 1.4 0 1 0 -2.8 0zM633.0 107.9a1.4 1.4 0 1 0 2.8 0a1.4 1.4 0 1 0 -2.8 0zM635.4 107.4a1.4 1.4 0 1 0 2.8 0a1.4 1.4 0 1 0 -2.8 0zM637.7 106.8a1.4 1.4 0 1 0 2.8 0a1.4 1.4 0 1 0 -2.8 0zM640.1 106.1a1.4 1.4 0 1 0 2.8 0a1.4 1.4 0 1 0 -2.8 0zM642.4 105.4a1.4 1.4 0 1 0 2.8 0a1.4 1.4 0 1 0 -2.8 0zM644.7 104.4a1.4 1.4 0 1 0 2.8 0a1.4 1.4 0 1 0 -2.8 0zM647.1 103.2a1.4 1.4 0 1 0 2.8 0a1.4 1.4 0 1 0 -2.8 0zM649.4 101.5a1.4 1.4 0 1 0 2.8 0a1.4 1.4 0 1 0 -2.8 0zM651.8 99.1a1.4 1.4 0 1 0 2.8 0a1.4 1.4 0 1 0 -2.8 0zM654.1 94.1a1.4 1.4 0 1 0 2.8 0a1.4 1.4 0 1 0 -2.8 0zM656.4 84.5a1.4 1.4 0 1 0 2.8 0a1.4 1.4 0 1 0 -2.8 0zM658.8 74.9a1.4 1.4 0 1 0 2.8 0a1.4 1.4 0 1 0 -2.8 0zM661.1 64.8a1.4 1.4 0 1 0 2.8 0a1.4 1.4 0 1 0 -2.8 0zM663.4 56.2a1.4 1.4 0 1 0 2.8 0a1.4 1.4 0 1 0 -2.8 0zM665.8 52.5a1.4 1.4 0 1 0 2.8 0a1.4 1.4 0 1 0 -2.8 0zM668.1 50.3a1.4 1.4 0 1 0 2.8 0a1.4 1.4 0 1 0 -2.8 0zM670.5 48.6a1.4 1.4 0 1 0 2.8 0a1.4 1.4 0 1 0 -2.8 0zM672.8 47.3a1.4 1.4 0 1 0 2.8 0a1.4 1.4 0 1 0 -2.8 0zM675.1 46.3a1.4 1.4 0 1 0 2.8 0a1.4 1.4 0 1 0 -2.8 0zM677.5 45.4a1.4 1.4 0 1 0 2.8 0a1.4 1.4 0 1 0 -2.8 0zM679.8 44.6a1.4 1.4 0 1 0 2.8 0a1.4 1.4 0 1 0 -2.8 0zM682.2 44.0a1.4 1.4 0 1 0 2.8 0a1.4 1.4 0 1 0 -2.8 0zM684.5 43.4a1.4 1.4 0 1 0 2.8 0a1.4 1.4 0 1 0 -2.8 0zM686.8 42.9a1.4 1.4 0 1 0 2.8 0a1.4 1.4 0 1 0 -2.8 0zM689.2 42.3a1.4 1.4 0 1 0 2.8 0a1.4 1.4 0 1 0 -2.8 0zM691.5 41.8a1.4 1.4 0 1 0 2.8 0a1.4 1.4 0 1 0 -2.8 0zM693.8 41.3a1.4 1.4 0 1 0 2.8 0a1.4 1.4 0 1 0 -2.8 0zM696.2 40.8a1.4 1.4 0 1 0 2.8 0a1.4 1.4 0 1 0 -2.8 0zM698.5 40.3a1.4 1.4 0 1 0 2.8 0a1.4 1.4 0 1 0 -2.8 0zM700.9 39.9a1.4 1.4 0 1 0 2.8 0a1.4 1.4 0 1 0 -2.8 0zM703.2 39.4a1.4 1.4 0 1 0 2.8 0a1.4 1.4 0 1 0 -2.8 0zM705.5 38.9a1.4 1.4 0 1 0 2.8 0a1.4 1.4 0 1 0 -2.8 0zM707.9 38.4a1.4 1.4 0 1 0 2.8 0a1.4 1.4 0 1 0 -2.8 0zM710.2 38.0a1.4 1.4 0 1 0 2.8 0a1.4 1.4 0 1 0 -2.8 0zM712.6 37.6a1.4 1.4 0 1 0 2.8 0a1.4 1.4 0 1 0 -2.8 0zM714.9 37.1a1.4 1.4 0 1 0 2.8 0a1.4 1.4 0 1 0 -2.8 0zM717.2 36.7a1.4 1.4 0 1 0 2.8 0a1.4 1.4 0 1 0 -2.8 0zM719.6 36.3a1.4 1.4 0 1 0 2.8 0a1.4 1.4 0 1 0 -2.8 0zM721.9 36.0a1.4 1.4 0 1 0 2.8 0a1.4 1.4 0 1 0 -2.8 0zM724.3 35.6a1.4 1.4 0 1 0 2.8 0a1.4 1.4 0 1 0 -2.8 0zM726.6 35.2a1.4 1.4 0 1 0 2.8 0a1.4 1.4 0 1 0 -2.8 0zM728.9 34.9a1.4 1.4 0 1 0 2.8 0a1.4 1.4 0 1 0 -2.8 0zM731.3 34.6a1.4 1.4 0 1 0 2.8 0a1.4 1.4 0 1 0 -2.8 0zM733.6 34.3a1.4 1.4 0 1 0 2.8 0a1.4 1.4 0 1 0 -2.8 0zM735.9 34.1a1.4 1.4 0 1 0 2.8 0a1.4 1.4 0 1 0 -2.8 0zM738.3 33.8a1.4 1.4 0 1 0 2.8 0a1.4 1.4 0 1 0 -2.8 0zM740.6 33.6a1.4 1.4 0 1 0 2.8 0a1.4 1.4 0 1 0 -2.8 0zM743.0 33.4a1.4 1.4 0 1 0 2.8 0a1.4 1.4 0 1 0 -2.8 0zM745.3 33.3a1.4 1.4 0 1 0 2.8 0a1.4 1.4 0 1 0 -2.8 0z" fill="#7a3af0"/>
</g>
<clipPath id="cd"><rect x="54.6" y="208.0" width="190.1" height="140.5"/></clipPath>
<g clip-path="url(#cd)">
<path d="M56.4 266.4 57.4 252.9 58.4 249.7 59.4 248.4 60.4 247.6 61.4 247.2 62.4 247.0 63.4 246.7 64.4 246.6 65.4 246.5 66.4 246.3 67.4 246.2 68.4 246.1 69.4 245.9 70.4 245.8 71.4 245.6 72.4 245.5 73.4 245.4 74.4 245.4 75.4 245.5 76.4 245.7 77.4 245.9 78.4 246.2 79.4 246.4 80.4 246.6 81.4 246.8 82.4 247.0 83.4 247.2 84.4 247.3 85.4 247.3 86.4 246.8 87.4 245.9 88.4 244.7 89.4 243.4 90.4 242.1 91.4 240.9 92.4 240.0 93.4 239.1 94.4 238.1 95.4 237.2 96.4 236.4 97.4 235.5 98.4 234.8 99.4 234.1 100.4 233.5 101.4 233.1 102.4 232.8 103.4 232.4 104.4 232.1 105.4 231.9 106.4 231.6 107.4 231.4 108.4 231.2 109.4 231.0 110.4 230.8 111.4 230.7 112.4 230.6 113.4 230.6 114.4 230.6 115.4 230.7 116.4 230.9 117.4 231.1 118.4 231.4 119.4 231.8 120.4 232.1 121.4 232.5 122.4 232.9 123.4 233.4 124.4 233.8 125.4 234.1 126.4 234.5 127.4 235.0 128.4 235.4 129.4 235.9 130.4 236.4 131.4 236.9 132.4 237.5 133.4 238.0 134.4 238.5 135.4 239.1 136.4 239.6 137.4 240.2 138.4 240.7 139.4 241.2 140.4 241.8 141.4 242.3 142.4 242.9 143.4 243.4 144.4 244.0 145.4 244.5 146.4 245.1 147.4 245.7 148.4 246.3 149.4 246.9 150.3 247.5 151.3 248.2 152.3 248.8 153.3 249.5 154.3 250.2 155.3 250.9 156.3 251.7 157.3 252.4 158.3 253.2 159.3 254.0 160.3 254.8 161.3 255.7 162.3 256.5 163.3 257.4 164.3 258.3 165.3 259.2 166.3 260.1 167.3 261.1 168.3 262.0 169.3 263.0 170.3 263.9 171.3 264.9 172.3 265.9 173.3 266.8 174.3 267.8 175.3 268.9 176.3 269.9 177.3 270.9 178.3 272.0 179.3 273.1 180.3 274.2 181.3 275.3 182.3 276.4 183.3 277.6 184.3 278.7 185.3 279.8 186.3 280.9 187.3 282.1 188.3 283.2 189.3 284.3 190.3 285.4 191.3 286.5 192.3 287.6 193.3 288.7 194.3 289.8 195.3 291.0 196.3 292.1 197.3 293.2 198.3 294.3 199.3 295.4 200.3 296.5 201.3 297.6 202.3 298.7 203.3 299.8 204.3 300.9 205.3 302.0 206.3 303.1 207.3 304.1 208.3 305.2 209.3 306.2 210.3 307.2 211.3 308.2 212.3 309.2 213.3 310.2 214.3 311.1 215.3 312.1 216.3 313.1 217.3 314.1 218.3 315.0 219.3 316.0 220.3 317.0 221.3 318.1 222.3 319.1 223.3 320.2 224.3 321.2 225.3 322.4 226.3 323.6 227.3 324.9 228.3 326.2 229.3 327.6 230.3 328.8 231.3 330.0 232.3 331.1 233.3 332.0 234.3 332.8 235.3 333.4 236.3 333.9 237.3 334.4 238.3 334.8 239.3 335.3 240.3 335.8 241.3 336.3 242.3 337.0 243.3 337.7 244.3 338.4" stroke="#86f51a" stroke-width="3.1" fill="none" stroke-linejoin="round" stroke-linecap="round"/>
</g>
<path d="M85.2 268.7V255.8" stroke="#000" stroke-width="1.6"/><path d="M85.2 248.8l-2.6 9.2l2.6 -1.8l2.6 1.8z" fill="#000"/>
<clipPath id="ce"><rect x="303.5" y="207.4" width="190.39999999999998" height="141.79999999999998"/></clipPath>
<g clip-path="url(#ce)">
<path d="M304.0 331.7 305.0 331.5 306.0 331.3 307.0 331.1 308.0 330.9 309.0 330.6 310.0 330.4 311.0 330.2 312.0 329.9 313.0 329.7 314.0 329.4 315.0 329.2 316.0 328.9 317.0 328.6 318.0 328.4 319.0 328.1 320.0 327.8 321.0 327.5 322.0 327.2 322.9 326.9 323.9 326.6 324.9 326.3 325.9 326.0 326.9 325.7 327.9 325.3 328.9 325.0 329.9 324.6 330.9 324.2 331.9 323.8 332.9 323.4 333.9 323.0 334.9 322.6 335.9 322.1 336.9 321.7 337.9 321.3 338.9 320.8 339.9 320.4 340.9 319.9 341.9 319.5 342.9 319.1 343.9 318.7 344.9 318.3 345.9 317.9 346.9 317.5 347.9 317.1 348.9 316.8 349.9 316.4 350.9 316.1 351.9 315.8 352.9 315.5 353.9 315.2 354.9 314.8 355.9 314.5 356.9 314.2 357.9 313.9 358.9 313.6 359.9 313.3 360.9 313.0 361.8 312.7 362.8 312.4 363.8 312.2 364.8 311.9 365.8 311.6 366.8 311.4 367.8 311.2 368.8 311.0 369.8 310.7 370.8 310.6 371.8 310.4 372.8 310.2 373.8 310.1 374.8 309.9 375.8 309.8 376.8 309.6 377.8 309.5 378.8 309.3 379.8 309.2 380.8 309.0 381.8 308.9 382.8 308.8 383.8 308.6 384.8 308.5 385.8 308.4 386.8 308.3 387.8 308.2 388.8 308.1 389.8 308.0 390.8 307.9 391.8 307.9 392.8 307.8 393.8 307.8 394.8 307.7 395.8 307.7 396.8 307.7 397.8 307.7 398.8 307.7 399.7 307.7 400.7 307.8 401.7 307.8 402.7 307.8 403.7 307.9 404.7 308.0 405.7 308.0 406.7 308.1 407.7 308.2 408.7 308.3 409.7 308.4 410.7 308.5 411.7 308.6 412.7 308.7 413.7 308.8 414.7 308.9 415.7 309.0 416.7 309.1 417.7 309.2 418.7 309.4 419.7 309.5 420.7 309.6 421.7 309.8 422.7 309.9 423.7 310.1 424.7 310.4 425.7 310.6 426.7 310.9 427.7 311.1 428.7 311.4 429.7 311.7 430.7 312.1 431.7 312.4 432.7 312.7 433.7 313.1 434.7 313.4 435.7 313.8 436.6 314.1 437.6 314.5 438.6 314.8 439.6 315.2 440.6 315.5 441.6 315.9 442.6 316.2 443.6 316.5 444.6 316.8 445.6 317.1 446.6 317.4 447.6 317.7 448.6 318.0 449.6 318.3 450.6 318.6 451.6 318.9 452.6 319.2 453.6 319.5 454.6 319.8 455.6 320.1 456.6 320.4 457.6 320.8 458.6 321.1 459.6 321.4 460.6 321.7 461.6 322.0 462.6 322.3 463.6 322.6 464.6 322.8 465.6 323.1 466.6 323.4 467.6 323.7 468.6 324.0 469.6 324.3 470.6 324.6 471.6 324.9 472.6 325.1 473.6 325.4 474.6 325.7 475.5 326.0 476.5 326.3 477.5 326.5 478.5 326.8 479.5 327.1 480.5 327.4 481.5 327.6 482.5 327.9 483.5 328.2 484.5 328.4 485.5 328.7 486.5 329.0 487.5 329.2 488.5 329.5 489.5 329.8 490.5 330.0 491.5 330.3 492.5 330.5 493.5 330.8" stroke="#d6e61e" stroke-width="3.6" fill="none" stroke-linejoin="round" stroke-linecap="round"/>
<path d="M304.6 302.3 305.6 299.7 306.6 298.3 307.6 298.2 308.6 298.1 309.6 298.0 310.6 298.0 311.6 297.9 312.6 297.9 313.6 297.8 314.6 297.8 315.6 297.7 316.6 297.7 317.6 297.7 318.6 297.7 319.6 297.6 320.6 297.6 321.6 297.6 322.6 297.6 323.6 297.6 324.6 297.6 325.6 297.6 326.6 297.6 327.6 297.6 328.6 297.6 329.6 297.6 330.6 297.6 331.6 297.6 332.6 297.6 333.6 297.7 334.6 297.7 335.6 297.7 336.6 297.7 337.6 297.8 338.6 297.8 339.6 297.8 340.6 297.8 341.6 297.9 342.6 297.9 343.6 297.9 344.6 298.0 345.6 298.0 346.6 298.1 347.6 298.1 348.6 298.2 349.6 298.2 350.6 298.2 351.6 298.3 352.6 298.3 353.6 298.4 354.6 298.4 355.6 298.5 356.6 298.5 357.6 298.6 358.6 298.6 359.6 298.7 360.6 298.7 361.6 298.8 362.6 298.8 363.6 298.9 364.6 298.9 365.6 299.0 366.6 299.0 367.6 299.1 368.6 299.1 369.6 299.2 370.6 299.2 371.6 299.3 372.6 299.3 373.6 299.4 374.6 299.5 375.6 299.5 376.6 299.6 377.6 299.7 378.6 299.7 379.6 299.8 380.6 299.9 381.6 300.0 382.6 300.1 383.6 300.2 384.6 300.4 385.6 300.5 386.6 300.6 387.6 300.8 388.6 301.0 389.6 301.1 390.6 301.3 391.6 301.5 392.6 301.7 393.6 301.9 394.6 302.2 395.6 302.4 396.6 302.7 397.6 303.3 398.6 304.9 399.5 306.0 400.5 306.3 401.5 306.6 402.5 306.9 403.5 307.1 404.5 307.3 405.5 307.5 406.5 307.6 407.5 307.8 408.5 307.9 409.5 308.0 410.5 308.1 411.5 308.2 412.5 308.3 413.5 308.4 414.5 308.5 415.5 308.6 416.5 308.7 417.5 308.9 418.5 309.0 419.5 309.2 420.5 309.4 421.5 309.6 422.5 309.9 423.5 310.1 424.5 310.4 425.5 310.6 426.5 310.9 427.5 311.2 428.5 311.5 429.5 311.8 430.5 312.1 431.5 312.4 432.5 312.7 433.5 313.1 434.5 313.4 435.5 313.7 436.5 314.0 437.5 314.4 438.5 314.7 439.5 315.0 440.5 315.3 441.5 315.6 442.5 316.0 443.5 316.3 444.5 316.6 445.5 316.9 446.5 317.2 447.5 317.5 448.5 317.8 449.5 318.1 450.5 318.4 451.5 318.7 452.5 319.0 453.5 319.3 454.5 319.6 455.5 319.9 456.5 320.2 457.5 320.5 458.5 320.8 459.5 321.1 460.5 321.4 461.5 321.7 462.5 322.0 463.5 322.3 464.5 322.6 465.5 322.9 466.5 323.2 467.5 323.5 468.5 323.8 469.5 324.1 470.5 324.4 471.5 324.6 472.5 324.9 473.5 325.2 474.5 325.5 475.5 325.7 476.5 326.0 477.5 326.3 478.5 326.6 479.5 326.8 480.5 327.1 481.5 327.4 482.5 327.6 483.5 327.9 484.5 328.2 485.5 328.4 486.5 328.7 487.5 329.0 488.5 329.2 489.5 329.5 490.5 329.7 491.5 330.0 492.5 330.2 493.5 330.5" stroke="#3cec4a" stroke-width="3.6" fill="none" stroke-linejoin="round" stroke-linecap="round"/>
<path d="M315.9 258.6 316.9 258.5 317.9 258.4 318.9 258.3 319.9 258.2 320.9 258.1 321.9 258.0 322.9 258.0 323.9 257.9 324.9 257.8 325.9 257.8 326.9 257.7 327.9 257.7 328.8 257.6 329.8 257.6 330.8 257.6 331.8 257.5 332.8 257.5 333.8 257.5 334.8 257.5 335.8 257.5 336.8 257.5 337.8 257.5 338.8 257.5 339.8 257.6 340.8 257.6 341.8 257.6 342.8 257.7 343.8 257.7 344.8 257.8 345.8 257.9 346.8 257.9 347.8 258.0 348.8 258.0 349.8 258.1 350.8 258.2 351.8 258.2 352.8 258.3 353.8 258.4 354.7 258.5 355.7 258.5 356.7 258.6 357.7 258.7 358.7 258.7 359.7 258.8 360.7 258.9 361.7 259.0 362.7 259.0 363.7 259.1 364.7 259.2 365.7 259.3 366.7 259.4 367.7 259.5 368.7 259.6 369.7 259.7 370.7 259.8 371.7 259.9 372.7 260.0 373.7 260.2 374.7 260.3 375.7 260.4 376.7 260.6 377.7 260.7 378.7 260.9 379.6 261.0 380.6 261.2 381.6 261.4 382.6 261.6 383.6 261.8 384.6 262.0 385.6 262.2 386.6 262.5 387.6 262.8 388.6 263.0 389.6 263.3 390.6 263.6 391.6 263.9 392.6 264.2 393.6 264.5 394.6 264.9 395.6 265.2 396.6 265.6 397.6 266.0 398.6 266.4 399.6 266.8 400.6 267.3 401.6 267.8 402.6 268.3 403.6 268.8 404.5 269.4 405.5 270.0 406.5 270.5 407.5 271.1 408.5 271.7 409.5 272.3 410.5 273.0 411.5 273.8 412.5 274.5 413.5 275.3 414.5 276.2 415.5 277.0 416.5 277.7 417.5 278.5 418.5 279.1 419.5 279.8 420.5 280.4 421.5 281.0 422.5 281.6 423.5 282.2 424.5 282.8 425.5 283.4 426.5 284.0 427.5 284.5 428.5 285.1 429.4 285.7 430.4 286.2 431.4 286.7 432.4 287.3 433.4 287.8 434.4 288.3 435.4 288.8 436.4 289.3 437.4 289.8 438.4 290.3 439.4 290.8 440.4 291.2 441.4 291.7 442.4 292.2 443.4 292.6 444.4 293.1 445.4 293.6 446.4 294.0 447.4 294.4 448.4 294.9 449.4 295.3 450.4 295.8 451.4 296.2 452.4 296.6 453.4 297.0 454.4 297.4 455.3 297.9 456.3 298.3 457.3 298.7 458.3 299.0 459.3 299.4 460.3 299.8 461.3 300.2 462.3 300.6 463.3 300.9 464.3 301.3 465.3 301.6 466.3 302.0 467.3 302.3" stroke="#48eea8" stroke-width="3.9" fill="none" stroke-linejoin="round" stroke-linecap="round"/>
<path d="M304.1 231.7 305.1 231.4 306.1 231.2 307.1 231.1 308.1 230.9 309.1 230.8 310.1 230.8 311.1 230.7 312.1 230.7 313.1 230.7 314.1 230.7 315.1 230.8 316.1 231.0 317.1 231.2 318.1 231.5 319.1 231.9 320.0 232.2 321.0 232.6 322.0 233.0 323.0 233.4 324.0 233.8 325.0 234.1 326.0 234.4 327.0 234.6 328.0 234.9 329.0 235.2 330.0 235.5 331.0 235.8 332.0 236.1 333.0 236.4 334.0 236.7 335.0 237.0 336.0 237.3 337.0 237.6 338.0 238.0 339.0 238.3 340.0 238.6 341.0 239.0 342.0 239.3 343.0 239.6 344.0 240.0 345.0 240.3 346.0 240.7 347.0 241.0 348.0 241.4 349.0 241.7 350.0 242.1 351.0 242.4 351.9 242.8 352.9 243.2 353.9 243.5 354.9 243.9 355.9 244.3 356.9 244.6 357.9 245.0 358.9 245.4 359.9 245.8 360.9 246.2 361.9 246.6 362.9 247.0 363.9 247.4 364.9 247.8 365.9 248.2 366.9 248.6 367.9 249.0 368.9 249.4 369.9 249.8 370.9 250.2 371.9 250.6 372.9 251.0 373.9 251.4 374.9 251.8 375.9 252.2 376.9 252.6 377.9 253.0 378.9 253.4 379.9 253.8 380.9 254.2 381.9 254.6 382.9 254.9 383.8 255.3 384.8 255.6 385.8 256.0 386.8 256.3 387.8 256.7 388.8 257.0 389.8 257.4 390.8 257.8 391.8 258.1 392.8 258.5 393.8 258.9 394.8 259.3 395.8 259.6 396.8 260.1 397.8 260.5 398.8 260.9 399.8 261.4 400.8 261.8 401.8 262.3 402.8 262.8 403.8 263.3 404.8 263.9 405.8 264.5 406.8 265.2 407.8 265.8 408.8 266.6 409.8 267.3 410.8 268.0 411.8 268.8 412.8 269.5 413.8 270.3 414.7 271.0 415.7 271.7 416.7 272.5 417.7 273.1 418.7 273.8 419.7 274.4 420.7 275.1 421.7 275.7 422.7 276.3 423.7 276.9 424.7 277.6 425.7 278.2 426.7 278.8 427.7 279.4 428.7 280.0 429.7 280.6 430.7 281.2 431.7 281.8 432.7 282.4 433.7 283.0 434.7 283.6 435.7 284.1 436.7 284.7 437.7 285.3 438.7 285.9 439.7 286.4 440.7 287.0 441.7 287.5 442.7 288.1 443.7 288.6 444.7 289.2 445.7 289.7 446.6 290.2 447.6 290.7 448.6 291.3 449.6 291.8 450.6 292.3 451.6 292.8 452.6 293.3 453.6 293.8 454.6 294.3 455.6 294.8 456.6 295.3 457.6 295.8 458.6 296.3 459.6 296.8 460.6 297.3 461.6 297.8 462.6 298.3 463.6 298.8 464.6 299.3 465.6 299.9 466.6 300.4 467.6 300.9 468.6 301.4 469.6 301.9 470.6 302.5 471.6 303.0 472.6 303.5 473.6 304.0 474.6 304.6 475.6 305.1 476.6 305.6 477.6 306.1 478.5 306.6 479.5 307.1 480.5 307.6 481.5 308.1 482.5 308.5 483.5 309.0 484.5 309.4 485.5 309.8 486.5 310.3 487.5 310.7 488.5 311.1 489.5 311.5 490.5 311.9 491.5 312.3 492.5 312.6 493.5 313.0" stroke="#ff6a2a" stroke-width="3.9" fill="none" stroke-linejoin="round" stroke-linecap="round"/>
<path d="M304.1 237.1 305.1 236.7 306.1 236.4 307.1 236.1 308.1 235.8 309.1 235.6 310.1 235.4 311.1 235.2 312.1 235.1 313.1 235.0 314.1 235.0 315.1 235.0 316.1 235.1 317.1 235.1 318.1 235.2 319.1 235.3 320.0 235.4 321.0 235.5 322.0 235.7 323.0 235.8 324.0 235.9 325.0 236.1 326.0 236.2 327.0 236.4 328.0 236.6 329.0 236.8 330.0 237.0 331.0 237.2 332.0 237.5 333.0 237.7 334.0 238.0 335.0 238.2 336.0 238.5 337.0 238.8 338.0 239.1 339.0 239.4 340.0 239.7 341.0 240.0 342.0 240.3 343.0 240.5 344.0 240.8 345.0 241.1 346.0 241.4 347.0 241.7 348.0 241.9 349.0 242.2 350.0 242.5 351.0 242.8 351.9 243.1 352.9 243.3 353.9 243.6 354.9 243.9 355.9 244.2 356.9 244.5 357.9 244.8 358.9 245.1 359.9 245.4 360.9 245.7 361.9 246.1 362.9 246.4 363.9 246.7 364.9 247.0 365.9 247.4 366.9 247.7 367.9 248.0 368.9 248.4 369.9 248.8 370.9 249.1 371.9 249.5 372.9 249.9 373.9 250.3 374.9 250.7 375.9 251.1 376.9 251.5 377.9 251.9 378.9 252.3 379.9 252.8 380.9 253.2 381.9 253.6 382.9 254.0 383.8 254.4 384.8 254.8 385.8 255.2 386.8 255.6 387.8 256.0 388.8 256.4 389.8 256.8 390.8 257.2 391.8 257.5 392.8 257.9 393.8 258.2 394.8 258.6 395.8 258.9 396.8 259.2 397.8 259.6 398.8 260.0 399.8 260.4 400.8 260.8 401.8 261.2 402.8 261.7 403.8 262.2 404.8 262.8 405.8 263.4 406.8 264.1 407.8 264.9 408.8 265.6 409.8 266.4 410.8 267.2 411.8 268.0 412.8 268.9 413.8 269.7 414.7 270.5 415.7 271.3 416.7 272.0 417.7 272.7 418.7 273.4 419.7 274.0 420.7 274.7 421.7 275.3 422.7 276.0 423.7 276.6 424.7 277.2 425.7 277.9 426.7 278.5 427.7 279.1 428.7 279.7 429.7 280.3 430.7 280.9 431.7 281.5 432.7 282.1 433.7 282.7 434.7 283.2 435.7 283.8 436.7 284.4 437.7 284.9 438.7 285.5 439.7 286.0 440.7 286.6 441.7 287.1 442.7 287.7 443.7 288.2 444.7 288.7 445.7 289.3 446.6 289.8 447.6 290.3 448.6 290.8 449.6 291.3 450.6 291.8 451.6 292.3 452.6 292.8 453.6 293.3 454.6 293.8 455.6 294.2 456.6 294.7 457.6 295.2 458.6 295.7 459.6 296.2 460.6 296.7 461.6 297.2 462.6 297.7 463.6 298.2 464.6 298.6 465.6 299.1 466.6 299.7 467.6 300.2 468.6 300.7 469.6 301.2 470.6 301.7 471.6 302.3 472.6 302.8 473.6 303.3 474.6 303.8 475.6 304.3 476.6 304.8 477.6 305.3 478.5 305.8 479.5 306.3 480.5 306.8 481.5 307.2 482.5 307.7 483.5 308.1 484.5 308.5 485.5 308.9 486.5 309.2 487.5 309.6 488.5 310.0 489.5 310.3 490.5 310.6 491.5 311.0 492.5 311.3 493.5 311.6" stroke="#ff1ad9" stroke-width="3.9" fill="none" stroke-linejoin="round" stroke-linecap="round"/>
<path d="M304.1 244.6 305.1 244.1 306.1 243.5 307.1 243.1 308.1 242.7 309.1 242.5 310.1 242.5 311.1 242.5 312.1 242.6 313.1 242.6 314.1 242.7 315.1 242.7 316.1 242.8 317.1 242.9 318.1 243.0 319.1 243.1 320.0 243.2 321.0 243.3 322.0 243.4 323.0 243.5 324.0 243.6 325.0 243.6 326.0 243.7 327.0 243.8 328.0 243.9 329.0 244.0 330.0 244.1 331.0 244.2 332.0 244.3 333.0 244.4 334.0 244.5 335.0 244.6 336.0 244.7 337.0 244.8 338.0 244.9 339.0 245.0 340.0 245.1 341.0 245.2 342.0 245.3 343.0 245.4 344.0 245.5 345.0 245.6 346.0 245.7 347.0 245.8 348.0 245.9 349.0 246.0 350.0 246.1 351.0 246.2 351.9 246.2 352.9 246.3 353.9 246.4 354.9 246.5 355.9 246.6 356.9 246.7 357.9 246.8 358.9 246.9 359.9 247.0 360.9 247.1 361.9 247.2 362.9 247.3 363.9 247.4 364.9 247.5 365.9 247.7 366.9 247.8 367.9 248.0 368.9 248.1 369.9 248.3 370.9 248.5 371.9 248.8 372.9 249.0 373.9 249.3 374.9 249.6 375.9 249.9 376.9 250.2 377.9 250.5 378.9 250.8 379.9 251.1 380.9 251.5 381.9 251.8 382.9 252.2 383.8 252.5 384.8 252.9 385.8 253.2 386.8 253.6 387.8 253.9 388.8 254.2 389.8 254.6 390.8 254.9 391.8 255.3 392.8 255.6 393.8 256.0 394.8 256.4 395.8 256.8 396.8 257.1 397.8 257.5 398.8 257.9 399.8 258.3 400.8 258.8 401.8 259.2 402.8 259.6 403.8 260.0 404.8 260.5 405.8 260.9 406.8 261.4 407.8 261.9 408.8 262.4 409.8 262.9 410.8 263.4 411.8 263.9 412.8 264.4 413.8 264.9 414.7 265.4 415.7 265.9 416.7 266.5 417.7 267.0 418.7 267.5 419.7 268.1 420.7 268.6 421.7 269.2 422.7 269.8 423.7 270.4 424.7 271.0 425.7 271.6 426.7 272.2 427.7 272.8 428.7 273.4 429.7 274.0 430.7 274.7 431.7 275.3 432.7 275.9 433.7 276.5 434.7 277.2 435.7 277.8 436.7 278.4 437.7 279.0 438.7 279.6 439.7 280.2 440.7 280.8 441.7 281.3 442.7 281.9 443.7 282.5 444.7 283.0 445.7 283.6 446.6 284.2 447.6 284.7 448.6 285.3 449.6 285.9 450.6 286.4 451.6 287.0 452.6 287.5 453.6 288.1 454.6 288.6 455.6 289.2 456.6 289.7 457.6 290.2 458.6 290.8 459.6 291.3 460.6 291.8 461.6 292.4 462.6 292.9 463.6 293.4 464.6 293.9 465.6 294.5 466.6 294.9 467.6 295.4 468.6 295.9 469.6 296.4 470.6 296.8 471.6 297.3 472.6 297.7 473.6 298.2 474.6 298.7 475.6 299.2 476.6 299.7 477.6 300.3 478.5 300.9 479.5 301.6 480.5 302.4 481.5 303.3 482.5 304.1 483.5 304.6 484.5 304.8 485.5 305.0 486.5 305.2 487.5 305.3 488.5 305.5 489.5 305.6 490.5 305.7 491.5 305.7 492.5 305.8 493.5 305.8" stroke="#2a5fe6" stroke-width="3.9" fill="none" stroke-linejoin="round" stroke-linecap="round"/>
<path d="M305.2 229.0 306.2 226.3 307.2 224.6 308.2 224.6 309.2 224.6 310.2 224.7 311.2 224.8 312.2 224.9 313.2 225.0 314.2 225.2 315.2 225.3 316.2 225.5 317.2 225.6 318.2 225.8 319.1 226.0 320.1 226.1 321.1 226.3 322.1 226.5 323.1 226.6 324.1 226.8 325.1 226.9 326.1 227.0 327.1 227.1 328.1 227.3 329.1 227.4 330.1 227.5 331.1 227.6 332.1 227.7 333.1 227.9 334.1 228.0 335.1 228.1 336.1 228.2 337.1 228.4 338.1 228.5 339.1 228.6 340.1 228.7 341.1 228.9 342.1 229.0 343.1 229.2 344.1 229.3 345.1 229.5 346.0 229.6 347.0 229.8 348.0 229.9 349.0 230.1 350.0 230.3 351.0 230.4 352.0 230.6 353.0 230.8 354.0 231.0 355.0 231.2 356.0 231.3 357.0 231.5 358.0 231.7 359.0 231.9 360.0 232.2 361.0 232.4 362.0 232.6 363.0 232.8 364.0 233.0 365.0 233.3 366.0 233.5 367.0 233.8 368.0 234.0 369.0 234.3 370.0 234.6 371.0 234.9 372.0 235.2 372.9 235.5 373.9 235.8 374.9 236.2 375.9 236.5 376.9 236.9 377.9 237.2 378.9 237.6 379.9 238.0 380.9 238.3 381.9 238.7 382.9 239.1 383.9 239.5 384.9 239.9 385.9 240.2 386.9 240.6 387.9 241.0 388.9 241.4 389.9 241.7 390.9 242.1 391.9 242.4 392.9 242.8 393.9 243.2 394.9 243.5 395.9 243.9 396.9 244.3 397.9 244.6 398.9 245.0 399.8 245.4 400.8 245.8 401.8 246.3 402.8 246.7 403.8 247.2 404.8 247.7 405.8 248.2 406.8 248.7 407.8 249.3 408.8 249.8 409.8 250.4 410.8 251.0 411.8 251.6 412.8 252.2 413.8 252.8 414.8 253.4 415.8 254.1 416.8 254.7 417.8 255.3 418.8 255.9 419.8 256.5 420.8 257.1 421.8 257.8 422.8 258.4 423.8 259.0 424.8 259.7 425.8 260.4 426.7 261.0 427.7 261.7 428.7 262.3 429.7 263.0 430.7 263.7 431.7 264.3 432.7 265.0 433.7 265.7 434.7 266.3 435.7 267.0 436.7 267.7 437.7 268.3 438.7 269.0 439.7 269.6 440.7 270.2 441.7 270.9 442.7 271.5 443.7 272.1 444.7 272.7 445.7 273.4 446.7 274.0 447.7 274.6 448.7 275.2 449.7 275.8 450.7 276.5 451.7 277.1 452.7 277.7 453.6 278.3 454.6 278.9 455.6 279.5 456.6 280.1 457.6 280.7 458.6 281.3 459.6 281.8 460.6 282.4 461.6 283.0 462.6 283.5 463.6 284.1 464.6 284.6 465.6 285.2 466.6 285.7 467.6 286.2 468.6 286.6 469.6 287.1 470.6 287.6 471.6 288.0 472.6 288.5 473.6 288.9 474.6 289.4 475.6 289.9 476.6 290.5 477.6 291.0 478.6 291.6 479.6 292.3 480.5 293.1 481.5 293.9 482.5 294.7 483.5 295.3 484.5 295.6 485.5 296.0 486.5 296.3 487.5 296.6 488.5 296.9 489.5 297.1 490.5 297.3 491.5 297.5 492.5 297.6 493.5 297.6" stroke="#7a3af0" stroke-width="3.9" fill="none" stroke-linejoin="round" stroke-linecap="round"/>
</g>
<path d="M336.3 252.2V237.7" stroke="#000" stroke-width="1.6"/><path d="M336.3 230.7l-2.6 9.2l2.6 -1.8l2.6 1.8z" fill="#000"/>
<path d="M410.9 296.4V282.5" stroke="#000" stroke-width="1.6"/><path d="M410.9 275.5l-2.6 9.2l2.6 -1.8l2.6 1.8z" fill="#000"/>
<clipPath id="cf"><rect x="559.6" y="204.6" width="186.79999999999995" height="145.1"/></clipPath>
<g clip-path="url(#cf)">
<path d="M561.3 299.9 562.3 299.8 563.3 299.6 564.3 299.5 565.3 299.4 566.3 299.2 567.3 299.1 568.3 299.0 569.3 298.9 570.3 298.7 571.3 298.6 572.3 298.5 573.3 298.4 574.3 298.3 575.3 298.2 576.3 298.1 577.3 298.0 578.3 297.9 579.3 297.8 580.3 297.8 581.3 297.7 582.3 297.6 583.3 297.5 584.3 297.5 585.3 297.4 586.3 297.3 587.3 297.2 588.3 297.2 589.3 297.1 590.3 297.0 591.3 297.0 592.2 296.9 593.2 296.8 594.2 296.8 595.2 296.7 596.2 296.7 597.2 296.6 598.2 296.6 599.2 296.5 600.2 296.5 601.2 296.5 602.2 296.4 603.2 296.4 604.2 296.4 605.2 296.4 606.2 296.4 607.2 296.4 608.2 296.4 609.2 296.4 610.2 296.5 611.2 296.5 612.2 296.5 613.2 296.6 614.2 296.6 615.2 296.7 616.2 296.7 617.2 296.8 618.2 296.8 619.2 296.9 620.2 297.0 621.2 297.0 622.2 297.1 623.2 297.2 624.2 297.3 625.2 297.3 626.2 297.4 627.2 297.5 628.2 297.5 629.2 297.6 630.2 297.7 631.2 297.8 632.2 297.9 633.2 298.0 634.2 298.1 635.2 298.2 636.2 298.3 637.2 298.4 638.2 298.5 639.2 298.6 640.2 298.7 641.2 298.9 642.2 299.0 643.2 299.1 644.2 299.3 645.2 299.4 646.2 299.6 647.2 299.7 648.2 299.9 649.2 300.1 650.2 300.2 651.2 300.4 652.2 300.6 653.2 300.8 654.1 300.9 655.1 301.1 656.1 301.3 657.1 301.6 658.1 301.8 659.1 302.1 660.1 302.4 661.1 302.6 662.1 303.0 663.1 303.3 664.1 303.6 665.1 303.9 666.1 304.3 667.1 304.6 668.1 304.9 669.1 305.3 670.1 305.6 671.1 305.9 672.1 306.2 673.1 306.5 674.1 306.8 675.1 307.1 676.1 307.5 677.1 307.8 678.1 308.1 679.1 308.4 680.1 308.7 681.1 309.0 682.1 309.3 683.1 309.6 684.1 309.9 685.1 310.2 686.1 310.5 687.1 310.8 688.1 311.1 689.1 311.4 690.1 311.7 691.1 312.0 692.1 312.3 693.1 312.6 694.1 312.9 695.1 313.2 696.1 313.5 697.1 313.7 698.1 314.0 699.1 314.3 700.1 314.6 701.1 314.8 702.1 315.1 703.1 315.4 704.1 315.7 705.1 316.0 706.1 316.2 707.1 316.5 708.1 316.8 709.1 317.0 710.1 317.3 711.1 317.5 712.1 317.8 713.1 318.0 714.1 318.3 715.1 318.5 716.0 318.7 717.0 318.9 718.0 319.1 719.0 319.3 720.0 319.5 721.0 319.7 722.0 319.9 723.0 320.0 724.0 320.2 725.0 320.4 726.0 320.5 727.0 320.7 728.0 320.8 729.0 321.0 730.0 321.2 731.0 321.3 732.0 321.4 733.0 321.6 734.0 321.7 735.0 321.9 736.0 322.0 737.0 322.1 738.0 322.2 739.0 322.3 740.0 322.5 741.0 322.6 742.0 322.7 743.0 322.8 744.0 322.8 745.0 322.9 746.0 323.0" stroke="#3cec4a" stroke-width="3.9" fill="none" stroke-linejoin="round" stroke-linecap="round"/>
<path d="M561.3 254.0 562.3 253.9 563.3 253.7 564.3 253.6 565.3 253.5 566.3 253.4 567.3 253.2 568.3 253.1 569.3 253.0 570.3 252.9 571.3 252.8 572.3 252.7 573.3 252.7 574.3 252.6 575.3 252.5 576.3 252.4 577.3 252.3 578.3 252.3 579.3 252.2 580.3 252.1 581.3 252.1 582.3 252.0 583.3 252.0 584.3 251.9 585.3 251.9 586.3 251.8 587.3 251.8 588.3 251.8 589.3 251.7 590.3 251.7 591.3 251.7 592.2 251.6 593.2 251.6 594.2 251.6 595.2 251.6 596.2 251.6 597.2 251.6 598.2 251.5 599.2 251.5 600.2 251.5 601.2 251.5 602.2 251.5 603.2 251.5 604.2 251.5 605.2 251.5 606.2 251.5 607.2 251.5 608.2 251.5 609.2 251.5 610.2 251.6 611.2 251.6 612.2 251.6 613.2 251.7 614.2 251.7 615.2 251.8 616.2 251.8 617.2 251.9 618.2 251.9 619.2 252.0 620.2 252.1 621.2 252.2 622.2 252.2 623.2 252.3 624.2 252.4 625.2 252.5 626.2 252.6 627.2 252.7 628.2 252.8 629.2 253.0 630.2 253.1 631.2 253.2 632.2 253.3 633.2 253.5 634.2 253.6 635.2 253.8 636.2 253.9 637.2 254.1 638.2 254.2 639.2 254.4 640.2 254.6 641.2 254.7 642.2 254.9 643.2 255.1 644.2 255.3 645.2 255.4 646.2 255.6 647.2 255.8 648.2 256.0 649.2 256.2 650.2 256.4 651.2 256.7 652.2 256.9 653.2 257.1 654.1 257.3 655.1 257.5 656.1 257.8 657.1 258.2 658.1 258.7 659.1 259.2 660.1 259.8 661.1 260.4 662.1 261.1 663.1 261.8 664.1 262.5 665.1 263.3 666.1 264.1 667.1 264.8 668.1 265.6 669.1 266.3 670.1 267.0 671.1 267.7 672.1 268.3 673.1 268.9 674.1 269.4 675.1 270.0 676.1 270.5 677.1 271.0 678.1 271.5 679.1 272.0 680.1 272.5 681.1 273.0 682.1 273.5 683.1 274.0 684.1 274.5 685.1 275.0 686.1 275.4 687.1 275.9 688.1 276.3 689.1 276.8 690.1 277.2 691.1 277.6 692.1 278.1 693.1 278.5 694.1 278.9 695.1 279.2 696.1 279.6 697.1 280.0 698.1 280.3 699.1 280.7 700.1 281.0 701.1 281.3 702.1 281.6 703.1 281.9 704.1 282.2 705.1 282.5 706.1 282.8 707.1 283.1 708.1 283.4 709.1 283.7 710.1 284.0 711.1 284.2 712.1 284.5 713.1 284.8 714.1 285.1 715.1 285.3 716.0 285.6 717.0 285.9 718.0 286.2 719.0 286.5 720.0 286.8 721.0 287.1 722.0 287.4 723.0 287.7 724.0 288.0 725.0 288.4 726.0 288.7 727.0 289.0 728.0 289.3 729.0 289.6 730.0 289.9 731.0 290.2 732.0 290.5 733.0 290.9 734.0 291.2 735.0 291.5 736.0 291.8 737.0 292.1 738.0 292.4 739.0 292.8 740.0 293.1 741.0 293.4 742.0 293.7 743.0 294.0 744.0 294.4 745.0 294.7 746.0 295.0" stroke="#8cf53a" stroke-width="3.6" fill="none" stroke-linejoin="round" stroke-linecap="round"/>
<path d="M561.3 270.8 562.3 265.3 563.3 260.9 564.3 260.1 565.3 259.8 566.3 259.6 567.3 259.4 568.3 259.2 569.3 259.1 570.3 258.9 571.3 258.8 572.3 258.7 573.3 258.7 574.3 258.6 575.3 258.5 576.3 258.5 577.3 258.4 578.3 258.3 579.3 258.3 580.3 258.2 581.3 258.1 582.3 258.0 583.3 257.9 584.3 257.8 585.3 257.6 586.3 257.5 587.3 257.4 588.3 257.2 589.3 257.1 590.3 257.0 591.3 256.8 592.2 256.7 593.2 256.6 594.2 256.4 595.2 256.3 596.2 256.2 597.2 256.1 598.2 256.0 599.2 255.9 600.2 255.8 601.2 255.7 602.2 255.7 603.2 255.6 604.2 255.6 605.2 255.6 606.2 255.6 607.2 255.6 608.2 255.6 609.2 255.6 610.2 255.6 611.2 255.6 612.2 255.6 613.2 255.6 614.2 255.6 615.2 255.6 616.2 255.6 617.2 255.6 618.2 255.6 619.2 255.6 620.2 255.6 621.2 255.6 622.2 255.6 623.2 255.6 624.2 255.6 625.2 255.6 626.2 255.6 627.2 255.6 628.2 255.6 629.2 255.6 630.2 255.6 631.2 255.7 632.2 255.8 633.2 255.9 634.2 256.0 635.2 256.2 636.2 256.4 637.2 256.6 638.2 256.8 639.2 257.1 640.2 257.3 641.2 257.6 642.2 257.9 643.2 258.2 644.2 258.5 645.2 258.8 646.2 259.2 647.2 259.5 648.2 259.8 649.2 260.2 650.2 260.5 651.2 260.9 652.2 261.2 653.2 261.6 654.1 261.9 655.1 262.2 656.1 262.6 657.1 262.9 658.1 263.3 659.1 263.6 660.1 264.0 661.1 264.4 662.1 264.8 663.1 265.2 664.1 265.7 665.1 266.1 666.1 266.7 667.1 267.2 668.1 267.8 669.1 268.5 670.1 269.4 671.1 270.4 672.1 271.5 673.1 272.6 674.1 273.6 675.1 274.7 676.1 275.8 677.1 276.9 678.1 277.9 679.1 278.9 680.1 279.7 681.1 280.3 682.1 281.0 683.1 281.6 684.1 282.2 685.1 282.7 686.1 283.2 687.1 283.7 688.1 284.2 689.1 284.7 690.1 285.1 691.1 285.5 692.1 286.0 693.1 286.4 694.1 286.8 695.1 287.3 696.1 287.8 697.1 288.2 698.1 288.7 699.1 289.2 700.1 289.6 701.1 290.1 702.1 290.6 703.1 291.0 704.1 291.5 705.1 291.9 706.1 292.4 707.1 292.8 708.1 293.3 709.1 293.7 710.1 294.2 711.1 294.6 712.1 295.1 713.1 295.5 714.1 295.9 715.1 296.4 716.0 296.8 717.0 297.2 718.0 297.7 719.0 298.1 720.0 298.5 721.0 298.9 722.0 299.4 723.0 299.8 724.0 300.2 725.0 300.6 726.0 301.0 727.0 301.5 728.0 301.9 729.0 302.3 730.0 302.7 731.0 303.1 732.0 303.5 733.0 303.9 734.0 304.3 735.0 304.7 736.0 305.1 737.0 305.5 738.0 305.9 739.0 306.3 740.0 306.7 741.0 307.1 742.0 307.5 743.0 307.9 744.0 308.2 745.0 308.6 746.0 309.0" stroke="#48eea8" stroke-width="3.9" fill="none" stroke-linejoin="round" stroke-linecap="round"/>
<path d="M561.3 252.1 562.3 252.0 563.3 252.0 564.3 251.9 565.3 251.8 566.3 251.7 567.3 251.7 568.3 251.6 569.3 251.5 570.3 251.5 571.3 251.4 572.3 251.3 573.3 251.3 574.3 251.2 575.3 251.2 576.3 251.1 577.3 251.0 578.3 251.0 579.3 250.9 580.3 250.9 581.3 250.8 582.3 250.7 583.3 250.7 584.3 250.6 585.3 250.6 586.3 250.5 587.3 250.4 588.3 250.4 589.3 250.3 590.3 250.2 591.3 250.2 592.2 250.1 593.2 250.0 594.2 250.0 595.2 249.9 596.2 249.9 597.2 249.8 598.2 249.8 599.2 249.8 600.2 249.7 601.2 249.7 602.2 249.7 603.2 249.7 604.2 249.7 605.2 249.7 606.2 249.7 607.2 249.7 608.2 249.8 609.2 249.8 610.2 249.8 611.2 249.9 612.2 249.9 613.2 250.0 614.2 250.0 615.2 250.1 616.2 250.1 617.2 250.2 618.2 250.3 619.2 250.3 620.2 250.4 621.2 250.5 622.2 250.5 623.2 250.6 624.2 250.7 625.2 250.8 626.2 250.8 627.2 250.9 628.2 251.0 629.2 251.1 630.2 251.1 631.2 251.2 632.2 251.3 633.2 251.4 634.2 251.5 635.2 251.6 636.2 251.8 637.2 251.9 638.2 252.0 639.2 252.1 640.2 252.2 641.2 252.4 642.2 252.5 643.2 252.7 644.2 252.8 645.2 253.0 646.2 253.1 647.2 253.3 648.2 253.5 649.2 253.6 650.2 253.8 651.2 254.0 652.2 254.2 653.2 254.4 654.1 254.6 655.1 254.8 656.1 255.1 657.1 255.4 658.1 255.7 659.1 256.1 660.1 256.5 661.1 256.9 662.1 257.4 663.1 257.9 664.1 258.3 665.1 258.8 666.1 259.3 667.1 259.8 668.1 260.3 669.1 260.7 670.1 261.2 671.1 261.6 672.1 261.9 673.1 262.3 674.1 262.6 675.1 263.0 676.1 263.3 677.1 263.6 678.1 263.9 679.1 264.2 680.1 264.5 681.1 264.8 682.1 265.1 683.1 265.4 684.1 265.7 685.1 266.0 686.1 266.3 687.1 266.5 688.1 266.8 689.1 267.1 690.1 267.4 691.1 267.7 692.1 268.0 693.1 268.3 694.1 268.5 695.1 268.8 696.1 269.1 697.1 269.4 698.1 269.7 699.1 270.0 700.1 270.3 701.1 270.6 702.1 270.9 703.1 271.2 704.1 271.5 705.1 271.8 706.1 272.1 707.1 272.4 708.1 272.7 709.1 273.0 710.1 273.3 711.1 273.6 712.1 273.9 713.1 274.2 714.1 274.5 715.1 274.8 716.0 275.0 717.0 275.3 718.0 275.6 719.0 275.9 720.0 276.2 721.0 276.5 722.0 276.8 723.0 277.1 724.0 277.4 725.0 277.7 726.0 278.0 727.0 278.3 728.0 278.6 729.0 278.9 730.0 279.2 731.0 279.5 732.0 279.8 733.0 280.1 734.0 280.4 735.0 280.7 736.0 281.0 737.0 281.3 738.0 281.6 739.0 281.9 740.0 282.2 741.0 282.5 742.0 282.8 743.0 283.1 744.0 283.4 745.0 283.7 746.0 284.0" stroke="#d6e61e" stroke-width="3.9" fill="none" stroke-linejoin="round" stroke-linecap="round"/>
<path d="M561.3 242.8 562.3 242.7 563.3 242.6 564.3 242.5 565.3 242.4 566.3 242.2 567.3 242.1 568.3 242.0 569.3 241.9 570.3 241.8 571.3 241.7 572.3 241.6 573.3 241.5 574.3 241.4 575.3 241.3 576.3 241.2 577.3 241.1 578.3 241.0 579.3 240.9 580.3 240.8 581.3 240.7 582.3 240.6 583.3 240.5 584.3 240.4 585.3 240.3 586.3 240.2 587.3 240.1 588.3 239.9 589.3 239.8 590.3 239.7 591.3 239.6 592.2 239.5 593.2 239.4 594.2 239.3 595.2 239.2 596.2 239.1 597.2 239.0 598.2 239.0 599.2 238.9 600.2 238.9 601.2 238.8 602.2 238.8 603.2 238.8 604.2 238.8 605.2 238.8 606.2 238.8 607.2 238.8 608.2 238.8 609.2 238.9 610.2 238.9 611.2 238.9 612.2 239.0 613.2 239.0 614.2 239.0 615.2 239.1 616.2 239.1 617.2 239.1 618.2 239.2 619.2 239.2 620.2 239.3 621.2 239.3 622.2 239.4 623.2 239.5 624.2 239.5 625.2 239.6 626.2 239.6 627.2 239.7 628.2 239.8 629.2 239.9 630.2 240.0 631.2 240.1 632.2 240.2 633.2 240.4 634.2 240.5 635.2 240.7 636.2 240.9 637.2 241.0 638.2 241.2 639.2 241.4 640.2 241.6 641.2 241.8 642.2 242.0 643.2 242.3 644.2 242.5 645.2 242.7 646.2 242.9 647.2 243.2 648.2 243.4 649.2 243.6 650.2 243.9 651.2 244.1 652.2 244.3 653.2 244.6 654.1 244.8 655.1 245.0 656.1 245.3 657.1 245.5 658.1 245.7 659.1 246.0 660.1 246.2 661.1 246.5 662.1 246.8 663.1 247.1 664.1 247.4 665.1 247.7 666.1 248.0 667.1 248.4 668.1 248.7 669.1 249.1 670.1 249.6 671.1 250.1 672.1 250.7 673.1 251.4 674.1 252.5 675.1 253.6 676.1 254.8 677.1 256.0 678.1 256.9 679.1 257.6 680.1 258.0 681.1 258.4 682.1 258.8 683.1 259.1 684.1 259.4 685.1 259.6 686.1 259.9 687.1 260.1 688.1 260.3 689.1 260.6 690.1 260.8 691.1 261.0 692.1 261.3 693.1 261.5 694.1 261.8 695.1 262.2 696.1 262.5 697.1 262.9 698.1 263.2 699.1 263.6 700.1 264.0 701.1 264.4 702.1 264.8 703.1 265.3 704.1 265.7 705.1 266.1 706.1 266.5 707.1 267.0 708.1 267.4 709.1 267.8 710.1 268.2 711.1 268.7 712.1 269.1 713.1 269.5 714.1 269.9 715.1 270.2 716.0 270.6 717.0 271.0 718.0 271.3 719.0 271.6 720.0 272.0 721.0 272.3 722.0 272.7 723.0 273.0 724.0 273.3 725.0 273.7 726.0 274.0 727.0 274.3 728.0 274.6 729.0 274.9 730.0 275.3 731.0 275.6 732.0 275.9 733.0 276.2 734.0 276.5 735.0 276.8 736.0 277.1 737.0 277.4 738.0 277.6 739.0 277.9 740.0 278.2 741.0 278.5 742.0 278.8 743.0 279.0 744.0 279.3 745.0 279.5 746.0 279.8" stroke="#ff6a2a" stroke-width="3.9" fill="none" stroke-linejoin="round" stroke-linecap="round"/>
<path d="M561.2 245.2 562.2 236.4 563.2 236.3 564.2 236.3 565.2 236.3 566.2 236.3 567.2 236.3 568.2 236.3 569.2 236.3 570.2 236.3 571.2 236.3 572.2 236.3 573.2 236.3 574.2 236.3 575.2 236.3 576.2 236.3 577.2 236.3 578.2 236.3 579.2 236.3 580.2 236.3 581.2 236.3 582.2 236.3 583.2 236.3 584.2 236.2 585.2 236.2 586.2 236.2 587.2 236.1 588.2 236.0 589.2 236.0 590.2 235.9 591.2 235.8 592.2 235.8 593.2 235.7 594.2 235.6 595.2 235.5 596.2 235.5 597.2 235.4 598.2 235.4 599.2 235.3 600.2 235.3 601.2 235.2 602.2 235.2 603.2 235.2 604.2 235.2 605.2 235.2 606.2 235.2 607.2 235.2 608.1 235.3 609.1 235.3 610.1 235.3 611.1 235.4 612.1 235.4 613.1 235.5 614.1 235.5 615.1 235.6 616.1 235.6 617.1 235.7 618.1 235.8 619.1 235.8 620.1 235.9 621.1 236.0 622.1 236.0 623.1 236.1 624.1 236.2 625.1 236.3 626.1 236.3 627.1 236.4 628.1 236.5 629.1 236.6 630.1 236.7 631.1 236.8 632.1 236.9 633.1 237.0 634.1 237.1 635.1 237.3 636.1 237.4 637.1 237.6 638.1 237.7 639.1 237.9 640.1 238.0 641.1 238.2 642.1 238.4 643.1 238.5 644.1 238.7 645.1 238.9 646.1 239.1 647.1 239.3 648.1 239.5 649.1 239.7 650.1 239.9 651.1 240.1 652.1 240.3 653.1 240.6 654.1 240.8 655.1 241.0 656.1 241.3 657.1 241.6 658.1 241.9 659.1 242.2 660.1 242.6 661.1 242.9 662.1 243.3 663.1 243.7 664.1 244.2 665.1 244.6 666.1 245.0 667.1 245.4 668.1 245.8 669.1 246.2 670.1 246.7 671.1 247.0 672.1 247.4 673.1 247.8 674.1 248.1 675.1 248.5 676.1 248.9 677.1 249.2 678.1 249.6 679.1 249.9 680.1 250.3 681.1 250.6 682.1 251.0 683.1 251.3 684.1 251.7 685.1 252.0 686.1 252.3 687.1 252.7 688.1 253.0 689.1 253.4 690.1 253.7 691.1 254.1 692.1 254.4 693.1 254.8 694.1 255.1 695.1 255.5 696.1 255.8 697.1 256.2 698.1 256.5 699.1 256.9 700.0 257.3 701.0 257.6 702.0 258.0 703.0 258.4 704.0 258.7 705.0 259.1 706.0 259.4 707.0 259.8 708.0 260.2 709.0 260.5 710.0 260.9 711.0 261.2 712.0 261.5 713.0 261.9 714.0 262.2 715.0 262.5 716.0 262.8 717.0 263.1 718.0 263.4 719.0 263.7 720.0 264.0 721.0 264.3 722.0 264.6 723.0 264.9 724.0 265.2 725.0 265.5 726.0 265.8 727.0 266.0 728.0 266.3 729.0 266.6 730.0 266.8 731.0 267.1 732.0 267.4 733.0 267.6 734.0 267.9 735.0 268.1 736.0 268.4 737.0 268.6 738.0 268.9 739.0 269.1 740.0 269.4 741.0 269.6 742.0 269.8 743.0 270.0 744.0 270.3 745.0 270.5 746.0 270.7" stroke="#3ec2f5" stroke-width="3.9" fill="none" stroke-linejoin="round" stroke-linecap="round"/>
<path d="M561.2 211.8 562.2 209.0 563.2 206.9 564.2 206.7 565.2 206.7 566.2 206.7 567.2 206.7 568.2 206.7 569.2 206.8 570.2 206.8 571.2 206.8 572.2 206.9 573.2 206.9 574.2 206.9 575.2 207.0 576.2 207.0 577.2 207.1 578.2 207.1 579.2 207.2 580.2 207.2 581.2 207.3 582.2 207.4 583.2 207.6 584.2 207.9 585.2 208.2 586.2 208.4 587.2 208.7 588.2 208.8 589.2 208.9 590.2 208.9 591.2 208.8 592.2 208.7 593.2 208.6 594.2 208.4 595.2 208.3 596.2 208.1 597.2 208.0 598.2 207.8 599.2 207.6 600.2 207.5 601.2 207.4 602.2 207.3 603.2 207.3 604.2 207.3 605.2 207.3 606.2 207.4 607.2 207.4 608.1 207.5 609.1 207.5 610.1 207.6 611.1 207.7 612.1 207.8 613.1 207.9 614.1 208.0 615.1 208.1 616.1 208.3 617.1 208.4 618.1 208.5 619.1 208.7 620.1 208.8 621.1 208.9 622.1 209.1 623.1 209.2 624.1 209.4 625.1 209.5 626.1 209.6 627.1 209.8 628.1 209.9 629.1 210.1 630.1 210.2 631.1 210.4 632.1 210.5 633.1 210.7 634.1 210.9 635.1 211.1 636.1 211.2 637.1 211.4 638.1 211.6 639.1 211.8 640.1 212.0 641.1 212.2 642.1 212.4 643.1 212.6 644.1 212.9 645.1 213.1 646.1 213.3 647.1 213.5 648.1 213.8 649.1 214.0 650.1 214.2 651.1 214.5 652.1 214.7 653.1 215.0 654.1 215.3 655.1 215.5 656.1 215.8 657.1 216.1 658.1 216.4 659.1 216.7 660.1 217.1 661.1 217.4 662.1 217.8 663.1 218.2 664.1 218.6 665.1 219.0 666.1 219.4 667.1 219.7 668.1 220.1 669.1 220.5 670.1 220.9 671.1 221.3 672.1 221.7 673.1 222.1 674.1 222.5 675.1 222.9 676.1 223.3 677.1 223.7 678.1 224.1 679.1 224.5 680.1 224.9 681.1 225.3 682.1 225.7 683.1 226.2 684.1 226.6 685.1 227.0 686.1 227.4 687.1 227.8 688.1 228.2 689.1 228.6 690.1 229.0 691.1 229.4 692.1 229.8 693.1 230.2 694.1 230.6 695.1 231.0 696.1 231.3 697.1 231.7 698.1 232.1 699.1 232.5 700.0 232.8 701.0 233.2 702.0 233.6 703.0 234.0 704.0 234.3 705.0 234.7 706.0 235.0 707.0 235.4 708.0 235.7 709.0 236.1 710.0 236.4 711.0 236.8 712.0 237.1 713.0 237.4 714.0 237.7 715.0 238.0 716.0 238.3 717.0 238.6 718.0 238.9 719.0 239.2 720.0 239.5 721.0 239.8 722.0 240.0 723.0 240.3 724.0 240.6 725.0 240.9 726.0 241.1 727.0 241.4 728.0 241.6 729.0 241.9 730.0 242.1 731.0 242.4 732.0 242.6 733.0 242.8 734.0 243.0 735.0 243.3 736.0 243.5 737.0 243.7 738.0 243.9 739.0 244.1 740.0 244.2 741.0 244.4 742.0 244.6 743.0 244.8 744.0 244.9 745.0 245.1 746.0 245.2" stroke="#7a3af0" stroke-width="3.9" fill="none" stroke-linejoin="round" stroke-linecap="round"/>
</g>
<path d="M589.3 232.6V217.8" stroke="#000" stroke-width="1.6"/><path d="M589.3 210.8l-2.6 9.2l2.6 -1.8l2.6 1.8z" fill="#000"/>
<path d="M676.2 295V281.2" stroke="#000" stroke-width="1.6"/><path d="M676.2 274.2l-2.6 9.2l2.6 -1.8l2.6 1.8z" fill="#000"/>
<path d="M54.30 149.50v-2.6M54.30 6.70v2.6M101.90 149.50v-2.6M101.90 6.70v2.6M149.50 149.50v-2.6M149.50 6.70v2.6M197.10 149.50v-2.6M197.10 6.70v2.6M244.70 149.50v-2.6M244.70 6.70v2.6M54.30 149.50v-1.4M54.30 6.70v1.4M63.82 149.50v-1.4M63.82 6.70v1.4M73.34 149.50v-1.4M73.34 6.70v1.4M82.86 149.50v-1.4M82.86 6.70v1.4M92.38 149.50v-1.4M92.38 6.70v1.4M101.90 149.50v-1.4M101.90 6.70v1.4M111.42 149.50v-1.4M111.42 6.70v1.4M120.94 149.50v-1.4M120.94 6.70v1.4M130.46 149.50v-1.4M130.46 6.70v1.4M139.98 149.50v-1.4M139.98 6.70v1.4M149.50 149.50v-1.4M149.50 6.70v1.4M159.02 149.50v-1.4M159.02 6.70v1.4M168.54 149.50v-1.4M168.54 6.70v1.4M178.06 149.50v-1.4M178.06 6.70v1.4M187.58 149.50v-1.4M187.58 6.70v1.4M197.10 149.50v-1.4M197.10 6.70v1.4M206.62 149.50v-1.4M206.62 6.70v1.4M216.14 149.50v-1.4M216.14 6.70v1.4M225.66 149.50v-1.4M225.66 6.70v1.4M235.18 149.50v-1.4M235.18 6.70v1.4M244.70 149.50v-1.4M244.70 6.70v1.4M54.30 137.60h2.6M244.70 137.60h-2.6M54.30 106.90h2.6M244.70 106.90h-2.6M54.30 76.20h2.6M244.70 76.20h-2.6M54.30 45.50h2.6M244.70 45.50h-2.6M54.30 14.80h2.6M244.70 14.80h-2.6M54.30 137.60h1.4M244.70 137.60h-1.4M54.30 122.25h1.4M244.70 122.25h-1.4M54.30 106.90h1.4M244.70 106.90h-1.4M54.30 91.55h1.4M244.70 91.55h-1.4M54.30 76.20h1.4M244.70 76.20h-1.4M54.30 60.85h1.4M244.70 60.85h-1.4M54.30 45.50h1.4M244.70 45.50h-1.4M54.30 30.15h1.4M244.70 30.15h-1.4M54.30 14.80h1.4M244.70 14.80h-1.4" stroke="#3a3a3a" stroke-width="1" fill="none"/>
<rect x="54.3" y="6.7" width="190.39999999999998" height="142.8" stroke="#3a3a3a" stroke-width="1.3" fill="none"/>
<path d="M302.60 149.30v-2.6M302.60 6.70v2.6M334.57 149.30v-2.6M334.57 6.70v2.6M366.53 149.30v-2.6M366.53 6.70v2.6M398.50 149.30v-2.6M398.50 6.70v2.6M430.47 149.30v-2.6M430.47 6.70v2.6M462.43 149.30v-2.6M462.43 6.70v2.6M494.40 149.30v-2.6M494.40 6.70v2.6M302.60 149.30v-1.4M302.60 6.70v1.4M308.99 149.30v-1.4M308.99 6.70v1.4M315.39 149.30v-1.4M315.39 6.70v1.4M321.78 149.30v-1.4M321.78 6.70v1.4M328.17 149.30v-1.4M328.17 6.70v1.4M334.57 149.30v-1.4M334.57 6.70v1.4M340.96 149.30v-1.4M340.96 6.70v1.4M347.35 149.30v-1.4M347.35 6.70v1.4M353.75 149.30v-1.4M353.75 6.70v1.4M360.14 149.30v-1.4M360.14 6.70v1.4M366.53 149.30v-1.4M366.53 6.70v1.4M372.93 149.30v-1.4M372.93 6.70v1.4M379.32 149.30v-1.4M379.32 6.70v1.4M385.71 149.30v-1.4M385.71 6.70v1.4M392.11 149.30v-1.4M392.11 6.70v1.4M398.50 149.30v-1.4M398.50 6.70v1.4M404.89 149.30v-1.4M404.89 6.70v1.4M411.29 149.30v-1.4M411.29 6.70v1.4M417.68 149.30v-1.4M417.68 6.70v1.4M424.07 149.30v-1.4M424.07 6.70v1.4M430.47 149.30v-1.4M430.47 6.70v1.4M436.86 149.30v-1.4M436.86 6.70v1.4M443.25 149.30v-1.4M443.25 6.70v1.4M449.65 149.30v-1.4M449.65 6.70v1.4M456.04 149.30v-1.4M456.04 6.70v1.4M462.43 149.30v-1.4M462.43 6.70v1.4M468.83 149.30v-1.4M468.83 6.70v1.4M475.22 149.30v-1.4M475.22 6.70v1.4M481.61 149.30v-1.4M481.61 6.70v1.4M488.01 149.30v-1.4M488.01 6.70v1.4M494.40 149.30v-1.4M494.40 6.70v1.4M302.60 135.30h2.6M494.40 135.30h-2.6M302.60 106.62h2.6M494.40 106.62h-2.6M302.60 77.95h2.6M494.40 77.95h-2.6M302.60 49.28h2.6M494.40 49.28h-2.6M302.60 20.60h2.6M494.40 20.60h-2.6M302.60 135.30h1.4M494.40 135.30h-1.4M302.60 120.96h1.4M494.40 120.96h-1.4M302.60 106.62h1.4M494.40 106.62h-1.4M302.60 92.29h1.4M494.40 92.29h-1.4M302.60 77.95h1.4M494.40 77.95h-1.4M302.60 63.61h1.4M494.40 63.61h-1.4M302.60 49.28h1.4M494.40 49.28h-1.4M302.60 34.94h1.4M494.40 34.94h-1.4M302.60 20.60h1.4M494.40 20.60h-1.4" stroke="#3a3a3a" stroke-width="1" fill="none"/>
<rect x="302.6" y="6.7" width="191.79999999999995" height="142.60000000000002" stroke="#3a3a3a" stroke-width="1.3" fill="none"/>
<path d="M559.60 146.20v-2.6M559.60 7.20v2.6M606.38 146.20v-2.6M606.38 7.20v2.6M653.15 146.20v-2.6M653.15 7.20v2.6M699.93 146.20v-2.6M699.93 7.20v2.6M746.70 146.20v-2.6M746.70 7.20v2.6M559.60 146.20v-1.4M559.60 7.20v1.4M568.96 146.20v-1.4M568.96 7.20v1.4M578.31 146.20v-1.4M578.31 7.20v1.4M587.67 146.20v-1.4M587.67 7.20v1.4M597.02 146.20v-1.4M597.02 7.20v1.4M606.38 146.20v-1.4M606.38 7.20v1.4M615.73 146.20v-1.4M615.73 7.20v1.4M625.09 146.20v-1.4M625.09 7.20v1.4M634.44 146.20v-1.4M634.44 7.20v1.4M643.80 146.20v-1.4M643.80 7.20v1.4M653.15 146.20v-1.4M653.15 7.20v1.4M662.50 146.20v-1.4M662.50 7.20v1.4M671.86 146.20v-1.4M671.86 7.20v1.4M681.22 146.20v-1.4M681.22 7.20v1.4M690.57 146.20v-1.4M690.57 7.20v1.4M699.93 146.20v-1.4M699.93 7.20v1.4M709.28 146.20v-1.4M709.28 7.20v1.4M718.63 146.20v-1.4M718.63 7.20v1.4M727.99 146.20v-1.4M727.99 7.20v1.4M737.35 146.20v-1.4M737.35 7.20v1.4M746.70 146.20v-1.4M746.70 7.20v1.4M559.60 146.20h2.6M746.70 146.20h-2.6M559.60 111.45h2.6M746.70 111.45h-2.6M559.60 76.70h2.6M746.70 76.70h-2.6M559.60 41.95h2.6M746.70 41.95h-2.6M559.60 7.20h2.6M746.70 7.20h-2.6M559.60 146.20h1.4M746.70 146.20h-1.4M559.60 128.82h1.4M746.70 128.82h-1.4M559.60 111.45h1.4M746.70 111.45h-1.4M559.60 94.08h1.4M746.70 94.08h-1.4M559.60 76.70h1.4M746.70 76.70h-1.4M559.60 59.33h1.4M746.70 59.33h-1.4M559.60 41.95h1.4M746.70 41.95h-1.4M559.60 24.57h1.4M746.70 24.57h-1.4M559.60 7.20h1.4M746.70 7.20h-1.4" stroke="#3a3a3a" stroke-width="1" fill="none"/>
<rect x="559.6" y="7.2" width="187.10000000000002" height="139.0" stroke="#3a3a3a" stroke-width="1.3" fill="none"/>
<path d="M54.60 348.50v-2.6M54.60 208.00v2.6M102.12 348.50v-2.6M102.12 208.00v2.6M149.65 348.50v-2.6M149.65 208.00v2.6M197.17 348.50v-2.6M197.17 208.00v2.6M244.70 348.50v-2.6M244.70 208.00v2.6M54.60 348.50v-1.4M54.60 208.00v1.4M64.11 348.50v-1.4M64.11 208.00v1.4M73.61 348.50v-1.4M73.61 208.00v1.4M83.11 348.50v-1.4M83.11 208.00v1.4M92.62 348.50v-1.4M92.62 208.00v1.4M102.12 348.50v-1.4M102.12 208.00v1.4M111.63 348.50v-1.4M111.63 208.00v1.4M121.13 348.50v-1.4M121.13 208.00v1.4M130.64 348.50v-1.4M130.64 208.00v1.4M140.15 348.50v-1.4M140.15 208.00v1.4M149.65 348.50v-1.4M149.65 208.00v1.4M159.16 348.50v-1.4M159.16 208.00v1.4M168.66 348.50v-1.4M168.66 208.00v1.4M178.16 348.50v-1.4M178.16 208.00v1.4M187.67 348.50v-1.4M187.67 208.00v1.4M197.17 348.50v-1.4M197.17 208.00v1.4M206.68 348.50v-1.4M206.68 208.00v1.4M216.18 348.50v-1.4M216.18 208.00v1.4M225.69 348.50v-1.4M225.69 208.00v1.4M235.19 348.50v-1.4M235.19 208.00v1.4M244.70 348.50v-1.4M244.70 208.00v1.4M54.60 320.60h2.6M244.70 320.60h-2.6M54.60 288.40h2.6M244.70 288.40h-2.6M54.60 256.20h2.6M244.70 256.20h-2.6M54.60 224.00h2.6M244.70 224.00h-2.6M54.60 336.70h1.4M244.70 336.70h-1.4M54.60 320.60h1.4M244.70 320.60h-1.4M54.60 304.50h1.4M244.70 304.50h-1.4M54.60 288.40h1.4M244.70 288.40h-1.4M54.60 272.30h1.4M244.70 272.30h-1.4M54.60 256.20h1.4M244.70 256.20h-1.4M54.60 240.10h1.4M244.70 240.10h-1.4M54.60 224.00h1.4M244.70 224.00h-1.4M54.60 207.90h1.4M244.70 207.90h-1.4" stroke="#3a3a3a" stroke-width="1" fill="none"/>
<rect x="54.6" y="208.0" width="190.1" height="140.5" stroke="#3a3a3a" stroke-width="1.3" fill="none"/>
<path d="M303.50 349.20v-2.6M303.50 207.40v2.6M351.10 349.20v-2.6M351.10 207.40v2.6M398.70 349.20v-2.6M398.70 207.40v2.6M446.30 349.20v-2.6M446.30 207.40v2.6M493.90 349.20v-2.6M493.90 207.40v2.6M303.50 349.20v-1.4M303.50 207.40v1.4M327.30 349.20v-1.4M327.30 207.40v1.4M351.10 349.20v-1.4M351.10 207.40v1.4M374.90 349.20v-1.4M374.90 207.40v1.4M398.70 349.20v-1.4M398.70 207.40v1.4M422.50 349.20v-1.4M422.50 207.40v1.4M446.30 349.20v-1.4M446.30 207.40v1.4M470.10 349.20v-1.4M470.10 207.40v1.4M493.90 349.20v-1.4M493.90 207.40v1.4M303.50 349.20h2.6M493.90 349.20h-2.6M303.50 313.75h2.6M493.90 313.75h-2.6M303.50 278.30h2.6M493.90 278.30h-2.6M303.50 242.85h2.6M493.90 242.85h-2.6M303.50 207.40h2.6M493.90 207.40h-2.6M303.50 349.20h1.4M493.90 349.20h-1.4M303.50 331.48h1.4M493.90 331.48h-1.4M303.50 313.75h1.4M493.90 313.75h-1.4M303.50 296.02h1.4M493.90 296.02h-1.4M303.50 278.30h1.4M493.90 278.30h-1.4M303.50 260.57h1.4M493.90 260.57h-1.4M303.50 242.85h1.4M493.90 242.85h-1.4M303.50 225.12h1.4M493.90 225.12h-1.4M303.50 207.40h1.4M493.90 207.40h-1.4" stroke="#3a3a3a" stroke-width="1" fill="none"/>
<rect x="303.5" y="207.4" width="190.39999999999998" height="141.79999999999998" stroke="#3a3a3a" stroke-width="1.3" fill="none"/>
<path d="M559.60 349.70v-2.6M559.60 204.60v2.6M606.30 349.70v-2.6M606.30 204.60v2.6M653.00 349.70v-2.6M653.00 204.60v2.6M699.70 349.70v-2.6M699.70 204.60v2.6M746.40 349.70v-2.6M746.40 204.60v2.6M559.60 349.70v-1.4M559.60 204.60v1.4M582.95 349.70v-1.4M582.95 204.60v1.4M606.30 349.70v-1.4M606.30 204.60v1.4M629.65 349.70v-1.4M629.65 204.60v1.4M653.00 349.70v-1.4M653.00 204.60v1.4M676.35 349.70v-1.4M676.35 204.60v1.4M699.70 349.70v-1.4M699.70 204.60v1.4M723.05 349.70v-1.4M723.05 204.60v1.4M746.40 349.70v-1.4M746.40 204.60v1.4M559.60 349.70h2.6M746.40 349.70h-2.6M559.60 328.97h2.6M746.40 328.97h-2.6M559.60 308.24h2.6M746.40 308.24h-2.6M559.60 287.51h2.6M746.40 287.51h-2.6M559.60 266.79h2.6M746.40 266.79h-2.6M559.60 246.06h2.6M746.40 246.06h-2.6M559.60 225.33h2.6M746.40 225.33h-2.6M559.60 204.60h2.6M746.40 204.60h-2.6M559.60 349.70h1.4M746.40 349.70h-1.4M559.60 339.34h1.4M746.40 339.34h-1.4M559.60 328.97h1.4M746.40 328.97h-1.4M559.60 318.61h1.4M746.40 318.61h-1.4M559.60 308.24h1.4M746.40 308.24h-1.4M559.60 297.88h1.4M746.40 297.88h-1.4M559.60 287.51h1.4M746.40 287.51h-1.4M559.60 277.15h1.4M746.40 277.15h-1.4M559.60 266.79h1.4M746.40 266.79h-1.4M559.60 256.42h1.4M746.40 256.42h-1.4M559.60 246.06h1.4M746.40 246.06h-1.4M559.60 235.69h1.4M746.40 235.69h-1.4M559.60 225.33h1.4M746.40 225.33h-1.4M559.60 214.96h1.4M746.40 214.96h-1.4M559.60 204.60h1.4M746.40 204.60h-1.4" stroke="#3a3a3a" stroke-width="1" fill="none"/>
<rect x="559.6" y="204.6" width="186.79999999999995" height="145.1" stroke="#3a3a3a" stroke-width="1.3" fill="none"/>
<text x="50.5" y="19.200000000000003" font-size="12.6" text-anchor="end" fill="#1c1c1c">1000</text>
<text x="50.5" y="49.9" font-size="12.6" text-anchor="end" fill="#1c1c1c">500</text>
<text x="50.5" y="80.60000000000001" font-size="12.6" text-anchor="end" fill="#1c1c1c">0</text>
<text x="50.5" y="111.30000000000001" font-size="12.6" text-anchor="end" fill="#1c1c1c">-500</text>
<text x="50.5" y="142.0" font-size="12.6" text-anchor="end" fill="#1c1c1c">-1000</text>
<text x="299.2" y="139.70000000000002" font-size="12.6" text-anchor="end" fill="#1c1c1c">-200</text>
<text x="299.2" y="111.025" font-size="12.6" text-anchor="end" fill="#1c1c1c">-100</text>
<text x="299.2" y="82.35000000000002" font-size="12.6" text-anchor="end" fill="#1c1c1c">0</text>
<text x="299.2" y="53.675000000000004" font-size="12.6" text-anchor="end" fill="#1c1c1c">100</text>
<text x="299.2" y="25.0" font-size="12.6" text-anchor="end" fill="#1c1c1c">200</text>
<text x="554.4" y="151.6" font-size="12.6" text-anchor="end" fill="#1c1c1c">-400</text>
<text x="554.4" y="116.85000000000001" font-size="12.6" text-anchor="end" fill="#1c1c1c">-200</text>
<text x="554.4" y="82.10000000000001" font-size="12.6" text-anchor="end" fill="#1c1c1c">0</text>
<text x="554.4" y="47.35" font-size="12.6" text-anchor="end" fill="#1c1c1c">200</text>
<text x="554.4" y="12.600000000000001" font-size="12.6" text-anchor="end" fill="#1c1c1c">400</text>
<text x="50.2" y="323.5" font-size="12.6" text-anchor="end" fill="#1c1c1c">780</text>
<text x="50.2" y="291.29999999999995" font-size="12.6" text-anchor="end" fill="#1c1c1c">800</text>
<text x="50.2" y="259.09999999999997" font-size="12.6" text-anchor="end" fill="#1c1c1c">820</text>
<text x="50.2" y="226.9" font-size="12.6" text-anchor="end" fill="#1c1c1c">840</text>
<text x="299.7" y="353.59999999999997" font-size="12.6" text-anchor="end" fill="#1c1c1c">0</text>
<text x="299.7" y="318.15" font-size="12.6" text-anchor="end" fill="#1c1c1c">50</text>
<text x="299.7" y="282.7" font-size="12.6" text-anchor="end" fill="#1c1c1c">100</text>
<text x="299.7" y="247.25" font-size="12.6" text-anchor="end" fill="#1c1c1c">150</text>
<text x="299.7" y="211.8" font-size="12.6" text-anchor="end" fill="#1c1c1c">200</text>
<text x="554.2" y="354.09999999999997" font-size="12.6" text-anchor="end" fill="#1c1c1c">0</text>
<text x="554.2" y="333.3714285714285" font-size="12.6" text-anchor="end" fill="#1c1c1c">50</text>
<text x="554.2" y="312.6428571428571" font-size="12.6" text-anchor="end" fill="#1c1c1c">100</text>
<text x="554.2" y="291.9142857142857" font-size="12.6" text-anchor="end" fill="#1c1c1c">150</text>
<text x="554.2" y="271.18571428571425" font-size="12.6" text-anchor="end" fill="#1c1c1c">200</text>
<text x="554.2" y="250.45714285714286" font-size="12.6" text-anchor="end" fill="#1c1c1c">250</text>
<text x="554.2" y="229.72857142857143" font-size="12.6" text-anchor="end" fill="#1c1c1c">300</text>
<text x="554.2" y="209.0" font-size="12.6" text-anchor="end" fill="#1c1c1c">350</text>
<text x="52.5" y="171.0" font-size="12.6" text-anchor="middle" fill="#1c1c1c">-100</text>
<text x="99.8" y="171.0" font-size="12.6" text-anchor="middle" fill="#1c1c1c">-50</text>
<text x="147.4" y="171.0" font-size="12.6" text-anchor="middle" fill="#1c1c1c">0</text>
<text x="193.8" y="171.0" font-size="12.6" text-anchor="middle" fill="#1c1c1c">50</text>
<text x="240.7" y="171.0" font-size="12.6" text-anchor="middle" fill="#1c1c1c">100</text>
<text x="296.2" y="171.4" font-size="12.6" text-anchor="middle" fill="#1c1c1c">-150</text>
<text x="333.5" y="171.4" font-size="12.6" text-anchor="middle" fill="#1c1c1c">-100</text>
<text x="365.5" y="171.4" font-size="12.6" text-anchor="middle" fill="#1c1c1c">-50</text>
<text x="397.5" y="171.4" font-size="12.6" text-anchor="middle" fill="#1c1c1c">0</text>
<text x="428.4" y="171.4" font-size="12.6" text-anchor="middle" fill="#1c1c1c">50</text>
<text x="459.0" y="171.4" font-size="12.6" text-anchor="middle" fill="#1c1c1c">100</text>
<text x="489.6" y="171.4" font-size="12.6" text-anchor="middle" fill="#1c1c1c">150</text>
<text x="559.7" y="169.5" font-size="12.6" text-anchor="middle" fill="#1c1c1c">-100</text>
<text x="606.6" y="169.5" font-size="12.6" text-anchor="middle" fill="#1c1c1c">-50</text>
<text x="654.3" y="169.5" font-size="12.6" text-anchor="middle" fill="#1c1c1c">0</text>
<text x="701.2" y="169.5" font-size="12.6" text-anchor="middle" fill="#1c1c1c">50</text>
<text x="747.8" y="169.5" font-size="12.6" text-anchor="middle" fill="#1c1c1c">100</text>
<text x="55.8" y="362.6" font-size="12.6" text-anchor="middle" fill="#1c1c1c">0</text>
<text x="101.0" y="362.6" font-size="12.6" text-anchor="middle" fill="#1c1c1c">100</text>
<text x="147.4" y="362.6" font-size="12.6" text-anchor="middle" fill="#1c1c1c">200</text>
<text x="193.7" y="362.6" font-size="12.6" text-anchor="middle" fill="#1c1c1c">300</text>
<text x="240.2" y="362.6" font-size="12.6" text-anchor="middle" fill="#1c1c1c">400</text>
<text x="306.2" y="362.6" font-size="12.6" text-anchor="middle" fill="#1c1c1c">0</text>
<text x="352.0" y="362.6" font-size="12.6" text-anchor="middle" fill="#1c1c1c">100</text>
<text x="398.4" y="362.6" font-size="12.6" text-anchor="middle" fill="#1c1c1c">200</text>
<text x="445.2" y="362.6" font-size="12.6" text-anchor="middle" fill="#1c1c1c">300</text>
<text x="492.2" y="362.6" font-size="12.6" text-anchor="middle" fill="#1c1c1c">400</text>
<text x="561.2" y="362.6" font-size="12.6" text-anchor="middle" fill="#1c1c1c">0</text>
<text x="606.3" y="362.6" font-size="12.6" text-anchor="middle" fill="#1c1c1c">100</text>
<text x="652.7" y="362.6" font-size="12.6" text-anchor="middle" fill="#1c1c1c">200</text>
<text x="699.1" y="362.6" font-size="12.6" text-anchor="middle" fill="#1c1c1c">300</text>
<text x="745.6" y="362.6" font-size="12.6" text-anchor="middle" fill="#1c1c1c">400</text>
<text x="92.6" y="187.4" font-size="12.6" text-anchor="start" textLength="99.1" lengthAdjust="spacingAndGlyphs" fill="#1c1c1c">In-plane field (mT)</text>
<text x="351.0" y="189.0" font-size="12.6" text-anchor="start" textLength="99.5" lengthAdjust="spacingAndGlyphs" fill="#1c1c1c">In-plane field (mT)</text>
<text x="608.1" y="186.3" font-size="12.6" text-anchor="start" textLength="99.9" lengthAdjust="spacingAndGlyphs" fill="#1c1c1c">In-plane field (mT)</text>
<text x="100.3" y="381.3" font-size="12.6" text-anchor="start" textLength="94" lengthAdjust="spacingAndGlyphs" fill="#1c1c1c">Temperature (K)</text>
<text x="356.2" y="381.5" font-size="12.6" text-anchor="start" textLength="93.2" lengthAdjust="spacingAndGlyphs" fill="#1c1c1c">Temperature (K)</text>
<text x="609.1" y="381.3" font-size="12.6" text-anchor="start" textLength="93" lengthAdjust="spacingAndGlyphs" fill="#1c1c1c">Temperature (K)</text>
<text x="13.4" y="124.5" font-size="12.6" text-anchor="start" textLength="76.7" lengthAdjust="spacingAndGlyphs" transform="rotate(-90 13.4 124.5)" fill="#1c1c1c">M (emu/cm³)</text>
<text x="267.3" y="124.6" font-size="12.6" text-anchor="start" textLength="76.2" lengthAdjust="spacingAndGlyphs" transform="rotate(-90 267.3 124.6)" fill="#1c1c1c">M (emu/cm³)</text>
<text x="517.4" y="121.8" font-size="12.6" text-anchor="start" textLength="77.1" lengthAdjust="spacingAndGlyphs" transform="rotate(-90 517.4 121.8)" fill="#1c1c1c">M (emu/cm³)</text>
<text x="14.6" y="326.3" font-size="12.6" text-anchor="start" textLength="82.0" lengthAdjust="spacingAndGlyphs" transform="rotate(-90 14.6 326.3)" fill="#1c1c1c">|M| (emu/cm³)</text>
<text x="269.2" y="327.8" font-size="12.6" text-anchor="start" textLength="80.4" lengthAdjust="spacingAndGlyphs" transform="rotate(-90 269.2 327.8)" fill="#1c1c1c">|M| (emu/cm³)</text>
<text x="519.2" y="327.8" font-size="12.6" text-anchor="start" textLength="80.4" lengthAdjust="spacingAndGlyphs" transform="rotate(-90 519.2 327.8)" fill="#1c1c1c">|M| (emu/cm³)</text>
<text x="1.0" y="11.8" font-size="12.6" text-anchor="start" fill="#1c1c1c">a)</text>
<text x="258.5" y="12.0" font-size="12.6" text-anchor="start" fill="#1c1c1c">b)</text>
<text x="510.6" y="11.4" font-size="12.6" text-anchor="start" fill="#1c1c1c">c)</text>
<text x="1.0" y="209.5" font-size="12.6" text-anchor="start" fill="#1c1c1c">d)</text>
<text x="256.0" y="209.2" font-size="12.6" text-anchor="start" fill="#1c1c1c">e)</text>
<text x="507.4" y="208.4" font-size="12.6" text-anchor="start" fill="#1c1c1c">f)</text>
<text x="62.3" y="25.3" font-size="12.6" text-anchor="start" textLength="26.7" lengthAdjust="spacingAndGlyphs" fill="#1c1c1c">#240</text>
<text x="311.4" y="20.7" font-size="12.6" text-anchor="start" textLength="26.6" lengthAdjust="spacingAndGlyphs" fill="#1c1c1c">#192</text>
<text x="566.6" y="24.6" font-size="12.6" text-anchor="start" textLength="26.3" lengthAdjust="spacingAndGlyphs" fill="#1c1c1c">#186</text>
<text x="65.4" y="222.5" font-size="12.6" text-anchor="start" textLength="26.6" lengthAdjust="spacingAndGlyphs" fill="#1c1c1c">#240</text>
<text x="311.5" y="219.9" font-size="12.6" text-anchor="start" textLength="26.5" lengthAdjust="spacingAndGlyphs" fill="#1c1c1c">#192</text>
<path d="M752 20.60H768.8" stroke="#ff1ad9" stroke-width="1.6"/><path d="M760.4 18.60l2 2l-2 2l-2 -2z" fill="#ff1ad9"/>
<text x="814.6" y="26.4" font-size="12.6" text-anchor="end" textLength="17.4" lengthAdjust="spacingAndGlyphs" fill="#1c1c1c">5 K</text>
<path d="M752 37.80H768.8" stroke="#ff6a2a" stroke-width="1.6"/><path d="M760.4 35.80l2 2l-2 2l-2 -2z" fill="#ff6a2a"/>
<text x="814.6" y="43.5" font-size="12.6" text-anchor="end" textLength="23.84" lengthAdjust="spacingAndGlyphs" fill="#1c1c1c">50 K</text>
<path d="M752 55.00H768.8" stroke="#f2a52a" stroke-width="1.6"/><path d="M760.4 53.00l2 2l-2 2l-2 -2z" fill="#f2a52a"/>
<text x="814.6" y="60.6" font-size="12.6" text-anchor="end" textLength="30.29" lengthAdjust="spacingAndGlyphs" fill="#1c1c1c">100 K</text>
<path d="M752 72.20H768.8" stroke="#8cf53a" stroke-width="1.6"/><path d="M760.4 70.20l2 2l-2 2l-2 -2z" fill="#8cf53a"/>
<text x="814.6" y="77.7" font-size="12.6" text-anchor="end" textLength="30.29" lengthAdjust="spacingAndGlyphs" fill="#1c1c1c">150 K</text>
<path d="M752 89.40H768.8" stroke="#33ee66" stroke-width="1.6"/><path d="M760.4 87.40l2 2l-2 2l-2 -2z" fill="#33ee66"/>
<text x="814.6" y="94.8" font-size="12.6" text-anchor="end" textLength="30.29" lengthAdjust="spacingAndGlyphs" fill="#1c1c1c">200 K</text>
<path d="M752 106.60H768.8" stroke="#3ec2f5" stroke-width="1.6"/><path d="M760.4 104.60l2 2l-2 2l-2 -2z" fill="#3ec2f5"/>
<text x="814.6" y="111.9" font-size="12.6" text-anchor="end" textLength="30.29" lengthAdjust="spacingAndGlyphs" fill="#1c1c1c">250 K</text>
<path d="M752 123.80H768.8" stroke="#2a5fe6" stroke-width="1.6"/><path d="M760.4 121.80l2 2l-2 2l-2 -2z" fill="#2a5fe6"/>
<text x="814.6" y="129.0" font-size="12.6" text-anchor="end" textLength="30.29" lengthAdjust="spacingAndGlyphs" fill="#1c1c1c">300 K</text>
<path d="M752 141.00H768.8" stroke="#7a3af0" stroke-width="1.6"/><path d="M760.4 139.00l2 2l-2 2l-2 -2z" fill="#7a3af0"/>
<text x="814.6" y="146.1" font-size="12.6" text-anchor="end" textLength="30.29" lengthAdjust="spacingAndGlyphs" fill="#1c1c1c">400 K</text>
<path d="M752 185.40H768.6" stroke="#ff1ad9" stroke-width="1.6"/><path d="M760.3 183.40l2 2l-2 2l-2 -2z" fill="#ff1ad9"/>
<text x="811.9" y="191.1" font-size="12.6" text-anchor="end" textLength="33.74" lengthAdjust="spacingAndGlyphs" fill="#1c1c1c">90 mT</text>
<path d="M752 204.85H768.6" stroke="#ff6a2a" stroke-width="1.6"/><path d="M760.3 202.85l2 2l-2 2l-2 -2z" fill="#ff6a2a"/>
<text x="811.9" y="210.2" font-size="12.6" text-anchor="end" textLength="33.74" lengthAdjust="spacingAndGlyphs" fill="#1c1c1c">50 mT</text>
<path d="M752 224.30H768.6" stroke="#d8e81e" stroke-width="1.6"/><path d="M760.3 222.30l2 2l-2 2l-2 -2z" fill="#d8e81e"/>
<text x="811.9" y="229.3" font-size="12.6" text-anchor="end" textLength="33.74" lengthAdjust="spacingAndGlyphs" fill="#1c1c1c">30 mT</text>
<path d="M752 243.75H768.6" stroke="#8cf53a" stroke-width="1.6"/><path d="M760.3 241.75l2 2l-2 2l-2 -2z" fill="#8cf53a"/>
<text x="811.9" y="248.4" font-size="12.6" text-anchor="end" textLength="27.12" lengthAdjust="spacingAndGlyphs" fill="#1c1c1c">5 mT</text>
<path d="M752 263.20H768.6" stroke="#33ee66" stroke-width="1.6"/><path d="M760.3 261.20l2 2l-2 2l-2 -2z" fill="#33ee66"/>
<text x="811.9" y="267.5" font-size="12.6" text-anchor="end" textLength="27.12" lengthAdjust="spacingAndGlyphs" fill="#1c1c1c">0 mT</text>
<path d="M752 282.65H768.6" stroke="#3ee8b0" stroke-width="1.6"/><path d="M760.3 280.65l2 2l-2 2l-2 -2z" fill="#3ee8b0"/>
<text x="811.9" y="286.6" font-size="12.6" text-anchor="end" textLength="37.71" lengthAdjust="spacingAndGlyphs" fill="#1c1c1c">-10 mT</text>
<path d="M752 302.10H768.6" stroke="#3ec2f5" stroke-width="1.6"/><path d="M760.3 300.10l2 2l-2 2l-2 -2z" fill="#3ec2f5"/>
<text x="811.9" y="305.7" font-size="12.6" text-anchor="end" textLength="37.71" lengthAdjust="spacingAndGlyphs" fill="#1c1c1c">-30 mT</text>
<path d="M752 321.55H768.6" stroke="#2a5fe6" stroke-width="1.6"/><path d="M760.3 319.55l2 2l-2 2l-2 -2z" fill="#2a5fe6"/>
<text x="811.9" y="324.8" font-size="12.6" text-anchor="end" textLength="37.71" lengthAdjust="spacingAndGlyphs" fill="#1c1c1c">-50 mT</text>
<path d="M752 341.00H768.6" stroke="#7a3af0" stroke-width="1.6"/><path d="M760.3 339.00l2 2l-2 2l-2 -2z" fill="#7a3af0"/>
<text x="811.9" y="343.9" font-size="12.6" text-anchor="end" textLength="37.71" lengthAdjust="spacingAndGlyphs" fill="#1c1c1c">-90 mT</text>
<text x="706.9" y="219.6" font-size="12.6" text-anchor="start" textLength="27.4" lengthAdjust="spacingAndGlyphs" fill="#1c1c1c">#186</text>
</svg></body></html>
